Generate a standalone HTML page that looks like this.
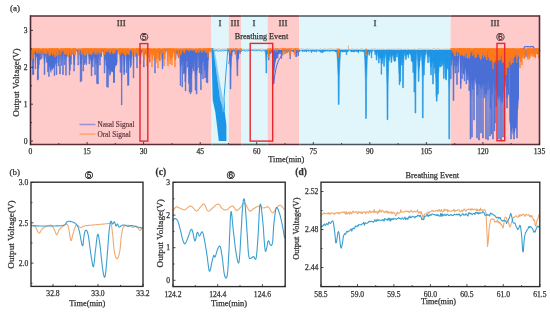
<!DOCTYPE html>
<html><head><meta charset="utf-8"><style>
html,body{margin:0;padding:0;background:#fff;}
svg{display:block;}
text{font-family:"Liberation Serif","Noto Serif CJK SC",serif;fill:#333;stroke:#333;stroke-width:0.25px;}
text.cj.cja{fill:#3a2226;stroke:#3a2226;stroke-width:0.2px;}
text.lg{fill:#5a3338;stroke:#5a3338;stroke-width:0.15px;}
text.cj{font-family:"WenQuanYi Zen Hei","Noto Sans CJK JP",sans-serif;fill:#222;stroke:#222;stroke-width:0.3px;}
</style></head><body>
<svg width="550" height="313" viewBox="0 0 550 313">
<rect x="30.5" y="16.0" width="181.0" height="128.5" fill="#fecaca"/>
<rect x="211.5" y="16.0" width="17.3" height="128.5" fill="#e0f6fb"/>
<rect x="228.8" y="16.0" width="12.4" height="128.5" fill="#fecaca"/>
<rect x="241.2" y="16.0" width="26.4" height="128.5" fill="#e0f6fb"/>
<rect x="267.6" y="16.0" width="31.7" height="128.5" fill="#fecaca"/>
<rect x="299.3" y="16.0" width="151.3" height="128.5" fill="#e0f6fb"/>
<rect x="450.6" y="16.0" width="88.9" height="128.5" fill="#fecaca"/>
<polyline points="30.5,50.8 31.3,50.8 32.1,50.4 32.9,50.9 33.7,50.5 34.5,51.1 35.3,51.0 36.1,50.8 36.9,50.9 37.7,50.6 38.5,50.8 39.3,50.2 40.1,51.1 40.9,50.9 41.7,50.2 42.5,50.3 43.3,50.7 44.1,50.9 44.9,50.2 45.7,51.1 46.5,50.4 47.3,51.1 48.1,50.9 48.9,50.6 49.7,50.5 50.5,50.2 51.3,50.2 52.1,50.7 52.9,50.9 53.7,51.0 54.5,50.5 55.3,51.0 56.1,50.4 56.9,51.0 57.7,51.0 58.5,50.3 59.3,51.0 60.1,50.8 60.9,50.8 61.7,50.9 62.5,50.6 63.3,50.6 64.1,50.5 64.9,51.0 65.7,51.0 66.5,50.3 67.3,50.9 68.1,50.4 68.9,50.3 69.7,50.3 70.5,50.7 71.3,50.4 72.1,50.3 72.9,50.2 73.7,50.4 74.5,50.9 75.3,50.1 76.1,50.6 76.9,50.7 77.7,50.1 78.5,50.4 79.3,51.0 80.1,51.1 80.9,51.0 81.7,50.3 82.5,50.9 83.3,50.6 84.1,50.3 84.9,50.6 85.7,51.0 86.5,51.0 87.3,50.5 88.1,50.2 88.9,51.0 89.7,51.1 90.5,50.6 91.3,50.3 92.1,50.6 92.9,50.8 93.7,50.6 94.5,50.5 95.3,50.3 96.1,50.4 96.9,50.1 97.7,50.4 98.5,51.1 99.3,50.1 100.1,50.8 100.9,50.9 101.7,50.5 102.5,50.7 103.3,50.3 104.1,50.8 104.9,50.8 105.7,50.8 106.5,50.6 107.3,51.1 108.1,51.0 108.9,50.7 109.7,50.8 110.5,50.4 111.3,51.0 112.1,50.7 112.9,51.0 113.7,50.4 114.5,51.1 115.3,50.2 116.1,50.6 116.9,50.2 117.7,50.3 118.5,50.9 119.3,50.2 120.1,50.5 120.9,50.3 121.7,51.0 122.5,50.2 123.3,50.4 124.1,51.0 124.9,50.8 125.7,50.8 126.5,51.1 127.3,50.1 128.1,50.8 128.9,50.8 129.7,50.8 130.5,50.8 131.3,50.2 132.1,50.2 132.9,50.9 133.7,50.7 134.5,50.4 135.3,50.1 136.1,50.6 136.9,50.2 137.7,50.8 138.5,50.4 139.3,50.9 140.1,50.2 140.9,50.6 141.7,50.2 142.5,50.9 143.3,50.7 144.1,50.3 144.9,51.1 145.7,50.8 146.5,50.4 147.3,51.0 148.1,50.5 148.9,51.0 149.7,50.4 150.5,51.1 151.3,50.2 152.1,50.8 152.9,50.4 153.7,50.5 154.5,50.7 155.3,50.1 156.1,50.3 156.9,50.2 157.7,50.8 158.5,50.3 159.3,50.6 160.1,50.4 160.9,50.3 161.7,51.0 162.5,50.6 163.3,50.8 164.1,50.8 164.9,50.9 165.7,50.4 166.5,50.2 167.3,50.6 168.1,50.3 168.9,50.1 169.7,51.0 170.5,50.7 171.3,50.5 172.1,50.2 172.9,50.9 173.7,50.6 174.5,50.3 175.3,51.1 176.1,51.1 176.9,51.0 177.7,50.9 178.5,50.6 179.3,50.4 180.1,50.8 180.9,50.3 181.7,50.7 182.5,50.2 183.3,50.1 184.1,50.8 184.9,50.4 185.7,50.8 186.5,50.9 187.3,50.9 188.1,50.7 188.9,50.9 189.7,50.8 190.5,51.0 191.3,51.0 192.1,50.1 192.9,50.4 193.7,50.5 194.5,50.4 195.3,50.3 196.1,51.0 196.9,50.1 197.7,50.3 198.5,50.9 199.3,50.3 200.1,50.4 200.9,51.1 201.7,50.9 202.5,50.5 203.3,50.2 204.1,50.4 204.9,51.1 205.7,50.9 206.5,50.2 207.3,50.8 208.1,50.5 208.9,50.8 209.7,50.4 210.5,50.2 211.3,50.1 212.1,50.4" fill="none" stroke="#4a6fd6" stroke-width="1.2"/>
<polyline points="211.3,50.1 212.1,50.4 212.9,51.0 213.7,51.0 214.5,50.8 215.3,50.8 216.1,50.3 216.9,50.5 217.7,51.0 218.5,51.1 219.3,50.5 220.1,50.9 220.9,51.0 221.7,51.1 222.5,50.4 223.3,50.8 224.1,50.5 224.9,50.6 225.7,50.6 226.5,50.4 227.3,50.1 228.1,50.9 228.9,50.8" fill="none" stroke="#1e96e6" stroke-width="1.0"/>
<polyline points="228.1,50.9 228.9,50.8 229.7,50.9 230.5,50.3 231.3,50.3 232.1,50.7 232.9,51.0 233.7,50.6 234.5,50.3 235.3,50.7 236.1,51.1 236.9,51.0 237.7,51.0 238.5,50.5 239.3,50.4 240.1,51.0 240.9,50.9 241.7,51.0" fill="none" stroke="#4a6fd6" stroke-width="1.2"/>
<polyline points="240.9,50.9 241.7,51.0 242.5,50.5 243.3,50.4 244.1,50.3 244.9,51.0 245.7,51.0 246.5,50.5 247.3,51.0 248.1,50.5 248.9,50.5 249.7,50.7 250.5,50.3 251.3,50.4 252.1,50.4 252.9,50.4 253.7,50.6 254.5,50.2 255.3,50.9 256.1,50.3 256.9,50.5 257.7,50.7 258.5,50.2 259.3,50.5 260.1,50.7 260.9,50.7 261.7,51.0 262.5,50.9 263.3,50.2 264.1,50.9 264.9,50.6 265.7,50.8 266.5,50.3 267.3,50.6 268.1,50.8" fill="none" stroke="#1e96e6" stroke-width="1.0"/>
<polyline points="267.3,50.6 268.1,50.8 268.9,50.9 269.7,50.9 270.5,50.3 271.3,50.9 272.1,50.7 272.9,50.8 273.7,51.0 274.5,50.5 275.3,51.0 276.1,51.0 276.9,50.9 277.7,50.5 278.5,50.6 279.3,50.3 280.1,50.9 280.9,51.0 281.7,50.3 282.5,50.8 283.3,50.8 284.1,50.1 284.9,51.0 285.7,50.6 286.5,50.4 287.3,50.1 288.1,50.9 288.9,50.4 289.7,50.6 290.5,50.3 291.3,50.7 292.1,50.5 292.9,50.9 293.7,50.8 294.5,50.8 295.3,50.4 296.1,50.2 296.9,51.0 297.7,51.0 298.5,50.7 299.3,51.0" fill="none" stroke="#4a6fd6" stroke-width="1.2"/>
<polyline points="298.5,50.7 299.3,51.0 300.1,50.8 300.9,50.7 301.7,50.5 302.5,50.5 303.3,50.6 304.1,50.3 304.9,50.5 305.7,50.6 306.5,50.1 307.3,50.5 308.1,50.4 308.9,50.7 309.7,50.9 310.5,50.7 311.3,50.8 312.1,50.7 312.9,50.4 313.7,50.5 314.5,50.9 315.3,51.0 316.1,50.3 316.9,50.1 317.7,51.1 318.5,51.0 319.3,50.7 320.1,50.9 320.9,50.7 321.7,51.0 322.5,50.3 323.3,50.5 324.1,50.8 324.9,50.3 325.7,50.8 326.5,50.4 327.3,50.8 328.1,50.9 328.9,50.5 329.7,51.1 330.5,50.7 331.3,50.9 332.1,50.1 332.9,50.2 333.7,50.8 334.5,51.0 335.3,50.7 336.1,51.0 336.9,50.2 337.7,51.0 338.5,51.0 339.3,50.7 340.1,50.5 340.9,50.8 341.7,50.3 342.5,50.8 343.3,50.8 344.1,50.6 344.9,50.4 345.7,50.1 346.5,50.3 347.3,50.9 348.1,50.3 348.9,50.2 349.7,50.3 350.5,50.6 351.3,50.7 352.1,51.0 352.9,51.0 353.7,51.1 354.5,51.0 355.3,50.6 356.1,50.2 356.9,51.1 357.7,50.3 358.5,50.7 359.3,50.4 360.1,50.9 360.9,50.3 361.7,50.5 362.5,50.3 363.3,51.0 364.1,50.7 364.9,50.7 365.7,50.4 366.5,50.3 367.3,51.0 368.1,50.9 368.9,50.8 369.7,51.1 370.5,50.7 371.3,50.3 372.1,50.7 372.9,50.4 373.7,50.6 374.5,50.6 375.3,50.7 376.1,51.0 376.9,50.9 377.7,50.5 378.5,50.9 379.3,51.0 380.1,50.9 380.9,50.7 381.7,51.0 382.5,50.6 383.3,50.2 384.1,50.4 384.9,50.8 385.7,50.5 386.5,50.5 387.3,50.5 388.1,50.3 388.9,50.2 389.7,50.1 390.5,50.8 391.3,50.4 392.1,50.6 392.9,51.0 393.7,50.7 394.5,50.9 395.3,50.9 396.1,51.1 396.9,50.2 397.7,50.5 398.5,51.0 399.3,50.6 400.1,51.0 400.9,50.3 401.7,50.2 402.5,51.0 403.3,50.5 404.1,50.6 404.9,51.0 405.7,50.3 406.5,51.1 407.3,50.5 408.1,50.3 408.9,50.3 409.7,50.6 410.5,50.6 411.3,51.0 412.1,50.2 412.9,50.1 413.7,50.3 414.5,50.7 415.3,50.9 416.1,50.6 416.9,50.7 417.7,50.7 418.5,50.1 419.3,50.3 420.1,51.1 420.9,50.4 421.7,51.0 422.5,50.6 423.3,50.3 424.1,50.1 424.9,50.3 425.7,50.4 426.5,50.5 427.3,50.5 428.1,50.6 428.9,50.6 429.7,50.1 430.5,50.4 431.3,51.1 432.1,50.1 432.9,50.8 433.7,50.6 434.5,50.8 435.3,50.4 436.1,50.5 436.9,50.6 437.7,51.0 438.5,50.4 439.3,50.2 440.1,50.1 440.9,51.0 441.7,50.4 442.5,50.2 443.3,50.7 444.1,50.9 444.9,50.7 445.7,50.3 446.5,50.5 447.3,50.4 448.1,50.1 448.9,51.1 449.7,50.6 450.5,50.2 451.3,51.0" fill="none" stroke="#1e96e6" stroke-width="1.0"/>
<polyline points="450.5,50.2 451.3,51.0 452.1,51.1 452.9,50.9 453.7,50.4 454.5,50.3 455.3,50.6 456.1,50.7 456.9,51.0 457.7,51.1 458.5,51.0 459.3,50.4 460.1,50.7 460.9,50.2 461.7,50.6 462.5,50.2 463.3,50.2 464.1,50.2 464.9,50.4 465.7,50.4 466.5,50.8 467.3,50.2 468.1,50.2 468.9,50.8 469.7,50.8 470.5,50.8 471.3,50.8 472.1,50.8 472.9,50.7 473.7,50.8 474.5,50.2 475.3,50.3 476.1,50.8 476.9,50.3 477.7,50.6 478.5,50.4 479.3,50.5 480.1,50.9 480.9,50.8 481.7,50.5 482.5,50.4 483.3,50.9 484.1,50.8 484.9,50.5 485.7,51.0 486.5,50.8 487.3,51.1 488.1,50.8 488.9,51.0 489.7,50.7 490.5,50.8 491.3,50.9 492.1,50.2 492.9,50.6 493.7,50.7 494.5,50.2 495.3,50.9 496.1,50.8 496.9,51.0 497.7,50.5 498.5,50.6 499.3,51.0 500.1,50.5 500.9,50.9 501.7,50.5 502.5,50.4 503.3,50.4 504.1,50.3 504.9,50.5 505.7,50.3 506.5,50.9 507.3,51.1 508.1,50.2 508.9,50.2 509.7,50.1 510.5,51.0 511.3,50.2 512.1,50.8 512.9,50.4 513.7,50.3 514.5,50.3 515.3,50.8 516.1,50.1 516.9,51.0 517.7,50.7 518.5,50.3 519.3,50.3 520.1,50.8 520.9,50.7 521.7,50.4 522.5,50.4 523.3,50.6 524.1,51.0 524.9,50.6 525.7,50.9 526.5,50.7 527.3,50.7 528.1,50.6 528.9,50.8 529.7,50.6 530.5,50.8 531.3,50.3 532.1,50.4 532.9,51.0 533.7,50.5 534.5,50.9 535.3,51.0 536.1,50.7 536.9,50.2 537.7,50.9 538.5,50.8 539.3,50.4" fill="none" stroke="#4a6fd6" stroke-width="1.2"/>
<polygon points="47.5,51.0 47.5,64.2 48.0,61.1 48.4,63.2 49.0,68.6 49.3,65.0 49.9,69.3 50.5,72.1 51.2,73.2 51.9,67.7 52.3,71.3 53.1,68.3 53.6,68.6 54.1,66.5 54.6,65.1 54.9,66.0 55.4,65.5 55.5,64.0 55.5,51.0" fill="#4a6fd6"/>
<polygon points="105.5,51.0 105.5,64.7 106.0,65.8 106.5,66.0 107.2,66.7 107.7,69.8 108.0,70.2 108.4,68.4 109.0,73.1 109.8,69.0 110.2,70.7 110.7,70.0 111.4,72.1 112.0,71.7 112.6,71.9 113.3,73.2 114.1,72.5 114.5,69.9 115.1,68.3 115.8,64.9 116.2,65.7 116.5,64.8 116.9,66.1 117.4,61.7 117.5,62.0 117.5,51.0" fill="#4a6fd6"/>
<polygon points="463.0,51.0 463.0,60.7 463.3,57.9 463.9,60.1 464.4,66.9 464.9,64.8 465.5,71.5 465.8,68.5 466.3,77.1 466.6,71.3 467.0,76.3 467.7,70.1 468.4,79.2 468.8,82.6 469.3,82.0 469.6,78.7 470.2,84.8 470.9,80.8 471.2,79.6 471.7,86.5 472.3,79.6 472.8,84.1 473.2,84.9 473.8,80.5 474.5,80.3 474.8,80.6 475.2,76.8 475.7,85.8 476.1,82.1 476.9,86.5 477.6,85.2 478.2,84.5 478.8,83.5 479.3,81.1 479.6,82.8 480.3,85.5 480.7,88.9 481.0,90.5 481.6,86.4 482.1,89.8 482.4,79.9 483.0,82.9 483.5,85.4 483.8,90.6 484.5,79.5 485.1,84.3 485.8,86.3 486.6,78.4 487.4,82.1 487.8,80.6 488.3,86.6 488.8,76.4 489.5,81.2 490.2,75.5 490.9,85.3 491.2,80.1 491.6,80.6 491.9,84.7 492.3,82.6 492.9,79.7 493.3,87.7 493.7,80.4 494.1,85.3 494.6,80.6 495.2,89.1 495.9,87.6 496.0,88.0 496.0,51.0" fill="#4a6fd6"/>
<polygon points="496.5,51.0 496.5,84.1 497.1,93.2 497.6,98.6 498.0,98.0 498.6,100.9 499.4,95.2 500.2,98.6 500.8,104.1 501.4,98.7 501.7,98.4 502.2,95.2 502.7,101.4 503.3,97.5 503.7,91.8 504.4,88.4 505.0,92.0 505.0,51.0" fill="#4a6fd6"/>
<polygon points="505.0,51.0 505.0,79.3 505.5,83.1 506.0,85.8 506.5,91.2 507.0,88.5 507.5,89.6 508.0,95.4 508.7,94.0 509.2,102.5 509.3,100.0 509.3,51.0" fill="#4a6fd6"/>
<polygon points="509.3,51.0 509.3,125.4 510.0,119.9 510.5,128.9 511.0,130.1 511.8,133.0 512.4,135.3 512.9,126.7 513.3,132.3 514.1,132.0 514.6,135.7 515.1,127.8 515.6,128.6 516.0,132.1 516.6,128.4 517.0,124.1 517.7,110.6 518.2,108.9 518.7,99.1 519.0,100.0 519.0,51.0" fill="#4a6fd6"/>
<polygon points="31.9,50.5 32.1,58.3 32.4,64.2 32.6,69.6 32.5,74.6 33.2,74.6 33.1,69.6 33.3,64.2 33.6,58.3 33.8,50.5" fill="#4a6fd6" stroke="#4a6fd6" stroke-width="0.6"/>
<polygon points="33.0,50.5 33.2,55.6 33.3,61.5 33.4,67.8 33.2,74.3 33.9,74.3 33.7,67.8 33.8,61.5 33.9,55.6 34.1,50.5" fill="#4a6fd6" stroke="#4a6fd6" stroke-width="0.6"/>
<polygon points="34.8,50.5 35.0,56.2 35.1,60.6 35.3,64.8 35.1,68.7 35.8,68.7 35.6,64.8 35.8,60.6 36.0,56.2 36.1,50.5" fill="#4a6fd6" stroke="#4a6fd6" stroke-width="0.6"/>
<polygon points="37.7,50.5 37.9,55.1 38.1,59.6 38.3,64.0 38.1,68.4 38.8,68.4 38.7,64.0 38.9,59.6 39.1,55.1 39.3,50.5" fill="#4a6fd6" stroke="#4a6fd6" stroke-width="0.6"/>
<polygon points="48.3,50.5 48.5,59.3 48.6,65.6 48.8,71.2 48.6,76.5 49.3,76.5 49.1,71.2 49.3,65.6 49.4,59.3 49.6,50.5" fill="#4a6fd6" stroke="#4a6fd6" stroke-width="0.6"/>
<polygon points="51.4,50.5 51.5,53.8 51.6,56.9 51.8,59.9 51.5,62.9 52.2,62.9 52.0,59.9 52.2,56.9 52.3,53.8 52.4,50.5" fill="#4a6fd6" stroke="#4a6fd6" stroke-width="0.6"/>
<polygon points="53.6,50.5 53.8,57.2 54.0,63.4 54.2,69.6 54.1,75.6 54.8,75.6 54.7,69.6 54.9,63.4 55.1,57.2 55.3,50.5" fill="#4a6fd6" stroke="#4a6fd6" stroke-width="0.6"/>
<polygon points="57.9,50.5 58.0,55.6 58.2,59.4 58.3,62.8 58.1,66.0 58.8,66.0 58.5,62.8 58.7,59.4 58.8,55.6 58.9,50.5" fill="#4a6fd6" stroke="#4a6fd6" stroke-width="0.6"/>
<polygon points="61.1,50.5 61.2,56.1 61.4,59.6 61.6,62.6 61.4,65.3 62.1,65.3 62.0,62.6 62.1,59.6 62.3,56.1 62.5,50.5" fill="#4a6fd6" stroke="#4a6fd6" stroke-width="0.6"/>
<polygon points="64.1,50.5 64.3,53.4 64.5,56.9 64.6,60.7 64.4,64.7 65.1,64.7 65.0,60.7 65.1,56.9 65.3,53.4 65.5,50.5" fill="#4a6fd6" stroke="#4a6fd6" stroke-width="0.6"/>
<polygon points="68.6,50.5 68.8,56.0 69.0,62.1 69.3,68.3 69.1,74.8 69.8,74.8 69.7,68.3 69.9,62.1 70.1,56.0 70.4,50.5" fill="#4a6fd6" stroke="#4a6fd6" stroke-width="0.6"/>
<polygon points="69.2,50.5 69.4,54.6 69.6,59.5 69.8,64.8 69.6,70.3 70.3,70.3 70.2,64.8 70.4,59.5 70.6,54.6 70.8,50.5" fill="#4a6fd6" stroke="#4a6fd6" stroke-width="0.6"/>
<polygon points="73.5,50.5 73.6,56.5 73.8,61.6 73.9,66.5 73.7,71.1 74.4,71.1 74.2,66.5 74.3,61.6 74.4,56.5 74.6,50.5" fill="#4a6fd6" stroke="#4a6fd6" stroke-width="0.6"/>
<polygon points="73.3,50.5 73.5,54.6 73.8,58.1 74.0,61.4 73.9,64.6 74.6,64.6 74.5,61.4 74.8,58.1 75.0,54.6 75.3,50.5" fill="#4a6fd6" stroke="#4a6fd6" stroke-width="0.6"/>
<polygon points="82.4,50.5 82.6,55.5 82.8,60.6 83.0,65.8 82.9,71.0 83.6,71.0 83.5,65.8 83.7,60.6 83.9,55.5 84.1,50.5" fill="#4a6fd6" stroke="#4a6fd6" stroke-width="0.6"/>
<polygon points="85.6,50.5 85.8,55.0 86.0,58.5 86.2,61.7 86.0,64.6 86.7,64.6 86.6,61.7 86.8,58.5 87.0,55.0 87.1,50.5" fill="#4a6fd6" stroke="#4a6fd6" stroke-width="0.6"/>
<polygon points="88.2,50.5 88.5,54.9 88.8,58.1 89.0,61.1 88.9,63.8 89.6,63.8 89.6,61.1 89.8,58.1 90.1,54.9 90.4,50.5" fill="#4a6fd6" stroke="#4a6fd6" stroke-width="0.6"/>
<polygon points="91.8,50.5 92.1,54.4 92.3,58.5 92.6,62.6 92.5,66.8 93.2,66.8 93.1,62.6 93.4,58.5 93.6,54.4 93.9,50.5" fill="#4a6fd6" stroke="#4a6fd6" stroke-width="0.6"/>
<polygon points="93.9,50.5 94.2,55.4 94.5,61.4 94.7,67.9 94.7,74.7 95.4,74.7 95.3,67.9 95.5,61.4 95.8,55.4 96.1,50.5" fill="#4a6fd6" stroke="#4a6fd6" stroke-width="0.6"/>
<polygon points="96.9,50.5 97.1,53.3 97.2,56.8 97.4,60.5 97.2,64.5 97.9,64.5 97.7,60.5 97.8,56.8 98.0,53.3 98.1,50.5" fill="#4a6fd6" stroke="#4a6fd6" stroke-width="0.6"/>
<polygon points="98.9,50.5 99.2,54.0 99.4,57.7 99.7,61.4 99.6,65.1 100.3,65.1 100.2,61.4 100.5,57.7 100.7,54.0 101.0,50.5" fill="#4a6fd6" stroke="#4a6fd6" stroke-width="0.6"/>
<polygon points="109.0,50.5 109.2,56.1 109.4,60.4 109.6,64.3 109.4,67.9 110.1,67.9 110.0,64.3 110.2,60.4 110.3,56.1 110.5,50.5" fill="#4a6fd6" stroke="#4a6fd6" stroke-width="0.6"/>
<polygon points="109.1,50.5 109.3,56.9 109.5,63.1 109.6,69.2 109.5,75.2 110.2,75.2 110.0,69.2 110.2,63.1 110.4,56.9 110.6,50.5" fill="#4a6fd6" stroke="#4a6fd6" stroke-width="0.6"/>
<polygon points="109.8,50.5 109.9,57.2 110.1,62.9 110.2,68.2 110.0,73.4 110.7,73.4 110.5,68.2 110.6,62.9 110.7,57.2 110.8,50.5" fill="#4a6fd6" stroke="#4a6fd6" stroke-width="0.6"/>
<polygon points="109.6,50.5 109.8,53.8 110.1,57.2 110.4,60.7 110.3,64.2 111.0,64.2 110.9,60.7 111.2,57.2 111.5,53.8 111.7,50.5" fill="#4a6fd6" stroke="#4a6fd6" stroke-width="0.6"/>
<polygon points="111.9,50.5 112.1,56.3 112.4,61.2 112.6,65.7 112.6,70.1 113.3,70.1 113.2,65.7 113.4,61.2 113.7,56.3 113.9,50.5" fill="#4a6fd6" stroke="#4a6fd6" stroke-width="0.6"/>
<polygon points="119.6,50.5 119.8,56.3 120.0,61.7 120.2,67.0 120.0,72.3 120.7,72.3 120.5,67.0 120.7,61.7 120.9,56.3 121.1,50.5" fill="#4a6fd6" stroke="#4a6fd6" stroke-width="0.6"/>
<polygon points="123.6,50.5 123.7,55.3 123.9,61.2 124.0,67.6 123.8,74.5 124.5,74.5 124.3,67.6 124.5,61.2 124.6,55.3 124.8,50.5" fill="#4a6fd6" stroke="#4a6fd6" stroke-width="0.6"/>
<polygon points="123.2,50.5 123.4,58.0 123.7,63.3 123.9,68.0 123.8,72.3 124.5,72.3 124.4,68.0 124.7,63.3 124.9,58.0 125.2,50.5" fill="#4a6fd6" stroke="#4a6fd6" stroke-width="0.6"/>
<polygon points="125.9,50.5 126.1,55.9 126.2,61.4 126.3,67.0 126.1,72.6 126.8,72.6 126.6,67.0 126.7,61.4 126.8,55.9 127.0,50.5" fill="#4a6fd6" stroke="#4a6fd6" stroke-width="0.6"/>
<polygon points="129.5,50.5 129.7,56.0 130.0,60.2 130.2,64.0 130.1,67.5 130.8,67.5 130.7,64.0 130.9,60.2 131.1,56.0 131.4,50.5" fill="#4a6fd6" stroke="#4a6fd6" stroke-width="0.6"/>
<polygon points="130.5,50.5 130.6,54.9 130.8,58.6 130.9,62.1 130.7,65.3 131.4,65.3 131.2,62.1 131.4,58.6 131.5,54.9 131.7,50.5" fill="#4a6fd6" stroke="#4a6fd6" stroke-width="0.6"/>
<polygon points="139.7,50.5 139.9,54.6 140.0,57.8 140.2,60.8 140.0,63.6 140.7,63.6 140.6,60.8 140.7,57.8 140.9,54.6 141.1,50.5" fill="#4a6fd6" stroke="#4a6fd6" stroke-width="0.6"/>
<polygon points="148.8,50.5 149.0,53.1 149.2,55.9 149.4,58.9 149.2,61.9 149.9,61.9 149.7,58.9 149.9,55.9 150.1,53.1 150.3,50.5" fill="#4a6fd6" stroke="#4a6fd6" stroke-width="0.6"/>
<polygon points="158.9,50.5 159.1,52.9 159.3,55.3 159.5,57.8 159.3,60.2 160.0,60.2 159.8,57.8 160.0,55.3 160.2,52.9 160.4,50.5" fill="#4a6fd6" stroke="#4a6fd6" stroke-width="0.6"/>
<polygon points="170.1,50.5 170.4,52.8 170.6,54.7 170.8,56.4 170.7,57.9 171.4,57.9 171.3,56.4 171.5,54.7 171.8,52.8 172.0,50.5" fill="#4a6fd6" stroke="#4a6fd6" stroke-width="0.6"/>
<polygon points="174.7,50.5 174.9,52.8 175.1,54.8 175.4,56.8 175.3,58.7 176.0,58.7 175.9,56.8 176.1,54.8 176.4,52.8 176.6,50.5" fill="#4a6fd6" stroke="#4a6fd6" stroke-width="0.6"/>
<polygon points="181.3,50.5 181.5,57.5 181.8,66.5 182.0,76.4 181.9,87.0 182.6,87.0 182.5,76.4 182.7,66.5 183.0,57.5 183.2,50.5" fill="#4a6fd6" stroke="#4a6fd6" stroke-width="0.6"/>
<polygon points="184.6,50.5 184.8,61.9 185.0,69.3 185.1,75.7 184.9,81.6 185.6,81.6 185.4,75.7 185.6,69.3 185.8,61.9 185.9,50.5" fill="#4a6fd6" stroke="#4a6fd6" stroke-width="0.6"/>
<polygon points="184.5,50.5 184.8,64.7 185.0,74.4 185.3,83.0 185.2,90.9 185.9,90.9 185.8,83.0 186.1,74.4 186.4,64.7 186.7,50.5" fill="#4a6fd6" stroke="#4a6fd6" stroke-width="0.6"/>
<polygon points="188.0,50.5 188.2,58.4 188.4,66.6 188.6,74.9 188.5,83.3 189.2,83.3 189.1,74.9 189.3,66.6 189.6,58.4 189.8,50.5" fill="#4a6fd6" stroke="#4a6fd6" stroke-width="0.6"/>
<polygon points="188.6,50.5 188.8,60.7 189.0,71.1 189.2,81.6 189.1,92.1 189.8,92.1 189.7,81.6 189.9,71.1 190.1,60.7 190.3,50.5" fill="#4a6fd6" stroke="#4a6fd6" stroke-width="0.6"/>
<polygon points="190.5,50.5 190.6,58.4 190.7,65.3 190.9,71.8 190.7,78.2 191.4,78.2 191.2,71.8 191.3,65.3 191.4,58.4 191.6,50.5" fill="#4a6fd6" stroke="#4a6fd6" stroke-width="0.6"/>
<polygon points="194.4,50.5 194.6,64.4 194.9,74.0 195.1,82.4 195.0,90.1 195.7,90.1 195.6,82.4 195.9,74.0 196.2,64.4 196.4,50.5" fill="#4a6fd6" stroke="#4a6fd6" stroke-width="0.6"/>
<polygon points="199.8,50.5 200.1,60.8 200.3,70.7 200.6,80.3 200.6,89.7 201.3,89.7 201.2,80.3 201.5,70.7 201.7,60.8 202.0,50.5" fill="#4a6fd6" stroke="#4a6fd6" stroke-width="0.6"/>
<polygon points="205.8,50.5 206.0,59.1 206.1,64.5 206.2,69.2 206.0,73.4 206.7,73.4 206.5,69.2 206.6,64.5 206.7,59.1 206.9,50.5" fill="#4a6fd6" stroke="#4a6fd6" stroke-width="0.6"/>
<polygon points="205.8,50.5 206.0,57.2 206.2,63.7 206.3,70.2 206.1,76.7 206.8,76.7 206.6,70.2 206.8,63.7 206.9,57.2 207.1,50.5" fill="#4a6fd6" stroke="#4a6fd6" stroke-width="0.6"/>
<polygon points="205.9,50.5 206.1,58.0 206.2,66.0 206.4,74.1 206.2,82.3 206.9,82.3 206.7,74.1 206.9,66.0 207.0,58.0 207.2,50.5" fill="#4a6fd6" stroke="#4a6fd6" stroke-width="0.6"/>
<polygon points="205.5,50.5 205.8,57.6 206.0,64.4 206.3,71.0 206.3,77.6 207.0,77.6 206.9,71.0 207.2,64.4 207.5,57.6 207.8,50.5" fill="#4a6fd6" stroke="#4a6fd6" stroke-width="0.6"/>
<polygon points="206.6,50.5 206.9,61.2 207.1,69.1 207.3,76.2 207.2,82.8 207.9,82.8 207.8,76.2 208.0,69.1 208.2,61.2 208.5,50.5" fill="#4a6fd6" stroke="#4a6fd6" stroke-width="0.6"/>
<polygon points="228.9,50.5 229.1,51.6 229.4,53.5 229.6,55.9 229.5,58.7 230.2,58.7 230.1,55.9 230.4,53.5 230.6,51.6 230.8,50.5" fill="#4a6fd6" stroke="#4a6fd6" stroke-width="0.6"/>
<polygon points="231.0,50.5 231.2,51.7 231.3,53.0 231.5,54.3 231.3,55.6 232.0,55.6 231.8,54.3 231.9,53.0 232.1,51.7 232.2,50.5" fill="#4a6fd6" stroke="#4a6fd6" stroke-width="0.6"/>
<polygon points="237.9,50.5 238.1,51.6 238.2,53.5 238.3,55.9 238.1,58.7 238.8,58.7 238.6,55.9 238.8,53.5 238.9,51.6 239.1,50.5" fill="#4a6fd6" stroke="#4a6fd6" stroke-width="0.6"/>
<polygon points="267.7,50.5 267.9,52.5 268.2,54.9 268.5,57.4 268.4,60.0 269.1,60.0 269.1,57.4 269.3,54.9 269.6,52.5 269.9,50.5" fill="#4a6fd6" stroke="#4a6fd6" stroke-width="0.6"/>
<polygon points="275.4,50.5 275.6,52.3 275.9,54.2 276.1,56.2 276.0,58.3 276.7,58.3 276.5,56.2 276.8,54.2 277.0,52.3 277.2,50.5" fill="#4a6fd6" stroke="#4a6fd6" stroke-width="0.6"/>
<polygon points="276.7,50.5 276.9,51.5 277.2,53.2 277.5,55.5 277.4,58.1 278.1,58.1 278.0,55.5 278.3,53.2 278.5,51.5 278.8,50.5" fill="#4a6fd6" stroke="#4a6fd6" stroke-width="0.6"/>
<polygon points="280.3,50.5 280.5,51.4 280.8,53.2 281.1,55.6 281.0,58.4 281.7,58.4 281.6,55.6 281.9,53.2 282.2,51.4 282.5,50.5" fill="#4a6fd6" stroke="#4a6fd6" stroke-width="0.6"/>
<polygon points="281.8,50.5 282.0,51.1 282.2,51.9 282.5,52.7 282.3,53.6 283.0,53.6 282.9,52.7 283.1,51.9 283.4,51.1 283.6,50.5" fill="#4a6fd6" stroke="#4a6fd6" stroke-width="0.6"/>
<polygon points="289.4,50.5 289.6,52.2 289.8,54.2 290.0,56.5 289.8,58.8 290.5,58.8 290.3,56.5 290.5,54.2 290.7,52.2 290.8,50.5" fill="#4a6fd6" stroke="#4a6fd6" stroke-width="0.6"/>
<polygon points="295.5,50.5 295.6,51.6 295.8,53.1 295.9,54.7 295.6,56.5 296.3,56.5 296.1,54.7 296.2,53.1 296.4,51.6 296.5,50.5" fill="#4a6fd6" stroke="#4a6fd6" stroke-width="0.6"/>
<polygon points="295.6,50.5 295.9,51.6 296.2,53.1 296.4,54.7 296.3,56.5 297.0,56.5 297.0,54.7 297.2,53.1 297.5,51.6 297.8,50.5" fill="#4a6fd6" stroke="#4a6fd6" stroke-width="0.6"/>
<polygon points="297.8,50.5 297.9,51.6 298.1,52.8 298.2,54.2 298.0,55.7 298.7,55.7 298.5,54.2 298.6,52.8 298.8,51.6 298.9,50.5" fill="#4a6fd6" stroke="#4a6fd6" stroke-width="0.6"/>
<polygon points="310.5,50.5 310.7,50.7 311.0,51.2 311.2,51.8 311.1,52.5 311.8,52.5 311.7,51.8 312.0,51.2 312.2,50.7 312.5,50.5" fill="#1e96e6" stroke="#1e96e6" stroke-width="0.6"/>
<polygon points="320.1,50.5 320.3,50.9 320.6,51.4 320.8,51.9 320.7,52.5 321.4,52.5 321.4,51.9 321.6,51.4 321.9,50.9 322.1,50.5" fill="#1e96e6" stroke="#1e96e6" stroke-width="0.6"/>
<polygon points="322.3,50.5 322.4,50.7 322.5,51.1 322.7,51.8 322.4,52.8 323.1,52.8 322.9,51.8 323.0,51.1 323.1,50.7 323.2,50.5" fill="#1e96e6" stroke="#1e96e6" stroke-width="0.6"/>
<polygon points="337.9,50.5 338.1,50.9 338.4,51.6 338.7,52.6 338.6,53.8 339.3,53.8 339.2,52.6 339.5,51.6 339.7,50.9 340.0,50.5" fill="#1e96e6" stroke="#1e96e6" stroke-width="0.6"/>
<polygon points="345.4,50.5 345.7,51.1 345.9,52.1 346.2,53.3 346.1,54.6 346.8,54.6 346.8,53.3 347.0,52.1 347.3,51.1 347.6,50.5" fill="#1e96e6" stroke="#1e96e6" stroke-width="0.6"/>
<polygon points="357.5,50.5 357.7,50.7 358.0,51.1 358.2,51.7 358.1,52.6 358.8,52.6 358.7,51.7 359.0,51.1 359.2,50.7 359.4,50.5" fill="#1e96e6" stroke="#1e96e6" stroke-width="0.6"/>
<polygon points="370.6,50.5 370.8,51.2 371.0,52.8 371.3,55.0 371.2,57.9 371.9,57.9 371.7,55.0 372.0,52.8 372.2,51.2 372.4,50.5" fill="#1e96e6" stroke="#1e96e6" stroke-width="0.6"/>
<polygon points="375.2,50.5 375.5,51.4 375.9,53.3 376.2,56.2 376.2,60.0 376.9,60.0 376.9,56.2 377.2,53.3 377.6,51.4 377.9,50.5" fill="#1e96e6" stroke="#1e96e6" stroke-width="0.6"/>
<polygon points="380.3,50.5 380.6,54.0 380.8,59.6 381.1,66.4 381.0,74.2 381.7,74.2 381.6,66.4 381.9,59.6 382.2,54.0 382.4,50.5" fill="#1e96e6" stroke="#1e96e6" stroke-width="0.6"/>
<polygon points="386.6,50.5 387.2,51.0 387.8,52.7 388.3,55.9 388.6,60.6 389.3,60.6 389.5,55.9 390.1,52.7 390.7,51.0 391.3,50.5" fill="#1e96e6" stroke="#1e96e6" stroke-width="0.6"/>
<polygon points="388.9,50.5 389.5,51.8 390.1,54.5 390.8,58.1 391.0,62.5 391.7,62.5 392.0,58.1 392.7,54.5 393.3,51.8 393.9,50.5" fill="#1e96e6" stroke="#1e96e6" stroke-width="0.6"/>
<polygon points="391.6,50.5 392.3,51.2 392.9,53.0 393.5,56.1 393.8,60.4 394.5,60.4 394.7,56.1 395.4,53.0 396.0,51.2 396.6,50.5" fill="#1e96e6" stroke="#1e96e6" stroke-width="0.6"/>
<polygon points="397.8,50.5 398.2,53.0 398.6,58.1 399.0,65.2 399.0,73.9 399.7,73.9 399.8,65.2 400.2,58.1 400.6,53.0 401.0,50.5" fill="#1e96e6" stroke="#1e96e6" stroke-width="0.6"/>
<polygon points="397.5,50.5 398.0,54.3 398.5,61.9 399.0,72.2 399.1,84.7 399.8,84.7 399.9,72.2 400.4,61.9 400.9,54.3 401.4,50.5" fill="#1e96e6" stroke="#1e96e6" stroke-width="0.6"/>
<polygon points="398.6,50.5 399.0,52.4 399.4,58.1 399.8,67.7 399.9,81.4 400.6,81.4 400.7,67.7 401.1,58.1 401.5,52.4 401.9,50.5" fill="#1e96e6" stroke="#1e96e6" stroke-width="0.6"/>
<polygon points="407.3,50.5 407.5,51.0 407.8,52.3 408.1,54.6 408.0,57.7 408.7,57.7 408.6,54.6 408.9,52.3 409.2,51.0 409.5,50.5" fill="#1e96e6" stroke="#1e96e6" stroke-width="0.6"/>
<polygon points="409.1,50.5 409.7,51.1 410.4,53.0 411.0,56.3 411.3,61.2 412.0,61.2 412.3,56.3 413.0,53.0 413.6,51.1 414.3,50.5" fill="#1e96e6" stroke="#1e96e6" stroke-width="0.6"/>
<polygon points="409.4,50.5 410.2,51.7 410.9,53.4 411.7,55.5 412.1,57.8 412.8,57.8 413.2,55.5 413.9,53.4 414.7,51.7 415.4,50.5" fill="#1e96e6" stroke="#1e96e6" stroke-width="0.6"/>
<polygon points="411.4,50.5 411.8,52.0 412.3,56.2 412.7,63.1 412.8,72.5 413.5,72.5 413.6,63.1 414.0,56.2 414.5,52.0 414.9,50.5" fill="#1e96e6" stroke="#1e96e6" stroke-width="0.6"/>
<polygon points="412.9,50.5 413.2,53.2 413.6,61.1 413.9,74.1 413.9,92.1 414.6,92.1 414.5,74.1 414.8,61.1 415.2,53.2 415.5,50.5" fill="#1e96e6" stroke="#1e96e6" stroke-width="0.6"/>
<polygon points="413.9,50.5 414.1,53.9 414.3,60.1 414.5,68.3 414.4,78.0 415.1,78.0 415.0,68.3 415.2,60.1 415.4,53.9 415.6,50.5" fill="#1e96e6" stroke="#1e96e6" stroke-width="0.6"/>
<polygon points="416.9,50.5 417.3,55.9 417.8,63.5 418.2,72.1 418.3,81.5 419.0,81.5 419.1,72.1 419.6,63.5 420.0,55.9 420.5,50.5" fill="#1e96e6" stroke="#1e96e6" stroke-width="0.6"/>
<polygon points="420.9,50.5 421.3,52.5 421.7,56.0 422.1,60.3 422.2,65.2 422.9,65.2 423.0,60.3 423.4,56.0 423.8,52.5 424.2,50.5" fill="#1e96e6" stroke="#1e96e6" stroke-width="0.6"/>
<polygon points="421.8,50.5 422.3,51.9 422.8,54.1 423.3,56.7 423.4,59.5 424.1,59.5 424.2,56.7 424.7,54.1 425.2,51.9 425.6,50.5" fill="#1e96e6" stroke="#1e96e6" stroke-width="0.6"/>
<polygon points="422.1,50.5 422.5,54.1 423.0,59.9 423.5,67.0 423.6,75.1 424.3,75.1 424.4,67.0 424.9,59.9 425.3,54.1 425.8,50.5" fill="#1e96e6" stroke="#1e96e6" stroke-width="0.6"/>
<polygon points="426.1,50.5 426.6,52.1 427.1,54.9 427.5,58.5 427.7,62.7 428.4,62.7 428.5,58.5 429.0,54.9 429.5,52.1 430.0,50.5" fill="#1e96e6" stroke="#1e96e6" stroke-width="0.6"/>
<polygon points="429.0,50.5 429.5,53.2 430.0,58.6 430.5,65.9 430.7,74.9 431.4,74.9 431.5,65.9 432.0,58.6 432.5,53.2 433.0,50.5" fill="#1e96e6" stroke="#1e96e6" stroke-width="0.6"/>
<polygon points="435.2,50.5 435.5,57.8 435.8,68.8 436.1,82.0 436.1,96.7 436.8,96.7 436.7,82.0 437.0,68.8 437.3,57.8 437.6,50.5" fill="#1e96e6" stroke="#1e96e6" stroke-width="0.6"/>
<polygon points="433.9,50.5 434.6,57.5 435.4,69.3 436.1,84.1 436.4,101.2 437.1,101.2 437.5,84.1 438.2,69.3 439.0,57.5 439.7,50.5" fill="#1e96e6" stroke="#1e96e6" stroke-width="0.6"/>
<polygon points="438.7,50.5 439.2,52.1 439.7,55.6 440.1,60.6 440.3,67.0 441.0,67.0 441.1,60.6 441.6,55.6 442.1,52.1 442.5,50.5" fill="#1e96e6" stroke="#1e96e6" stroke-width="0.6"/>
<polygon points="440.5,50.5 440.9,51.3 441.3,53.2 441.7,56.1 441.7,59.9 442.4,59.9 442.4,56.1 442.8,53.2 443.2,51.3 443.5,50.5" fill="#1e96e6" stroke="#1e96e6" stroke-width="0.6"/>
<polygon points="440.6,50.5 441.1,51.3 441.5,53.7 442.0,58.0 442.1,64.1 442.8,64.1 442.9,58.0 443.4,53.7 443.8,51.3 444.3,50.5" fill="#1e96e6" stroke="#1e96e6" stroke-width="0.6"/>
<polygon points="441.4,50.5 442.0,52.5 442.6,58.0 443.3,66.7 443.5,78.5 444.2,78.5 444.5,66.7 445.1,58.0 445.7,52.5 446.4,50.5" fill="#1e96e6" stroke="#1e96e6" stroke-width="0.6"/>
<polygon points="443.5,50.5 444.1,53.9 444.7,60.2 445.3,68.4 445.6,78.0 446.3,78.0 446.5,68.4 447.1,60.2 447.8,53.9 448.4,50.5" fill="#1e96e6" stroke="#1e96e6" stroke-width="0.6"/>
<polygon points="444.9,50.5 445.2,52.1 445.5,57.3 445.8,66.5 445.7,79.9 446.4,79.9 446.4,66.5 446.7,57.3 446.9,52.1 447.2,50.5" fill="#1e96e6" stroke="#1e96e6" stroke-width="0.6"/>
<polygon points="445.2,50.5 445.9,53.4 446.6,57.9 447.4,63.3 447.7,69.3 448.4,69.3 448.8,63.3 449.5,57.9 450.2,53.4 450.9,50.5" fill="#1e96e6" stroke="#1e96e6" stroke-width="0.6"/>
<polygon points="446.5,50.5 447.2,51.6 447.9,54.3 448.7,58.3 449.1,63.4 449.8,63.4 450.1,58.3 450.9,54.3 451.6,51.6 452.3,50.5" fill="#1e96e6" stroke="#1e96e6" stroke-width="0.6"/>
<polygon points="449.8,50.5 450.0,56.8 450.3,63.8 450.6,71.1 450.5,78.7 451.2,78.7 451.1,71.1 451.3,63.8 451.6,56.8 451.9,50.5" fill="#4a6fd6" stroke="#4a6fd6" stroke-width="0.6"/>
<polygon points="454.8,50.5 455.0,55.3 455.2,60.9 455.4,66.8 455.2,73.0 455.9,73.0 455.8,66.8 456.0,60.9 456.2,55.3 456.4,50.5" fill="#4a6fd6" stroke="#4a6fd6" stroke-width="0.6"/>
<polygon points="457.3,50.5 457.6,57.4 457.8,62.8 458.1,67.6 458.0,72.2 458.7,72.2 458.6,67.6 458.8,62.8 459.1,57.4 459.4,50.5" fill="#4a6fd6" stroke="#4a6fd6" stroke-width="0.6"/>
<polygon points="460.2,50.5 460.3,57.4 460.5,65.6 460.6,74.5 460.4,83.8 461.1,83.8 460.9,74.5 461.0,65.6 461.2,57.4 461.3,50.5" fill="#4a6fd6" stroke="#4a6fd6" stroke-width="0.6"/>
<polygon points="459.9,50.5 460.1,60.7 460.3,70.2 460.6,79.3 460.4,88.4 461.1,88.4 461.0,79.3 461.2,70.2 461.4,60.7 461.6,50.5" fill="#4a6fd6" stroke="#4a6fd6" stroke-width="0.6"/>
<polygon points="461.0,50.5 461.2,60.4 461.5,67.2 461.8,73.2 461.7,78.6 462.4,78.6 462.3,73.2 462.6,67.2 462.9,60.4 463.1,50.5" fill="#4a6fd6" stroke="#4a6fd6" stroke-width="0.6"/>
<polygon points="463.1,50.5 463.4,61.6 463.7,68.8 464.0,75.1 464.0,80.8 464.7,80.8 464.6,75.1 464.9,68.8 465.2,61.6 465.6,50.5" fill="#4a6fd6" stroke="#4a6fd6" stroke-width="0.6"/>
<polygon points="465.3,50.5 465.6,62.4 465.8,70.4 466.0,77.4 465.9,83.9 466.6,83.9 466.5,77.4 466.7,70.4 467.0,62.4 467.2,50.5" fill="#4a6fd6" stroke="#4a6fd6" stroke-width="0.6"/>
<polygon points="466.3,50.5 466.5,54.6 466.6,60.2 466.8,66.4 466.6,73.2 467.3,73.2 467.1,66.4 467.3,60.2 467.5,54.6 467.6,50.5" fill="#4a6fd6" stroke="#4a6fd6" stroke-width="0.6"/>
<polygon points="466.3,50.5 466.6,56.6 466.9,63.9 467.1,71.6 467.1,79.7 467.8,79.7 467.7,71.6 468.0,63.9 468.2,56.6 468.5,50.5" fill="#4a6fd6" stroke="#4a6fd6" stroke-width="0.6"/>
<polygon points="468.3,50.5 468.5,59.6 468.7,69.6 469.0,79.9 468.8,90.6 469.5,90.6 469.4,79.9 469.6,69.6 469.8,59.6 470.1,50.5" fill="#4a6fd6" stroke="#4a6fd6" stroke-width="0.6"/>
<polygon points="472.0,50.5 472.2,61.0 472.5,70.7 472.7,80.1 472.6,89.3 473.3,89.3 473.2,80.1 473.5,70.7 473.8,61.0 474.0,50.5" fill="#4a6fd6" stroke="#4a6fd6" stroke-width="0.6"/>
<polygon points="475.2,50.5 475.4,59.3 475.7,67.3 476.0,75.0 475.9,82.4 476.6,82.4 476.5,75.0 476.8,67.3 477.1,59.3 477.3,50.5" fill="#4a6fd6" stroke="#4a6fd6" stroke-width="0.6"/>
<polygon points="476.7,50.5 476.9,63.1 477.2,74.1 477.4,84.6 477.3,94.7 478.0,94.7 477.8,84.6 478.1,74.1 478.3,63.1 478.5,50.5" fill="#4a6fd6" stroke="#4a6fd6" stroke-width="0.6"/>
<polygon points="478.8,50.5 479.1,57.1 479.4,65.3 479.7,74.3 479.7,83.8 480.4,83.8 480.3,74.3 480.6,65.3 480.9,57.1 481.2,50.5" fill="#4a6fd6" stroke="#4a6fd6" stroke-width="0.6"/>
<polygon points="483.9,50.5 484.0,63.4 484.2,75.2 484.3,86.6 484.1,97.7 484.8,97.7 484.6,86.6 484.7,75.2 484.8,63.4 485.0,50.5" fill="#4a6fd6" stroke="#4a6fd6" stroke-width="0.6"/>
<polygon points="484.0,50.5 484.2,59.8 484.5,70.4 484.7,81.6 484.6,93.2 485.3,93.2 485.2,81.6 485.4,70.4 485.7,59.8 485.9,50.5" fill="#4a6fd6" stroke="#4a6fd6" stroke-width="0.6"/>
<polygon points="485.4,50.5 485.6,64.7 485.8,75.4 486.0,85.0 485.8,94.1 486.5,94.1 486.4,85.0 486.6,75.4 486.8,64.7 487.0,50.5" fill="#4a6fd6" stroke="#4a6fd6" stroke-width="0.6"/>
<polygon points="486.5,50.5 486.7,56.0 486.9,64.1 487.1,73.6 487.0,84.0 487.7,84.0 487.5,73.6 487.7,64.1 487.9,56.0 488.2,50.5" fill="#4a6fd6" stroke="#4a6fd6" stroke-width="0.6"/>
<polygon points="487.1,50.5 487.3,59.7 487.5,69.6 487.7,79.7 487.6,90.0 488.3,90.0 488.1,79.7 488.3,69.6 488.5,59.7 488.7,50.5" fill="#4a6fd6" stroke="#4a6fd6" stroke-width="0.6"/>
<polygon points="489.6,50.5 489.8,68.0 490.0,82.3 490.2,95.6 490.0,108.2 490.7,108.2 490.6,95.6 490.8,82.3 491.0,68.0 491.2,50.5" fill="#4a6fd6" stroke="#4a6fd6" stroke-width="0.6"/>
<polygon points="491.1,50.5 491.3,65.8 491.6,76.1 491.8,85.1 491.8,93.4 492.5,93.4 492.4,85.1 492.6,76.1 492.9,65.8 493.2,50.5" fill="#4a6fd6" stroke="#4a6fd6" stroke-width="0.6"/>
<polygon points="494.1,50.5 494.3,62.0 494.6,70.9 494.8,78.9 494.7,86.4 495.4,86.4 495.2,78.9 495.5,70.9 495.7,62.0 495.9,50.5" fill="#4a6fd6" stroke="#4a6fd6" stroke-width="0.6"/>
<polygon points="494.9,50.5 495.1,64.8 495.4,78.7 495.7,92.6 495.7,106.3 496.4,106.3 496.3,92.6 496.6,78.7 496.9,64.8 497.2,50.5" fill="#4a6fd6" stroke="#4a6fd6" stroke-width="0.6"/>
<polygon points="499.2,50.5 499.4,60.5 499.6,70.9 499.8,81.4 499.7,92.0 500.4,92.0 500.2,81.4 500.4,70.9 500.6,60.5 500.8,50.5" fill="#4a6fd6" stroke="#4a6fd6" stroke-width="0.6"/>
<polygon points="500.9,50.5 501.2,57.7 501.4,66.6 501.7,76.3 501.6,86.5 502.3,86.5 502.2,76.3 502.5,66.6 502.8,57.7 503.0,50.5" fill="#4a6fd6" stroke="#4a6fd6" stroke-width="0.6"/>
<polygon points="501.1,50.5 501.4,64.1 501.7,77.2 502.0,90.0 501.9,102.6 502.6,102.6 502.6,90.0 502.8,77.2 503.1,64.1 503.4,50.5" fill="#4a6fd6" stroke="#4a6fd6" stroke-width="0.6"/>
<polygon points="501.7,50.5 501.8,61.6 502.0,74.2 502.2,87.2 502.0,100.7 502.7,100.7 502.5,87.2 502.7,74.2 502.9,61.6 503.0,50.5" fill="#4a6fd6" stroke="#4a6fd6" stroke-width="0.6"/>
<polygon points="506.1,50.5 506.2,62.5 506.4,74.3 506.6,86.1 506.4,97.7 507.1,97.7 507.0,86.1 507.1,74.3 507.3,62.5 507.5,50.5" fill="#4a6fd6" stroke="#4a6fd6" stroke-width="0.6"/>
<polygon points="509.9,50.5 510.1,58.1 510.2,68.8 510.4,81.3 510.2,94.9 510.9,94.9 510.7,81.3 510.9,68.8 511.1,58.1 511.2,50.5" fill="#4a6fd6" stroke="#4a6fd6" stroke-width="0.6"/>
<polygon points="510.2,50.5 510.4,62.2 510.6,70.1 510.7,76.9 510.6,83.2 511.3,83.2 511.1,76.9 511.3,70.1 511.4,62.2 511.6,50.5" fill="#4a6fd6" stroke="#4a6fd6" stroke-width="0.6"/>
<polygon points="514.1,50.5 514.4,65.3 514.6,76.6 514.9,86.9 514.8,96.5 515.5,96.5 515.5,86.9 515.7,76.6 516.0,65.3 516.3,50.5" fill="#4a6fd6" stroke="#4a6fd6" stroke-width="0.6"/>
<polygon points="514.3,50.5 514.5,58.3 514.8,66.1 515.1,73.8 515.0,81.5 515.7,81.5 515.6,73.8 515.9,66.1 516.2,58.3 516.5,50.5" fill="#4a6fd6" stroke="#4a6fd6" stroke-width="0.6"/>
<polygon points="519.3,50.5 519.5,51.7 519.7,53.6 519.9,55.8 519.8,58.4 520.5,58.4 520.4,55.8 520.6,53.6 520.8,51.7 521.0,50.5" fill="#4a6fd6" stroke="#4a6fd6" stroke-width="0.6"/>
<polygon points="522.1,50.5 522.3,51.3 522.4,52.4 522.6,53.7 522.4,55.0 523.1,55.0 522.9,53.7 523.1,52.4 523.3,51.3 523.4,50.5" fill="#4a6fd6" stroke="#4a6fd6" stroke-width="0.6"/>
<polygon points="523.8,50.5 524.0,51.9 524.2,53.4 524.4,55.0 524.2,56.6 524.9,56.6 524.8,55.0 525.0,53.4 525.2,51.9 525.4,50.5" fill="#4a6fd6" stroke="#4a6fd6" stroke-width="0.6"/>
<polygon points="525.0,50.5 525.2,51.0 525.3,51.8 525.5,52.9 525.2,54.2 525.9,54.2 525.7,52.9 525.9,51.8 526.0,51.0 526.2,50.5" fill="#4a6fd6" stroke="#4a6fd6" stroke-width="0.6"/>
<polygon points="525.4,50.5 525.5,51.2 525.6,52.1 525.8,53.1 525.5,54.3 526.2,54.3 526.0,53.1 526.1,52.1 526.3,51.2 526.4,50.5" fill="#4a6fd6" stroke="#4a6fd6" stroke-width="0.6"/>
<polygon points="525.4,50.5 525.6,51.8 525.7,53.3 525.8,54.9 525.6,56.6 526.3,56.6 526.1,54.9 526.2,53.3 526.3,51.8 526.4,50.5" fill="#4a6fd6" stroke="#4a6fd6" stroke-width="0.6"/>
<polygon points="534.2,50.5 534.4,51.2 534.6,52.0 534.8,52.9 534.6,54.0 535.3,54.0 535.2,52.9 535.4,52.0 535.6,51.2 535.8,50.5" fill="#4a6fd6" stroke="#4a6fd6" stroke-width="0.6"/>
<polygon points="32.5,50.5 32.8,51.4 33.0,52.5 33.3,53.7 33.2,55.0 33.9,55.0 33.8,53.7 34.1,52.5 34.3,51.4 34.6,50.5" fill="#4a6fd6" stroke="#4a6fd6" stroke-width="0.6"/>
<polygon points="33.4,50.5 33.6,51.3 33.8,52.1 34.0,53.0 33.9,53.8 34.6,53.8 34.4,53.0 34.7,52.1 34.9,51.3 35.1,50.5" fill="#4a6fd6" stroke="#4a6fd6" stroke-width="0.6"/>
<polygon points="35.4,50.5 35.6,51.6 35.9,52.8 36.2,54.2 36.1,55.7 36.8,55.7 36.7,54.2 37.0,52.8 37.2,51.6 37.5,50.5" fill="#4a6fd6" stroke="#4a6fd6" stroke-width="0.6"/>
<polygon points="36.4,50.5 36.5,51.8 36.6,53.4 36.7,55.1 36.5,56.8 37.2,56.8 36.9,55.1 37.0,53.4 37.1,51.8 37.2,50.5" fill="#4a6fd6" stroke="#4a6fd6" stroke-width="0.6"/>
<polygon points="38.1,50.5 38.3,53.8 38.5,57.3 38.7,60.9 38.6,64.5 39.3,64.5 39.2,60.9 39.4,57.3 39.6,53.8 39.8,50.5" fill="#4a6fd6" stroke="#4a6fd6" stroke-width="0.6"/>
<polygon points="38.8,50.5 39.0,52.8 39.3,55.1 39.6,57.4 39.5,59.8 40.2,59.8 40.1,57.4 40.4,55.1 40.6,52.8 40.9,50.5" fill="#4a6fd6" stroke="#4a6fd6" stroke-width="0.6"/>
<polygon points="40.3,50.5 40.4,52.5 40.5,54.6 40.7,56.9 40.4,59.2 41.1,59.2 40.9,56.9 41.0,54.6 41.1,52.5 41.2,50.5" fill="#4a6fd6" stroke="#4a6fd6" stroke-width="0.6"/>
<polygon points="40.9,50.5 41.1,52.2 41.4,54.1 41.6,56.1 41.5,58.2 42.2,58.2 42.1,56.1 42.3,54.1 42.6,52.2 42.8,50.5" fill="#4a6fd6" stroke="#4a6fd6" stroke-width="0.6"/>
<polygon points="42.2,50.5 42.3,51.8 42.4,52.7 42.5,53.5 42.3,54.3 43.0,54.3 42.8,53.5 42.9,52.7 43.0,51.8 43.2,50.5" fill="#4a6fd6" stroke="#4a6fd6" stroke-width="0.6"/>
<polygon points="43.6,50.5 43.9,53.0 44.2,55.0 44.4,56.8 44.3,58.6 45.0,58.6 44.9,56.8 45.2,55.0 45.5,53.0 45.7,50.5" fill="#4a6fd6" stroke="#4a6fd6" stroke-width="0.6"/>
<polygon points="46.0,50.5 46.3,53.6 46.5,56.3 46.8,58.9 46.7,61.4 47.4,61.4 47.3,58.9 47.5,56.3 47.8,53.6 48.0,50.5" fill="#4a6fd6" stroke="#4a6fd6" stroke-width="0.6"/>
<polygon points="46.5,50.5 46.6,54.7 46.8,57.6 46.9,60.2 46.7,62.6 47.4,62.6 47.2,60.2 47.3,57.6 47.5,54.7 47.6,50.5" fill="#4a6fd6" stroke="#4a6fd6" stroke-width="0.6"/>
<polygon points="49.1,50.5 49.2,54.0 49.4,56.7 49.5,59.2 49.3,61.6 50.0,61.6 49.8,59.2 49.9,56.7 50.1,54.0 50.2,50.5" fill="#4a6fd6" stroke="#4a6fd6" stroke-width="0.6"/>
<polygon points="51.2,50.5 51.4,52.6 51.6,54.2 51.8,55.5 51.7,56.7 52.4,56.7 52.3,55.5 52.5,54.2 52.7,52.6 53.0,50.5" fill="#4a6fd6" stroke="#4a6fd6" stroke-width="0.6"/>
<polygon points="51.9,50.5 52.1,52.1 52.3,53.2 52.5,54.1 52.4,54.9 53.1,54.9 52.9,54.1 53.1,53.2 53.3,52.1 53.5,50.5" fill="#4a6fd6" stroke="#4a6fd6" stroke-width="0.6"/>
<polygon points="54.6,50.5 54.7,54.7 54.8,57.9 54.9,61.0 54.7,63.8 55.4,63.8 55.2,61.0 55.3,57.9 55.4,54.7 55.5,50.5" fill="#4a6fd6" stroke="#4a6fd6" stroke-width="0.6"/>
<polygon points="55.4,50.5 55.5,53.1 55.7,55.7 55.9,58.3 55.7,61.0 56.4,61.0 56.2,58.3 56.3,55.7 56.5,53.1 56.6,50.5" fill="#4a6fd6" stroke="#4a6fd6" stroke-width="0.6"/>
<polygon points="55.7,50.5 55.9,53.5 56.1,56.9 56.2,60.5 56.0,64.1 56.7,64.1 56.5,60.5 56.7,56.9 56.8,53.5 57.0,50.5" fill="#4a6fd6" stroke="#4a6fd6" stroke-width="0.6"/>
<polygon points="57.4,50.5 57.6,53.3 57.8,56.3 57.9,59.5 57.8,62.7 58.5,62.7 58.3,59.5 58.4,56.3 58.6,53.3 58.8,50.5" fill="#4a6fd6" stroke="#4a6fd6" stroke-width="0.6"/>
<polygon points="64.9,50.5 65.0,52.0 65.1,54.0 65.2,56.1 65.0,58.4 65.7,58.4 65.4,56.1 65.5,54.0 65.6,52.0 65.7,50.5" fill="#4a6fd6" stroke="#4a6fd6" stroke-width="0.6"/>
<polygon points="66.1,50.5 66.4,52.3 66.6,53.7 66.8,54.9 66.7,56.1 67.4,56.1 67.3,54.9 67.5,53.7 67.7,52.3 68.0,50.5" fill="#4a6fd6" stroke="#4a6fd6" stroke-width="0.6"/>
<polygon points="70.3,50.5 70.5,54.8 70.6,58.2 70.8,61.3 70.6,64.3 71.3,64.3 71.2,61.3 71.4,58.2 71.5,54.8 71.7,50.5" fill="#4a6fd6" stroke="#4a6fd6" stroke-width="0.6"/>
<polygon points="70.6,50.5 70.8,51.8 70.9,52.8 71.0,53.7 70.8,54.6 71.5,54.6 71.3,53.7 71.4,52.8 71.6,51.8 71.7,50.5" fill="#4a6fd6" stroke="#4a6fd6" stroke-width="0.6"/>
<polygon points="71.2,50.5 71.4,51.8 71.6,52.7 71.8,53.6 71.6,54.4 72.3,54.4 72.2,53.6 72.3,52.7 72.5,51.8 72.7,50.5" fill="#4a6fd6" stroke="#4a6fd6" stroke-width="0.6"/>
<polygon points="77.5,50.5 77.7,54.2 77.8,57.8 78.0,61.4 77.8,65.0 78.5,65.0 78.3,61.4 78.4,57.8 78.5,54.2 78.7,50.5" fill="#4a6fd6" stroke="#4a6fd6" stroke-width="0.6"/>
<polygon points="78.8,50.5 79.0,51.3 79.1,52.3 79.2,53.4 79.0,54.5 79.7,54.5 79.4,53.4 79.6,52.3 79.7,51.3 79.8,50.5" fill="#4a6fd6" stroke="#4a6fd6" stroke-width="0.6"/>
<polygon points="80.0,50.5 80.1,53.8 80.2,57.1 80.3,60.3 80.1,63.6 80.8,63.6 80.5,60.3 80.6,57.1 80.8,53.8 80.9,50.5" fill="#4a6fd6" stroke="#4a6fd6" stroke-width="0.6"/>
<polygon points="84.0,50.5 84.1,54.2 84.2,57.6 84.3,61.0 84.0,64.4 84.7,64.4 84.5,61.0 84.6,57.6 84.7,54.2 84.8,50.5" fill="#4a6fd6" stroke="#4a6fd6" stroke-width="0.6"/>
<polygon points="84.8,50.5 85.0,54.4 85.1,57.5 85.2,60.4 84.9,63.0 85.6,63.0 85.4,60.4 85.5,57.5 85.6,54.4 85.7,50.5" fill="#4a6fd6" stroke="#4a6fd6" stroke-width="0.6"/>
<polygon points="89.6,50.5 89.8,52.2 90.0,54.4 90.2,56.8 90.0,59.4 90.7,59.4 90.5,56.8 90.7,54.4 90.9,52.2 91.1,50.5" fill="#4a6fd6" stroke="#4a6fd6" stroke-width="0.6"/>
<polygon points="90.9,50.5 91.1,51.7 91.3,52.6 91.4,53.4 91.3,54.1 92.0,54.1 91.8,53.4 92.0,52.6 92.1,51.7 92.3,50.5" fill="#4a6fd6" stroke="#4a6fd6" stroke-width="0.6"/>
<polygon points="90.9,50.5 91.1,53.1 91.4,55.6 91.7,58.1 91.6,60.6 92.3,60.6 92.2,58.1 92.5,55.6 92.7,53.1 93.0,50.5" fill="#4a6fd6" stroke="#4a6fd6" stroke-width="0.6"/>
<polygon points="93.4,50.5 93.6,52.1 93.8,53.8 94.0,55.6 93.8,57.5 94.5,57.5 94.4,55.6 94.6,53.8 94.8,52.1 95.0,50.5" fill="#4a6fd6" stroke="#4a6fd6" stroke-width="0.6"/>
<polygon points="95.2,50.5 95.4,54.7 95.6,57.8 95.8,60.6 95.6,63.2 96.3,63.2 96.2,60.6 96.4,57.8 96.6,54.7 96.8,50.5" fill="#4a6fd6" stroke="#4a6fd6" stroke-width="0.6"/>
<polygon points="96.7,50.5 96.8,52.7 96.9,54.9 97.0,57.2 96.8,59.4 97.5,59.4 97.3,57.2 97.4,54.9 97.6,52.7 97.7,50.5" fill="#4a6fd6" stroke="#4a6fd6" stroke-width="0.6"/>
<polygon points="98.5,50.5 98.7,51.5 98.9,52.7 99.1,53.9 98.9,55.1 99.6,55.1 99.5,53.9 99.7,52.7 99.9,51.5 100.1,50.5" fill="#4a6fd6" stroke="#4a6fd6" stroke-width="0.6"/>
<polygon points="100.6,50.5 100.8,52.1 100.9,53.6 101.1,55.1 100.9,56.6 101.6,56.6 101.4,55.1 101.6,53.6 101.8,52.1 101.9,50.5" fill="#4a6fd6" stroke="#4a6fd6" stroke-width="0.6"/>
<polygon points="105.3,50.5 105.5,52.5 105.6,54.8 105.7,57.3 105.5,59.9 106.2,59.9 105.9,57.3 106.0,54.8 106.2,52.5 106.3,50.5" fill="#4a6fd6" stroke="#4a6fd6" stroke-width="0.6"/>
<polygon points="107.5,50.5 107.6,51.8 107.8,52.8 107.9,53.7 107.7,54.5 108.4,54.5 108.2,53.7 108.4,52.8 108.5,51.8 108.6,50.5" fill="#4a6fd6" stroke="#4a6fd6" stroke-width="0.6"/>
<polygon points="107.7,50.5 107.8,52.3 108.0,54.0 108.1,55.6 107.9,57.2 108.6,57.2 108.4,55.6 108.5,54.0 108.6,52.3 108.8,50.5" fill="#4a6fd6" stroke="#4a6fd6" stroke-width="0.6"/>
<polygon points="109.8,50.5 109.9,51.5 110.1,52.4 110.2,53.3 110.0,54.1 110.7,54.1 110.4,53.3 110.6,52.4 110.7,51.5 110.8,50.5" fill="#4a6fd6" stroke="#4a6fd6" stroke-width="0.6"/>
<polygon points="110.6,50.5 110.7,54.4 110.9,57.1 111.1,59.5 110.9,61.7 111.6,61.7 111.5,59.5 111.6,57.1 111.8,54.4 112.0,50.5" fill="#4a6fd6" stroke="#4a6fd6" stroke-width="0.6"/>
<polygon points="112.7,50.5 112.9,55.3 113.1,58.6 113.4,61.5 113.3,64.2 114.0,64.2 113.8,61.5 114.1,58.6 114.3,55.3 114.5,50.5" fill="#4a6fd6" stroke="#4a6fd6" stroke-width="0.6"/>
<polygon points="115.4,50.5 115.7,52.8 115.9,54.3 116.2,55.5 116.0,56.7 116.7,56.7 116.6,55.5 116.9,54.3 117.1,52.8 117.3,50.5" fill="#4a6fd6" stroke="#4a6fd6" stroke-width="0.6"/>
<polygon points="120.6,50.5 120.7,51.5 120.9,52.6 121.1,53.7 120.9,54.9 121.6,54.9 121.5,53.7 121.6,52.6 121.8,51.5 122.0,50.5" fill="#4a6fd6" stroke="#4a6fd6" stroke-width="0.6"/>
<polygon points="122.5,50.5 122.6,51.8 122.7,52.9 122.9,53.9 122.6,54.8 123.3,54.8 123.1,53.9 123.2,52.9 123.4,51.8 123.5,50.5" fill="#4a6fd6" stroke="#4a6fd6" stroke-width="0.6"/>
<polygon points="122.6,50.5 122.7,51.8 122.8,53.0 123.0,54.2 122.7,55.3 123.4,55.3 123.2,54.2 123.3,53.0 123.4,51.8 123.6,50.5" fill="#4a6fd6" stroke="#4a6fd6" stroke-width="0.6"/>
<polygon points="124.1,50.5 124.2,53.6 124.4,55.6 124.5,57.3 124.3,58.9 125.0,58.9 124.8,57.3 125.0,55.6 125.1,53.6 125.3,50.5" fill="#4a6fd6" stroke="#4a6fd6" stroke-width="0.6"/>
<polygon points="126.6,50.5 126.7,53.3 126.9,55.7 127.0,58.0 126.8,60.2 127.5,60.2 127.3,58.0 127.5,55.7 127.6,53.3 127.8,50.5" fill="#4a6fd6" stroke="#4a6fd6" stroke-width="0.6"/>
<polygon points="127.1,50.5 127.3,51.8 127.6,53.3 127.8,55.0 127.7,56.7 128.4,56.7 128.3,55.0 128.6,53.3 128.8,51.8 129.1,50.5" fill="#4a6fd6" stroke="#4a6fd6" stroke-width="0.6"/>
<polygon points="127.9,50.5 128.1,53.7 128.2,56.0 128.4,58.0 128.2,59.8 128.9,59.8 128.7,58.0 128.8,56.0 128.9,53.7 129.1,50.5" fill="#4a6fd6" stroke="#4a6fd6" stroke-width="0.6"/>
<polygon points="130.2,50.5 130.5,53.1 130.8,55.0 131.0,56.6 130.9,58.2 131.6,58.2 131.5,56.6 131.8,55.0 132.1,53.1 132.3,50.5" fill="#4a6fd6" stroke="#4a6fd6" stroke-width="0.6"/>
<polygon points="135.5,50.5 135.6,51.7 135.7,53.1 135.8,54.8 135.6,56.5 136.3,56.5 136.1,54.8 136.2,53.1 136.3,51.7 136.4,50.5" fill="#4a6fd6" stroke="#4a6fd6" stroke-width="0.6"/>
<polygon points="138.4,50.5 138.7,51.5 138.9,52.2 139.2,52.8 139.1,53.4 139.8,53.4 139.7,52.8 139.9,52.2 140.2,51.5 140.5,50.5" fill="#4a6fd6" stroke="#4a6fd6" stroke-width="0.6"/>
<polygon points="139.7,50.5 140.0,52.0 140.2,53.0 140.5,53.9 140.4,54.6 141.1,54.6 141.0,53.9 141.3,53.0 141.6,52.0 141.8,50.5" fill="#4a6fd6" stroke="#4a6fd6" stroke-width="0.6"/>
<polygon points="144.2,50.5 144.4,51.5 144.5,52.4 144.6,53.4 144.3,54.4 145.0,54.4 144.8,53.4 144.9,52.4 145.0,51.5 145.1,50.5" fill="#4a6fd6" stroke="#4a6fd6" stroke-width="0.6"/>
<polygon points="145.2,50.5 145.4,51.1 145.6,51.9 145.8,52.9 145.7,53.9 146.4,53.9 146.2,52.9 146.4,51.9 146.6,51.1 146.8,50.5" fill="#4a6fd6" stroke="#4a6fd6" stroke-width="0.6"/>
<polygon points="145.9,50.5 146.1,51.2 146.3,52.1 146.4,53.2 146.2,54.2 146.9,54.2 146.7,53.2 146.9,52.1 147.1,51.2 147.2,50.5" fill="#4a6fd6" stroke="#4a6fd6" stroke-width="0.6"/>
<polygon points="153.7,50.5 153.8,51.6 153.9,52.7 154.1,53.8 153.9,55.0 154.6,55.0 154.4,53.8 154.5,52.7 154.6,51.6 154.8,50.5" fill="#4a6fd6" stroke="#4a6fd6" stroke-width="0.6"/>
<polygon points="155.3,50.5 155.5,51.2 155.7,52.3 155.8,53.5 155.6,54.8 156.3,54.8 156.1,53.5 156.3,52.3 156.4,51.2 156.6,50.5" fill="#4a6fd6" stroke="#4a6fd6" stroke-width="0.6"/>
<polygon points="156.8,50.5 157.0,51.0 157.2,51.5 157.4,52.0 157.3,52.5 158.0,52.5 157.8,52.0 158.1,51.5 158.3,51.0 158.5,50.5" fill="#4a6fd6" stroke="#4a6fd6" stroke-width="0.6"/>
<polygon points="159.0,50.5 159.1,51.1 159.3,51.6 159.5,52.1 159.3,52.5 160.0,52.5 159.8,52.1 160.0,51.6 160.1,51.1 160.3,50.5" fill="#4a6fd6" stroke="#4a6fd6" stroke-width="0.6"/>
<polygon points="159.0,50.5 159.2,51.2 159.4,52.1 159.6,53.0 159.4,54.0 160.1,54.0 160.0,53.0 160.2,52.1 160.3,51.2 160.5,50.5" fill="#4a6fd6" stroke="#4a6fd6" stroke-width="0.6"/>
<polygon points="161.3,50.5 161.4,50.9 161.5,51.2 161.7,51.6 161.5,51.9 162.2,51.9 161.9,51.6 162.1,51.2 162.2,50.9 162.3,50.5" fill="#4a6fd6" stroke="#4a6fd6" stroke-width="0.6"/>
<polygon points="163.9,50.5 164.1,51.4 164.3,52.3 164.4,53.2 164.2,54.0 164.9,54.0 164.7,53.2 164.9,52.3 165.0,51.4 165.2,50.5" fill="#4a6fd6" stroke="#4a6fd6" stroke-width="0.6"/>
<polygon points="164.5,50.5 164.7,50.7 164.8,51.0 164.9,51.4 164.7,51.7 165.4,51.7 165.1,51.4 165.2,51.0 165.4,50.7 165.5,50.5" fill="#4a6fd6" stroke="#4a6fd6" stroke-width="0.6"/>
<polygon points="173.2,50.5 173.4,51.0 173.6,51.4 173.8,51.8 173.6,52.2 174.3,52.2 174.2,51.8 174.4,51.4 174.5,51.0 174.7,50.5" fill="#4a6fd6" stroke="#4a6fd6" stroke-width="0.6"/>
<polygon points="175.5,50.5 175.6,51.2 175.7,51.9 175.9,52.6 175.7,53.3 176.4,53.3 176.2,52.6 176.3,51.9 176.4,51.2 176.6,50.5" fill="#4a6fd6" stroke="#4a6fd6" stroke-width="0.6"/>
<polygon points="177.5,50.5 177.6,51.1 177.7,51.8 177.8,52.5 177.6,53.3 178.3,53.3 178.1,52.5 178.2,51.8 178.3,51.1 178.5,50.5" fill="#4a6fd6" stroke="#4a6fd6" stroke-width="0.6"/>
<polygon points="177.7,50.5 177.8,51.9 177.9,53.2 178.0,54.5 177.8,55.7 178.5,55.7 178.3,54.5 178.4,53.2 178.6,51.9 178.7,50.5" fill="#4a6fd6" stroke="#4a6fd6" stroke-width="0.6"/>
<polygon points="178.0,50.5 178.1,52.0 178.3,53.8 178.4,55.7 178.2,57.6 178.9,57.6 178.7,55.7 178.9,53.8 179.0,52.0 179.1,50.5" fill="#4a6fd6" stroke="#4a6fd6" stroke-width="0.6"/>
<polygon points="180.0,50.5 180.2,52.2 180.5,53.9 180.7,55.7 180.5,57.4 181.2,57.4 181.1,55.7 181.3,53.9 181.5,52.2 181.8,50.5" fill="#4a6fd6" stroke="#4a6fd6" stroke-width="0.6"/>
<polygon points="180.5,50.5 180.7,54.7 180.9,57.4 181.0,59.7 180.9,61.7 181.6,61.7 181.4,59.7 181.6,57.4 181.7,54.7 181.9,50.5" fill="#4a6fd6" stroke="#4a6fd6" stroke-width="0.6"/>
<polygon points="180.8,50.5 180.9,55.1 181.0,58.6 181.1,61.7 180.9,64.6 181.6,64.6 181.4,61.7 181.5,58.6 181.6,55.1 181.7,50.5" fill="#4a6fd6" stroke="#4a6fd6" stroke-width="0.6"/>
<polygon points="181.8,50.5 181.9,52.4 182.0,54.7 182.1,57.2 181.9,59.8 182.6,59.8 182.3,57.2 182.4,54.7 182.5,52.4 182.6,50.5" fill="#4a6fd6" stroke="#4a6fd6" stroke-width="0.6"/>
<polygon points="182.4,50.5 182.6,54.8 182.9,57.5 183.2,59.8 183.1,61.9 183.8,61.9 183.7,59.8 183.9,57.5 184.2,54.8 184.5,50.5" fill="#4a6fd6" stroke="#4a6fd6" stroke-width="0.6"/>
<polygon points="182.6,50.5 182.9,56.1 183.2,61.9 183.5,67.7 183.4,73.6 184.1,73.6 184.1,67.7 184.4,61.9 184.7,56.1 185.0,50.5" fill="#4a6fd6" stroke="#4a6fd6" stroke-width="0.6"/>
<polygon points="183.9,50.5 184.0,54.8 184.1,58.0 184.2,61.0 184.0,63.7 184.7,63.7 184.5,61.0 184.6,58.0 184.7,54.8 184.8,50.5" fill="#4a6fd6" stroke="#4a6fd6" stroke-width="0.6"/>
<polygon points="183.4,50.5 183.6,54.1 183.9,56.6 184.1,58.8 184.0,60.8 184.7,60.8 184.6,58.8 184.9,56.6 185.1,54.1 185.3,50.5" fill="#4a6fd6" stroke="#4a6fd6" stroke-width="0.6"/>
<polygon points="183.8,50.5 184.0,57.2 184.1,62.7 184.3,67.9 184.1,72.8 184.8,72.8 184.7,67.9 184.8,62.7 185.0,57.2 185.2,50.5" fill="#4a6fd6" stroke="#4a6fd6" stroke-width="0.6"/>
<polygon points="183.6,50.5 183.9,55.9 184.1,61.0 184.4,66.1 184.3,71.1 185.0,71.1 184.9,66.1 185.1,61.0 185.4,55.9 185.6,50.5" fill="#4a6fd6" stroke="#4a6fd6" stroke-width="0.6"/>
<polygon points="185.4,50.5 185.6,53.0 185.7,55.5 185.9,58.0 185.7,60.4 186.4,60.4 186.2,58.0 186.4,55.5 186.5,53.0 186.7,50.5" fill="#4a6fd6" stroke="#4a6fd6" stroke-width="0.6"/>
<polygon points="187.2,50.5 187.3,53.9 187.4,58.0 187.5,62.4 187.3,67.1 188.0,67.1 187.7,62.4 187.8,58.0 187.9,53.9 188.1,50.5" fill="#4a6fd6" stroke="#4a6fd6" stroke-width="0.6"/>
<polygon points="186.7,50.5 186.9,52.8 187.2,55.4 187.5,58.1 187.4,61.0 188.1,61.0 188.0,58.1 188.2,55.4 188.5,52.8 188.7,50.5" fill="#4a6fd6" stroke="#4a6fd6" stroke-width="0.6"/>
<polygon points="188.4,50.5 188.5,56.3 188.7,60.0 188.8,63.2 188.6,66.1 189.3,66.1 189.1,63.2 189.2,60.0 189.4,56.3 189.5,50.5" fill="#4a6fd6" stroke="#4a6fd6" stroke-width="0.6"/>
<polygon points="188.8,50.5 188.9,55.5 189.1,61.4 189.2,67.8 189.0,74.5 189.7,74.5 189.5,67.8 189.7,61.4 189.8,55.5 190.0,50.5" fill="#4a6fd6" stroke="#4a6fd6" stroke-width="0.6"/>
<polygon points="188.7,50.5 188.9,55.6 189.1,58.8 189.4,61.5 189.2,63.9 189.9,63.9 189.8,61.5 190.0,58.8 190.2,55.6 190.4,50.5" fill="#4a6fd6" stroke="#4a6fd6" stroke-width="0.6"/>
<polygon points="188.7,50.5 189.0,53.6 189.2,56.5 189.5,59.4 189.4,62.2 190.1,62.2 190.0,59.4 190.3,56.5 190.5,53.6 190.8,50.5" fill="#4a6fd6" stroke="#4a6fd6" stroke-width="0.6"/>
<polygon points="191.0,50.5 191.1,57.7 191.3,63.3 191.5,68.5 191.3,73.4 192.0,73.4 191.8,68.5 192.0,63.3 192.2,57.7 192.3,50.5" fill="#4a6fd6" stroke="#4a6fd6" stroke-width="0.6"/>
<polygon points="191.4,50.5 191.5,56.6 191.6,60.6 191.8,64.0 191.5,67.2 192.2,67.2 192.0,64.0 192.1,60.6 192.2,56.6 192.4,50.5" fill="#4a6fd6" stroke="#4a6fd6" stroke-width="0.6"/>
<polygon points="192.6,50.5 192.7,55.3 192.8,59.8 192.9,64.1 192.7,68.5 193.4,68.5 193.1,64.1 193.2,59.8 193.4,55.3 193.5,50.5" fill="#4a6fd6" stroke="#4a6fd6" stroke-width="0.6"/>
<polygon points="191.9,50.5 192.3,53.6 192.6,57.4 192.9,61.7 192.8,66.2 193.5,66.2 193.5,61.7 193.8,57.4 194.1,53.6 194.4,50.5" fill="#4a6fd6" stroke="#4a6fd6" stroke-width="0.6"/>
<polygon points="192.7,50.5 192.9,52.9 193.1,55.6 193.3,58.6 193.1,61.6 193.8,61.6 193.6,58.6 193.8,55.6 194.0,52.9 194.2,50.5" fill="#4a6fd6" stroke="#4a6fd6" stroke-width="0.6"/>
<polygon points="192.9,50.5 193.1,57.2 193.3,62.2 193.5,66.7 193.4,71.0 194.1,71.0 194.0,66.7 194.2,62.2 194.5,57.2 194.7,50.5" fill="#4a6fd6" stroke="#4a6fd6" stroke-width="0.6"/>
<polygon points="194.7,50.5 195.0,53.5 195.3,55.7 195.5,57.6 195.4,59.5 196.1,59.5 196.0,57.6 196.3,55.7 196.5,53.5 196.8,50.5" fill="#4a6fd6" stroke="#4a6fd6" stroke-width="0.6"/>
<polygon points="195.0,50.5 195.2,59.5 195.4,65.4 195.6,70.5 195.5,75.1 196.2,75.1 196.1,70.5 196.3,65.4 196.5,59.5 196.8,50.5" fill="#4a6fd6" stroke="#4a6fd6" stroke-width="0.6"/>
<polygon points="196.0,50.5 196.1,56.7 196.2,61.5 196.3,65.9 196.1,70.1 196.8,70.1 196.6,65.9 196.7,61.5 196.8,56.7 196.9,50.5" fill="#4a6fd6" stroke="#4a6fd6" stroke-width="0.6"/>
<polygon points="195.8,50.5 196.0,55.2 196.2,59.6 196.4,63.9 196.2,68.1 196.9,68.1 196.7,63.9 196.9,59.6 197.1,55.2 197.3,50.5" fill="#4a6fd6" stroke="#4a6fd6" stroke-width="0.6"/>
<polygon points="196.3,50.5 196.4,54.4 196.6,59.3 196.7,64.5 196.5,70.0 197.2,70.0 197.0,64.5 197.1,59.3 197.3,54.4 197.4,50.5" fill="#4a6fd6" stroke="#4a6fd6" stroke-width="0.6"/>
<polygon points="198.1,50.5 198.3,54.1 198.5,58.3 198.7,62.8 198.5,67.5 199.2,67.5 199.1,62.8 199.3,58.3 199.5,54.1 199.7,50.5" fill="#4a6fd6" stroke="#4a6fd6" stroke-width="0.6"/>
<polygon points="198.8,50.5 198.9,55.6 199.1,61.1 199.3,66.9 199.1,72.7 199.8,72.7 199.6,66.9 199.8,61.1 199.9,55.6 200.1,50.5" fill="#4a6fd6" stroke="#4a6fd6" stroke-width="0.6"/>
<polygon points="199.0,50.5 199.3,57.3 199.6,61.8 200.0,65.7 199.9,69.2 200.6,69.2 200.6,65.7 200.9,61.8 201.2,57.3 201.5,50.5" fill="#4a6fd6" stroke="#4a6fd6" stroke-width="0.6"/>
<polygon points="200.6,50.5 200.8,55.6 201.0,59.8 201.2,63.7 201.0,67.5 201.7,67.5 201.6,63.7 201.7,59.8 201.9,55.6 202.1,50.5" fill="#4a6fd6" stroke="#4a6fd6" stroke-width="0.6"/>
<polygon points="200.4,50.5 200.7,54.9 200.9,58.0 201.1,60.6 201.0,63.1 201.7,63.1 201.6,60.6 201.9,58.0 202.1,54.9 202.3,50.5" fill="#4a6fd6" stroke="#4a6fd6" stroke-width="0.6"/>
<polygon points="200.3,50.5 200.6,55.3 201.0,61.1 201.3,67.4 201.2,74.0 201.9,74.0 201.9,67.4 202.2,61.1 202.6,55.3 202.9,50.5" fill="#4a6fd6" stroke="#4a6fd6" stroke-width="0.6"/>
<polygon points="201.8,50.5 202.1,54.0 202.4,56.6 202.7,58.9 202.7,61.1 203.4,61.1 203.4,58.9 203.7,56.6 204.0,54.0 204.3,50.5" fill="#4a6fd6" stroke="#4a6fd6" stroke-width="0.6"/>
<polygon points="203.6,50.5 203.8,55.7 204.1,60.6 204.3,65.4 204.2,70.2 204.9,70.2 204.8,65.4 205.0,60.6 205.3,55.7 205.5,50.5" fill="#4a6fd6" stroke="#4a6fd6" stroke-width="0.6"/>
<polygon points="203.9,50.5 204.1,55.6 204.3,59.1 204.4,62.3 204.2,65.2 204.9,65.2 204.8,62.3 204.9,59.1 205.1,55.6 205.3,50.5" fill="#4a6fd6" stroke="#4a6fd6" stroke-width="0.6"/>
<polygon points="204.1,50.5 204.4,56.7 204.7,61.1 205.0,64.9 205.0,68.5 205.7,68.5 205.6,64.9 205.9,61.1 206.2,56.7 206.5,50.5" fill="#4a6fd6" stroke="#4a6fd6" stroke-width="0.6"/>
<polygon points="204.8,50.5 205.0,54.1 205.1,56.7 205.2,59.1 205.0,61.3 205.7,61.3 205.5,59.1 205.6,56.7 205.7,54.1 205.9,50.5" fill="#4a6fd6" stroke="#4a6fd6" stroke-width="0.6"/>
<polygon points="205.9,50.5 206.1,54.5 206.2,57.5 206.4,60.1 206.3,62.7 207.0,62.7 206.8,60.1 207.0,57.5 207.2,54.5 207.4,50.5" fill="#4a6fd6" stroke="#4a6fd6" stroke-width="0.6"/>
<polygon points="206.0,50.5 206.2,53.4 206.4,56.0 206.6,58.5 206.4,60.9 207.1,60.9 207.0,58.5 207.1,56.0 207.3,53.4 207.5,50.5" fill="#4a6fd6" stroke="#4a6fd6" stroke-width="0.6"/>
<polygon points="206.9,50.5 207.2,53.3 207.5,55.6 207.7,57.8 207.6,59.8 208.3,59.8 208.2,57.8 208.5,55.6 208.8,53.3 209.0,50.5" fill="#4a6fd6" stroke="#4a6fd6" stroke-width="0.6"/>
<polygon points="229.1,50.5 229.4,50.9 229.6,51.4 229.8,51.9 229.7,52.4 230.4,52.4 230.3,51.9 230.5,51.4 230.8,50.9 231.0,50.5" fill="#4a6fd6" stroke="#4a6fd6" stroke-width="0.6"/>
<polygon points="230.5,50.5 230.8,50.8 231.0,50.9 231.3,51.1 231.2,51.3 231.9,51.3 231.8,51.1 232.0,50.9 232.3,50.8 232.5,50.5" fill="#4a6fd6" stroke="#4a6fd6" stroke-width="0.6"/>
<polygon points="234.7,50.5 234.8,51.5 234.9,52.3 235.0,53.1 234.8,53.9 235.5,53.9 235.2,53.1 235.4,52.3 235.5,51.5 235.6,50.5" fill="#4a6fd6" stroke="#4a6fd6" stroke-width="0.6"/>
<polygon points="234.9,50.5 235.1,50.6 235.3,50.8 235.4,51.0 235.3,51.1 236.0,51.1 235.8,51.0 235.9,50.8 236.1,50.6 236.3,50.5" fill="#4a6fd6" stroke="#4a6fd6" stroke-width="0.6"/>
<polygon points="235.9,50.5 236.2,50.6 236.4,50.8 236.6,51.0 236.5,51.2 237.2,51.2 237.0,51.0 237.3,50.8 237.5,50.6 237.7,50.5" fill="#4a6fd6" stroke="#4a6fd6" stroke-width="0.6"/>
<polygon points="237.4,50.5 237.6,50.7 237.8,50.9 237.9,51.1 237.8,51.3 238.5,51.3 238.3,51.1 238.5,50.9 238.7,50.7 238.9,50.5" fill="#4a6fd6" stroke="#4a6fd6" stroke-width="0.6"/>
<polygon points="239.4,50.5 239.6,51.2 239.8,52.0 239.9,52.8 239.7,53.6 240.4,53.6 240.2,52.8 240.4,52.0 240.6,51.2 240.7,50.5" fill="#4a6fd6" stroke="#4a6fd6" stroke-width="0.6"/>
<polygon points="267.0,50.5 267.2,51.5 267.4,52.4 267.6,53.2 267.5,54.0 268.2,54.0 268.0,53.2 268.3,52.4 268.5,51.5 268.7,50.5" fill="#4a6fd6" stroke="#4a6fd6" stroke-width="0.6"/>
<polygon points="267.9,50.5 268.1,51.1 268.3,51.6 268.6,52.1 268.4,52.6 269.1,52.6 269.0,52.1 269.2,51.6 269.4,51.1 269.6,50.5" fill="#4a6fd6" stroke="#4a6fd6" stroke-width="0.6"/>
<polygon points="269.8,50.5 269.9,51.1 270.1,51.8 270.3,52.7 270.1,53.7 270.8,53.7 270.7,52.7 270.8,51.8 271.0,51.1 271.2,50.5" fill="#4a6fd6" stroke="#4a6fd6" stroke-width="0.6"/>
<polygon points="271.4,50.5 271.5,50.9 271.7,51.4 271.8,52.0 271.6,52.6 272.3,52.6 272.1,52.0 272.2,51.4 272.4,50.9 272.5,50.5" fill="#4a6fd6" stroke="#4a6fd6" stroke-width="0.6"/>
<polygon points="272.3,50.5 272.5,51.0 272.6,51.7 272.8,52.5 272.6,53.4 273.3,53.4 273.1,52.5 273.3,51.7 273.5,51.0 273.6,50.5" fill="#4a6fd6" stroke="#4a6fd6" stroke-width="0.6"/>
<polygon points="272.6,50.5 272.8,50.6 273.1,50.7 273.3,50.9 273.2,51.0 273.9,51.0 273.8,50.9 274.1,50.7 274.3,50.6 274.6,50.5" fill="#4a6fd6" stroke="#4a6fd6" stroke-width="0.6"/>
<polygon points="273.3,50.5 273.4,51.0 273.5,51.5 273.6,52.1 273.4,52.6 274.1,52.6 273.8,52.1 273.9,51.5 274.1,51.0 274.2,50.5" fill="#4a6fd6" stroke="#4a6fd6" stroke-width="0.6"/>
<polygon points="273.2,50.5 273.4,50.9 273.5,51.3 273.7,51.7 273.4,52.2 274.1,52.2 273.9,51.7 274.1,51.3 274.2,50.9 274.4,50.5" fill="#4a6fd6" stroke="#4a6fd6" stroke-width="0.6"/>
<polygon points="277.4,50.5 277.5,51.2 277.7,52.1 277.8,52.9 277.6,53.8 278.3,53.8 278.1,52.9 278.3,52.1 278.4,51.2 278.6,50.5" fill="#4a6fd6" stroke="#4a6fd6" stroke-width="0.6"/>
<polygon points="277.0,50.5 277.3,51.0 277.5,51.3 277.7,51.7 277.6,52.0 278.3,52.0 278.2,51.7 278.5,51.3 278.7,51.0 279.0,50.5" fill="#4a6fd6" stroke="#4a6fd6" stroke-width="0.6"/>
<polygon points="278.4,50.5 278.6,51.0 278.7,51.5 278.9,52.2 278.7,52.9 279.4,52.9 279.2,52.2 279.3,51.5 279.4,51.0 279.6,50.5" fill="#4a6fd6" stroke="#4a6fd6" stroke-width="0.6"/>
<polygon points="279.4,50.5 279.5,51.4 279.6,52.2 279.7,52.9 279.5,53.5 280.2,53.5 279.9,52.9 280.1,52.2 280.2,51.4 280.3,50.5" fill="#4a6fd6" stroke="#4a6fd6" stroke-width="0.6"/>
<polygon points="285.2,50.5 285.3,50.8 285.4,51.2 285.5,51.5 285.3,51.9 286.0,51.9 285.8,51.5 285.9,51.2 286.0,50.8 286.1,50.5" fill="#4a6fd6" stroke="#4a6fd6" stroke-width="0.6"/>
<polygon points="286.1,50.5 286.3,50.8 286.5,51.2 286.7,51.6 286.6,52.1 287.3,52.1 287.1,51.6 287.4,51.2 287.6,50.8 287.8,50.5" fill="#4a6fd6" stroke="#4a6fd6" stroke-width="0.6"/>
<polygon points="286.2,50.5 286.4,50.9 286.7,51.3 286.9,51.7 286.8,52.2 287.5,52.2 287.4,51.7 287.7,51.3 287.9,50.9 288.2,50.5" fill="#4a6fd6" stroke="#4a6fd6" stroke-width="0.6"/>
<polygon points="287.8,50.5 288.0,50.6 288.2,50.7 288.5,50.8 288.3,51.0 289.0,51.0 288.9,50.8 289.1,50.7 289.4,50.6 289.6,50.5" fill="#4a6fd6" stroke="#4a6fd6" stroke-width="0.6"/>
<polygon points="292.7,50.5 292.9,51.0 293.1,51.4 293.4,51.8 293.2,52.1 293.9,52.1 293.8,51.8 294.1,51.4 294.3,51.0 294.5,50.5" fill="#4a6fd6" stroke="#4a6fd6" stroke-width="0.6"/>
<polygon points="297.5,50.5 297.6,50.6 297.8,50.7 297.9,50.8 297.7,50.9 298.4,50.9 298.2,50.8 298.3,50.7 298.5,50.6 298.6,50.5" fill="#4a6fd6" stroke="#4a6fd6" stroke-width="0.6"/>
<polygon points="297.9,50.5 298.1,50.8 298.4,51.1 298.6,51.3 298.5,51.5 299.2,51.5 299.1,51.3 299.3,51.1 299.6,50.8 299.8,50.5" fill="#4a6fd6" stroke="#4a6fd6" stroke-width="0.6"/>
<polygon points="301.8,50.5 302.0,50.7 302.3,51.0 302.5,51.4 302.4,51.8 303.1,51.8 303.0,51.4 303.3,51.0 303.6,50.7 303.8,50.5" fill="#1e96e6" stroke="#1e96e6" stroke-width="0.6"/>
<polygon points="304.1,50.5 304.3,50.7 304.4,51.0 304.6,51.3 304.5,51.5 305.2,51.5 305.0,51.3 305.2,51.0 305.3,50.7 305.5,50.5" fill="#1e96e6" stroke="#1e96e6" stroke-width="0.6"/>
<polygon points="305.4,50.5 305.7,50.8 305.9,51.2 306.2,51.5 306.1,51.8 306.8,51.8 306.7,51.5 307.0,51.2 307.3,50.8 307.5,50.5" fill="#1e96e6" stroke="#1e96e6" stroke-width="0.6"/>
<polygon points="307.5,50.5 307.7,50.6 308.0,50.8 308.2,51.0 308.2,51.2 308.9,51.2 308.8,51.0 309.0,50.8 309.3,50.6 309.5,50.5" fill="#1e96e6" stroke="#1e96e6" stroke-width="0.6"/>
<polygon points="312.0,50.5 312.2,50.6 312.5,50.7 312.7,50.9 312.5,51.1 313.2,51.1 313.1,50.9 313.3,50.7 313.5,50.6 313.7,50.5" fill="#1e96e6" stroke="#1e96e6" stroke-width="0.6"/>
<polygon points="313.2,50.5 313.5,50.7 313.7,50.9 313.9,51.2 313.8,51.6 314.5,51.6 314.4,51.2 314.6,50.9 314.8,50.7 315.1,50.5" fill="#1e96e6" stroke="#1e96e6" stroke-width="0.6"/>
<polygon points="315.5,50.5 315.7,50.8 315.8,51.2 316.0,51.6 315.8,52.0 316.5,52.0 316.4,51.6 316.6,51.2 316.7,50.8 316.9,50.5" fill="#1e96e6" stroke="#1e96e6" stroke-width="0.6"/>
<polygon points="318.3,50.5 318.6,50.6 319.0,50.7 319.3,50.9 319.3,51.1 320.0,51.1 320.0,50.9 320.3,50.7 320.6,50.6 321.0,50.5" fill="#1e96e6" stroke="#1e96e6" stroke-width="0.6"/>
<polygon points="320.2,50.5 320.5,50.6 320.8,50.6 321.2,50.7 321.1,50.8 321.8,50.8 321.8,50.7 322.1,50.6 322.4,50.6 322.7,50.5" fill="#1e96e6" stroke="#1e96e6" stroke-width="0.6"/>
<polygon points="322.3,50.5 322.5,50.8 322.7,51.1 322.9,51.5 322.7,51.8 323.4,51.8 323.2,51.5 323.4,51.1 323.6,50.8 323.8,50.5" fill="#1e96e6" stroke="#1e96e6" stroke-width="0.6"/>
<polygon points="323.5,50.5 323.7,50.6 323.8,50.8 323.9,51.1 323.7,51.3 324.4,51.3 324.2,51.1 324.3,50.8 324.5,50.6 324.6,50.5" fill="#1e96e6" stroke="#1e96e6" stroke-width="0.6"/>
<polygon points="324.0,50.5 324.3,50.6 324.5,50.8 324.8,51.0 324.7,51.2 325.4,51.2 325.4,51.0 325.6,50.8 325.9,50.6 326.2,50.5" fill="#1e96e6" stroke="#1e96e6" stroke-width="0.6"/>
<polygon points="326.0,50.5 326.2,50.6 326.5,50.7 326.7,50.8 326.6,50.9 327.3,50.9 327.2,50.8 327.4,50.7 327.6,50.6 327.9,50.5" fill="#1e96e6" stroke="#1e96e6" stroke-width="0.6"/>
<polygon points="328.4,50.5 328.6,50.5 328.9,50.6 329.1,50.7 329.0,50.8 329.7,50.8 329.6,50.7 329.8,50.6 330.1,50.5 330.3,50.5" fill="#1e96e6" stroke="#1e96e6" stroke-width="0.6"/>
<polygon points="329.5,50.5 329.7,50.6 330.0,50.7 330.2,50.9 330.1,51.0 330.8,51.0 330.7,50.9 331.0,50.7 331.2,50.6 331.5,50.5" fill="#1e96e6" stroke="#1e96e6" stroke-width="0.6"/>
<polygon points="330.5,50.5 330.6,50.6 330.8,50.6 330.9,50.7 330.7,50.8 331.4,50.8 331.3,50.7 331.4,50.6 331.6,50.6 331.7,50.5" fill="#1e96e6" stroke="#1e96e6" stroke-width="0.6"/>
<polygon points="331.8,50.5 332.2,50.6 332.5,50.7 332.9,50.9 332.9,51.0 333.6,51.0 333.6,50.9 333.9,50.7 334.2,50.6 334.6,50.5" fill="#1e96e6" stroke="#1e96e6" stroke-width="0.6"/>
<polygon points="335.3,50.5 335.4,50.6 335.5,50.7 335.6,50.9 335.4,51.0 336.1,51.0 335.8,50.9 335.9,50.7 336.0,50.6 336.1,50.5" fill="#1e96e6" stroke="#1e96e6" stroke-width="0.6"/>
<polygon points="334.4,50.5 334.7,50.6 335.1,50.9 335.4,51.2 335.4,51.6 336.1,51.6 336.1,51.2 336.5,50.9 336.8,50.6 337.2,50.5" fill="#1e96e6" stroke="#1e96e6" stroke-width="0.6"/>
<polygon points="334.7,50.5 335.0,50.8 335.3,51.1 335.7,51.4 335.7,51.8 336.4,51.8 336.3,51.4 336.7,51.1 337.0,50.8 337.3,50.5" fill="#1e96e6" stroke="#1e96e6" stroke-width="0.6"/>
<polygon points="335.8,50.5 335.9,50.7 336.1,51.0 336.2,51.3 336.0,51.6 336.7,51.6 336.5,51.3 336.6,51.0 336.7,50.7 336.9,50.5" fill="#1e96e6" stroke="#1e96e6" stroke-width="0.6"/>
<polygon points="335.8,50.5 336.0,50.7 336.1,51.0 336.3,51.4 336.1,51.9 336.8,51.9 336.7,51.4 336.8,51.0 337.0,50.7 337.2,50.5" fill="#1e96e6" stroke="#1e96e6" stroke-width="0.6"/>
<polygon points="336.6,50.5 336.8,50.6 337.0,50.8 337.2,51.0 337.0,51.1 337.7,51.1 337.5,51.0 337.7,50.8 337.9,50.6 338.1,50.5" fill="#1e96e6" stroke="#1e96e6" stroke-width="0.6"/>
<polygon points="338.2,50.5 338.3,50.6 338.4,50.6 338.6,50.8 338.3,50.9 339.0,50.9 338.8,50.8 338.9,50.6 339.0,50.6 339.1,50.5" fill="#1e96e6" stroke="#1e96e6" stroke-width="0.6"/>
<polygon points="338.9,50.5 339.2,50.8 339.5,51.0 339.8,51.3 339.8,51.6 340.5,51.6 340.4,51.3 340.7,51.0 341.0,50.8 341.3,50.5" fill="#1e96e6" stroke="#1e96e6" stroke-width="0.6"/>
<polygon points="339.8,50.5 339.9,50.6 340.0,50.8 340.1,51.1 339.9,51.3 340.6,51.3 340.3,51.1 340.5,50.8 340.6,50.6 340.7,50.5" fill="#1e96e6" stroke="#1e96e6" stroke-width="0.6"/>
<polygon points="341.1,50.5 341.4,50.8 341.7,51.0 341.9,51.3 341.9,51.5 342.6,51.5 342.5,51.3 342.7,51.0 343.0,50.8 343.3,50.5" fill="#1e96e6" stroke="#1e96e6" stroke-width="0.6"/>
<polygon points="341.8,50.5 341.9,50.7 342.0,51.1 342.2,51.4 341.9,51.9 342.6,51.9 342.4,51.4 342.6,51.1 342.7,50.7 342.8,50.5" fill="#1e96e6" stroke="#1e96e6" stroke-width="0.6"/>
<polygon points="341.9,50.5 342.1,50.8 342.2,51.1 342.4,51.5 342.1,51.9 342.8,51.9 342.6,51.5 342.8,51.1 342.9,50.8 343.1,50.5" fill="#1e96e6" stroke="#1e96e6" stroke-width="0.6"/>
<polygon points="341.7,50.5 342.0,50.7 342.4,50.9 342.7,51.3 342.7,51.6 343.4,51.6 343.5,51.3 343.8,50.9 344.2,50.7 344.5,50.5" fill="#1e96e6" stroke="#1e96e6" stroke-width="0.6"/>
<polygon points="342.6,50.5 342.9,50.5 343.2,50.6 343.5,50.7 343.5,50.8 344.2,50.8 344.1,50.7 344.4,50.6 344.7,50.5 345.0,50.5" fill="#1e96e6" stroke="#1e96e6" stroke-width="0.6"/>
<polygon points="343.2,50.5 343.4,50.7 343.5,51.0 343.7,51.3 343.5,51.7 344.2,51.7 344.0,51.3 344.1,51.0 344.3,50.7 344.4,50.5" fill="#1e96e6" stroke="#1e96e6" stroke-width="0.6"/>
<polygon points="342.8,50.5 343.2,50.7 343.6,50.9 344.0,51.2 344.0,51.5 344.7,51.5 344.7,51.2 345.1,50.9 345.5,50.7 345.8,50.5" fill="#1e96e6" stroke="#1e96e6" stroke-width="0.6"/>
<polygon points="344.2,50.5 344.5,50.7 344.7,51.0 344.9,51.3 344.8,51.6 345.5,51.6 345.4,51.3 345.6,51.0 345.8,50.7 346.1,50.5" fill="#1e96e6" stroke="#1e96e6" stroke-width="0.6"/>
<polygon points="347.1,50.5 347.3,50.7 347.4,50.9 347.6,51.1 347.4,51.3 348.1,51.3 348.0,51.1 348.1,50.9 348.3,50.7 348.5,50.5" fill="#1e96e6" stroke="#1e96e6" stroke-width="0.6"/>
<polygon points="347.2,50.5 347.4,50.6 347.6,50.8 347.8,51.0 347.6,51.2 348.3,51.2 348.1,51.0 348.3,50.8 348.5,50.6 348.7,50.5" fill="#1e96e6" stroke="#1e96e6" stroke-width="0.6"/>
<polygon points="350.2,50.5 350.4,50.6 350.7,50.7 351.0,50.9 350.9,51.1 351.6,51.1 351.5,50.9 351.8,50.7 352.1,50.6 352.3,50.5" fill="#1e96e6" stroke="#1e96e6" stroke-width="0.6"/>
<polygon points="350.2,50.5 350.4,50.6 350.7,50.8 351.0,51.0 350.9,51.2 351.6,51.2 351.6,51.0 351.8,50.8 352.1,50.6 352.4,50.5" fill="#1e96e6" stroke="#1e96e6" stroke-width="0.6"/>
<polygon points="350.6,50.5 350.9,50.7 351.2,51.1 351.5,51.5 351.4,52.0 352.1,52.0 352.0,51.5 352.3,51.1 352.6,50.7 352.9,50.5" fill="#1e96e6" stroke="#1e96e6" stroke-width="0.6"/>
<polygon points="352.6,50.5 352.8,50.7 353.0,51.0 353.2,51.4 353.0,51.8 353.7,51.8 353.5,51.4 353.7,51.0 353.9,50.7 354.1,50.5" fill="#1e96e6" stroke="#1e96e6" stroke-width="0.6"/>
<polygon points="353.3,50.5 353.5,50.7 353.8,50.9 354.1,51.1 354.1,51.3 354.8,51.3 354.7,51.1 355.0,50.9 355.3,50.7 355.6,50.5" fill="#1e96e6" stroke="#1e96e6" stroke-width="0.6"/>
<polygon points="353.2,50.5 353.5,50.7 353.8,51.0 354.2,51.3 354.1,51.7 354.8,51.7 354.8,51.3 355.1,51.0 355.5,50.7 355.8,50.5" fill="#1e96e6" stroke="#1e96e6" stroke-width="0.6"/>
<polygon points="354.4,50.5 354.5,50.7 354.6,50.9 354.7,51.2 354.5,51.5 355.2,51.5 355.0,51.2 355.1,50.9 355.2,50.7 355.3,50.5" fill="#1e96e6" stroke="#1e96e6" stroke-width="0.6"/>
<polygon points="356.0,50.5 356.2,50.7 356.4,51.0 356.6,51.2 356.5,51.5 357.2,51.5 357.1,51.2 357.3,51.0 357.5,50.7 357.8,50.5" fill="#1e96e6" stroke="#1e96e6" stroke-width="0.6"/>
<polygon points="356.3,50.5 356.6,50.7 356.9,50.8 357.2,51.1 357.1,51.3 357.8,51.3 357.8,51.1 358.1,50.8 358.4,50.7 358.7,50.5" fill="#1e96e6" stroke="#1e96e6" stroke-width="0.6"/>
<polygon points="356.7,50.5 357.0,50.6 357.2,50.8 357.5,51.1 357.4,51.4 358.1,51.4 358.1,51.1 358.3,50.8 358.6,50.6 358.9,50.5" fill="#1e96e6" stroke="#1e96e6" stroke-width="0.6"/>
<polygon points="358.7,50.5 359.0,50.5 359.3,50.6 359.6,50.7 359.6,50.7 360.3,50.7 360.3,50.7 360.6,50.6 360.9,50.5 361.2,50.5" fill="#1e96e6" stroke="#1e96e6" stroke-width="0.6"/>
<polygon points="359.7,50.5 359.9,50.6 360.1,50.8 360.3,51.0 360.1,51.2 360.8,51.2 360.7,51.0 360.8,50.8 361.0,50.6 361.2,50.5" fill="#1e96e6" stroke="#1e96e6" stroke-width="0.6"/>
<polygon points="361.0,50.5 361.3,50.7 361.6,50.9 361.9,51.2 361.8,51.6 362.5,51.6 362.4,51.2 362.7,50.9 363.0,50.7 363.2,50.5" fill="#1e96e6" stroke="#1e96e6" stroke-width="0.6"/>
<polygon points="363.0,50.5 363.2,50.7 363.4,50.9 363.5,51.2 363.4,51.6 364.1,51.6 363.9,51.2 364.1,50.9 364.3,50.7 364.5,50.5" fill="#1e96e6" stroke="#1e96e6" stroke-width="0.6"/>
<polygon points="364.4,50.5 364.5,50.7 364.6,50.9 364.7,51.1 364.5,51.4 365.2,51.4 365.0,51.1 365.1,50.9 365.2,50.7 365.3,50.5" fill="#1e96e6" stroke="#1e96e6" stroke-width="0.6"/>
<polygon points="365.3,50.5 365.4,50.7 365.6,50.9 365.7,51.2 365.4,51.5 366.1,51.5 365.9,51.2 366.0,50.9 366.2,50.7 366.3,50.5" fill="#1e96e6" stroke="#1e96e6" stroke-width="0.6"/>
<polygon points="367.2,50.5 367.3,50.7 367.4,51.1 367.6,51.6 367.4,52.0 368.1,52.0 367.8,51.6 368.0,51.1 368.1,50.7 368.2,50.5" fill="#1e96e6" stroke="#1e96e6" stroke-width="0.6"/>
<polygon points="367.2,50.5 367.4,51.2 367.5,52.0 367.6,52.9 367.4,53.9 368.1,53.9 367.9,52.9 368.0,52.0 368.2,51.2 368.3,50.5" fill="#1e96e6" stroke="#1e96e6" stroke-width="0.6"/>
<polygon points="367.3,50.5 367.5,50.7 367.7,50.9 367.9,51.1 367.7,51.3 368.4,51.3 368.3,51.1 368.5,50.9 368.6,50.7 368.8,50.5" fill="#1e96e6" stroke="#1e96e6" stroke-width="0.6"/>
<polygon points="368.4,50.5 368.6,51.2 368.8,52.3 369.0,53.7 368.9,55.3 369.6,55.3 369.4,53.7 369.6,52.3 369.8,51.2 370.0,50.5" fill="#1e96e6" stroke="#1e96e6" stroke-width="0.6"/>
<polygon points="368.7,50.5 368.9,51.2 369.1,51.9 369.3,52.8 369.2,53.7 369.9,53.7 369.8,52.8 370.0,51.9 370.2,51.2 370.4,50.5" fill="#1e96e6" stroke="#1e96e6" stroke-width="0.6"/>
<polygon points="374.0,50.5 374.3,50.9 374.6,51.8 374.9,53.1 374.9,54.7 375.6,54.7 375.5,53.1 375.9,51.8 376.2,50.9 376.5,50.5" fill="#1e96e6" stroke="#1e96e6" stroke-width="0.6"/>
<polygon points="376.9,50.5 377.4,52.0 377.8,54.8 378.3,58.5 378.5,63.0 379.2,63.0 379.3,58.5 379.8,54.8 380.3,52.0 380.8,50.5" fill="#1e96e6" stroke="#1e96e6" stroke-width="0.6"/>
<polygon points="377.7,50.5 378.1,51.1 378.6,52.6 379.0,54.9 379.1,57.7 379.8,57.7 379.9,54.9 380.4,52.6 380.8,51.1 381.3,50.5" fill="#1e96e6" stroke="#1e96e6" stroke-width="0.6"/>
<polygon points="379.6,50.5 379.9,51.3 380.1,53.1 380.3,55.4 380.1,58.2 380.8,58.2 380.7,55.4 380.9,53.1 381.1,51.3 381.3,50.5" fill="#1e96e6" stroke="#1e96e6" stroke-width="0.6"/>
<polygon points="380.9,50.5 381.2,52.0 381.5,54.9 381.8,58.8 381.7,63.4 382.4,63.4 382.3,58.8 382.6,54.9 382.9,52.0 383.2,50.5" fill="#1e96e6" stroke="#1e96e6" stroke-width="0.6"/>
<polygon points="381.1,50.5 381.4,51.9 381.7,54.2 381.9,56.9 381.9,60.1 382.6,60.1 382.5,56.9 382.8,54.2 383.0,51.9 383.3,50.5" fill="#1e96e6" stroke="#1e96e6" stroke-width="0.6"/>
<polygon points="380.7,50.5 381.1,51.5 381.5,52.8 381.9,54.4 381.9,56.1 382.6,56.1 382.7,54.4 383.1,52.8 383.4,51.5 383.8,50.5" fill="#1e96e6" stroke="#1e96e6" stroke-width="0.6"/>
<polygon points="381.7,50.5 382.3,52.0 382.9,55.4 383.5,60.2 383.7,66.3 384.4,66.3 384.6,60.2 385.2,55.4 385.8,52.0 386.4,50.5" fill="#1e96e6" stroke="#1e96e6" stroke-width="0.6"/>
<polygon points="384.5,50.5 385.0,51.1 385.6,52.3 386.1,54.0 386.3,56.1 387.0,56.1 387.2,54.0 387.7,52.3 388.2,51.1 388.7,50.5" fill="#1e96e6" stroke="#1e96e6" stroke-width="0.6"/>
<polygon points="387.1,50.5 387.6,51.5 388.1,52.9 388.7,54.6 388.8,56.4 389.5,56.4 389.7,54.6 390.3,52.9 390.8,51.5 391.3,50.5" fill="#1e96e6" stroke="#1e96e6" stroke-width="0.6"/>
<polygon points="390.2,50.5 390.5,51.3 390.8,52.5 391.2,53.9 391.2,55.5 391.9,55.5 391.8,53.9 392.2,52.5 392.5,51.3 392.9,50.5" fill="#1e96e6" stroke="#1e96e6" stroke-width="0.6"/>
<polygon points="390.4,50.5 390.7,51.2 391.1,52.3 391.4,53.7 391.4,55.3 392.1,55.3 392.1,53.7 392.4,52.3 392.8,51.2 393.1,50.5" fill="#1e96e6" stroke="#1e96e6" stroke-width="0.6"/>
<polygon points="392.7,50.5 393.2,51.4 393.7,53.7 394.1,57.0 394.3,61.4 395.0,61.4 395.1,57.0 395.6,53.7 396.0,51.4 396.5,50.5" fill="#1e96e6" stroke="#1e96e6" stroke-width="0.6"/>
<polygon points="394.4,50.5 394.6,52.0 394.9,54.5 395.1,57.5 395.0,60.9 395.7,60.9 395.6,57.5 395.8,54.5 396.1,52.0 396.3,50.5" fill="#1e96e6" stroke="#1e96e6" stroke-width="0.6"/>
<polygon points="394.8,50.5 395.3,51.1 395.8,52.5 396.3,54.5 396.5,57.1 397.2,57.1 397.3,54.5 397.8,52.5 398.3,51.1 398.8,50.5" fill="#1e96e6" stroke="#1e96e6" stroke-width="0.6"/>
<polygon points="400.3,50.5 400.7,52.7 401.1,56.2 401.4,60.4 401.5,65.0 402.2,65.0 402.2,60.4 402.6,56.2 403.0,52.7 403.3,50.5" fill="#1e96e6" stroke="#1e96e6" stroke-width="0.6"/>
<polygon points="401.1,50.5 401.4,51.6 401.7,53.2 402.1,55.1 402.0,57.3 402.7,57.3 402.7,55.1 403.0,53.2 403.4,51.6 403.7,50.5" fill="#1e96e6" stroke="#1e96e6" stroke-width="0.6"/>
<polygon points="404.1,50.5 404.4,51.0 404.7,52.1 405.0,53.7 404.9,55.8 405.6,55.8 405.6,53.7 405.8,52.1 406.1,51.0 406.4,50.5" fill="#1e96e6" stroke="#1e96e6" stroke-width="0.6"/>
<polygon points="403.8,50.5 404.3,51.5 404.8,53.5 405.4,56.2 405.6,59.4 406.3,59.4 406.5,56.2 407.0,53.5 407.5,51.5 408.1,50.5" fill="#1e96e6" stroke="#1e96e6" stroke-width="0.6"/>
<polygon points="406.1,50.5 406.3,51.2 406.6,52.0 406.8,52.9 406.7,53.9 407.4,53.9 407.3,52.9 407.5,52.0 407.8,51.2 408.0,50.5" fill="#1e96e6" stroke="#1e96e6" stroke-width="0.6"/>
<polygon points="405.5,50.5 406.1,51.0 406.7,51.9 407.2,53.1 407.4,54.5 408.1,54.5 408.4,53.1 408.9,51.9 409.5,51.0 410.1,50.5" fill="#1e96e6" stroke="#1e96e6" stroke-width="0.6"/>
<polygon points="407.1,50.5 407.4,51.4 407.6,52.6 407.9,53.8 407.8,55.0 408.5,55.0 408.4,53.8 408.7,52.6 409.0,51.4 409.2,50.5" fill="#1e96e6" stroke="#1e96e6" stroke-width="0.6"/>
<polygon points="408.7,50.5 409.0,51.2 409.3,52.2 409.5,53.2 409.5,54.2 410.2,54.2 410.1,53.2 410.4,52.2 410.6,51.2 410.9,50.5" fill="#1e96e6" stroke="#1e96e6" stroke-width="0.6"/>
<polygon points="410.7,50.5 410.9,51.0 411.1,52.0 411.3,53.4 411.2,55.1 411.9,55.1 411.7,53.4 411.9,52.0 412.1,51.0 412.3,50.5" fill="#1e96e6" stroke="#1e96e6" stroke-width="0.6"/>
<polygon points="410.1,50.5 410.5,51.3 410.9,52.8 411.3,54.6 411.4,56.8 412.1,56.8 412.1,54.6 412.5,52.8 412.9,51.3 413.3,50.5" fill="#1e96e6" stroke="#1e96e6" stroke-width="0.6"/>
<polygon points="410.4,50.5 411.0,51.6 411.6,54.0 412.2,57.4 412.5,61.7 413.2,61.7 413.4,57.4 414.0,54.0 414.6,51.6 415.2,50.5" fill="#1e96e6" stroke="#1e96e6" stroke-width="0.6"/>
<polygon points="411.8,50.5 412.1,52.5 412.4,55.0 412.7,57.8 412.6,60.7 413.3,60.7 413.3,57.8 413.6,55.0 413.9,52.5 414.1,50.5" fill="#1e96e6" stroke="#1e96e6" stroke-width="0.6"/>
<polygon points="410.9,50.5 411.4,51.4 412.0,53.2 412.6,55.8 412.9,58.9 413.6,58.9 413.8,55.8 414.4,53.2 415.0,51.4 415.5,50.5" fill="#1e96e6" stroke="#1e96e6" stroke-width="0.6"/>
<polygon points="417.7,50.5 418.0,52.9 418.4,56.8 418.7,61.6 418.7,66.9 419.4,66.9 419.3,61.6 419.7,56.8 420.0,52.9 420.3,50.5" fill="#1e96e6" stroke="#1e96e6" stroke-width="0.6"/>
<polygon points="418.2,50.5 418.6,51.6 419.0,53.8 419.3,56.9 419.3,60.8 420.0,60.8 420.1,56.9 420.4,53.8 420.8,51.6 421.2,50.5" fill="#1e96e6" stroke="#1e96e6" stroke-width="0.6"/>
<polygon points="418.2,50.5 418.6,51.6 419.0,53.9 419.4,56.9 419.4,60.5 420.1,60.5 420.1,56.9 420.5,53.9 420.9,51.6 421.3,50.5" fill="#1e96e6" stroke="#1e96e6" stroke-width="0.6"/>
<polygon points="422.1,50.5 422.3,52.9 422.6,56.1 422.8,59.7 422.7,63.6 423.4,63.6 423.3,59.7 423.5,56.1 423.8,52.9 424.0,50.5" fill="#1e96e6" stroke="#1e96e6" stroke-width="0.6"/>
<polygon points="421.9,50.5 422.4,51.1 422.9,52.6 423.4,54.9 423.5,57.9 424.2,57.9 424.4,54.9 424.9,52.6 425.4,51.1 425.9,50.5" fill="#1e96e6" stroke="#1e96e6" stroke-width="0.6"/>
<polygon points="424.1,50.5 424.4,50.9 424.7,51.8 425.1,53.0 425.0,54.5 425.7,54.5 425.7,53.0 426.0,51.8 426.3,50.9 426.7,50.5" fill="#1e96e6" stroke="#1e96e6" stroke-width="0.6"/>
<polygon points="428.9,50.5 429.2,52.3 429.5,55.0 429.9,58.3 429.9,62.0 430.6,62.0 430.5,58.3 430.9,55.0 431.2,52.3 431.6,50.5" fill="#1e96e6" stroke="#1e96e6" stroke-width="0.6"/>
<polygon points="429.7,50.5 430.0,53.5 430.3,57.4 430.7,62.0 430.7,66.8 431.4,66.8 431.4,62.0 431.7,57.4 432.0,53.5 432.4,50.5" fill="#1e96e6" stroke="#1e96e6" stroke-width="0.6"/>
<polygon points="428.9,50.5 429.4,51.4 430.0,53.0 430.5,55.1 430.7,57.7 431.4,57.7 431.6,55.1 432.1,53.0 432.7,51.4 433.2,50.5" fill="#1e96e6" stroke="#1e96e6" stroke-width="0.6"/>
<polygon points="429.6,50.5 430.1,51.8 430.7,54.2 431.2,57.5 431.4,61.5 432.1,61.5 432.2,57.5 432.7,54.2 433.3,51.8 433.8,50.5" fill="#1e96e6" stroke="#1e96e6" stroke-width="0.6"/>
<polygon points="430.2,50.5 430.7,51.8 431.1,54.5 431.6,58.1 431.7,62.5 432.4,62.5 432.5,58.1 432.9,54.5 433.4,51.8 433.9,50.5" fill="#1e96e6" stroke="#1e96e6" stroke-width="0.6"/>
<polygon points="431.2,50.5 431.8,52.0 432.4,54.4 433.0,57.5 433.2,61.1 433.9,61.1 434.2,57.5 434.8,54.4 435.3,52.0 435.9,50.5" fill="#1e96e6" stroke="#1e96e6" stroke-width="0.6"/>
<polygon points="433.2,50.5 433.5,53.5 433.7,57.7 433.9,62.5 433.8,67.8 434.5,67.8 434.4,62.5 434.6,57.7 434.9,53.5 435.1,50.5" fill="#1e96e6" stroke="#1e96e6" stroke-width="0.6"/>
<polygon points="433.1,50.5 433.4,52.1 433.7,54.8 434.0,58.0 433.9,61.7 434.6,61.7 434.5,58.0 434.8,54.8 435.1,52.1 435.4,50.5" fill="#1e96e6" stroke="#1e96e6" stroke-width="0.6"/>
<polygon points="432.3,50.5 432.9,53.6 433.4,57.1 433.9,60.9 434.1,64.9 434.8,64.9 435.0,60.9 435.5,57.1 436.0,53.6 436.5,50.5" fill="#1e96e6" stroke="#1e96e6" stroke-width="0.6"/>
<polygon points="433.5,50.5 433.9,53.8 434.3,59.2 434.7,65.9 434.8,73.5 435.5,73.5 435.5,65.9 435.9,59.2 436.4,53.8 436.8,50.5" fill="#1e96e6" stroke="#1e96e6" stroke-width="0.6"/>
<polygon points="435.2,50.5 435.5,52.3 435.8,56.3 436.1,62.1 436.0,69.4 436.7,69.4 436.7,62.1 437.0,56.3 437.2,52.3 437.5,50.5" fill="#1e96e6" stroke="#1e96e6" stroke-width="0.6"/>
<polygon points="437.2,50.5 437.4,51.9 437.6,55.2 437.8,59.9 437.7,65.9 438.4,65.9 438.2,59.9 438.4,55.2 438.7,51.9 438.9,50.5" fill="#1e96e6" stroke="#1e96e6" stroke-width="0.6"/>
<polygon points="436.0,50.5 436.6,52.7 437.1,57.4 437.7,64.1 437.9,72.4 438.6,72.4 438.7,64.1 439.3,57.4 439.8,52.7 440.4,50.5" fill="#1e96e6" stroke="#1e96e6" stroke-width="0.6"/>
<polygon points="436.9,50.5 437.4,52.8 438.0,56.7 438.5,61.5 438.7,67.1 439.4,67.1 439.6,61.5 440.1,56.7 440.7,52.8 441.2,50.5" fill="#1e96e6" stroke="#1e96e6" stroke-width="0.6"/>
<polygon points="438.3,50.5 438.6,52.1 439.0,55.4 439.3,59.9 439.3,65.6 440.0,65.6 440.0,59.9 440.3,55.4 440.6,52.1 441.0,50.5" fill="#1e96e6" stroke="#1e96e6" stroke-width="0.6"/>
<polygon points="440.3,50.5 440.6,51.6 440.8,53.2 441.1,55.3 441.0,57.6 441.7,57.6 441.6,55.3 441.9,53.2 442.2,51.6 442.4,50.5" fill="#1e96e6" stroke="#1e96e6" stroke-width="0.6"/>
<polygon points="439.5,50.5 440.1,51.8 440.7,55.0 441.3,59.8 441.5,66.1 442.2,66.1 442.4,59.8 443.0,55.0 443.6,51.8 444.1,50.5" fill="#1e96e6" stroke="#1e96e6" stroke-width="0.6"/>
<polygon points="446.1,50.5 446.4,52.8 446.7,56.4 447.0,60.7 446.9,65.6 447.6,65.6 447.6,60.7 447.9,56.4 448.2,52.8 448.5,50.5" fill="#1e96e6" stroke="#1e96e6" stroke-width="0.6"/>
<polygon points="446.1,50.5 446.4,54.0 446.7,58.2 447.0,62.8 446.9,67.7 447.6,67.7 447.6,62.8 447.9,58.2 448.2,54.0 448.5,50.5" fill="#1e96e6" stroke="#1e96e6" stroke-width="0.6"/>
<polygon points="445.8,50.5 446.3,52.7 446.8,55.3 447.3,58.0 447.4,60.8 448.1,60.8 448.2,58.0 448.7,55.3 449.2,52.7 449.7,50.5" fill="#1e96e6" stroke="#1e96e6" stroke-width="0.6"/>
<polygon points="446.8,50.5 447.4,52.6 447.9,56.7 448.5,62.1 448.7,68.6 449.4,68.6 449.6,62.1 450.1,56.7 450.6,52.6 451.2,50.5" fill="#1e96e6" stroke="#1e96e6" stroke-width="0.6"/>
<polygon points="450.0,50.5 450.3,54.3 450.6,57.9 450.9,61.3 450.8,64.8 451.5,64.8 451.4,61.3 451.7,57.9 452.0,54.3 452.3,50.5" fill="#4a6fd6" stroke="#4a6fd6" stroke-width="0.6"/>
<polygon points="450.7,50.5 450.9,52.7 451.1,54.5 451.3,56.1 451.1,57.7 451.8,57.7 451.7,56.1 451.9,54.5 452.1,52.7 452.3,50.5" fill="#4a6fd6" stroke="#4a6fd6" stroke-width="0.6"/>
<polygon points="450.7,50.5 450.9,53.4 451.1,55.7 451.3,57.9 451.2,59.9 451.9,59.9 451.8,57.9 452.0,55.7 452.2,53.4 452.4,50.5" fill="#4a6fd6" stroke="#4a6fd6" stroke-width="0.6"/>
<polygon points="452.4,50.5 452.6,52.8 452.8,55.2 453.0,57.6 452.8,60.0 453.5,60.0 453.4,57.6 453.6,55.2 453.8,52.8 454.0,50.5" fill="#4a6fd6" stroke="#4a6fd6" stroke-width="0.6"/>
<polygon points="452.3,50.5 452.6,52.6 452.9,54.6 453.2,56.6 453.1,58.5 453.8,58.5 453.8,56.6 454.1,54.6 454.3,52.6 454.6,50.5" fill="#4a6fd6" stroke="#4a6fd6" stroke-width="0.6"/>
<polygon points="453.1,50.5 453.4,53.7 453.7,57.5 454.0,61.5 453.9,65.7 454.6,65.7 454.5,61.5 454.8,57.5 455.1,53.7 455.3,50.5" fill="#4a6fd6" stroke="#4a6fd6" stroke-width="0.6"/>
<polygon points="455.2,50.5 455.4,56.0 455.7,60.0 456.0,63.5 455.9,66.8 456.6,66.8 456.5,63.5 456.8,60.0 457.1,56.0 457.3,50.5" fill="#4a6fd6" stroke="#4a6fd6" stroke-width="0.6"/>
<polygon points="456.9,50.5 457.1,54.3 457.3,56.9 457.5,59.2 457.3,61.3 458.0,61.3 457.8,59.2 458.0,56.9 458.2,54.3 458.3,50.5" fill="#4a6fd6" stroke="#4a6fd6" stroke-width="0.6"/>
<polygon points="456.8,50.5 457.1,52.1 457.3,53.9 457.6,55.8 457.5,57.7 458.2,57.7 458.1,55.8 458.4,53.9 458.6,52.1 458.9,50.5" fill="#4a6fd6" stroke="#4a6fd6" stroke-width="0.6"/>
<polygon points="460.0,50.5 460.2,52.7 460.5,55.2 460.7,57.9 460.6,60.7 461.3,60.7 461.2,57.9 461.5,55.2 461.7,52.7 462.0,50.5" fill="#4a6fd6" stroke="#4a6fd6" stroke-width="0.6"/>
<polygon points="460.4,50.5 460.5,53.7 460.7,56.5 460.9,59.3 460.7,62.0 461.4,62.0 461.3,59.3 461.4,56.5 461.6,53.7 461.8,50.5" fill="#4a6fd6" stroke="#4a6fd6" stroke-width="0.6"/>
<polygon points="460.7,50.5 460.9,54.9 461.0,59.4 461.2,64.0 461.1,68.6 461.8,68.6 461.6,64.0 461.8,59.4 462.0,54.9 462.2,50.5" fill="#4a6fd6" stroke="#4a6fd6" stroke-width="0.6"/>
<polygon points="462.5,50.5 462.7,55.7 462.9,61.3 463.1,67.0 462.9,72.9 463.6,72.9 463.4,67.0 463.6,61.3 463.8,55.7 463.9,50.5" fill="#4a6fd6" stroke="#4a6fd6" stroke-width="0.6"/>
<polygon points="463.1,50.5 463.2,55.1 463.4,60.9 463.5,67.2 463.3,74.0 464.0,74.0 463.8,67.2 463.9,60.9 464.1,55.1 464.2,50.5" fill="#4a6fd6" stroke="#4a6fd6" stroke-width="0.6"/>
<polygon points="463.5,50.5 463.7,54.3 463.9,58.0 464.1,61.5 464.0,65.0 464.7,65.0 464.6,61.5 464.8,58.0 465.0,54.3 465.2,50.5" fill="#4a6fd6" stroke="#4a6fd6" stroke-width="0.6"/>
<polygon points="464.5,50.5 464.7,54.7 464.9,58.2 465.1,61.5 464.9,64.7 465.6,64.7 465.4,61.5 465.6,58.2 465.8,54.7 466.0,50.5" fill="#4a6fd6" stroke="#4a6fd6" stroke-width="0.6"/>
<polygon points="465.4,50.5 465.5,55.6 465.7,60.1 465.8,64.5 465.6,68.8 466.3,68.8 466.1,64.5 466.2,60.1 466.3,55.6 466.5,50.5" fill="#4a6fd6" stroke="#4a6fd6" stroke-width="0.6"/>
<polygon points="465.4,50.5 465.7,53.4 466.1,55.7 466.4,57.9 466.3,59.9 467.0,59.9 467.0,57.9 467.3,55.7 467.7,53.4 468.0,50.5" fill="#4a6fd6" stroke="#4a6fd6" stroke-width="0.6"/>
<polygon points="466.7,50.5 466.9,53.9 467.0,58.1 467.1,62.6 466.9,67.4 467.6,67.4 467.4,62.6 467.6,58.1 467.7,53.9 467.8,50.5" fill="#4a6fd6" stroke="#4a6fd6" stroke-width="0.6"/>
<polygon points="467.7,50.5 467.9,54.4 468.1,57.8 468.3,60.9 468.2,63.9 468.9,63.9 468.7,60.9 468.9,57.8 469.1,54.4 469.4,50.5" fill="#4a6fd6" stroke="#4a6fd6" stroke-width="0.6"/>
<polygon points="467.7,50.5 468.0,55.8 468.3,61.8 468.6,68.0 468.5,74.4 469.2,74.4 469.1,68.0 469.4,61.8 469.7,55.8 470.0,50.5" fill="#4a6fd6" stroke="#4a6fd6" stroke-width="0.6"/>
<polygon points="469.9,50.5 470.1,53.1 470.2,55.6 470.4,58.1 470.2,60.5 470.9,60.5 470.8,58.1 470.9,55.6 471.1,53.1 471.3,50.5" fill="#4a6fd6" stroke="#4a6fd6" stroke-width="0.6"/>
<polygon points="470.0,50.5 470.3,54.4 470.5,58.9 470.7,63.7 470.5,68.8 471.2,68.8 471.1,63.7 471.3,58.9 471.5,54.4 471.8,50.5" fill="#4a6fd6" stroke="#4a6fd6" stroke-width="0.6"/>
<polygon points="470.2,50.5 470.4,53.5 470.6,57.3 470.8,61.6 470.6,66.2 471.3,66.2 471.2,61.6 471.3,57.3 471.5,53.5 471.7,50.5" fill="#4a6fd6" stroke="#4a6fd6" stroke-width="0.6"/>
<polygon points="470.5,50.5 470.7,53.1 470.9,55.8 471.1,58.5 471.0,61.2 471.7,61.2 471.5,58.5 471.7,55.8 471.9,53.1 472.1,50.5" fill="#4a6fd6" stroke="#4a6fd6" stroke-width="0.6"/>
<polygon points="470.9,50.5 471.1,57.2 471.3,64.3 471.4,71.7 471.2,79.2 471.9,79.2 471.7,71.7 471.9,64.3 472.1,57.2 472.2,50.5" fill="#4a6fd6" stroke="#4a6fd6" stroke-width="0.6"/>
<polygon points="471.0,50.5 471.1,57.3 471.3,64.7 471.4,72.3 471.3,80.1 472.0,80.1 471.8,72.3 471.9,64.7 472.1,57.3 472.3,50.5" fill="#4a6fd6" stroke="#4a6fd6" stroke-width="0.6"/>
<polygon points="472.0,50.5 472.2,54.4 472.3,58.4 472.4,62.3 472.2,66.1 472.9,66.1 472.7,62.3 472.9,58.4 473.0,54.4 473.2,50.5" fill="#4a6fd6" stroke="#4a6fd6" stroke-width="0.6"/>
<polygon points="471.9,50.5 472.2,56.2 472.5,61.4 472.8,66.5 472.7,71.4 473.4,71.4 473.3,66.5 473.6,61.4 473.9,56.2 474.2,50.5" fill="#4a6fd6" stroke="#4a6fd6" stroke-width="0.6"/>
<polygon points="472.5,50.5 472.7,56.5 472.9,61.8 473.2,66.8 473.0,71.6 473.7,71.6 473.6,66.8 473.8,61.8 474.0,56.5 474.2,50.5" fill="#4a6fd6" stroke="#4a6fd6" stroke-width="0.6"/>
<polygon points="472.8,50.5 473.0,55.8 473.2,60.0 473.4,63.7 473.2,67.2 473.9,67.2 473.7,63.7 473.9,60.0 474.1,55.8 474.3,50.5" fill="#4a6fd6" stroke="#4a6fd6" stroke-width="0.6"/>
<polygon points="474.2,50.5 474.3,53.8 474.5,57.0 474.7,60.1 474.5,63.2 475.2,63.2 475.0,60.1 475.2,57.0 475.3,53.8 475.5,50.5" fill="#4a6fd6" stroke="#4a6fd6" stroke-width="0.6"/>
<polygon points="475.6,50.5 475.8,54.8 476.0,58.8 476.2,62.6 476.0,66.5 476.7,66.5 476.6,62.6 476.8,58.8 477.0,54.8 477.2,50.5" fill="#4a6fd6" stroke="#4a6fd6" stroke-width="0.6"/>
<polygon points="476.9,50.5 477.2,60.1 477.5,68.6 477.8,76.7 477.7,84.5 478.4,84.5 478.4,76.7 478.7,68.6 479.0,60.1 479.3,50.5" fill="#4a6fd6" stroke="#4a6fd6" stroke-width="0.6"/>
<polygon points="477.9,50.5 478.1,54.5 478.3,59.6 478.5,65.2 478.3,71.1 479.0,71.1 478.8,65.2 479.0,59.6 479.2,54.5 479.3,50.5" fill="#4a6fd6" stroke="#4a6fd6" stroke-width="0.6"/>
<polygon points="477.6,50.5 477.9,54.4 478.2,58.3 478.4,62.1 478.3,66.0 479.0,66.0 478.9,62.1 479.2,58.3 479.4,54.4 479.7,50.5" fill="#4a6fd6" stroke="#4a6fd6" stroke-width="0.6"/>
<polygon points="478.3,50.5 478.5,58.9 478.7,67.3 478.9,75.7 478.8,84.0 479.5,84.0 479.3,75.7 479.5,67.3 479.7,58.9 479.9,50.5" fill="#4a6fd6" stroke="#4a6fd6" stroke-width="0.6"/>
<polygon points="478.7,50.5 478.8,59.9 479.0,67.9 479.1,75.6 478.9,83.0 479.6,83.0 479.4,75.6 479.5,67.9 479.7,59.9 479.8,50.5" fill="#4a6fd6" stroke="#4a6fd6" stroke-width="0.6"/>
<polygon points="478.8,50.5 479.1,57.8 479.4,66.2 479.7,75.2 479.7,84.6 480.4,84.6 480.3,75.2 480.6,66.2 480.9,57.8 481.2,50.5" fill="#4a6fd6" stroke="#4a6fd6" stroke-width="0.6"/>
<polygon points="479.4,50.5 479.6,54.7 479.9,57.4 480.1,59.8 479.9,62.0 480.6,62.0 480.5,59.8 480.7,57.4 480.9,54.7 481.1,50.5" fill="#4a6fd6" stroke="#4a6fd6" stroke-width="0.6"/>
<polygon points="480.9,50.5 481.0,54.1 481.2,56.8 481.4,59.2 481.3,61.5 482.0,61.5 481.8,59.2 482.0,56.8 482.2,54.1 482.4,50.5" fill="#4a6fd6" stroke="#4a6fd6" stroke-width="0.6"/>
<polygon points="481.1,50.5 481.2,55.3 481.3,61.0 481.5,67.3 481.3,73.9 482.0,73.9 481.8,67.3 481.9,61.0 482.0,55.3 482.2,50.5" fill="#4a6fd6" stroke="#4a6fd6" stroke-width="0.6"/>
<polygon points="480.7,50.5 481.0,54.9 481.3,59.9 481.6,65.2 481.5,70.7 482.2,70.7 482.2,65.2 482.5,59.9 482.8,54.9 483.0,50.5" fill="#4a6fd6" stroke="#4a6fd6" stroke-width="0.6"/>
<polygon points="481.1,50.5 481.4,58.5 481.7,66.6 482.1,74.7 482.0,82.9 482.7,82.9 482.7,74.7 483.0,66.6 483.3,58.5 483.6,50.5" fill="#4a6fd6" stroke="#4a6fd6" stroke-width="0.6"/>
<polygon points="481.5,50.5 481.8,60.6 482.1,69.0 482.5,76.9 482.4,84.4 483.1,84.4 483.1,76.9 483.4,69.0 483.7,60.6 484.0,50.5" fill="#4a6fd6" stroke="#4a6fd6" stroke-width="0.6"/>
<polygon points="481.8,50.5 482.1,61.2 482.3,69.3 482.6,76.7 482.5,83.6 483.2,83.6 483.1,76.7 483.4,69.3 483.6,61.2 483.9,50.5" fill="#4a6fd6" stroke="#4a6fd6" stroke-width="0.6"/>
<polygon points="482.2,50.5 482.5,56.2 482.8,60.8 483.1,65.2 483.1,69.4 483.8,69.4 483.7,65.2 484.0,60.8 484.4,56.2 484.7,50.5" fill="#4a6fd6" stroke="#4a6fd6" stroke-width="0.6"/>
<polygon points="483.0,50.5 483.2,52.8 483.4,55.8 483.6,59.1 483.5,62.7 484.2,62.7 484.0,59.1 484.2,55.8 484.4,52.8 484.6,50.5" fill="#4a6fd6" stroke="#4a6fd6" stroke-width="0.6"/>
<polygon points="482.6,50.5 482.9,59.1 483.2,64.5 483.6,69.2 483.5,73.4 484.2,73.4 484.2,69.2 484.5,64.5 484.8,59.1 485.1,50.5" fill="#4a6fd6" stroke="#4a6fd6" stroke-width="0.6"/>
<polygon points="483.5,50.5 483.6,56.9 483.8,64.9 483.9,73.6 483.7,82.8 484.4,82.8 484.2,73.6 484.4,64.9 484.5,56.9 484.7,50.5" fill="#4a6fd6" stroke="#4a6fd6" stroke-width="0.6"/>
<polygon points="486.5,50.5 486.7,54.4 486.9,58.3 487.2,62.0 487.1,65.8 487.8,65.8 487.7,62.0 487.9,58.3 488.2,54.4 488.4,50.5" fill="#4a6fd6" stroke="#4a6fd6" stroke-width="0.6"/>
<polygon points="488.0,50.5 488.2,56.9 488.4,61.8 488.6,66.2 488.4,70.4 489.1,70.4 489.0,66.2 489.2,61.8 489.4,56.9 489.6,50.5" fill="#4a6fd6" stroke="#4a6fd6" stroke-width="0.6"/>
<polygon points="488.1,50.5 488.4,53.9 488.7,57.9 489.0,62.3 489.0,66.9 489.7,66.9 489.6,62.3 489.9,57.9 490.2,53.9 490.5,50.5" fill="#4a6fd6" stroke="#4a6fd6" stroke-width="0.6"/>
<polygon points="488.8,50.5 489.0,60.1 489.2,67.6 489.4,74.5 489.3,81.1 490.0,81.1 489.9,74.5 490.1,67.6 490.3,60.1 490.5,50.5" fill="#4a6fd6" stroke="#4a6fd6" stroke-width="0.6"/>
<polygon points="488.9,50.5 489.1,60.2 489.3,69.7 489.5,79.1 489.4,88.6 490.1,88.6 489.9,79.1 490.1,69.7 490.3,60.2 490.5,50.5" fill="#4a6fd6" stroke="#4a6fd6" stroke-width="0.6"/>
<polygon points="489.2,50.5 489.5,57.5 489.8,62.3 490.1,66.6 490.0,70.5 490.7,70.5 490.6,66.6 490.9,62.3 491.2,57.5 491.5,50.5" fill="#4a6fd6" stroke="#4a6fd6" stroke-width="0.6"/>
<polygon points="490.9,50.5 491.2,57.1 491.5,65.5 491.8,74.8 491.8,84.7 492.5,84.7 492.4,74.8 492.7,65.5 493.0,57.1 493.3,50.5" fill="#4a6fd6" stroke="#4a6fd6" stroke-width="0.6"/>
<polygon points="494.4,50.5 494.6,60.8 494.7,70.5 494.9,80.0 494.8,89.4 495.5,89.4 495.3,80.0 495.5,70.5 495.7,60.8 495.8,50.5" fill="#4a6fd6" stroke="#4a6fd6" stroke-width="0.6"/>
<polygon points="494.6,50.5 494.8,53.8 495.0,57.3 495.2,60.9 495.1,64.7 495.8,64.7 495.6,60.9 495.8,57.3 496.0,53.8 496.3,50.5" fill="#4a6fd6" stroke="#4a6fd6" stroke-width="0.6"/>
<polygon points="494.5,50.5 494.8,54.4 495.2,57.5 495.5,60.2 495.4,62.8 496.1,62.8 496.1,60.2 496.4,57.5 496.7,54.4 497.0,50.5" fill="#4a6fd6" stroke="#4a6fd6" stroke-width="0.6"/>
<polygon points="495.2,50.5 495.5,58.4 495.8,67.1 496.1,76.1 496.1,85.4 496.8,85.4 496.7,76.1 497.0,67.1 497.3,58.4 497.6,50.5" fill="#4a6fd6" stroke="#4a6fd6" stroke-width="0.6"/>
<polygon points="495.4,50.5 495.7,57.8 496.0,63.9 496.3,69.6 496.2,75.1 496.9,75.1 496.9,69.6 497.2,63.9 497.5,57.8 497.8,50.5" fill="#4a6fd6" stroke="#4a6fd6" stroke-width="0.6"/>
<polygon points="496.3,50.5 496.5,57.3 496.7,65.6 496.9,74.6 496.8,84.0 497.5,84.0 497.4,74.6 497.6,65.6 497.8,57.3 498.0,50.5" fill="#4a6fd6" stroke="#4a6fd6" stroke-width="0.6"/>
<polygon points="497.1,50.5 497.3,60.3 497.6,68.4 497.9,75.9 497.8,83.1 498.5,83.1 498.4,75.9 498.6,68.4 498.9,60.3 499.1,50.5" fill="#4a6fd6" stroke="#4a6fd6" stroke-width="0.6"/>
<polygon points="497.7,50.5 497.9,60.5 498.1,67.4 498.4,73.5 498.2,79.1 498.9,79.1 498.8,73.5 499.1,67.4 499.3,60.5 499.5,50.5" fill="#4a6fd6" stroke="#4a6fd6" stroke-width="0.6"/>
<polygon points="497.7,50.5 497.9,63.7 498.2,72.9 498.4,81.0 498.3,88.5 499.0,88.5 498.8,81.0 499.1,72.9 499.3,63.7 499.5,50.5" fill="#4a6fd6" stroke="#4a6fd6" stroke-width="0.6"/>
<polygon points="498.6,50.5 498.8,55.6 499.1,61.5 499.4,67.8 499.3,74.3 500.0,74.3 499.9,67.8 500.2,61.5 500.5,55.6 500.7,50.5" fill="#4a6fd6" stroke="#4a6fd6" stroke-width="0.6"/>
<polygon points="499.1,50.5 499.4,53.6 499.7,56.9 500.0,60.3 499.9,63.7 500.6,63.7 500.6,60.3 500.9,56.9 501.2,53.6 501.5,50.5" fill="#4a6fd6" stroke="#4a6fd6" stroke-width="0.6"/>
<polygon points="501.7,50.5 502.0,54.5 502.2,59.3 502.5,64.4 502.5,69.8 503.2,69.8 503.1,64.4 503.4,59.3 503.7,54.5 503.9,50.5" fill="#4a6fd6" stroke="#4a6fd6" stroke-width="0.6"/>
<polygon points="502.3,50.5 502.5,59.3 502.6,64.7 502.8,69.4 502.7,73.7 503.4,73.7 503.2,69.4 503.4,64.7 503.6,59.3 503.8,50.5" fill="#4a6fd6" stroke="#4a6fd6" stroke-width="0.6"/>
<polygon points="502.5,50.5 502.6,55.2 502.8,60.4 502.9,65.9 502.7,71.5 503.4,71.5 503.2,65.9 503.4,60.4 503.5,55.2 503.7,50.5" fill="#4a6fd6" stroke="#4a6fd6" stroke-width="0.6"/>
<polygon points="503.3,50.5 503.5,58.6 503.7,65.5 503.8,71.9 503.7,78.1 504.4,78.1 504.2,71.9 504.4,65.5 504.6,58.6 504.7,50.5" fill="#4a6fd6" stroke="#4a6fd6" stroke-width="0.6"/>
<polygon points="504.7,50.5 505.0,57.5 505.2,63.6 505.5,69.5 505.4,75.2 506.1,75.2 506.0,69.5 506.2,63.6 506.4,57.5 506.7,50.5" fill="#4a6fd6" stroke="#4a6fd6" stroke-width="0.6"/>
<polygon points="505.5,50.5 505.7,60.1 505.8,69.1 506.0,78.0 505.8,86.7 506.5,86.7 506.4,78.0 506.5,69.1 506.7,60.1 506.9,50.5" fill="#4a6fd6" stroke="#4a6fd6" stroke-width="0.6"/>
<polygon points="505.2,50.5 505.5,54.3 505.8,57.8 506.1,61.2 506.1,64.5 506.8,64.5 506.8,61.2 507.1,57.8 507.4,54.3 507.7,50.5" fill="#4a6fd6" stroke="#4a6fd6" stroke-width="0.6"/>
<polygon points="506.2,50.5 506.5,58.3 506.8,66.4 507.1,74.4 507.0,82.5 507.7,82.5 507.7,74.4 508.0,66.4 508.3,58.3 508.6,50.5" fill="#4a6fd6" stroke="#4a6fd6" stroke-width="0.6"/>
<polygon points="509.3,50.5 509.6,53.6 509.8,56.9 510.0,60.4 509.9,64.0 510.6,64.0 510.5,60.4 510.7,56.9 510.9,53.6 511.2,50.5" fill="#4a6fd6" stroke="#4a6fd6" stroke-width="0.6"/>
<polygon points="510.5,50.5 510.7,58.5 511.0,65.3 511.2,71.8 511.1,78.1 511.8,78.1 511.7,71.8 512.0,65.3 512.2,58.5 512.4,50.5" fill="#4a6fd6" stroke="#4a6fd6" stroke-width="0.6"/>
<polygon points="510.8,50.5 511.1,55.9 511.4,62.1 511.7,68.8 511.6,75.7 512.3,75.7 512.3,68.8 512.6,62.1 512.9,55.9 513.2,50.5" fill="#4a6fd6" stroke="#4a6fd6" stroke-width="0.6"/>
<polygon points="511.7,50.5 511.9,58.2 512.0,66.8 512.2,75.8 511.9,85.0 512.6,85.0 512.4,75.8 512.6,66.8 512.7,58.2 512.8,50.5" fill="#4a6fd6" stroke="#4a6fd6" stroke-width="0.6"/>
<polygon points="512.1,50.5 512.3,58.7 512.5,66.2 512.7,73.4 512.5,80.4 513.2,80.4 513.0,73.4 513.2,66.2 513.4,58.7 513.6,50.5" fill="#4a6fd6" stroke="#4a6fd6" stroke-width="0.6"/>
<polygon points="512.3,50.5 512.5,53.7 512.6,56.6 512.8,59.4 512.7,62.2 513.4,62.2 513.2,59.4 513.4,56.6 513.6,53.7 513.7,50.5" fill="#4a6fd6" stroke="#4a6fd6" stroke-width="0.6"/>
<polygon points="512.2,50.5 512.5,56.1 512.7,60.5 513.0,64.4 513.0,68.1 513.7,68.1 513.6,64.4 513.9,60.5 514.2,56.1 514.5,50.5" fill="#4a6fd6" stroke="#4a6fd6" stroke-width="0.6"/>
<polygon points="512.7,50.5 512.9,55.6 513.2,61.7 513.4,68.3 513.3,75.2 514.0,75.2 513.9,68.3 514.2,61.7 514.5,55.6 514.7,50.5" fill="#4a6fd6" stroke="#4a6fd6" stroke-width="0.6"/>
<polygon points="513.8,50.5 514.0,54.6 514.3,58.8 514.6,63.0 514.5,67.3 515.2,67.3 515.1,63.0 515.4,58.8 515.7,54.6 516.0,50.5" fill="#4a6fd6" stroke="#4a6fd6" stroke-width="0.6"/>
<polygon points="515.2,50.5 515.5,58.5 515.8,65.8 516.1,72.9 516.0,79.8 516.7,79.8 516.7,72.9 517.0,65.8 517.3,58.5 517.6,50.5" fill="#4a6fd6" stroke="#4a6fd6" stroke-width="0.6"/>
<polygon points="516.9,50.5 517.0,52.8 517.2,55.4 517.4,58.1 517.2,60.9 517.9,60.9 517.7,58.1 517.8,55.4 518.0,52.8 518.1,50.5" fill="#4a6fd6" stroke="#4a6fd6" stroke-width="0.6"/>
<polygon points="517.0,50.5 517.2,55.7 517.4,59.3 517.7,62.6 517.5,65.6 518.2,65.6 518.1,62.6 518.3,59.3 518.6,55.7 518.8,50.5" fill="#4a6fd6" stroke="#4a6fd6" stroke-width="0.6"/>
<polygon points="520.6,50.5 520.8,50.7 520.9,50.9 521.0,51.2 520.8,51.5 521.5,51.5 521.3,51.2 521.4,50.9 521.6,50.7 521.7,50.5" fill="#4a6fd6" stroke="#4a6fd6" stroke-width="0.6"/>
<polygon points="521.6,50.5 521.8,51.5 522.0,52.4 522.2,53.4 522.0,54.3 522.7,54.3 522.5,53.4 522.7,52.4 522.9,51.5 523.0,50.5" fill="#4a6fd6" stroke="#4a6fd6" stroke-width="0.6"/>
<polygon points="523.0,50.5 523.1,50.8 523.3,51.1 523.5,51.3 523.3,51.6 524.0,51.6 523.8,51.3 524.0,51.1 524.2,50.8 524.3,50.5" fill="#4a6fd6" stroke="#4a6fd6" stroke-width="0.6"/>
<polygon points="523.4,50.5 523.5,50.9 523.6,51.4 523.7,51.9 523.4,52.4 524.1,52.4 523.9,51.9 524.0,51.4 524.1,50.9 524.2,50.5" fill="#4a6fd6" stroke="#4a6fd6" stroke-width="0.6"/>
<polygon points="523.5,50.5 523.8,51.0 524.0,51.7 524.3,52.5 524.2,53.4 524.9,53.4 524.8,52.5 525.0,51.7 525.3,51.0 525.5,50.5" fill="#4a6fd6" stroke="#4a6fd6" stroke-width="0.6"/>
<polygon points="527.3,50.5 527.5,51.2 527.6,52.1 527.8,53.1 527.6,54.2 528.3,54.2 528.1,53.1 528.3,52.1 528.5,51.2 528.6,50.5" fill="#4a6fd6" stroke="#4a6fd6" stroke-width="0.6"/>
<polygon points="529.4,50.5 529.7,51.0 529.9,51.6 530.2,52.1 530.1,52.8 530.8,52.8 530.7,52.1 530.9,51.6 531.2,51.0 531.4,50.5" fill="#4a6fd6" stroke="#4a6fd6" stroke-width="0.6"/>
<polygon points="531.5,50.5 531.6,51.1 531.8,51.8 531.9,52.7 531.7,53.6 532.4,53.6 532.2,52.7 532.3,51.8 532.5,51.1 532.6,50.5" fill="#4a6fd6" stroke="#4a6fd6" stroke-width="0.6"/>
<polygon points="531.6,50.5 531.8,50.8 531.9,51.1 532.0,51.4 531.8,51.7 532.5,51.7 532.3,51.4 532.4,51.1 532.5,50.8 532.6,50.5" fill="#4a6fd6" stroke="#4a6fd6" stroke-width="0.6"/>
<polygon points="533.1,50.5 533.2,50.6 533.4,50.7 533.5,50.8 533.3,51.0 534.0,51.0 533.8,50.8 534.0,50.7 534.1,50.6 534.2,50.5" fill="#4a6fd6" stroke="#4a6fd6" stroke-width="0.6"/>
<polygon points="534.6,50.5 534.7,51.3 534.9,52.1 535.0,52.8 534.8,53.5 535.5,53.5 535.3,52.8 535.5,52.1 535.7,51.3 535.8,50.5" fill="#4a6fd6" stroke="#4a6fd6" stroke-width="0.6"/>
<polygon points="536.7,50.5 536.8,50.7 537.0,50.9 537.1,51.1 536.8,51.3 537.5,51.3 537.3,51.1 537.4,50.9 537.5,50.7 537.6,50.5" fill="#4a6fd6" stroke="#4a6fd6" stroke-width="0.6"/>
<polygon points="536.6,50.5 536.8,51.3 537.0,52.1 537.2,53.0 537.1,53.9 537.8,53.9 537.6,53.0 537.8,52.1 538.0,51.3 538.2,50.5" fill="#4a6fd6" stroke="#4a6fd6" stroke-width="0.6"/>
<polygon points="538.4,50.5 538.5,51.2 538.7,51.8 538.9,52.4 538.8,53.0 539.5,53.0 539.3,52.4 539.5,51.8 539.7,51.2 539.9,50.5" fill="#4a6fd6" stroke="#4a6fd6" stroke-width="0.6"/>
<polygon points="538.4,50.5 538.7,50.7 538.9,51.0 539.1,51.2 539.0,51.5 539.7,51.5 539.5,51.2 539.7,51.0 540.0,50.7 540.2,50.5" fill="#4a6fd6" stroke="#4a6fd6" stroke-width="0.6"/>
<polygon points="36.9,50.5 37.1,51.7 37.3,56.4 37.6,65.6 37.4,80.0 38.1,80.0 38.0,65.6 38.3,56.4 38.5,51.7 38.7,50.5" fill="#4a6fd6" stroke="#4a6fd6" stroke-width="0.6"/>
<polygon points="80.3,50.5 80.6,51.7 80.9,56.5 81.2,66.1 81.2,81.0 81.8,81.0 81.8,66.1 82.1,56.5 82.4,51.7 82.7,50.5" fill="#4a6fd6" stroke="#4a6fd6" stroke-width="0.6"/>
<polygon points="95.6,50.5 95.9,52.5 96.3,58.5 96.6,68.9 96.7,83.5 97.3,83.5 97.4,68.9 97.7,58.5 98.1,52.5 98.4,50.5" fill="#4a6fd6" stroke="#4a6fd6" stroke-width="0.6"/>
<polygon points="105.4,50.5 105.8,52.5 106.2,59.0 106.6,70.4 106.7,87.0 107.3,87.0 107.4,70.4 107.8,59.0 108.2,52.5 108.6,50.5" fill="#4a6fd6" stroke="#4a6fd6" stroke-width="0.6"/>
<polygon points="112.5,50.5 112.9,53.4 113.2,60.2 113.6,70.0 113.7,82.5 114.3,82.5 114.4,70.0 114.8,60.2 115.1,53.4 115.5,50.5" fill="#4a6fd6" stroke="#4a6fd6" stroke-width="0.6"/>
<polygon points="127.1,50.5 127.4,53.0 127.8,59.8 128.1,70.6 128.2,85.0 128.8,85.0 128.9,70.6 129.2,59.8 129.6,53.0 129.9,50.5" fill="#4a6fd6" stroke="#4a6fd6" stroke-width="0.6"/>
<polygon points="37.0,50.5 37.3,53.2 37.5,59.2 37.8,67.9 37.6,79.0 38.4,79.0 38.2,67.9 38.5,59.2 38.7,53.2 39.0,50.5" fill="#4a6fd6" stroke="#4a6fd6" stroke-width="0.6"/>
<polygon points="43.2,50.5 43.5,52.5 43.8,57.3 44.2,64.8 44.1,74.5 44.9,74.5 44.8,64.8 45.2,57.3 45.5,52.5 45.8,50.5" fill="#4a6fd6" stroke="#4a6fd6" stroke-width="0.6"/>
<polygon points="46.4,50.5 46.8,52.5 47.2,57.1 47.6,63.7 47.6,72.0 48.4,72.0 48.4,63.7 48.8,57.1 49.2,52.5 49.6,50.5" fill="#4a6fd6" stroke="#4a6fd6" stroke-width="0.6"/>
<polygon points="55.6,50.5 55.8,51.4 56.0,55.1 56.3,62.5 56.1,74.5 56.9,74.5 56.7,62.5 57.0,55.1 57.2,51.4 57.4,50.5" fill="#4a6fd6" stroke="#4a6fd6" stroke-width="0.6"/>
<polygon points="58.8,50.5 59.1,52.0 59.4,56.3 59.7,63.7 59.6,74.0 60.4,74.0 60.3,63.7 60.6,56.3 60.9,52.0 61.2,50.5" fill="#4a6fd6" stroke="#4a6fd6" stroke-width="0.6"/>
<polygon points="61.9,50.5 62.2,52.6 62.5,57.6 62.7,64.9 62.6,74.5 63.4,74.5 63.3,64.9 63.5,57.6 63.8,52.6 64.1,50.5" fill="#4a6fd6" stroke="#4a6fd6" stroke-width="0.6"/>
<polygon points="64.7,50.5 65.1,51.6 65.4,55.8 65.7,63.5 65.7,75.3 66.3,75.3 66.3,63.5 66.6,55.8 66.9,51.6 67.3,50.5" fill="#4a6fd6" stroke="#4a6fd6" stroke-width="0.6"/>
<polygon points="79.6,50.5 79.8,51.8 80.0,57.0 80.3,66.7 80.2,81.7 80.8,81.7 80.7,66.7 81.0,57.0 81.2,51.8 81.4,50.5" fill="#4a6fd6" stroke="#4a6fd6" stroke-width="0.6"/>
<polygon points="89.7,50.5 90.2,52.0 90.6,56.7 91.1,64.6 91.2,76.0 91.8,76.0 91.9,64.6 92.4,56.7 92.8,52.0 93.3,50.5" fill="#4a6fd6" stroke="#4a6fd6" stroke-width="0.6"/>
<polygon points="96.8,50.5 97.1,53.3 97.4,60.2 97.7,70.5 97.7,84.0 98.3,84.0 98.3,70.5 98.6,60.2 98.9,53.3 99.2,50.5" fill="#4a6fd6" stroke="#4a6fd6" stroke-width="0.6"/>
<polygon points="103.4,50.5 103.7,52.2 104.0,56.7 104.2,63.7 104.2,73.0 104.8,73.0 104.8,63.7 105.0,56.7 105.3,52.2 105.6,50.5" fill="#4a6fd6" stroke="#4a6fd6" stroke-width="0.6"/>
<polygon points="106.3,50.5 106.8,54.5 107.2,62.6 107.6,73.7 107.7,87.3 108.3,87.3 108.4,73.7 108.8,62.6 109.2,54.5 109.7,50.5" fill="#4a6fd6" stroke="#4a6fd6" stroke-width="0.6"/>
<polygon points="112.4,50.5 112.8,52.2 113.2,57.8 113.6,67.8 113.7,82.5 114.3,82.5 114.4,67.8 114.8,57.8 115.2,52.2 115.6,50.5" fill="#4a6fd6" stroke="#4a6fd6" stroke-width="0.6"/>
<polygon points="120.8,50.5 121.0,56.0 121.2,67.8 121.5,84.3 121.4,105.0 122.0,105.0 121.9,84.3 122.2,67.8 122.4,56.0 122.6,50.5" fill="#4a6fd6" stroke="#4a6fd6" stroke-width="0.6"/>
<polygon points="126.4,50.5 126.8,52.3 127.2,58.4 127.6,69.4 127.7,85.5 128.3,85.5 128.4,69.4 128.8,58.4 129.2,52.3 129.6,50.5" fill="#4a6fd6" stroke="#4a6fd6" stroke-width="0.6"/>
<polygon points="132.3,50.5 132.6,51.7 132.9,56.1 133.2,64.7 133.2,78.0 133.8,78.0 133.8,64.7 134.1,56.1 134.4,51.7 134.7,50.5" fill="#4a6fd6" stroke="#4a6fd6" stroke-width="0.6"/>
<polygon points="135.9,50.5 136.2,51.7 136.5,55.1 136.7,60.5 136.7,68.0 137.3,68.0 137.3,60.5 137.5,55.1 137.8,51.7 138.1,50.5" fill="#4a6fd6" stroke="#4a6fd6" stroke-width="0.6"/>
<polygon points="142.8,50.5 143.0,51.4 143.3,54.3 143.5,59.5 143.5,67.0 144.2,67.0 144.1,59.5 144.3,54.3 144.6,51.4 144.8,50.5" fill="#4a6fd6" stroke="#4a6fd6" stroke-width="0.6"/>
<polygon points="154.0,50.5 154.3,52.5 154.5,57.2 154.8,64.1 154.7,73.0 155.3,73.0 155.2,64.1 155.5,57.2 155.7,52.5 156.0,50.5" fill="#4a6fd6" stroke="#4a6fd6" stroke-width="0.6"/>
<polygon points="160.9,50.5 161.3,51.7 161.7,55.1 162.1,60.9 162.2,69.0 162.8,69.0 162.9,60.9 163.3,55.1 163.7,51.7 164.1,50.5" fill="#4a6fd6" stroke="#4a6fd6" stroke-width="0.6"/>
<polygon points="179.0,50.5 179.4,52.2 179.8,58.2 180.1,69.2 180.2,85.5 180.8,85.5 180.9,69.2 181.2,58.2 181.6,52.2 182.0,50.5" fill="#4a6fd6" stroke="#4a6fd6" stroke-width="0.6"/>
<polygon points="189.1,50.5 189.4,54.3 189.8,63.3 190.1,76.7 190.2,93.9 190.8,93.9 190.9,76.7 191.2,63.3 191.6,54.3 191.9,50.5" fill="#4a6fd6" stroke="#4a6fd6" stroke-width="0.6"/>
<polygon points="190.0,50.5 190.4,54.5 190.7,63.3 191.1,76.0 191.2,92.0 191.8,92.0 191.9,76.0 192.3,63.3 192.6,54.5 193.0,50.5" fill="#4a6fd6" stroke="#4a6fd6" stroke-width="0.6"/>
<polygon points="195.6,50.5 195.8,53.4 196.1,61.7 196.4,75.2 196.3,93.9 197.0,93.9 197.0,75.2 197.3,61.7 197.6,53.4 197.8,50.5" fill="#4a6fd6" stroke="#4a6fd6" stroke-width="0.6"/>
<polygon points="202.0,50.5 202.2,53.3 202.5,59.4 202.7,68.1 202.7,79.0 203.3,79.0 203.3,68.1 203.5,59.4 203.8,53.3 204.0,50.5" fill="#4a6fd6" stroke="#4a6fd6" stroke-width="0.6"/>
<polygon points="203.5,50.5 203.9,51.8 204.3,56.5 204.6,65.1 204.7,78.0 205.3,78.0 205.4,65.1 205.7,56.5 206.1,51.8 206.5,50.5" fill="#4a6fd6" stroke="#4a6fd6" stroke-width="0.6"/>
<polygon points="228.5,50.5 229.0,51.7 229.6,57.3 230.1,69.2 230.2,89.0 230.9,89.0 231.1,69.2 231.6,57.3 232.2,51.7 232.7,50.5" fill="#4a6fd6" stroke="#4a6fd6" stroke-width="0.6"/>
<polygon points="235.3,50.5 235.8,51.2 236.3,54.7 236.8,62.5 237.0,76.0 237.7,76.0 237.8,62.5 238.3,54.7 238.8,51.2 239.3,50.5" fill="#4a6fd6" stroke="#4a6fd6" stroke-width="0.6"/>
<polygon points="264.9,50.5 265.2,51.4 265.6,54.9 265.9,62.0 265.9,73.0 266.7,73.0 266.7,62.0 267.0,54.9 267.4,51.4 267.7,50.5" fill="#1e96e6" stroke="#1e96e6" stroke-width="0.6"/>
<polygon points="272.4,50.5 272.6,51.8 272.8,57.2 273.1,67.7 272.9,84.0 273.7,84.0 273.5,67.7 273.8,57.2 274.0,51.8 274.2,50.5" fill="#4a6fd6" stroke="#4a6fd6" stroke-width="0.6"/>
<polygon points="336.1,50.5 336.8,52.2 337.4,60.2 338.1,76.9 338.3,104.4 339.1,104.4 339.3,76.9 340.0,60.2 340.6,52.2 341.3,50.5" fill="#1e96e6" stroke="#1e96e6" stroke-width="0.6"/>
<polygon points="363.6,50.5 364.2,51.8 364.8,59.9 365.4,80.3 365.6,118.4 366.4,118.4 366.6,80.3 367.2,59.9 367.8,51.8 368.4,50.5" fill="#1e96e6" stroke="#1e96e6" stroke-width="0.6"/>
<polygon points="385.2,50.5 385.8,52.9 386.3,63.3 386.9,84.9 387.1,119.7 387.9,119.7 388.1,84.9 388.7,63.3 389.2,52.9 389.8,50.5" fill="#1e96e6" stroke="#1e96e6" stroke-width="0.6"/>
<polygon points="400.7,50.5 401.3,51.2 401.9,55.5 402.4,66.7 402.6,87.8 403.4,87.8 403.6,66.7 404.1,55.5 404.7,51.2 405.3,50.5" fill="#1e96e6" stroke="#1e96e6" stroke-width="0.6"/>
<polygon points="413.5,50.5 414.0,52.2 414.5,60.9 414.9,80.2 415.0,113.0 415.8,113.0 415.9,80.2 416.3,60.9 416.8,52.2 417.3,50.5" fill="#1e96e6" stroke="#1e96e6" stroke-width="0.6"/>
<polygon points="421.0,50.5 421.4,51.8 421.9,59.7 422.3,80.0 422.4,118.0 423.2,118.0 423.3,80.0 423.7,59.7 424.2,51.8 424.6,50.5" fill="#1e96e6" stroke="#1e96e6" stroke-width="0.6"/>
<polygon points="435.6,50.5 436.2,52.5 436.8,59.7 437.4,73.4 437.6,94.0 438.4,94.0 438.6,73.4 439.2,59.7 439.8,52.5 440.4,50.5" fill="#1e96e6" stroke="#1e96e6" stroke-width="0.6"/>
<polygon points="430.6,50.5 431.2,51.2 431.8,55.5 432.4,65.7 432.6,84.0 433.4,84.0 433.6,65.7 434.2,55.5 434.8,51.2 435.4,50.5" fill="#1e96e6" stroke="#1e96e6" stroke-width="0.6"/>
<polygon points="447.3,50.5 447.8,52.8 448.2,64.9 448.7,92.1 448.8,139.0 449.6,139.0 449.7,92.1 450.2,64.9 450.6,52.8 451.1,50.5" fill="#1e96e6" stroke="#1e96e6" stroke-width="0.6"/>
<polygon points="452.0,50.5 452.4,54.3 452.7,64.2 453.1,79.7 453.1,100.5 453.9,100.5 453.9,79.7 454.3,64.2 454.6,54.3 455.0,50.5" fill="#4a6fd6" stroke="#4a6fd6" stroke-width="0.6"/>
<polygon points="455.6,50.5 456.0,51.8 456.3,57.0 456.7,67.6 456.6,84.5 457.4,84.5 457.3,67.6 457.7,57.0 458.0,51.8 458.4,50.5" fill="#4a6fd6" stroke="#4a6fd6" stroke-width="0.6"/>
<polygon points="469.0,50.5 469.4,56.0 469.8,72.6 470.1,100.3 470.1,139.0 470.9,139.0 470.9,100.3 471.2,72.6 471.6,56.0 472.0,50.5" fill="#4a6fd6" stroke="#4a6fd6" stroke-width="0.6"/>
<polygon points="471.0,50.5 471.3,58.7 471.5,77.2 471.8,103.6 471.6,137.0 472.4,137.0 472.2,103.6 472.5,77.2 472.7,58.7 473.0,50.5" fill="#4a6fd6" stroke="#4a6fd6" stroke-width="0.6"/>
<polygon points="472.3,50.5 472.8,53.8 473.2,65.7 473.6,87.5 473.6,120.0 474.4,120.0 474.4,87.5 474.8,65.7 475.2,53.8 475.7,50.5" fill="#4a6fd6" stroke="#4a6fd6" stroke-width="0.6"/>
<polygon points="475.3,50.5 475.8,55.5 476.2,71.4 476.6,98.8 476.6,138.0 477.4,138.0 477.4,98.8 477.8,71.4 478.2,55.5 478.7,50.5" fill="#4a6fd6" stroke="#4a6fd6" stroke-width="0.6"/>
<polygon points="477.6,50.5 477.9,55.9 478.3,72.5 478.6,100.5 478.6,140.0 479.4,140.0 479.4,100.5 479.7,72.5 480.1,55.9 480.4,50.5" fill="#4a6fd6" stroke="#4a6fd6" stroke-width="0.6"/>
<polygon points="479.4,50.5 479.8,56.7 480.2,73.2 480.6,98.8 480.6,133.0 481.4,133.0 481.4,98.8 481.8,73.2 482.2,56.7 482.6,50.5" fill="#4a6fd6" stroke="#4a6fd6" stroke-width="0.6"/>
<polygon points="481.7,50.5 482.0,56.2 482.3,72.7 482.7,100.1 482.6,138.0 483.4,138.0 483.3,100.1 483.7,72.7 484.0,56.2 484.3,50.5" fill="#4a6fd6" stroke="#4a6fd6" stroke-width="0.6"/>
<polygon points="484.5,50.5 484.9,58.1 485.3,76.4 485.6,103.6 485.6,139.0 486.4,139.0 486.4,103.6 486.7,76.4 487.1,58.1 487.5,50.5" fill="#4a6fd6" stroke="#4a6fd6" stroke-width="0.6"/>
<polygon points="487.1,50.5 487.3,59.3 487.5,78.6 487.8,105.8 487.6,140.0 488.4,140.0 488.2,105.8 488.5,78.6 488.7,59.3 488.9,50.5" fill="#4a6fd6" stroke="#4a6fd6" stroke-width="0.6"/>
<polygon points="488.9,50.5 489.2,54.1 489.5,68.0 489.7,94.8 489.6,136.0 490.4,136.0 490.3,94.8 490.5,68.0 490.8,54.1 491.1,50.5" fill="#4a6fd6" stroke="#4a6fd6" stroke-width="0.6"/>
<polygon points="490.0,50.5 490.3,54.5 490.7,68.7 491.1,94.8 491.1,134.0 491.9,134.0 491.9,94.8 492.3,68.7 492.7,54.5 493.0,50.5" fill="#4a6fd6" stroke="#4a6fd6" stroke-width="0.6"/>
<polygon points="491.7,50.5 492.0,59.1 492.4,78.1 492.7,105.0 492.6,139.0 493.4,139.0 493.3,105.0 493.6,78.1 494.0,59.1 494.3,50.5" fill="#4a6fd6" stroke="#4a6fd6" stroke-width="0.6"/>
<polygon points="493.2,50.5 493.5,53.9 493.8,67.0 494.2,92.2 494.1,131.0 494.9,131.0 494.8,92.2 495.2,67.0 495.5,53.9 495.8,50.5" fill="#4a6fd6" stroke="#4a6fd6" stroke-width="0.6"/>
<polygon points="493.6,50.5 494.0,54.4 494.3,67.3 494.7,90.1 494.6,123.0 495.4,123.0 495.3,90.1 495.7,67.3 496.0,54.4 496.4,50.5" fill="#4a6fd6" stroke="#4a6fd6" stroke-width="0.6"/>
<polygon points="497.8,50.5 498.1,58.7 498.4,77.4 498.7,104.5 498.6,139.0 499.4,139.0 499.3,104.5 499.6,77.4 499.9,58.7 500.2,50.5" fill="#4a6fd6" stroke="#4a6fd6" stroke-width="0.6"/>
<polygon points="499.5,50.5 499.9,56.2 500.3,73.1 500.6,101.0 500.6,140.0 501.4,140.0 501.4,101.0 501.7,73.1 502.1,56.2 502.5,50.5" fill="#4a6fd6" stroke="#4a6fd6" stroke-width="0.6"/>
<polygon points="501.8,50.5 502.1,57.6 502.4,75.2 502.7,101.9 502.6,137.0 503.4,137.0 503.3,101.9 503.6,75.2 503.9,57.6 504.2,50.5" fill="#4a6fd6" stroke="#4a6fd6" stroke-width="0.6"/>
<polygon points="505.5,50.5 505.9,54.9 506.2,66.4 506.6,84.2 506.6,108.0 507.4,108.0 507.4,84.2 507.8,66.4 508.1,54.9 508.5,50.5" fill="#4a6fd6" stroke="#4a6fd6" stroke-width="0.6"/>
<polygon points="509.6,50.5 509.9,57.7 510.3,75.8 510.6,103.1 510.6,139.0 511.4,139.0 511.4,103.1 511.7,75.8 512.1,57.7 512.4,50.5" fill="#4a6fd6" stroke="#4a6fd6" stroke-width="0.6"/>
<polygon points="512.4,50.5 512.8,56.9 513.2,74.2 513.6,101.7 513.6,139.0 514.4,139.0 514.4,101.7 514.8,74.2 515.2,56.9 515.6,50.5" fill="#4a6fd6" stroke="#4a6fd6" stroke-width="0.6"/>
<polygon points="515.7,50.5 516.0,53.9 516.3,67.8 516.7,95.1 516.6,138.0 517.4,138.0 517.3,95.1 517.7,67.8 518.0,53.9 518.3,50.5" fill="#4a6fd6" stroke="#4a6fd6" stroke-width="0.6"/>
<polygon points="211.5,48.0 212.7,100.0 215.3,112.0 217.5,130.0 218.8,141.0 226.4,141.0 226.4,125.0 224.5,110.0 220.2,100.0 216.8,75.0 213.8,52.0 213.4,48.0" fill="#1e96e6"/>
<polygon points="213.8,52.0 216.8,75.0 220.2,100.0 224.5,110.0 223.2,100.0 219.5,80.0 216.0,58.0 214.5,50.0" fill="#1e96e6" fill-opacity="0.45"/>
<polyline points="227.9,48 227,60 225.4,80 224,98 224.6,110" fill="none" stroke="#1e96e6" stroke-width="0.9"/>
<polyline points="228.8,64 229.8,57 231,53 232.5,51.5" fill="none" stroke="#4a6fd6" stroke-width="0.9"/>
<polygon points="272.3,51 273.1,84.5 273.7,84.5 274.3,72 275.2,64 276.5,58 278.5,54 281,52 283,51" fill="#4a6fd6"/>
<polyline points="273.7,84 274.8,75 276.3,67 278.3,61 281,56.5 284,53.5 287,51.5" fill="none" stroke="#4a6fd6" stroke-width="1"/>
<line x1="221.5" y1="100" x2="223.2" y2="112" stroke="#8fd0f2" stroke-width="0.6"/>
<line x1="222.6" y1="102" x2="224.2" y2="110" stroke="#8fd0f2" stroke-width="0.6"/>
<polyline points="30.5,48.6 31.3,49.0 32.1,49.0 32.9,49.4 33.7,48.9 34.5,49.0 35.3,48.7 36.1,48.8 36.9,48.8 37.7,49.4 38.5,48.7 39.3,49.1 40.1,49.3 40.9,49.4 41.7,49.2 42.5,48.7 43.3,49.3 44.1,49.0 44.9,49.0 45.7,49.3 46.5,48.6 47.3,49.2 48.1,49.2 48.9,49.1 49.7,48.8 50.5,49.3 51.3,48.8 52.1,48.9 52.9,49.3 53.7,49.3 54.5,48.8 55.3,49.0 56.1,49.3 56.9,49.0 57.7,48.8 58.5,48.9 59.3,49.1 60.1,49.2 60.9,48.8 61.7,48.8 62.5,49.2 63.3,48.8 64.1,48.8 64.9,48.8 65.7,48.8 66.5,48.7 67.3,48.9 68.1,48.8 68.9,49.1 69.7,48.7 70.5,48.9 71.3,49.4 72.1,49.0 72.9,49.3 73.7,48.8 74.5,49.2 75.3,48.7 76.1,49.4 76.9,49.4 77.7,49.2 78.5,48.8 79.3,49.2 80.1,49.2 80.9,49.1 81.7,49.2 82.5,48.8 83.3,49.2 84.1,48.8 84.9,49.0 85.7,48.9 86.5,48.8 87.3,48.8 88.1,49.3 88.9,48.6 89.7,49.0 90.5,49.0 91.3,48.7 92.1,48.7 92.9,48.9 93.7,48.9 94.5,48.8 95.3,48.8 96.1,48.8 96.9,49.1 97.7,49.4 98.5,48.8 99.3,48.9 100.1,49.2 100.9,48.8 101.7,48.7 102.5,49.1 103.3,48.9 104.1,48.6 104.9,48.9 105.7,49.3 106.5,48.6 107.3,49.3 108.1,49.1 108.9,49.3 109.7,49.0 110.5,49.2 111.3,49.3 112.1,48.7 112.9,48.7 113.7,49.1 114.5,49.0 115.3,49.0 116.1,48.9 116.9,49.4 117.7,49.1 118.5,49.1 119.3,48.6 120.1,48.8 120.9,48.8 121.7,49.4 122.5,48.7 123.3,49.0 124.1,49.2 124.9,49.1 125.7,49.2 126.5,48.9 127.3,48.7 128.1,48.8 128.9,49.0 129.7,49.0 130.5,48.9 131.3,49.3 132.1,48.9 132.9,48.8 133.7,49.1 134.5,49.1 135.3,49.2 136.1,49.0 136.9,48.6 137.7,49.0 138.5,48.7 139.3,48.8 140.1,49.2 140.9,49.4 141.7,49.3 142.5,48.8 143.3,48.9 144.1,49.3 144.9,49.3 145.7,48.6 146.5,48.8 147.3,49.1 148.1,48.8 148.9,48.6 149.7,48.8 150.5,49.0 151.3,49.2 152.1,49.2 152.9,49.1 153.7,49.1 154.5,49.0 155.3,49.2 156.1,49.1 156.9,49.1 157.7,49.3 158.5,48.7 159.3,48.6 160.1,49.0 160.9,49.0 161.7,49.3 162.5,48.8 163.3,49.1 164.1,49.2 164.9,48.8 165.7,48.6 166.5,48.9 167.3,48.8 168.1,48.8 168.9,49.0 169.7,48.7 170.5,49.0 171.3,49.1 172.1,49.0 172.9,49.1 173.7,48.8 174.5,49.1 175.3,49.3 176.1,49.3 176.9,48.7 177.7,48.9 178.5,49.2 179.3,49.1 180.1,48.9 180.9,49.3 181.7,49.3 182.5,49.1 183.3,48.8 184.1,49.4 184.9,49.0 185.7,48.9 186.5,48.7 187.3,49.4 188.1,49.2 188.9,48.7 189.7,48.7 190.5,49.3 191.3,48.7 192.1,49.1 192.9,49.1 193.7,49.0 194.5,49.2 195.3,48.9 196.1,49.1 196.9,49.3 197.7,49.1 198.5,49.0 199.3,49.1 200.1,48.7 200.9,48.9 201.7,49.2 202.5,49.1 203.3,48.7 204.1,49.3 204.9,48.9 205.7,48.8 206.5,48.7 207.3,49.3 208.1,49.2 208.9,48.8 209.7,48.8 210.5,49.3 211.3,48.7 212.1,49.0" fill="none" stroke="#ff7a1a" stroke-width="1.1"/>
<polyline points="211.3,49.0 212.1,49.3 212.9,49.4 213.7,49.7 214.5,49.4 215.3,49.0 216.1,49.3 216.9,49.6 217.7,49.1 218.5,49.0 219.3,48.9 220.1,49.6 220.9,49.6 221.7,49.3 222.5,49.1 223.3,49.2 224.1,49.0 224.9,49.2 225.7,49.3 226.5,49.3 227.3,49.0 228.1,49.7 228.9,49.4" fill="none" stroke="#e0a070" stroke-width="0.9"/>
<polyline points="228.1,49.4 228.9,49.1 229.7,49.1 230.5,49.3 231.3,48.6 232.1,49.1 232.9,48.9 233.7,49.1 234.5,49.4 235.3,48.7 236.1,48.7 236.9,48.9 237.7,49.0 238.5,49.3 239.3,49.2 240.1,49.0 240.9,48.8 241.7,49.0" fill="none" stroke="#ff7a1a" stroke-width="1.1"/>
<polyline points="240.9,49.1 241.7,49.3 242.5,49.3 243.3,49.0 244.1,49.6 244.9,49.6 245.7,49.4 246.5,49.1 247.3,49.4 248.1,49.2 248.9,49.4 249.7,48.9 250.5,49.4 251.3,49.3 252.1,49.6 252.9,49.4 253.7,49.5 254.5,49.1 255.3,49.3 256.1,49.2 256.9,49.7 257.7,49.7 258.5,49.1 259.3,49.4 260.1,49.0 260.9,49.3 261.7,49.7 262.5,49.0 263.3,49.5 264.1,49.3 264.9,49.7 265.7,49.2 266.5,49.6 267.3,49.4 268.1,49.5" fill="none" stroke="#e0a070" stroke-width="0.9"/>
<polyline points="267.3,49.1 268.1,49.2 268.9,49.3 269.7,49.1 270.5,48.9 271.3,49.1 272.1,49.2 272.9,49.3 273.7,49.1 274.5,49.0 275.3,48.7 276.1,48.7 276.9,49.1 277.7,48.9 278.5,49.1 279.3,49.0 280.1,48.9 280.9,48.8 281.7,49.3 282.5,48.8 283.3,49.1 284.1,48.7 284.9,49.4 285.7,48.7 286.5,49.0 287.3,49.2 288.1,48.8 288.9,49.1 289.7,48.9 290.5,49.4 291.3,48.7 292.1,48.8 292.9,49.0 293.7,49.1 294.5,49.1 295.3,48.7 296.1,49.0 296.9,48.7 297.7,49.1 298.5,48.9 299.3,49.4" fill="none" stroke="#ff7a1a" stroke-width="1.1"/>
<polyline points="298.5,49.2 299.3,49.7 300.1,49.2 300.9,48.9 301.7,48.9 302.5,49.2 303.3,49.1 304.1,49.7 304.9,49.5 305.7,49.2 306.5,49.1 307.3,49.0 308.1,49.0 308.9,49.5 309.7,48.9 310.5,49.5 311.3,49.2 312.1,49.4 312.9,49.4 313.7,49.0 314.5,49.5 315.3,49.6 316.1,49.0 316.9,49.7 317.7,49.5 318.5,49.4 319.3,49.5 320.1,48.9 320.9,49.1 321.7,49.6 322.5,49.6 323.3,49.1 324.1,49.3 324.9,49.2 325.7,49.0 326.5,49.5 327.3,49.4 328.1,49.0 328.9,49.4 329.7,48.9 330.5,49.0 331.3,49.2 332.1,48.9 332.9,49.3 333.7,49.4 334.5,49.1 335.3,49.5 336.1,49.0 336.9,49.0 337.7,49.3 338.5,48.9 339.3,49.5 340.1,49.6 340.9,48.9 341.7,49.5 342.5,49.4 343.3,49.7 344.1,49.5 344.9,49.6 345.7,49.6 346.5,49.6 347.3,49.5 348.1,49.6 348.9,49.0 349.7,49.5 350.5,49.4 351.3,49.2 352.1,49.2 352.9,49.0 353.7,49.1 354.5,49.5 355.3,49.3 356.1,49.6 356.9,49.1 357.7,49.1 358.5,49.5 359.3,49.7 360.1,49.2 360.9,49.2 361.7,48.9 362.5,49.1 363.3,49.6 364.1,49.7 364.9,49.3 365.7,49.6 366.5,49.1 367.3,49.4 368.1,49.6 368.9,49.2 369.7,49.4 370.5,49.5 371.3,49.0 372.1,49.1 372.9,49.4 373.7,49.1 374.5,49.0 375.3,49.0 376.1,49.5 376.9,49.3 377.7,49.3 378.5,49.4 379.3,49.2 380.1,49.4 380.9,49.3 381.7,49.0 382.5,49.3 383.3,49.3 384.1,49.5 384.9,49.7 385.7,48.9 386.5,49.4 387.3,49.5 388.1,49.3 388.9,49.2 389.7,49.5 390.5,49.3 391.3,49.2 392.1,49.4 392.9,49.4 393.7,49.0 394.5,49.2 395.3,49.6 396.1,49.0 396.9,49.3 397.7,49.4 398.5,49.0 399.3,49.1 400.1,49.2 400.9,49.4 401.7,49.0 402.5,49.5 403.3,49.4 404.1,49.5 404.9,49.1 405.7,49.3 406.5,49.6 407.3,49.2 408.1,49.4 408.9,49.2 409.7,49.5 410.5,49.4 411.3,49.5 412.1,49.7 412.9,49.5 413.7,49.4 414.5,49.1 415.3,49.3 416.1,49.7 416.9,49.7 417.7,49.0 418.5,49.4 419.3,48.9 420.1,49.0 420.9,49.2 421.7,49.0 422.5,49.4 423.3,49.3 424.1,49.2 424.9,49.6 425.7,49.2 426.5,49.1 427.3,49.1 428.1,48.9 428.9,49.5 429.7,49.4 430.5,49.2 431.3,49.6 432.1,49.2 432.9,49.1 433.7,48.9 434.5,49.0 435.3,49.3 436.1,49.2 436.9,49.3 437.7,48.9 438.5,48.9 439.3,49.4 440.1,49.2 440.9,49.5 441.7,49.6 442.5,49.2 443.3,49.3 444.1,49.5 444.9,49.0 445.7,49.5 446.5,49.2 447.3,49.1 448.1,49.3 448.9,49.4 449.7,49.6 450.5,49.6 451.3,48.9" fill="none" stroke="#e0a070" stroke-width="0.9"/>
<polyline points="450.5,49.3 451.3,48.6 452.1,48.7 452.9,48.9 453.7,48.6 454.5,49.0 455.3,49.0 456.1,49.0 456.9,48.9 457.7,48.8 458.5,49.1 459.3,48.6 460.1,48.6 460.9,49.2 461.7,48.8 462.5,48.7 463.3,48.8 464.1,49.1 464.9,48.8 465.7,49.1 466.5,49.1 467.3,48.9 468.1,49.3 468.9,49.2 469.7,48.7 470.5,48.8 471.3,48.7 472.1,49.2 472.9,48.8 473.7,49.0 474.5,48.7 475.3,49.3 476.1,49.2 476.9,49.1 477.7,49.2 478.5,48.9 479.3,48.8 480.1,48.6 480.9,48.9 481.7,49.3 482.5,48.6 483.3,48.8 484.1,49.0 484.9,48.7 485.7,48.8 486.5,49.2 487.3,48.8 488.1,48.8 488.9,48.8 489.7,48.8 490.5,49.2 491.3,49.4 492.1,49.1 492.9,48.8 493.7,48.8 494.5,49.2 495.3,49.2 496.1,49.3 496.9,48.7 497.7,48.8 498.5,48.9 499.3,48.9 500.1,49.3 500.9,48.7 501.7,48.8 502.5,48.7 503.3,49.2 504.1,49.2 504.9,49.2 505.7,48.9 506.5,49.0 507.3,49.3 508.1,48.6 508.9,49.2 509.7,49.2 510.5,48.9 511.3,49.2 512.1,49.2 512.9,48.7 513.7,49.4 514.5,49.4 515.3,48.8 516.1,49.4 516.9,49.0 517.7,49.0 518.5,49.2 519.3,49.3 520.1,48.8 520.9,48.7 521.7,49.3 522.5,49.0 523.3,49.0 524.1,49.0 524.9,49.3 525.7,49.1 526.5,49.2 527.3,49.2 528.1,48.6 528.9,49.0 529.7,49.1 530.5,48.7 531.3,48.7 532.1,48.7 532.9,48.9 533.7,49.2 534.5,48.8 535.3,49.3 536.1,48.7 536.9,48.9 537.7,48.8 538.5,49.4 539.3,48.7" fill="none" stroke="#ff7a1a" stroke-width="1.1"/>
<polygon points="30.4,49.0 30.7,50.2 30.9,51.3 31.1,52.4 30.9,53.4 31.6,53.4 31.5,52.4 31.7,51.3 31.9,50.2 32.1,49.0" fill="#ff7a1a" stroke="#ff7a1a" stroke-width="0.5"/>
<polygon points="31.6,49.0 31.7,50.0 31.8,50.9 31.9,51.8 31.6,52.6 32.3,52.6 32.1,51.8 32.2,50.9 32.3,50.0 32.4,49.0" fill="#ff7a1a" stroke="#ff7a1a" stroke-width="0.5"/>
<polygon points="32.2,49.0 32.3,49.6 32.4,50.3 32.6,51.0 32.3,51.6 33.0,51.6 32.8,51.0 32.9,50.3 33.1,49.6 33.2,49.0" fill="#ff7a1a" stroke="#ff7a1a" stroke-width="0.5"/>
<polygon points="33.3,49.0 33.4,49.2 33.5,49.5 33.6,49.8 33.3,50.2 34.0,50.2 33.8,49.8 33.9,49.5 34.0,49.2 34.1,49.0" fill="#ff7a1a" stroke="#ff7a1a" stroke-width="0.5"/>
<polygon points="33.1,49.0 33.4,50.0 33.6,51.1 33.9,52.1 33.8,53.2 34.5,53.2 34.3,52.1 34.6,51.1 34.8,50.0 35.1,49.0" fill="#ff7a1a" stroke="#ff7a1a" stroke-width="0.5"/>
<polygon points="34.2,49.0 34.3,49.6 34.5,50.3 34.6,50.9 34.4,51.5 35.1,51.5 34.9,50.9 35.0,50.3 35.1,49.6 35.3,49.0" fill="#ff7a1a" stroke="#ff7a1a" stroke-width="0.5"/>
<polygon points="35.2,49.0 35.4,49.4 35.5,49.9 35.7,50.4 35.5,51.0 36.2,51.0 36.0,50.4 36.1,49.9 36.3,49.4 36.4,49.0" fill="#ff7a1a" stroke="#ff7a1a" stroke-width="0.5"/>
<polygon points="36.3,49.0 36.4,49.6 36.5,50.7 36.7,51.9 36.5,53.3 37.2,53.3 36.9,51.9 37.1,50.7 37.2,49.6 37.3,49.0" fill="#ff7a1a" stroke="#ff7a1a" stroke-width="0.5"/>
<polygon points="36.2,49.0 36.4,49.1 36.6,49.3 36.7,49.4 36.5,49.5 37.2,49.5 37.1,49.4 37.2,49.3 37.4,49.1 37.6,49.0" fill="#ff7a1a" stroke="#ff7a1a" stroke-width="0.5"/>
<polygon points="36.7,49.0 36.8,49.3 36.9,49.8 37.0,50.4 36.7,51.1 37.4,51.1 37.1,50.4 37.2,49.8 37.3,49.3 37.3,49.0" fill="#ff7a1a" stroke="#ff7a1a" stroke-width="0.5"/>
<polygon points="36.6,49.0 36.8,49.9 37.0,50.9 37.2,51.9 37.0,53.0 37.7,53.0 37.5,51.9 37.7,50.9 37.9,49.9 38.0,49.0" fill="#ff7a1a" stroke="#ff7a1a" stroke-width="0.5"/>
<polygon points="37.0,49.0 37.2,49.7 37.4,50.5 37.7,51.3 37.6,52.1 38.3,52.1 38.1,51.3 38.4,50.5 38.6,49.7 38.9,49.0" fill="#ff7a1a" stroke="#ff7a1a" stroke-width="0.5"/>
<polygon points="37.5,49.0 37.6,49.2 37.8,49.4 37.9,49.6 37.7,49.9 38.4,49.9 38.2,49.6 38.3,49.4 38.4,49.2 38.6,49.0" fill="#ff7a1a" stroke="#ff7a1a" stroke-width="0.5"/>
<polygon points="38.3,49.0 38.5,50.4 38.7,51.5 38.8,52.5 38.7,53.5 39.4,53.5 39.2,52.5 39.4,51.5 39.6,50.4 39.8,49.0" fill="#ff7a1a" stroke="#ff7a1a" stroke-width="0.5"/>
<polygon points="38.8,49.0 38.9,49.5 39.0,50.1 39.1,50.8 38.8,51.5 39.5,51.5 39.3,50.8 39.4,50.1 39.4,49.5 39.5,49.0" fill="#ff7a1a" stroke="#ff7a1a" stroke-width="0.5"/>
<polygon points="38.9,49.0 39.0,49.2 39.2,49.4 39.4,49.5 39.2,49.7 39.9,49.7 39.7,49.5 39.9,49.4 40.0,49.2 40.2,49.0" fill="#ff7a1a" stroke="#ff7a1a" stroke-width="0.5"/>
<polygon points="39.4,49.0 39.5,49.7 39.6,50.6 39.7,51.5 39.4,52.5 40.1,52.5 39.8,51.5 39.9,50.6 40.0,49.7 40.1,49.0" fill="#ff7a1a" stroke="#ff7a1a" stroke-width="0.5"/>
<polygon points="39.4,49.0 39.6,49.4 39.8,49.7 40.0,50.2 39.8,50.6 40.5,50.6 40.4,50.2 40.6,49.7 40.8,49.4 41.0,49.0" fill="#ff7a1a" stroke="#ff7a1a" stroke-width="0.5"/>
<polygon points="40.2,49.0 40.5,50.2 40.7,51.7 40.9,53.1 40.8,54.6 41.5,54.6 41.4,53.1 41.6,51.7 41.8,50.2 42.0,49.0" fill="#ff7a1a" stroke="#ff7a1a" stroke-width="0.5"/>
<polygon points="41.2,49.0 41.5,49.2 41.7,49.4 41.9,49.6 41.7,49.9 42.4,49.9 42.3,49.6 42.5,49.4 42.7,49.2 42.9,49.0" fill="#ff7a1a" stroke="#ff7a1a" stroke-width="0.5"/>
<polygon points="42.1,49.0 42.2,49.2 42.4,49.3 42.6,49.5 42.4,49.6 43.1,49.6 42.9,49.5 43.1,49.3 43.3,49.2 43.5,49.0" fill="#ff7a1a" stroke="#ff7a1a" stroke-width="0.5"/>
<polygon points="42.5,49.0 42.6,49.6 42.7,50.5 42.8,51.6 42.5,52.7 43.2,52.7 43.0,51.6 43.1,50.5 43.2,49.6 43.3,49.0" fill="#ff7a1a" stroke="#ff7a1a" stroke-width="0.5"/>
<polygon points="42.4,49.0 42.5,49.4 42.7,49.8 42.9,50.3 42.7,50.8 43.4,50.8 43.2,50.3 43.4,49.8 43.6,49.4 43.7,49.0" fill="#ff7a1a" stroke="#ff7a1a" stroke-width="0.5"/>
<polygon points="42.3,49.0 42.5,49.6 42.7,50.7 42.9,52.0 42.8,53.6 43.5,53.6 43.3,52.0 43.5,50.7 43.7,49.6 43.9,49.0" fill="#ff7a1a" stroke="#ff7a1a" stroke-width="0.5"/>
<polygon points="44.1,49.0 44.3,49.5 44.4,50.2 44.6,50.9 44.5,51.7 45.2,51.7 45.0,50.9 45.2,50.2 45.4,49.5 45.6,49.0" fill="#ff7a1a" stroke="#ff7a1a" stroke-width="0.5"/>
<polygon points="44.3,49.0 44.5,50.1 44.6,51.3 44.7,52.5 44.5,53.8 45.2,53.8 45.0,52.5 45.1,51.3 45.2,50.1 45.3,49.0" fill="#ff7a1a" stroke="#ff7a1a" stroke-width="0.5"/>
<polygon points="44.8,49.0 44.9,49.5 45.0,50.3 45.2,51.4 44.9,52.5 45.6,52.5 45.4,51.4 45.5,50.3 45.7,49.5 45.8,49.0" fill="#ff7a1a" stroke="#ff7a1a" stroke-width="0.5"/>
<polygon points="45.0,49.0 45.1,49.6 45.2,50.5 45.3,51.7 45.1,53.1 45.8,53.1 45.6,51.7 45.7,50.5 45.8,49.6 45.9,49.0" fill="#ff7a1a" stroke="#ff7a1a" stroke-width="0.5"/>
<polygon points="45.2,49.0 45.5,49.8 45.7,50.9 45.9,52.3 45.8,53.9 46.5,53.9 46.4,52.3 46.6,50.9 46.8,49.8 47.1,49.0" fill="#ff7a1a" stroke="#ff7a1a" stroke-width="0.5"/>
<polygon points="46.0,49.0 46.2,50.4 46.4,51.6 46.7,52.9 46.6,54.1 47.3,54.1 47.1,52.9 47.4,51.6 47.6,50.4 47.8,49.0" fill="#ff7a1a" stroke="#ff7a1a" stroke-width="0.5"/>
<polygon points="48.1,49.0 48.2,49.4 48.4,49.8 48.5,50.2 48.4,50.6 49.1,50.6 48.9,50.2 49.0,49.8 49.2,49.4 49.3,49.0" fill="#ff7a1a" stroke="#ff7a1a" stroke-width="0.5"/>
<polygon points="48.0,49.0 48.2,49.7 48.5,50.8 48.7,52.1 48.6,53.6 49.3,53.6 49.2,52.1 49.4,50.8 49.6,49.7 49.9,49.0" fill="#ff7a1a" stroke="#ff7a1a" stroke-width="0.5"/>
<polygon points="48.6,49.0 48.7,49.3 48.8,49.7 48.9,50.1 48.6,50.6 49.3,50.6 49.0,50.1 49.1,49.7 49.2,49.3 49.3,49.0" fill="#ff7a1a" stroke="#ff7a1a" stroke-width="0.5"/>
<polygon points="48.7,49.0 48.8,49.9 49.0,51.4 49.1,53.4 48.8,55.8 49.5,55.8 49.3,53.4 49.4,51.4 49.5,49.9 49.6,49.0" fill="#ff7a1a" stroke="#ff7a1a" stroke-width="0.5"/>
<polygon points="49.1,49.0 49.2,49.8 49.4,51.0 49.6,52.6 49.4,54.4 50.1,54.4 50.0,52.6 50.1,51.0 50.3,49.8 50.5,49.0" fill="#ff7a1a" stroke="#ff7a1a" stroke-width="0.5"/>
<polygon points="49.4,49.0 49.6,50.1 49.8,51.6 50.1,53.3 50.0,55.1 50.7,55.1 50.5,53.3 50.8,51.6 51.0,50.1 51.2,49.0" fill="#ff7a1a" stroke="#ff7a1a" stroke-width="0.5"/>
<polygon points="49.7,49.0 49.9,49.4 50.0,49.9 50.2,50.4 50.0,51.0 50.7,51.0 50.5,50.4 50.7,49.9 50.8,49.4 51.0,49.0" fill="#ff7a1a" stroke="#ff7a1a" stroke-width="0.5"/>
<polygon points="50.5,49.0 50.7,49.1 51.0,49.3 51.2,49.5 51.1,49.8 51.8,49.8 51.7,49.5 51.9,49.3 52.2,49.1 52.4,49.0" fill="#ff7a1a" stroke="#ff7a1a" stroke-width="0.5"/>
<polygon points="51.1,49.0 51.3,49.5 51.4,50.4 51.6,51.5 51.4,52.9 52.1,52.9 52.0,51.5 52.1,50.4 52.3,49.5 52.5,49.0" fill="#ff7a1a" stroke="#ff7a1a" stroke-width="0.5"/>
<polygon points="51.4,49.0 51.6,50.5 51.8,51.8 52.1,52.9 51.9,54.0 52.6,54.0 52.5,52.9 52.7,51.8 52.9,50.5 53.1,49.0" fill="#ff7a1a" stroke="#ff7a1a" stroke-width="0.5"/>
<polygon points="51.9,49.0 52.2,49.8 52.4,51.3 52.6,53.1 52.5,55.3 53.2,55.3 53.0,53.1 53.2,51.3 53.5,49.8 53.7,49.0" fill="#ff7a1a" stroke="#ff7a1a" stroke-width="0.5"/>
<polygon points="52.4,49.0 52.6,49.8 52.7,51.0 52.8,52.5 52.6,54.3 53.3,54.3 53.1,52.5 53.2,51.0 53.3,49.8 53.4,49.0" fill="#ff7a1a" stroke="#ff7a1a" stroke-width="0.5"/>
<polygon points="52.6,49.0 52.8,49.6 53.0,50.3 53.2,51.0 53.0,51.8 53.7,51.8 53.5,51.0 53.7,50.3 53.9,49.6 54.0,49.0" fill="#ff7a1a" stroke="#ff7a1a" stroke-width="0.5"/>
<polygon points="53.9,49.0 53.9,49.8 54.0,50.7 54.1,51.8 53.9,52.9 54.6,52.9 54.3,51.8 54.4,50.7 54.5,49.8 54.6,49.0" fill="#ff7a1a" stroke="#ff7a1a" stroke-width="0.5"/>
<polygon points="53.6,49.0 53.7,49.3 53.9,49.6 54.1,49.9 53.9,50.3 54.6,50.3 54.4,49.9 54.5,49.6 54.7,49.3 54.9,49.0" fill="#ff7a1a" stroke="#ff7a1a" stroke-width="0.5"/>
<polygon points="53.8,49.0 53.9,49.6 54.0,50.3 54.1,50.9 53.9,51.6 54.6,51.6 54.4,50.9 54.5,50.3 54.6,49.6 54.8,49.0" fill="#ff7a1a" stroke="#ff7a1a" stroke-width="0.5"/>
<polygon points="54.3,49.0 54.4,49.2 54.5,49.4 54.5,49.5 54.3,49.7 55.0,49.7 54.7,49.5 54.8,49.4 54.9,49.2 54.9,49.0" fill="#ff7a1a" stroke="#ff7a1a" stroke-width="0.5"/>
<polygon points="54.3,49.0 54.5,50.9 54.7,52.4 54.9,53.8 54.7,55.1 55.4,55.1 55.3,53.8 55.5,52.4 55.7,50.9 55.9,49.0" fill="#ff7a1a" stroke="#ff7a1a" stroke-width="0.5"/>
<polygon points="54.5,49.0 54.7,49.9 54.9,51.2 55.1,52.7 55.0,54.4 55.7,54.4 55.6,52.7 55.8,51.2 56.0,49.9 56.3,49.0" fill="#ff7a1a" stroke="#ff7a1a" stroke-width="0.5"/>
<polygon points="54.9,49.0 55.0,50.1 55.2,50.9 55.3,51.7 55.1,52.4 55.8,52.4 55.6,51.7 55.8,50.9 55.9,50.1 56.1,49.0" fill="#ff7a1a" stroke="#ff7a1a" stroke-width="0.5"/>
<polygon points="55.5,49.0 55.7,49.3 56.0,49.8 56.2,50.4 56.1,51.0 56.8,51.0 56.7,50.4 56.9,49.8 57.2,49.3 57.4,49.0" fill="#ff7a1a" stroke="#ff7a1a" stroke-width="0.5"/>
<polygon points="56.0,49.0 56.2,49.1 56.4,49.2 56.6,49.4 56.5,49.6 57.2,49.6 57.0,49.4 57.2,49.2 57.4,49.1 57.6,49.0" fill="#ff7a1a" stroke="#ff7a1a" stroke-width="0.5"/>
<polygon points="56.4,49.0 56.5,49.4 56.7,49.8 56.9,50.4 56.7,50.9 57.4,50.9 57.2,50.4 57.3,49.8 57.5,49.4 57.7,49.0" fill="#ff7a1a" stroke="#ff7a1a" stroke-width="0.5"/>
<polygon points="56.5,49.0 56.7,49.3 56.9,49.9 57.1,50.5 56.9,51.3 57.6,51.3 57.5,50.5 57.7,49.9 57.9,49.3 58.1,49.0" fill="#ff7a1a" stroke="#ff7a1a" stroke-width="0.5"/>
<polygon points="57.2,49.0 57.3,49.9 57.3,51.3 57.4,52.9 57.2,54.6 57.9,54.6 57.6,52.9 57.7,51.3 57.8,49.9 57.8,49.0" fill="#ff7a1a" stroke="#ff7a1a" stroke-width="0.5"/>
<polygon points="57.1,49.0 57.3,50.1 57.4,50.9 57.6,51.7 57.3,52.5 58.0,52.5 57.8,51.7 58.0,50.9 58.1,50.1 58.2,49.0" fill="#ff7a1a" stroke="#ff7a1a" stroke-width="0.5"/>
<polygon points="57.2,49.0 57.4,49.8 57.5,51.2 57.6,53.0 57.4,55.1 58.1,55.1 57.9,53.0 58.1,51.2 58.2,49.8 58.4,49.0" fill="#ff7a1a" stroke="#ff7a1a" stroke-width="0.5"/>
<polygon points="57.4,49.0 57.6,49.7 57.7,51.0 57.9,52.7 57.7,54.6 58.4,54.6 58.2,52.7 58.3,51.0 58.5,49.7 58.6,49.0" fill="#ff7a1a" stroke="#ff7a1a" stroke-width="0.5"/>
<polygon points="59.7,49.0 59.8,49.6 59.9,50.0 60.0,50.5 59.7,50.9 60.4,50.9 60.2,50.5 60.3,50.0 60.4,49.6 60.5,49.0" fill="#ff7a1a" stroke="#ff7a1a" stroke-width="0.5"/>
<polygon points="59.6,49.0 59.8,49.6 59.9,50.6 60.0,51.8 59.8,53.2 60.5,53.2 60.3,51.8 60.5,50.6 60.6,49.6 60.7,49.0" fill="#ff7a1a" stroke="#ff7a1a" stroke-width="0.5"/>
<polygon points="60.0,49.0 60.2,50.4 60.3,51.8 60.4,53.2 60.1,54.6 60.8,54.6 60.6,53.2 60.7,51.8 60.8,50.4 60.9,49.0" fill="#ff7a1a" stroke="#ff7a1a" stroke-width="0.5"/>
<polygon points="61.0,49.0 61.1,49.3 61.3,49.7 61.4,50.3 61.2,50.9 61.9,50.9 61.7,50.3 61.9,49.7 62.0,49.3 62.2,49.0" fill="#ff7a1a" stroke="#ff7a1a" stroke-width="0.5"/>
<polygon points="61.3,49.0 61.4,49.3 61.5,49.7 61.6,50.2 61.3,50.8 62.0,50.8 61.8,50.2 61.9,49.7 61.9,49.3 62.0,49.0" fill="#ff7a1a" stroke="#ff7a1a" stroke-width="0.5"/>
<polygon points="60.9,49.0 61.1,49.8 61.3,50.6 61.6,51.4 61.4,52.3 62.1,52.3 62.0,51.4 62.2,50.6 62.5,49.8 62.7,49.0" fill="#ff7a1a" stroke="#ff7a1a" stroke-width="0.5"/>
<polygon points="60.8,49.0 61.1,49.6 61.3,50.0 61.6,50.5 61.5,50.9 62.2,50.9 62.0,50.5 62.3,50.0 62.5,49.6 62.8,49.0" fill="#ff7a1a" stroke="#ff7a1a" stroke-width="0.5"/>
<polygon points="62.3,49.0 62.4,49.2 62.5,49.4 62.6,49.7 62.4,50.1 63.1,50.1 62.8,49.7 62.9,49.4 63.0,49.2 63.1,49.0" fill="#ff7a1a" stroke="#ff7a1a" stroke-width="0.5"/>
<polygon points="62.6,49.0 62.8,49.6 62.9,50.2 63.1,50.7 63.0,51.2 63.7,51.2 63.5,50.7 63.7,50.2 63.9,49.6 64.1,49.0" fill="#ff7a1a" stroke="#ff7a1a" stroke-width="0.5"/>
<polygon points="63.7,49.0 63.9,49.7 64.2,50.6 64.4,51.6 64.3,52.6 65.0,52.6 64.9,51.6 65.1,50.6 65.4,49.7 65.6,49.0" fill="#ff7a1a" stroke="#ff7a1a" stroke-width="0.5"/>
<polygon points="64.1,49.0 64.2,50.6 64.4,51.9 64.6,53.1 64.4,54.2 65.1,54.2 65.0,53.1 65.1,51.9 65.3,50.6 65.5,49.0" fill="#ff7a1a" stroke="#ff7a1a" stroke-width="0.5"/>
<polygon points="64.4,49.0 64.6,49.3 64.8,49.7 65.0,50.3 64.8,51.1 65.5,51.1 65.4,50.3 65.5,49.7 65.7,49.3 65.9,49.0" fill="#ff7a1a" stroke="#ff7a1a" stroke-width="0.5"/>
<polygon points="65.2,49.0 65.4,50.7 65.5,51.9 65.7,53.0 65.4,54.1 66.1,54.1 65.9,53.0 66.1,51.9 66.2,50.7 66.3,49.0" fill="#ff7a1a" stroke="#ff7a1a" stroke-width="0.5"/>
<polygon points="65.4,49.0 65.6,49.1 65.7,49.3 65.8,49.4 65.5,49.5 66.2,49.5 66.0,49.4 66.1,49.3 66.2,49.1 66.3,49.0" fill="#ff7a1a" stroke="#ff7a1a" stroke-width="0.5"/>
<polygon points="65.2,49.0 65.4,49.6 65.6,50.6 65.8,51.8 65.7,53.1 66.4,53.1 66.2,51.8 66.4,50.6 66.6,49.6 66.9,49.0" fill="#ff7a1a" stroke="#ff7a1a" stroke-width="0.5"/>
<polygon points="65.9,49.0 66.1,50.1 66.3,51.4 66.5,52.8 66.3,54.2 67.0,54.2 66.9,52.8 67.1,51.4 67.3,50.1 67.5,49.0" fill="#ff7a1a" stroke="#ff7a1a" stroke-width="0.5"/>
<polygon points="67.0,49.0 67.1,49.1 67.2,49.3 67.3,49.6 67.0,49.9 67.7,49.9 67.4,49.6 67.5,49.3 67.6,49.1 67.6,49.0" fill="#ff7a1a" stroke="#ff7a1a" stroke-width="0.5"/>
<polygon points="66.9,49.0 67.0,50.6 67.2,51.9 67.3,53.1 67.1,54.2 67.8,54.2 67.6,53.1 67.7,51.9 67.9,50.6 68.0,49.0" fill="#ff7a1a" stroke="#ff7a1a" stroke-width="0.5"/>
<polygon points="67.4,49.0 67.6,49.9 67.9,50.9 68.1,52.1 68.0,53.4 68.7,53.4 68.6,52.1 68.9,50.9 69.1,49.9 69.3,49.0" fill="#ff7a1a" stroke="#ff7a1a" stroke-width="0.5"/>
<polygon points="68.2,49.0 68.3,49.7 68.4,50.5 68.5,51.4 68.3,52.2 69.0,52.2 68.8,51.4 68.9,50.5 69.0,49.7 69.1,49.0" fill="#ff7a1a" stroke="#ff7a1a" stroke-width="0.5"/>
<polygon points="68.0,49.0 68.2,49.7 68.5,51.0 68.7,52.5 68.5,54.4 69.2,54.4 69.1,52.5 69.3,51.0 69.5,49.7 69.8,49.0" fill="#ff7a1a" stroke="#ff7a1a" stroke-width="0.5"/>
<polygon points="68.3,49.0 68.4,49.4 68.6,50.1 68.8,51.0 68.6,52.0 69.3,52.0 69.1,51.0 69.3,50.1 69.4,49.4 69.6,49.0" fill="#ff7a1a" stroke="#ff7a1a" stroke-width="0.5"/>
<polygon points="69.3,49.0 69.4,49.1 69.6,49.3 69.7,49.5 69.5,49.8 70.2,49.8 70.0,49.5 70.2,49.3 70.3,49.1 70.4,49.0" fill="#ff7a1a" stroke="#ff7a1a" stroke-width="0.5"/>
<polygon points="69.6,49.0 69.8,49.9 69.9,51.2 70.1,52.8 70.0,54.7 70.7,54.7 70.5,52.8 70.7,51.2 70.9,49.9 71.1,49.0" fill="#ff7a1a" stroke="#ff7a1a" stroke-width="0.5"/>
<polygon points="70.1,49.0 70.3,49.7 70.5,50.8 70.7,52.2 70.5,53.9 71.2,53.9 71.0,52.2 71.2,50.8 71.4,49.7 71.6,49.0" fill="#ff7a1a" stroke="#ff7a1a" stroke-width="0.5"/>
<polygon points="72.0,49.0 72.0,49.1 72.1,49.2 72.2,49.3 72.0,49.5 72.7,49.5 72.4,49.3 72.5,49.2 72.6,49.1 72.7,49.0" fill="#ff7a1a" stroke="#ff7a1a" stroke-width="0.5"/>
<polygon points="71.5,49.0 71.8,49.4 72.0,49.7 72.3,49.9 72.1,50.2 72.8,50.2 72.7,49.9 73.0,49.7 73.2,49.4 73.4,49.0" fill="#ff7a1a" stroke="#ff7a1a" stroke-width="0.5"/>
<polygon points="72.3,49.0 72.5,49.7 72.6,50.3 72.7,51.0 72.5,51.6 73.2,51.6 73.0,51.0 73.1,50.3 73.2,49.7 73.3,49.0" fill="#ff7a1a" stroke="#ff7a1a" stroke-width="0.5"/>
<polygon points="72.5,49.0 72.6,49.5 72.7,50.1 72.8,50.8 72.5,51.5 73.2,51.5 72.9,50.8 73.0,50.1 73.1,49.5 73.2,49.0" fill="#ff7a1a" stroke="#ff7a1a" stroke-width="0.5"/>
<polygon points="72.1,49.0 72.3,49.7 72.6,50.8 72.8,52.1 72.7,53.7 73.4,53.7 73.3,52.1 73.5,50.8 73.8,49.7 74.0,49.0" fill="#ff7a1a" stroke="#ff7a1a" stroke-width="0.5"/>
<polygon points="73.6,49.0 73.7,49.6 73.8,50.7 73.9,52.1 73.6,53.8 74.3,53.8 74.0,52.1 74.1,50.7 74.2,49.6 74.3,49.0" fill="#ff7a1a" stroke="#ff7a1a" stroke-width="0.5"/>
<polygon points="73.4,49.0 73.6,49.9 73.8,50.8 74.0,51.6 73.9,52.5 74.6,52.5 74.4,51.6 74.6,50.8 74.8,49.9 75.0,49.0" fill="#ff7a1a" stroke="#ff7a1a" stroke-width="0.5"/>
<polygon points="73.6,49.0 73.9,49.2 74.1,49.5 74.3,49.8 74.2,50.1 74.9,50.1 74.8,49.8 75.0,49.5 75.3,49.2 75.5,49.0" fill="#ff7a1a" stroke="#ff7a1a" stroke-width="0.5"/>
<polygon points="73.9,49.0 74.1,49.9 74.3,51.3 74.5,53.0 74.3,54.8 75.0,54.8 74.8,53.0 75.0,51.3 75.2,49.9 75.3,49.0" fill="#ff7a1a" stroke="#ff7a1a" stroke-width="0.5"/>
<polygon points="74.4,49.0 74.6,50.1 74.7,51.2 74.9,52.2 74.7,53.3 75.4,53.3 75.2,52.2 75.3,51.2 75.5,50.1 75.6,49.0" fill="#ff7a1a" stroke="#ff7a1a" stroke-width="0.5"/>
<polygon points="74.7,49.0 74.8,49.9 74.9,50.9 75.0,51.9 74.7,52.9 75.4,52.9 75.2,51.9 75.3,50.9 75.4,49.9 75.5,49.0" fill="#ff7a1a" stroke="#ff7a1a" stroke-width="0.5"/>
<polygon points="74.6,49.0 74.8,50.5 75.0,51.9 75.2,53.2 75.1,54.5 75.8,54.5 75.7,53.2 75.9,51.9 76.1,50.5 76.3,49.0" fill="#ff7a1a" stroke="#ff7a1a" stroke-width="0.5"/>
<polygon points="76.2,49.0 76.5,49.2 76.7,49.5 76.9,49.8 76.8,50.2 77.5,50.2 77.4,49.8 77.6,49.5 77.9,49.2 78.1,49.0" fill="#ff7a1a" stroke="#ff7a1a" stroke-width="0.5"/>
<polygon points="78.4,49.0 78.6,50.4 78.8,51.9 78.9,53.4 78.8,54.9 79.5,54.9 79.3,53.4 79.4,51.9 79.6,50.4 79.8,49.0" fill="#ff7a1a" stroke="#ff7a1a" stroke-width="0.5"/>
<polygon points="78.8,49.0 78.9,49.4 79.1,49.9 79.2,50.5 79.0,51.2 79.7,51.2 79.5,50.5 79.6,49.9 79.7,49.4 79.9,49.0" fill="#ff7a1a" stroke="#ff7a1a" stroke-width="0.5"/>
<polygon points="79.0,49.0 79.1,49.6 79.2,50.4 79.3,51.1 79.0,52.0 79.7,52.0 79.5,51.1 79.6,50.4 79.7,49.6 79.8,49.0" fill="#ff7a1a" stroke="#ff7a1a" stroke-width="0.5"/>
<polygon points="80.4,49.0 80.7,49.9 80.9,51.2 81.2,52.8 81.1,54.6 81.8,54.6 81.7,52.8 81.9,51.2 82.1,49.9 82.4,49.0" fill="#ff7a1a" stroke="#ff7a1a" stroke-width="0.5"/>
<polygon points="80.9,49.0 81.1,49.8 81.3,50.5 81.6,51.2 81.5,51.8 82.2,51.8 82.0,51.2 82.3,50.5 82.5,49.8 82.7,49.0" fill="#ff7a1a" stroke="#ff7a1a" stroke-width="0.5"/>
<polygon points="81.4,49.0 81.5,49.3 81.6,49.6 81.8,49.8 81.6,50.1 82.3,50.1 82.1,49.8 82.2,49.6 82.4,49.3 82.5,49.0" fill="#ff7a1a" stroke="#ff7a1a" stroke-width="0.5"/>
<polygon points="81.3,49.0 81.5,49.3 81.7,49.6 81.9,50.0 81.8,50.4 82.5,50.4 82.3,50.0 82.5,49.6 82.7,49.3 82.9,49.0" fill="#ff7a1a" stroke="#ff7a1a" stroke-width="0.5"/>
<polygon points="81.6,49.0 81.8,49.9 82.0,51.0 82.2,52.1 82.1,53.3 82.8,53.3 82.6,52.1 82.8,51.0 83.1,49.9 83.3,49.0" fill="#ff7a1a" stroke="#ff7a1a" stroke-width="0.5"/>
<polygon points="82.3,49.0 82.4,49.6 82.6,50.0 82.8,50.4 82.6,50.8 83.3,50.8 83.1,50.4 83.3,50.0 83.4,49.6 83.6,49.0" fill="#ff7a1a" stroke="#ff7a1a" stroke-width="0.5"/>
<polygon points="83.1,49.0 83.2,50.8 83.2,52.2 83.3,53.4 83.1,54.6 83.8,54.6 83.5,53.4 83.6,52.2 83.7,50.8 83.8,49.0" fill="#ff7a1a" stroke="#ff7a1a" stroke-width="0.5"/>
<polygon points="83.2,49.0 83.4,49.8 83.6,50.6 83.7,51.5 83.5,52.4 84.2,52.4 84.0,51.5 84.2,50.6 84.4,49.8 84.5,49.0" fill="#ff7a1a" stroke="#ff7a1a" stroke-width="0.5"/>
<polygon points="83.5,49.0 83.6,49.8 83.8,50.5 83.9,51.1 83.7,51.7 84.4,51.7 84.2,51.1 84.4,50.5 84.5,49.8 84.7,49.0" fill="#ff7a1a" stroke="#ff7a1a" stroke-width="0.5"/>
<polygon points="83.8,49.0 84.0,49.2 84.3,49.4 84.5,49.6 84.4,49.9 85.1,49.9 84.9,49.6 85.2,49.4 85.4,49.2 85.6,49.0" fill="#ff7a1a" stroke="#ff7a1a" stroke-width="0.5"/>
<polygon points="84.0,49.0 84.2,50.2 84.4,51.2 84.7,52.2 84.6,53.1 85.3,53.1 85.1,52.2 85.4,51.2 85.6,50.2 85.8,49.0" fill="#ff7a1a" stroke="#ff7a1a" stroke-width="0.5"/>
<polygon points="84.3,49.0 84.5,50.3 84.7,51.8 85.0,53.3 84.8,54.9 85.5,54.9 85.4,53.3 85.6,51.8 85.9,50.3 86.1,49.0" fill="#ff7a1a" stroke="#ff7a1a" stroke-width="0.5"/>
<polygon points="85.1,49.0 85.2,50.5 85.3,51.7 85.4,52.9 85.1,54.0 85.8,54.0 85.5,52.9 85.6,51.7 85.7,50.5 85.8,49.0" fill="#ff7a1a" stroke="#ff7a1a" stroke-width="0.5"/>
<polygon points="85.9,49.0 86.0,49.6 86.2,50.4 86.4,51.4 86.2,52.6 86.9,52.6 86.7,51.4 86.9,50.4 87.1,49.6 87.3,49.0" fill="#ff7a1a" stroke="#ff7a1a" stroke-width="0.5"/>
<polygon points="86.2,49.0 86.3,49.4 86.5,50.0 86.6,50.8 86.4,51.7 87.1,51.7 86.9,50.8 87.0,50.0 87.1,49.4 87.3,49.0" fill="#ff7a1a" stroke="#ff7a1a" stroke-width="0.5"/>
<polygon points="86.0,49.0 86.2,49.8 86.4,51.0 86.6,52.6 86.4,54.3 87.1,54.3 87.0,52.6 87.2,51.0 87.4,49.8 87.6,49.0" fill="#ff7a1a" stroke="#ff7a1a" stroke-width="0.5"/>
<polygon points="86.8,49.0 87.0,49.2 87.2,49.5 87.4,49.7 87.2,50.0 87.9,50.0 87.8,49.7 88.0,49.5 88.2,49.2 88.4,49.0" fill="#ff7a1a" stroke="#ff7a1a" stroke-width="0.5"/>
<polygon points="87.1,49.0 87.2,49.3 87.3,49.5 87.5,49.8 87.2,50.0 87.9,50.0 87.7,49.8 87.8,49.5 87.9,49.3 88.1,49.0" fill="#ff7a1a" stroke="#ff7a1a" stroke-width="0.5"/>
<polygon points="86.7,49.0 86.9,49.6 87.1,50.8 87.4,52.3 87.3,54.1 88.0,54.1 87.9,52.3 88.1,50.8 88.3,49.6 88.6,49.0" fill="#ff7a1a" stroke="#ff7a1a" stroke-width="0.5"/>
<polygon points="87.4,49.0 87.5,50.1 87.6,50.9 87.7,51.8 87.4,52.6 88.1,52.6 87.9,51.8 87.9,50.9 88.0,50.1 88.1,49.0" fill="#ff7a1a" stroke="#ff7a1a" stroke-width="0.5"/>
<polygon points="88.0,49.0 88.2,49.6 88.4,50.4 88.5,51.5 88.4,52.6 89.1,52.6 88.9,51.5 89.1,50.4 89.2,49.6 89.4,49.0" fill="#ff7a1a" stroke="#ff7a1a" stroke-width="0.5"/>
<polygon points="88.9,49.0 89.0,49.9 89.0,50.9 89.1,52.1 88.8,53.4 89.5,53.4 89.3,52.1 89.3,50.9 89.4,49.9 89.5,49.0" fill="#ff7a1a" stroke="#ff7a1a" stroke-width="0.5"/>
<polygon points="89.1,49.0 89.3,50.0 89.6,51.2 89.8,52.6 89.7,54.0 90.4,54.0 90.3,52.6 90.5,51.2 90.8,50.0 91.0,49.0" fill="#ff7a1a" stroke="#ff7a1a" stroke-width="0.5"/>
<polygon points="89.8,49.0 90.0,49.1 90.2,49.2 90.3,49.4 90.2,49.6 90.9,49.6 90.7,49.4 90.8,49.2 91.0,49.1 91.2,49.0" fill="#ff7a1a" stroke="#ff7a1a" stroke-width="0.5"/>
<polygon points="90.6,49.0 90.6,50.5 90.7,51.9 90.8,53.1 90.6,54.4 91.3,54.4 91.0,53.1 91.1,51.9 91.2,50.5 91.2,49.0" fill="#ff7a1a" stroke="#ff7a1a" stroke-width="0.5"/>
<polygon points="90.7,49.0 90.8,49.7 90.9,50.9 91.0,52.2 90.7,53.8 91.4,53.8 91.2,52.2 91.3,50.9 91.4,49.7 91.5,49.0" fill="#ff7a1a" stroke="#ff7a1a" stroke-width="0.5"/>
<polygon points="90.7,49.0 90.9,50.2 91.0,51.5 91.1,52.9 90.9,54.3 91.6,54.3 91.4,52.9 91.5,51.5 91.7,50.2 91.8,49.0" fill="#ff7a1a" stroke="#ff7a1a" stroke-width="0.5"/>
<polygon points="90.4,49.0 90.7,49.7 90.9,50.5 91.1,51.4 90.9,52.3 91.6,52.3 91.5,51.4 91.7,50.5 91.9,49.7 92.1,49.0" fill="#ff7a1a" stroke="#ff7a1a" stroke-width="0.5"/>
<polygon points="90.7,49.0 90.9,50.3 91.1,51.7 91.3,53.1 91.2,54.5 91.9,54.5 91.8,53.1 92.0,51.7 92.2,50.3 92.4,49.0" fill="#ff7a1a" stroke="#ff7a1a" stroke-width="0.5"/>
<polygon points="91.8,49.0 91.9,50.2 92.0,51.3 92.2,52.4 91.9,53.5 92.6,53.5 92.4,52.4 92.5,51.3 92.7,50.2 92.8,49.0" fill="#ff7a1a" stroke="#ff7a1a" stroke-width="0.5"/>
<polygon points="92.8,49.0 93.0,49.9 93.1,50.8 93.3,51.5 93.1,52.2 93.8,52.2 93.7,51.5 93.9,50.8 94.0,49.9 94.2,49.0" fill="#ff7a1a" stroke="#ff7a1a" stroke-width="0.5"/>
<polygon points="94.4,49.0 94.6,50.3 94.7,51.6 94.9,52.9 94.7,54.2 95.4,54.2 95.2,52.9 95.3,51.6 95.5,50.3 95.6,49.0" fill="#ff7a1a" stroke="#ff7a1a" stroke-width="0.5"/>
<polygon points="94.6,49.0 94.8,49.9 94.9,50.7 95.1,51.6 94.9,52.4 95.6,52.4 95.4,51.6 95.5,50.7 95.7,49.9 95.8,49.0" fill="#ff7a1a" stroke="#ff7a1a" stroke-width="0.5"/>
<polygon points="94.9,49.0 95.1,50.0 95.2,51.1 95.4,52.1 95.2,53.1 95.9,53.1 95.6,52.1 95.8,51.1 95.9,50.0 96.1,49.0" fill="#ff7a1a" stroke="#ff7a1a" stroke-width="0.5"/>
<polygon points="95.3,49.0 95.5,50.2 95.6,51.2 95.7,52.1 95.5,53.1 96.2,53.1 96.0,52.1 96.1,51.2 96.2,50.2 96.4,49.0" fill="#ff7a1a" stroke="#ff7a1a" stroke-width="0.5"/>
<polygon points="96.1,49.0 96.4,50.5 96.6,51.9 96.8,53.3 96.7,54.7 97.4,54.7 97.2,53.3 97.5,51.9 97.7,50.5 97.9,49.0" fill="#ff7a1a" stroke="#ff7a1a" stroke-width="0.5"/>
<polygon points="96.3,49.0 96.6,49.1 96.8,49.2 97.1,49.3 96.9,49.4 97.6,49.4 97.5,49.3 97.8,49.2 98.0,49.1 98.2,49.0" fill="#ff7a1a" stroke="#ff7a1a" stroke-width="0.5"/>
<polygon points="96.9,49.0 97.0,49.6 97.1,50.2 97.3,50.8 97.0,51.3 97.7,51.3 97.5,50.8 97.6,50.2 97.8,49.6 97.9,49.0" fill="#ff7a1a" stroke="#ff7a1a" stroke-width="0.5"/>
<polygon points="97.7,49.0 97.8,49.7 97.9,50.3 97.9,50.9 97.7,51.5 98.4,51.5 98.1,50.9 98.2,50.3 98.2,49.7 98.3,49.0" fill="#ff7a1a" stroke="#ff7a1a" stroke-width="0.5"/>
<polygon points="98.7,49.0 98.8,49.8 98.8,50.9 98.9,52.1 98.6,53.3 99.3,53.3 99.1,52.1 99.1,50.9 99.2,49.8 99.3,49.0" fill="#ff7a1a" stroke="#ff7a1a" stroke-width="0.5"/>
<polygon points="98.8,49.0 99.0,49.6 99.2,50.6 99.4,51.7 99.2,53.0 99.9,53.0 99.8,51.7 100.0,50.6 100.2,49.6 100.3,49.0" fill="#ff7a1a" stroke="#ff7a1a" stroke-width="0.5"/>
<polygon points="99.2,49.0 99.4,50.6 99.5,51.9 99.7,53.1 99.5,54.2 100.2,54.2 100.0,53.1 100.1,51.9 100.3,50.6 100.4,49.0" fill="#ff7a1a" stroke="#ff7a1a" stroke-width="0.5"/>
<polygon points="100.0,49.0 100.2,49.5 100.4,50.1 100.6,50.7 100.4,51.3 101.1,51.3 100.9,50.7 101.1,50.1 101.3,49.5 101.5,49.0" fill="#ff7a1a" stroke="#ff7a1a" stroke-width="0.5"/>
<polygon points="100.1,49.0 100.3,49.9 100.5,50.8 100.7,51.6 100.5,52.5 101.2,52.5 101.1,51.6 101.3,50.8 101.5,49.9 101.7,49.0" fill="#ff7a1a" stroke="#ff7a1a" stroke-width="0.5"/>
<polygon points="100.7,49.0 101.0,49.5 101.2,49.9 101.4,50.3 101.2,50.7 101.9,50.7 101.8,50.3 102.0,49.9 102.2,49.5 102.4,49.0" fill="#ff7a1a" stroke="#ff7a1a" stroke-width="0.5"/>
<polygon points="100.9,49.0 101.1,49.2 101.3,49.3 101.5,49.5 101.3,49.6 102.0,49.6 101.8,49.5 102.0,49.3 102.2,49.2 102.4,49.0" fill="#ff7a1a" stroke="#ff7a1a" stroke-width="0.5"/>
<polygon points="102.1,49.0 102.3,49.3 102.4,49.8 102.6,50.4 102.4,51.2 103.1,51.2 102.9,50.4 103.0,49.8 103.2,49.3 103.3,49.0" fill="#ff7a1a" stroke="#ff7a1a" stroke-width="0.5"/>
<polygon points="102.4,49.0 102.6,49.1 102.9,49.3 103.1,49.5 103.0,49.7 103.7,49.7 103.6,49.5 103.8,49.3 104.1,49.1 104.3,49.0" fill="#ff7a1a" stroke="#ff7a1a" stroke-width="0.5"/>
<polygon points="104.0,49.0 104.1,50.3 104.3,51.7 104.4,53.1 104.1,54.6 104.8,54.6 104.6,53.1 104.7,51.7 104.8,50.3 104.9,49.0" fill="#ff7a1a" stroke="#ff7a1a" stroke-width="0.5"/>
<polygon points="103.7,49.0 103.9,49.5 104.2,50.3 104.4,51.2 104.3,52.3 105.0,52.3 104.9,51.2 105.1,50.3 105.3,49.5 105.5,49.0" fill="#ff7a1a" stroke="#ff7a1a" stroke-width="0.5"/>
<polygon points="104.2,49.0 104.3,50.5 104.4,51.9 104.5,53.2 104.3,54.5 105.0,54.5 104.8,53.2 104.9,51.9 105.0,50.5 105.1,49.0" fill="#ff7a1a" stroke="#ff7a1a" stroke-width="0.5"/>
<polygon points="104.6,49.0 104.7,49.3 104.8,49.7 104.9,50.1 104.6,50.6 105.3,50.6 105.1,50.1 105.2,49.7 105.3,49.3 105.4,49.0" fill="#ff7a1a" stroke="#ff7a1a" stroke-width="0.5"/>
<polygon points="105.4,49.0 105.6,49.3 105.7,49.8 105.8,50.3 105.6,50.9 106.3,50.9 106.1,50.3 106.3,49.8 106.4,49.3 106.5,49.0" fill="#ff7a1a" stroke="#ff7a1a" stroke-width="0.5"/>
<polygon points="105.3,49.0 105.5,49.9 105.8,50.7 106.0,51.5 105.9,52.2 106.6,52.2 106.5,51.5 106.7,50.7 106.9,49.9 107.2,49.0" fill="#ff7a1a" stroke="#ff7a1a" stroke-width="0.5"/>
<polygon points="105.6,49.0 105.8,49.4 106.0,49.8 106.2,50.2 106.1,50.6 106.8,50.6 106.6,50.2 106.9,49.8 107.1,49.4 107.3,49.0" fill="#ff7a1a" stroke="#ff7a1a" stroke-width="0.5"/>
<polygon points="106.5,49.0 106.7,49.6 107.0,50.3 107.2,51.0 107.1,51.7 107.8,51.7 107.7,51.0 107.9,50.3 108.2,49.6 108.4,49.0" fill="#ff7a1a" stroke="#ff7a1a" stroke-width="0.5"/>
<polygon points="107.9,49.0 108.0,49.2 108.1,49.5 108.2,49.7 108.0,50.0 108.7,50.0 108.5,49.7 108.6,49.5 108.7,49.2 108.9,49.0" fill="#ff7a1a" stroke="#ff7a1a" stroke-width="0.5"/>
<polygon points="108.4,49.0 108.6,49.5 108.9,50.4 109.1,51.5 108.9,52.7 109.6,52.7 109.5,51.5 109.7,50.4 109.9,49.5 110.2,49.0" fill="#ff7a1a" stroke="#ff7a1a" stroke-width="0.5"/>
<polygon points="108.5,49.0 108.7,49.3 108.9,49.9 109.1,50.5 109.0,51.2 109.7,51.2 109.6,50.5 109.8,49.9 110.0,49.3 110.2,49.0" fill="#ff7a1a" stroke="#ff7a1a" stroke-width="0.5"/>
<polygon points="109.1,49.0 109.2,49.9 109.4,50.5 109.5,51.1 109.4,51.7 110.1,51.7 109.9,51.1 110.0,50.5 110.2,49.9 110.4,49.0" fill="#ff7a1a" stroke="#ff7a1a" stroke-width="0.5"/>
<polygon points="109.7,49.0 109.8,49.6 109.9,50.2 110.0,50.8 109.7,51.4 110.4,51.4 110.2,50.8 110.3,50.2 110.4,49.6 110.5,49.0" fill="#ff7a1a" stroke="#ff7a1a" stroke-width="0.5"/>
<polygon points="109.6,49.0 109.8,49.9 110.0,51.1 110.2,52.3 110.0,53.7 110.7,53.7 110.6,52.3 110.8,51.1 111.0,49.9 111.2,49.0" fill="#ff7a1a" stroke="#ff7a1a" stroke-width="0.5"/>
<polygon points="110.5,49.0 110.7,49.4 110.9,49.8 111.1,50.2 110.9,50.7 111.6,50.7 111.4,50.2 111.6,49.8 111.8,49.4 112.0,49.0" fill="#ff7a1a" stroke="#ff7a1a" stroke-width="0.5"/>
<polygon points="111.4,49.0 111.5,49.4 111.6,49.9 111.7,50.6 111.5,51.3 112.2,51.3 112.0,50.6 112.1,49.9 112.2,49.4 112.3,49.0" fill="#ff7a1a" stroke="#ff7a1a" stroke-width="0.5"/>
<polygon points="111.9,49.0 112.1,50.2 112.4,51.3 112.6,52.4 112.4,53.4 113.1,53.4 113.0,52.4 113.2,51.3 113.4,50.2 113.6,49.0" fill="#ff7a1a" stroke="#ff7a1a" stroke-width="0.5"/>
<polygon points="112.3,49.0 112.5,49.8 112.8,50.6 113.0,51.5 112.9,52.4 113.6,52.4 113.5,51.5 113.7,50.6 113.9,49.8 114.2,49.0" fill="#ff7a1a" stroke="#ff7a1a" stroke-width="0.5"/>
<polygon points="112.8,49.0 112.9,49.3 113.1,49.8 113.3,50.4 113.1,51.1 113.8,51.1 113.6,50.4 113.8,49.8 113.9,49.3 114.1,49.0" fill="#ff7a1a" stroke="#ff7a1a" stroke-width="0.5"/>
<polygon points="113.1,49.0 113.3,50.0 113.4,51.1 113.6,52.3 113.4,53.4 114.1,53.4 113.9,52.3 114.1,51.1 114.2,50.0 114.4,49.0" fill="#ff7a1a" stroke="#ff7a1a" stroke-width="0.5"/>
<polygon points="113.7,49.0 113.8,49.5 113.8,50.2 113.9,51.0 113.7,51.9 114.4,51.9 114.1,51.0 114.2,50.2 114.3,49.5 114.4,49.0" fill="#ff7a1a" stroke="#ff7a1a" stroke-width="0.5"/>
<polygon points="113.6,49.0 113.8,49.4 114.0,50.0 114.2,50.7 114.0,51.6 114.7,51.6 114.5,50.7 114.7,50.0 114.9,49.4 115.1,49.0" fill="#ff7a1a" stroke="#ff7a1a" stroke-width="0.5"/>
<polygon points="113.9,49.0 114.0,49.7 114.1,50.7 114.2,51.8 114.0,53.1 114.7,53.1 114.4,51.8 114.5,50.7 114.6,49.7 114.7,49.0" fill="#ff7a1a" stroke="#ff7a1a" stroke-width="0.5"/>
<polygon points="114.4,49.0 114.5,49.6 114.7,50.5 114.8,51.4 114.6,52.3 115.3,52.3 115.1,51.4 115.3,50.5 115.4,49.6 115.6,49.0" fill="#ff7a1a" stroke="#ff7a1a" stroke-width="0.5"/>
<polygon points="114.8,49.0 114.9,49.7 115.1,50.3 115.2,50.8 115.0,51.4 115.7,51.4 115.5,50.8 115.7,50.3 115.9,49.7 116.0,49.0" fill="#ff7a1a" stroke="#ff7a1a" stroke-width="0.5"/>
<polygon points="115.0,49.0 115.2,49.2 115.5,49.3 115.7,49.5 115.6,49.7 116.3,49.7 116.2,49.5 116.4,49.3 116.6,49.2 116.9,49.0" fill="#ff7a1a" stroke="#ff7a1a" stroke-width="0.5"/>
<polygon points="116.6,49.0 116.8,49.2 117.0,49.5 117.2,49.8 117.0,50.2 117.7,50.2 117.6,49.8 117.8,49.5 118.0,49.2 118.1,49.0" fill="#ff7a1a" stroke="#ff7a1a" stroke-width="0.5"/>
<polygon points="118.0,49.0 118.1,49.8 118.1,50.9 118.2,52.3 118.0,53.9 118.7,53.9 118.4,52.3 118.5,50.9 118.6,49.8 118.7,49.0" fill="#ff7a1a" stroke="#ff7a1a" stroke-width="0.5"/>
<polygon points="117.5,49.0 117.7,49.4 117.9,49.9 118.1,50.5 118.0,51.1 118.7,51.1 118.6,50.5 118.8,49.9 119.0,49.4 119.3,49.0" fill="#ff7a1a" stroke="#ff7a1a" stroke-width="0.5"/>
<polygon points="119.3,49.0 119.4,50.3 119.6,51.6 119.7,52.9 119.5,54.2 120.2,54.2 120.0,52.9 120.2,51.6 120.3,50.3 120.5,49.0" fill="#ff7a1a" stroke="#ff7a1a" stroke-width="0.5"/>
<polygon points="119.2,49.0 119.4,49.1 119.6,49.3 119.8,49.4 119.7,49.7 120.4,49.7 120.2,49.4 120.4,49.3 120.6,49.1 120.8,49.0" fill="#ff7a1a" stroke="#ff7a1a" stroke-width="0.5"/>
<polygon points="119.1,49.0 119.4,49.6 119.6,50.3 119.8,51.2 119.7,52.2 120.4,52.2 120.2,51.2 120.5,50.3 120.7,49.6 120.9,49.0" fill="#ff7a1a" stroke="#ff7a1a" stroke-width="0.5"/>
<polygon points="119.8,49.0 120.0,50.4 120.1,51.8 120.3,53.3 120.1,54.7 120.8,54.7 120.6,53.3 120.7,51.8 120.9,50.4 121.0,49.0" fill="#ff7a1a" stroke="#ff7a1a" stroke-width="0.5"/>
<polygon points="120.6,49.0 120.7,49.5 120.9,50.1 121.0,50.7 120.8,51.4 121.5,51.4 121.3,50.7 121.4,50.1 121.6,49.5 121.7,49.0" fill="#ff7a1a" stroke="#ff7a1a" stroke-width="0.5"/>
<polygon points="120.5,49.0 120.7,49.6 120.8,50.6 121.0,51.6 120.8,52.8 121.5,52.8 121.4,51.6 121.5,50.6 121.7,49.6 121.9,49.0" fill="#ff7a1a" stroke="#ff7a1a" stroke-width="0.5"/>
<polygon points="120.6,49.0 120.8,49.2 121.0,49.3 121.2,49.5 121.0,49.7 121.7,49.7 121.6,49.5 121.8,49.3 122.0,49.2 122.2,49.0" fill="#ff7a1a" stroke="#ff7a1a" stroke-width="0.5"/>
<polygon points="122.0,49.0 122.1,49.5 122.3,50.0 122.4,50.5 122.2,51.0 122.9,51.0 122.7,50.5 122.8,50.0 122.9,49.5 123.1,49.0" fill="#ff7a1a" stroke="#ff7a1a" stroke-width="0.5"/>
<polygon points="122.1,49.0 122.2,50.0 122.4,51.0 122.5,52.1 122.2,53.1 122.9,53.1 122.7,52.1 122.8,51.0 122.9,50.0 123.0,49.0" fill="#ff7a1a" stroke="#ff7a1a" stroke-width="0.5"/>
<polygon points="122.8,49.0 122.9,50.4 123.0,51.5 123.2,52.5 123.0,53.4 123.7,53.4 123.4,52.5 123.6,51.5 123.7,50.4 123.9,49.0" fill="#ff7a1a" stroke="#ff7a1a" stroke-width="0.5"/>
<polygon points="123.0,49.0 123.3,49.6 123.5,50.3 123.8,51.2 123.7,52.1 124.4,52.1 124.3,51.2 124.5,50.3 124.8,49.6 125.0,49.0" fill="#ff7a1a" stroke="#ff7a1a" stroke-width="0.5"/>
<polygon points="123.8,49.0 123.8,50.0 123.9,51.0 124.0,52.1 123.8,53.2 124.5,53.2 124.2,52.1 124.3,51.0 124.4,50.0 124.5,49.0" fill="#ff7a1a" stroke="#ff7a1a" stroke-width="0.5"/>
<polygon points="123.8,49.0 123.9,49.5 124.0,50.4 124.1,51.6 123.8,52.9 124.5,52.9 124.3,51.6 124.4,50.4 124.5,49.5 124.6,49.0" fill="#ff7a1a" stroke="#ff7a1a" stroke-width="0.5"/>
<polygon points="123.6,49.0 123.8,50.2 124.0,51.7 124.3,53.3 124.2,55.1 124.9,55.1 124.8,53.3 125.0,51.7 125.2,50.2 125.5,49.0" fill="#ff7a1a" stroke="#ff7a1a" stroke-width="0.5"/>
<polygon points="124.3,49.0 124.5,49.7 124.7,50.4 124.9,51.1 124.8,51.7 125.5,51.7 125.3,51.1 125.5,50.4 125.7,49.7 125.9,49.0" fill="#ff7a1a" stroke="#ff7a1a" stroke-width="0.5"/>
<polygon points="124.7,49.0 124.9,49.2 125.0,49.4 125.2,49.6 125.0,49.8 125.7,49.8 125.5,49.6 125.6,49.4 125.8,49.2 125.9,49.0" fill="#ff7a1a" stroke="#ff7a1a" stroke-width="0.5"/>
<polygon points="125.7,49.0 125.8,49.8 125.9,50.6 126.0,51.3 125.8,52.1 126.5,52.1 126.3,51.3 126.4,50.6 126.5,49.8 126.6,49.0" fill="#ff7a1a" stroke="#ff7a1a" stroke-width="0.5"/>
<polygon points="125.9,49.0 126.0,49.2 126.1,49.4 126.2,49.7 125.9,50.0 126.6,50.0 126.3,49.7 126.4,49.4 126.5,49.2 126.6,49.0" fill="#ff7a1a" stroke="#ff7a1a" stroke-width="0.5"/>
<polygon points="125.4,49.0 125.6,49.7 125.9,51.0 126.1,52.6 126.0,54.4 126.7,54.4 126.6,52.6 126.8,51.0 127.1,49.7 127.3,49.0" fill="#ff7a1a" stroke="#ff7a1a" stroke-width="0.5"/>
<polygon points="125.7,49.0 125.9,49.7 126.1,50.9 126.3,52.4 126.1,54.1 126.8,54.1 126.6,52.4 126.8,50.9 127.0,49.7 127.2,49.0" fill="#ff7a1a" stroke="#ff7a1a" stroke-width="0.5"/>
<polygon points="127.0,49.0 127.2,50.1 127.3,51.1 127.5,52.1 127.4,53.1 128.1,53.1 127.9,52.1 128.1,51.1 128.3,50.1 128.4,49.0" fill="#ff7a1a" stroke="#ff7a1a" stroke-width="0.5"/>
<polygon points="127.7,49.0 127.9,49.7 128.2,50.8 128.4,52.2 128.2,53.8 128.9,53.8 128.8,52.2 129.0,50.8 129.2,49.7 129.5,49.0" fill="#ff7a1a" stroke="#ff7a1a" stroke-width="0.5"/>
<polygon points="128.1,49.0 128.2,49.8 128.3,51.0 128.5,52.4 128.2,54.0 128.9,54.0 128.7,52.4 128.9,51.0 129.0,49.8 129.1,49.0" fill="#ff7a1a" stroke="#ff7a1a" stroke-width="0.5"/>
<polygon points="128.2,49.0 128.3,49.5 128.4,50.1 128.6,50.9 128.4,51.7 129.1,51.7 128.9,50.9 129.0,50.1 129.2,49.5 129.3,49.0" fill="#ff7a1a" stroke="#ff7a1a" stroke-width="0.5"/>
<polygon points="128.9,49.0 129.0,50.3 129.0,51.7 129.1,53.0 128.8,54.4 129.5,54.4 129.3,53.0 129.3,51.7 129.4,50.3 129.5,49.0" fill="#ff7a1a" stroke="#ff7a1a" stroke-width="0.5"/>
<polygon points="130.7,49.0 130.9,49.5 131.1,50.0 131.4,50.5 131.2,51.0 131.9,51.0 131.8,50.5 132.0,50.0 132.2,49.5 132.5,49.0" fill="#ff7a1a" stroke="#ff7a1a" stroke-width="0.5"/>
<polygon points="130.8,49.0 131.0,49.2 131.3,49.4 131.5,49.6 131.4,49.8 132.1,49.8 132.0,49.6 132.2,49.4 132.4,49.2 132.7,49.0" fill="#ff7a1a" stroke="#ff7a1a" stroke-width="0.5"/>
<polygon points="132.1,49.0 132.2,49.6 132.3,50.3 132.5,51.1 132.3,51.9 133.0,51.9 132.7,51.1 132.9,50.3 133.0,49.6 133.1,49.0" fill="#ff7a1a" stroke="#ff7a1a" stroke-width="0.5"/>
<polygon points="131.7,49.0 131.9,49.8 132.2,51.1 132.4,52.7 132.3,54.4 133.0,54.4 132.9,52.7 133.2,51.1 133.4,49.8 133.7,49.0" fill="#ff7a1a" stroke="#ff7a1a" stroke-width="0.5"/>
<polygon points="133.5,49.0 133.6,49.6 133.7,50.0 133.8,50.4 133.6,50.7 134.3,50.7 134.0,50.4 134.2,50.0 134.3,49.6 134.4,49.0" fill="#ff7a1a" stroke="#ff7a1a" stroke-width="0.5"/>
<polygon points="133.7,49.0 133.8,50.4 133.9,51.7 134.0,53.1 133.7,54.4 134.4,54.4 134.2,53.1 134.3,51.7 134.3,50.4 134.4,49.0" fill="#ff7a1a" stroke="#ff7a1a" stroke-width="0.5"/>
<polygon points="133.9,49.0 134.0,49.4 134.1,49.8 134.3,50.1 134.0,50.5 134.7,50.5 134.5,50.1 134.7,49.8 134.8,49.4 134.9,49.0" fill="#ff7a1a" stroke="#ff7a1a" stroke-width="0.5"/>
<polygon points="134.4,49.0 134.5,49.2 134.5,49.6 134.6,50.1 134.3,50.6 135.0,50.6 134.8,50.1 134.8,49.6 134.9,49.2 135.0,49.0" fill="#ff7a1a" stroke="#ff7a1a" stroke-width="0.5"/>
<polygon points="134.5,49.0 134.6,49.7 134.7,51.0 134.8,52.5 134.6,54.4 135.3,54.4 135.1,52.5 135.2,51.0 135.3,49.7 135.4,49.0" fill="#ff7a1a" stroke="#ff7a1a" stroke-width="0.5"/>
<polygon points="135.0,49.0 135.1,49.5 135.2,50.2 135.3,51.1 135.1,52.1 135.8,52.1 135.6,51.1 135.7,50.2 135.8,49.5 136.0,49.0" fill="#ff7a1a" stroke="#ff7a1a" stroke-width="0.5"/>
<polygon points="134.6,49.0 134.8,49.6 135.0,50.5 135.3,51.7 135.1,53.1 135.8,53.1 135.7,51.7 135.9,50.5 136.2,49.6 136.4,49.0" fill="#ff7a1a" stroke="#ff7a1a" stroke-width="0.5"/>
<polygon points="136.4,49.0 136.5,49.8 136.6,50.6 136.6,51.4 136.4,52.3 137.1,52.3 136.8,51.4 136.9,50.6 137.0,49.8 137.0,49.0" fill="#ff7a1a" stroke="#ff7a1a" stroke-width="0.5"/>
<polygon points="136.3,49.0 136.5,49.5 136.7,50.5 136.9,51.8 136.8,53.2 137.5,53.2 137.3,51.8 137.5,50.5 137.7,49.5 137.9,49.0" fill="#ff7a1a" stroke="#ff7a1a" stroke-width="0.5"/>
<polygon points="136.9,49.0 137.0,49.4 137.1,50.1 137.2,50.9 136.9,51.9 137.6,51.9 137.3,50.9 137.4,50.1 137.5,49.4 137.6,49.0" fill="#ff7a1a" stroke="#ff7a1a" stroke-width="0.5"/>
<polygon points="136.8,49.0 137.0,49.4 137.2,49.9 137.3,50.5 137.1,51.0 137.8,51.0 137.6,50.5 137.8,49.9 138.0,49.4 138.1,49.0" fill="#ff7a1a" stroke="#ff7a1a" stroke-width="0.5"/>
<polygon points="136.9,49.0 137.1,50.1 137.2,51.1 137.4,52.0 137.2,52.8 137.9,52.8 137.7,52.0 137.8,51.1 138.0,50.1 138.1,49.0" fill="#ff7a1a" stroke="#ff7a1a" stroke-width="0.5"/>
<polygon points="137.1,49.0 137.2,49.4 137.4,49.9 137.5,50.5 137.3,51.1 138.0,51.1 137.8,50.5 138.0,49.9 138.1,49.4 138.3,49.0" fill="#ff7a1a" stroke="#ff7a1a" stroke-width="0.5"/>
<polygon points="137.9,49.0 138.0,49.8 138.1,51.3 138.2,53.2 137.9,55.5 138.6,55.5 138.3,53.2 138.4,51.3 138.5,49.8 138.6,49.0" fill="#ff7a1a" stroke="#ff7a1a" stroke-width="0.5"/>
<polygon points="138.0,49.0 138.2,49.9 138.3,51.3 138.4,52.9 138.2,54.7 138.9,54.7 138.7,52.9 138.8,51.3 139.0,49.9 139.1,49.0" fill="#ff7a1a" stroke="#ff7a1a" stroke-width="0.5"/>
<polygon points="138.0,49.0 138.2,49.2 138.4,49.4 138.7,49.5 138.5,49.7 139.2,49.7 139.1,49.5 139.3,49.4 139.6,49.2 139.8,49.0" fill="#ff7a1a" stroke="#ff7a1a" stroke-width="0.5"/>
<polygon points="138.7,49.0 138.9,49.6 139.1,50.1 139.2,50.6 139.1,51.0 139.8,51.0 139.6,50.6 139.8,50.1 140.0,49.6 140.1,49.0" fill="#ff7a1a" stroke="#ff7a1a" stroke-width="0.5"/>
<polygon points="139.0,49.0 139.1,49.9 139.3,51.3 139.5,53.0 139.3,54.9 140.0,54.9 139.9,53.0 140.0,51.3 140.2,49.9 140.4,49.0" fill="#ff7a1a" stroke="#ff7a1a" stroke-width="0.5"/>
<polygon points="139.3,49.0 139.5,49.7 139.6,50.9 139.8,52.5 139.6,54.2 140.3,54.2 140.1,52.5 140.2,50.9 140.4,49.7 140.5,49.0" fill="#ff7a1a" stroke="#ff7a1a" stroke-width="0.5"/>
<polygon points="140.0,49.0 140.2,49.3 140.5,49.6 140.7,49.9 140.6,50.1 141.3,50.1 141.1,49.9 141.4,49.6 141.6,49.3 141.8,49.0" fill="#ff7a1a" stroke="#ff7a1a" stroke-width="0.5"/>
<polygon points="142.3,49.0 142.5,49.5 142.7,50.0 142.9,50.4 142.8,50.8 143.5,50.8 143.4,50.4 143.6,50.0 143.8,49.5 144.0,49.0" fill="#ff7a1a" stroke="#ff7a1a" stroke-width="0.5"/>
<polygon points="142.5,49.0 142.7,50.4 142.9,52.2 143.0,54.3 142.9,56.5 143.6,56.5 143.4,54.3 143.6,52.2 143.8,50.4 143.9,49.0" fill="#ff7a1a" stroke="#ff7a1a" stroke-width="0.5"/>
<polygon points="143.5,49.0 143.6,49.4 143.7,49.8 143.8,50.3 143.5,50.8 144.2,50.8 143.9,50.3 144.0,49.8 144.1,49.4 144.2,49.0" fill="#ff7a1a" stroke="#ff7a1a" stroke-width="0.5"/>
<polygon points="144.1,49.0 144.4,49.8 144.6,50.5 144.8,51.1 144.7,51.6 145.4,51.6 145.3,51.1 145.5,50.5 145.8,49.8 146.0,49.0" fill="#ff7a1a" stroke="#ff7a1a" stroke-width="0.5"/>
<polygon points="146.1,49.0 146.2,50.7 146.4,52.3 146.5,53.9 146.3,55.5 147.0,55.5 146.8,53.9 146.9,52.3 147.1,50.7 147.2,49.0" fill="#ff7a1a" stroke="#ff7a1a" stroke-width="0.5"/>
<polygon points="146.5,49.0 146.7,50.6 146.8,51.9 147.0,53.2 146.8,54.4 147.5,54.4 147.3,53.2 147.5,51.9 147.6,50.6 147.8,49.0" fill="#ff7a1a" stroke="#ff7a1a" stroke-width="0.5"/>
<polygon points="146.7,49.0 146.8,50.8 147.0,52.2 147.1,53.6 146.8,54.8 147.5,54.8 147.3,53.6 147.4,52.2 147.5,50.8 147.6,49.0" fill="#ff7a1a" stroke="#ff7a1a" stroke-width="0.5"/>
<polygon points="147.0,49.0 147.2,49.7 147.4,50.4 147.6,51.0 147.5,51.6 148.2,51.6 148.1,51.0 148.3,50.4 148.6,49.7 148.8,49.0" fill="#ff7a1a" stroke="#ff7a1a" stroke-width="0.5"/>
<polygon points="147.7,49.0 147.9,49.3 148.1,49.6 148.3,50.0 148.1,50.5 148.8,50.5 148.7,50.0 148.9,49.6 149.1,49.3 149.3,49.0" fill="#ff7a1a" stroke="#ff7a1a" stroke-width="0.5"/>
<polygon points="148.3,49.0 148.4,51.0 148.6,53.1 148.7,55.2 148.5,57.4 149.2,57.4 149.0,55.2 149.2,53.1 149.3,51.0 149.4,49.0" fill="#ff7a1a" stroke="#ff7a1a" stroke-width="0.5"/>
<polygon points="150.1,49.0 150.2,49.7 150.4,50.7 150.6,51.7 150.4,52.8 151.1,52.8 150.9,51.7 151.0,50.7 151.2,49.7 151.4,49.0" fill="#ff7a1a" stroke="#ff7a1a" stroke-width="0.5"/>
<polygon points="150.6,49.0 150.7,50.2 150.8,51.7 150.9,53.3 150.6,55.0 151.3,55.0 151.0,53.3 151.1,51.7 151.2,50.2 151.3,49.0" fill="#ff7a1a" stroke="#ff7a1a" stroke-width="0.5"/>
<polygon points="151.2,49.0 151.3,49.8 151.5,50.8 151.6,51.9 151.3,53.0 152.0,53.0 151.8,51.9 151.9,50.8 152.0,49.8 152.1,49.0" fill="#ff7a1a" stroke="#ff7a1a" stroke-width="0.5"/>
<polygon points="151.7,49.0 151.9,50.9 152.1,53.7 152.3,56.8 152.2,60.2 152.9,60.2 152.8,56.8 153.0,53.7 153.2,50.9 153.4,49.0" fill="#ff7a1a" stroke="#ff7a1a" stroke-width="0.5"/>
<polygon points="153.4,49.0 153.6,50.0 153.7,50.9 153.8,51.9 153.6,52.8 154.3,52.8 154.1,51.9 154.2,50.9 154.4,50.0 154.5,49.0" fill="#ff7a1a" stroke="#ff7a1a" stroke-width="0.5"/>
<polygon points="153.2,49.0 153.4,50.4 153.6,51.9 153.9,53.5 153.7,55.1 154.4,55.1 154.3,53.5 154.5,51.9 154.7,50.4 154.9,49.0" fill="#ff7a1a" stroke="#ff7a1a" stroke-width="0.5"/>
<polygon points="153.6,49.0 153.8,51.1 154.0,53.3 154.3,55.5 154.2,57.8 154.9,57.8 154.8,55.5 155.0,53.3 155.3,51.1 155.5,49.0" fill="#ff7a1a" stroke="#ff7a1a" stroke-width="0.5"/>
<polygon points="154.1,49.0 154.2,50.7 154.4,52.8 154.6,55.2 154.4,57.8 155.1,57.8 154.9,55.2 155.1,52.8 155.2,50.7 155.4,49.0" fill="#ff7a1a" stroke="#ff7a1a" stroke-width="0.5"/>
<polygon points="155.7,49.0 155.8,51.2 155.9,53.7 156.0,56.5 155.7,59.3 156.4,59.3 156.1,56.5 156.2,53.7 156.3,51.2 156.3,49.0" fill="#ff7a1a" stroke="#ff7a1a" stroke-width="0.5"/>
<polygon points="156.2,49.0 156.4,51.1 156.5,53.4 156.6,55.9 156.3,58.4 157.0,58.4 156.8,55.9 156.9,53.4 157.0,51.1 157.1,49.0" fill="#ff7a1a" stroke="#ff7a1a" stroke-width="0.5"/>
<polygon points="158.2,49.0 158.3,51.8 158.4,54.1 158.5,56.3 158.2,58.3 158.9,58.3 158.7,56.3 158.7,54.1 158.8,51.8 158.9,49.0" fill="#ff7a1a" stroke="#ff7a1a" stroke-width="0.5"/>
<polygon points="160.9,49.0 161.0,51.5 161.1,53.9 161.2,56.2 161.0,58.5 161.7,58.5 161.5,56.2 161.6,53.9 161.7,51.5 161.8,49.0" fill="#ff7a1a" stroke="#ff7a1a" stroke-width="0.5"/>
<polygon points="161.9,49.0 162.0,49.7 162.1,50.7 162.2,51.9 161.9,53.2 162.6,53.2 162.4,51.9 162.5,50.7 162.6,49.7 162.7,49.0" fill="#ff7a1a" stroke="#ff7a1a" stroke-width="0.5"/>
<polygon points="163.0,49.0 163.2,51.0 163.4,53.4 163.6,56.1 163.4,59.0 164.1,59.0 164.0,56.1 164.2,53.4 164.4,51.0 164.6,49.0" fill="#ff7a1a" stroke="#ff7a1a" stroke-width="0.5"/>
<polygon points="163.5,49.0 163.7,49.7 163.9,50.7 164.1,51.9 163.9,53.2 164.6,53.2 164.4,51.9 164.6,50.7 164.8,49.7 165.0,49.0" fill="#ff7a1a" stroke="#ff7a1a" stroke-width="0.5"/>
<polygon points="164.0,49.0 164.2,50.2 164.3,51.3 164.5,52.3 164.3,53.2 165.0,53.2 164.8,52.3 165.0,51.3 165.2,50.2 165.3,49.0" fill="#ff7a1a" stroke="#ff7a1a" stroke-width="0.5"/>
<polygon points="164.4,49.0 164.5,51.4 164.6,53.9 164.7,56.5 164.5,59.0 165.2,59.0 165.0,56.5 165.1,53.9 165.2,51.4 165.3,49.0" fill="#ff7a1a" stroke="#ff7a1a" stroke-width="0.5"/>
<polygon points="165.3,49.0 165.4,49.6 165.5,50.5 165.6,51.5 165.3,52.6 166.0,52.6 165.8,51.5 165.9,50.5 166.0,49.6 166.1,49.0" fill="#ff7a1a" stroke="#ff7a1a" stroke-width="0.5"/>
<polygon points="167.1,49.0 167.3,51.7 167.5,54.6 167.7,57.6 167.5,60.7 168.2,60.7 168.0,57.6 168.2,54.6 168.4,51.7 168.5,49.0" fill="#ff7a1a" stroke="#ff7a1a" stroke-width="0.5"/>
<polygon points="167.6,49.0 167.7,50.0 167.7,51.1 167.8,52.3 167.6,53.5 168.3,53.5 168.0,52.3 168.1,51.1 168.2,50.0 168.3,49.0" fill="#ff7a1a" stroke="#ff7a1a" stroke-width="0.5"/>
<polygon points="168.0,49.0 168.1,49.8 168.2,50.7 168.2,51.7 168.0,52.7 168.7,52.7 168.4,51.7 168.5,50.7 168.6,49.8 168.7,49.0" fill="#ff7a1a" stroke="#ff7a1a" stroke-width="0.5"/>
<polygon points="168.1,49.0 168.3,49.4 168.4,49.8 168.5,50.4 168.3,50.9 169.0,50.9 168.7,50.4 168.8,49.8 168.9,49.4 169.1,49.0" fill="#ff7a1a" stroke="#ff7a1a" stroke-width="0.5"/>
<polygon points="169.5,49.0 169.6,50.8 169.7,52.7 169.8,54.6 169.6,56.6 170.3,56.6 170.0,54.6 170.1,52.7 170.3,50.8 170.4,49.0" fill="#ff7a1a" stroke="#ff7a1a" stroke-width="0.5"/>
<polygon points="169.3,49.0 169.4,50.7 169.6,52.0 169.8,53.3 169.6,54.4 170.3,54.4 170.1,53.3 170.2,52.0 170.4,50.7 170.6,49.0" fill="#ff7a1a" stroke="#ff7a1a" stroke-width="0.5"/>
<polygon points="170.0,49.0 170.1,51.0 170.2,52.7 170.3,54.2 170.0,55.7 170.7,55.7 170.4,54.2 170.5,52.7 170.6,51.0 170.7,49.0" fill="#ff7a1a" stroke="#ff7a1a" stroke-width="0.5"/>
<polygon points="170.6,49.0 170.6,51.6 170.7,54.6 170.8,57.7 170.5,60.8 171.2,60.8 171.0,57.7 171.1,54.6 171.1,51.6 171.2,49.0" fill="#ff7a1a" stroke="#ff7a1a" stroke-width="0.5"/>
<polygon points="170.9,49.0 171.1,50.3 171.4,51.8 171.6,53.5 171.5,55.1 172.2,55.1 172.1,53.5 172.3,51.8 172.6,50.3 172.8,49.0" fill="#ff7a1a" stroke="#ff7a1a" stroke-width="0.5"/>
<polygon points="171.2,49.0 171.5,50.2 171.7,51.9 172.0,53.8 171.9,55.8 172.6,55.8 172.5,53.8 172.7,51.9 173.0,50.2 173.2,49.0" fill="#ff7a1a" stroke="#ff7a1a" stroke-width="0.5"/>
<polygon points="172.0,49.0 172.2,51.3 172.3,53.1 172.5,54.9 172.3,56.6 173.0,56.6 172.8,54.9 173.0,53.1 173.1,51.3 173.3,49.0" fill="#ff7a1a" stroke="#ff7a1a" stroke-width="0.5"/>
<polygon points="173.4,49.0 173.5,50.3 173.7,51.3 173.8,52.2 173.5,53.1 174.2,53.1 174.0,52.2 174.1,51.3 174.2,50.3 174.3,49.0" fill="#ff7a1a" stroke="#ff7a1a" stroke-width="0.5"/>
<polygon points="174.4,49.0 174.6,51.5 174.8,54.3 174.9,57.2 174.8,60.1 175.5,60.1 175.3,57.2 175.5,54.3 175.7,51.5 175.9,49.0" fill="#ff7a1a" stroke="#ff7a1a" stroke-width="0.5"/>
<polygon points="174.8,49.0 175.0,50.2 175.3,51.5 175.5,52.9 175.4,54.4 176.1,54.4 175.9,52.9 176.2,51.5 176.4,50.2 176.6,49.0" fill="#ff7a1a" stroke="#ff7a1a" stroke-width="0.5"/>
<polygon points="177.7,49.0 177.9,50.6 178.0,52.5 178.2,54.5 178.1,56.7 178.8,56.7 178.6,54.5 178.8,52.5 179.0,50.6 179.2,49.0" fill="#ff7a1a" stroke="#ff7a1a" stroke-width="0.5"/>
<polygon points="179.9,49.0 180.1,50.6 180.3,52.2 180.5,53.7 180.4,55.2 181.1,55.2 180.9,53.7 181.1,52.2 181.3,50.6 181.5,49.0" fill="#ff7a1a" stroke="#ff7a1a" stroke-width="0.5"/>
<polygon points="180.1,49.0 180.3,49.5 180.5,50.0 180.7,50.6 180.6,51.1 181.3,51.1 181.2,50.6 181.4,50.0 181.6,49.5 181.9,49.0" fill="#ff7a1a" stroke="#ff7a1a" stroke-width="0.5"/>
<polygon points="180.0,49.0 180.3,49.8 180.5,50.9 180.7,52.2 180.6,53.6 181.3,53.6 181.2,52.2 181.4,50.9 181.6,49.8 181.9,49.0" fill="#ff7a1a" stroke="#ff7a1a" stroke-width="0.5"/>
<polygon points="182.3,49.0 182.4,49.2 182.6,49.5 182.8,49.9 182.6,50.3 183.3,50.3 183.1,49.9 183.3,49.5 183.4,49.2 183.6,49.0" fill="#ff7a1a" stroke="#ff7a1a" stroke-width="0.5"/>
<polygon points="182.9,49.0 182.9,49.3 183.0,49.8 183.1,50.4 182.8,51.1 183.5,51.1 183.3,50.4 183.4,49.8 183.4,49.3 183.5,49.0" fill="#ff7a1a" stroke="#ff7a1a" stroke-width="0.5"/>
<polygon points="183.6,49.0 183.8,50.0 183.9,51.1 184.0,52.0 183.8,53.0 184.5,53.0 184.3,52.0 184.5,51.1 184.6,50.0 184.7,49.0" fill="#ff7a1a" stroke="#ff7a1a" stroke-width="0.5"/>
<polygon points="183.6,49.0 183.8,50.0 184.0,50.7 184.2,51.4 184.0,52.0 184.7,52.0 184.6,51.4 184.8,50.7 184.9,50.0 185.1,49.0" fill="#ff7a1a" stroke="#ff7a1a" stroke-width="0.5"/>
<polygon points="183.6,49.0 183.9,49.8 184.1,50.6 184.3,51.5 184.2,52.4 184.9,52.4 184.8,51.5 185.0,50.6 185.3,49.8 185.5,49.0" fill="#ff7a1a" stroke="#ff7a1a" stroke-width="0.5"/>
<polygon points="185.2,49.0 185.4,49.2 185.6,49.4 185.8,49.7 185.6,49.9 186.3,49.9 186.1,49.7 186.3,49.4 186.5,49.2 186.7,49.0" fill="#ff7a1a" stroke="#ff7a1a" stroke-width="0.5"/>
<polygon points="186.0,49.0 186.2,49.2 186.3,49.4 186.5,49.7 186.2,49.9 186.9,49.9 186.7,49.7 186.9,49.4 187.0,49.2 187.2,49.0" fill="#ff7a1a" stroke="#ff7a1a" stroke-width="0.5"/>
<polygon points="186.6,49.0 186.7,49.3 186.9,49.5 187.1,49.7 186.9,50.0 187.6,50.0 187.5,49.7 187.6,49.5 187.8,49.3 188.0,49.0" fill="#ff7a1a" stroke="#ff7a1a" stroke-width="0.5"/>
<polygon points="188.4,49.0 188.4,49.3 188.5,49.6 188.6,49.8 188.4,50.1 189.1,50.1 188.8,49.8 188.9,49.6 189.0,49.3 189.1,49.0" fill="#ff7a1a" stroke="#ff7a1a" stroke-width="0.5"/>
<polygon points="188.2,49.0 188.4,49.5 188.6,50.0 188.8,50.4 188.6,50.8 189.3,50.8 189.1,50.4 189.3,50.0 189.5,49.5 189.7,49.0" fill="#ff7a1a" stroke="#ff7a1a" stroke-width="0.5"/>
<polygon points="188.3,49.0 188.6,49.3 188.8,49.8 189.0,50.5 188.9,51.2 189.6,51.2 189.5,50.5 189.8,49.8 190.0,49.3 190.3,49.0" fill="#ff7a1a" stroke="#ff7a1a" stroke-width="0.5"/>
<polygon points="191.0,49.0 191.1,49.2 191.2,49.5 191.3,49.9 191.1,50.3 191.8,50.3 191.5,49.9 191.6,49.5 191.7,49.2 191.8,49.0" fill="#ff7a1a" stroke="#ff7a1a" stroke-width="0.5"/>
<polygon points="192.1,49.0 192.3,49.4 192.5,49.9 192.7,50.4 192.6,50.9 193.3,50.9 193.1,50.4 193.3,49.9 193.5,49.4 193.7,49.0" fill="#ff7a1a" stroke="#ff7a1a" stroke-width="0.5"/>
<polygon points="192.7,49.0 192.8,49.2 192.9,49.4 193.1,49.8 192.9,50.2 193.6,50.2 193.3,49.8 193.5,49.4 193.6,49.2 193.7,49.0" fill="#ff7a1a" stroke="#ff7a1a" stroke-width="0.5"/>
<polygon points="195.1,49.0 195.1,49.5 195.2,50.3 195.3,51.3 195.0,52.5 195.7,52.5 195.5,51.3 195.6,50.3 195.7,49.5 195.7,49.0" fill="#ff7a1a" stroke="#ff7a1a" stroke-width="0.5"/>
<polygon points="194.8,49.0 194.9,49.8 195.1,50.5 195.3,51.2 195.1,51.8 195.8,51.8 195.7,51.2 195.8,50.5 196.0,49.8 196.2,49.0" fill="#ff7a1a" stroke="#ff7a1a" stroke-width="0.5"/>
<polygon points="195.6,49.0 195.8,49.4 196.0,49.8 196.1,50.3 195.9,50.8 196.6,50.8 196.5,50.3 196.6,49.8 196.8,49.4 197.0,49.0" fill="#ff7a1a" stroke="#ff7a1a" stroke-width="0.5"/>
<polygon points="195.8,49.0 195.9,49.6 196.1,50.5 196.2,51.5 196.0,52.6 196.7,52.6 196.5,51.5 196.6,50.5 196.8,49.6 196.9,49.0" fill="#ff7a1a" stroke="#ff7a1a" stroke-width="0.5"/>
<polygon points="197.5,49.0 197.6,49.5 197.7,50.3 197.8,51.3 197.6,52.5 198.3,52.5 198.0,51.3 198.1,50.3 198.2,49.5 198.3,49.0" fill="#ff7a1a" stroke="#ff7a1a" stroke-width="0.5"/>
<polygon points="198.2,49.0 198.4,49.7 198.5,50.3 198.6,50.8 198.4,51.4 199.1,51.4 198.8,50.8 199.0,50.3 199.1,49.7 199.2,49.0" fill="#ff7a1a" stroke="#ff7a1a" stroke-width="0.5"/>
<polygon points="198.4,49.0 198.6,49.4 198.7,50.2 198.9,51.1 198.7,52.2 199.4,52.2 199.2,51.1 199.3,50.2 199.5,49.4 199.6,49.0" fill="#ff7a1a" stroke="#ff7a1a" stroke-width="0.5"/>
<polygon points="198.2,49.0 198.5,49.1 198.7,49.1 198.9,49.2 198.8,49.2 199.5,49.2 199.4,49.2 199.7,49.1 199.9,49.1 200.1,49.0" fill="#ff7a1a" stroke="#ff7a1a" stroke-width="0.5"/>
<polygon points="198.3,49.0 198.5,49.6 198.8,50.1 199.0,50.6 198.9,51.1 199.6,51.1 199.5,50.6 199.7,50.1 200.0,49.6 200.2,49.0" fill="#ff7a1a" stroke="#ff7a1a" stroke-width="0.5"/>
<polygon points="199.3,49.0 199.4,49.1 199.5,49.2 199.6,49.2 199.3,49.3 200.0,49.3 199.8,49.2 199.9,49.2 200.0,49.1 200.0,49.0" fill="#ff7a1a" stroke="#ff7a1a" stroke-width="0.5"/>
<polygon points="200.7,49.0 200.8,49.4 200.8,49.9 200.9,50.4 200.7,50.9 201.4,50.9 201.1,50.4 201.2,49.9 201.3,49.4 201.3,49.0" fill="#ff7a1a" stroke="#ff7a1a" stroke-width="0.5"/>
<polygon points="201.2,49.0 201.3,49.6 201.5,50.4 201.6,51.3 201.4,52.4 202.1,52.4 201.9,51.3 202.0,50.4 202.1,49.6 202.2,49.0" fill="#ff7a1a" stroke="#ff7a1a" stroke-width="0.5"/>
<polygon points="201.7,49.0 201.8,49.4 202.0,50.0 202.2,50.9 202.0,51.8 202.7,51.8 202.6,50.9 202.7,50.0 202.9,49.4 203.1,49.0" fill="#ff7a1a" stroke="#ff7a1a" stroke-width="0.5"/>
<polygon points="203.0,49.0 203.2,49.2 203.3,49.5 203.5,49.9 203.3,50.4 204.0,50.4 203.8,49.9 203.9,49.5 204.1,49.2 204.2,49.0" fill="#ff7a1a" stroke="#ff7a1a" stroke-width="0.5"/>
<polygon points="204.6,49.0 204.8,49.5 204.9,50.3 205.1,51.3 204.9,52.5 205.6,52.5 205.4,51.3 205.6,50.3 205.7,49.5 205.9,49.0" fill="#ff7a1a" stroke="#ff7a1a" stroke-width="0.5"/>
<polygon points="204.8,49.0 204.9,49.8 205.1,50.5 205.2,51.3 205.0,52.0 205.7,52.0 205.5,51.3 205.7,50.5 205.8,49.8 206.0,49.0" fill="#ff7a1a" stroke="#ff7a1a" stroke-width="0.5"/>
<polygon points="205.2,49.0 205.3,49.1 205.4,49.2 205.5,49.3 205.3,49.4 206.0,49.4 205.7,49.3 205.9,49.2 206.0,49.1 206.1,49.0" fill="#ff7a1a" stroke="#ff7a1a" stroke-width="0.5"/>
<polygon points="205.4,49.0 205.5,49.4 205.6,49.7 205.7,50.1 205.4,50.4 206.1,50.4 205.9,50.1 206.0,49.7 206.1,49.4 206.2,49.0" fill="#ff7a1a" stroke="#ff7a1a" stroke-width="0.5"/>
<polygon points="205.9,49.0 205.9,49.5 206.0,50.0 206.1,50.4 205.8,50.8 206.5,50.8 206.3,50.4 206.3,50.0 206.4,49.5 206.5,49.0" fill="#ff7a1a" stroke="#ff7a1a" stroke-width="0.5"/>
<polygon points="205.7,49.0 206.0,49.4 206.2,50.2 206.4,51.2 206.3,52.4 207.0,52.4 206.9,51.2 207.1,50.2 207.3,49.4 207.6,49.0" fill="#ff7a1a" stroke="#ff7a1a" stroke-width="0.5"/>
<polygon points="205.8,49.0 206.1,49.1 206.3,49.3 206.5,49.4 206.4,49.6 207.1,49.6 207.0,49.4 207.2,49.3 207.4,49.1 207.6,49.0" fill="#ff7a1a" stroke="#ff7a1a" stroke-width="0.5"/>
<polygon points="206.3,49.0 206.5,49.3 206.7,49.7 207.0,50.2 206.9,50.8 207.6,50.8 207.5,50.2 207.7,49.7 207.9,49.3 208.2,49.0" fill="#ff7a1a" stroke="#ff7a1a" stroke-width="0.5"/>
<polygon points="207.4,49.0 207.5,49.4 207.6,49.9 207.7,50.4 207.5,51.0 208.2,51.0 207.9,50.4 208.1,49.9 208.2,49.4 208.3,49.0" fill="#ff7a1a" stroke="#ff7a1a" stroke-width="0.5"/>
<polygon points="207.6,49.0 207.7,49.2 207.8,49.3 207.9,49.5 207.6,49.6 208.3,49.6 208.1,49.5 208.2,49.3 208.3,49.2 208.4,49.0" fill="#ff7a1a" stroke="#ff7a1a" stroke-width="0.5"/>
<polygon points="207.7,49.0 207.9,49.2 208.1,49.5 208.3,49.8 208.2,50.2 208.9,50.2 208.7,49.8 208.9,49.5 209.1,49.2 209.3,49.0" fill="#ff7a1a" stroke="#ff7a1a" stroke-width="0.5"/>
<polygon points="207.7,49.0 207.9,49.4 208.1,50.2 208.4,51.2 208.2,52.4 208.9,52.4 208.8,51.2 209.0,50.2 209.2,49.4 209.4,49.0" fill="#ff7a1a" stroke="#ff7a1a" stroke-width="0.5"/>
<polygon points="207.9,49.0 208.1,49.5 208.2,50.2 208.4,51.0 208.2,51.9 208.9,51.9 208.8,51.0 208.9,50.2 209.1,49.5 209.3,49.0" fill="#ff7a1a" stroke="#ff7a1a" stroke-width="0.5"/>
<polygon points="207.9,49.0 208.1,49.1 208.3,49.2 208.5,49.3 208.4,49.5 209.1,49.5 209.0,49.3 209.2,49.2 209.4,49.1 209.7,49.0" fill="#ff7a1a" stroke="#ff7a1a" stroke-width="0.5"/>
<polygon points="208.6,49.0 208.8,49.5 208.9,49.9 209.1,50.3 208.9,50.7 209.6,50.7 209.4,50.3 209.6,49.9 209.8,49.5 209.9,49.0" fill="#ff7a1a" stroke="#ff7a1a" stroke-width="0.5"/>
<polygon points="209.4,49.0 209.5,49.4 209.7,49.9 209.9,50.6 209.7,51.3 210.4,51.3 210.2,50.6 210.4,49.9 210.6,49.4 210.8,49.0" fill="#ff7a1a" stroke="#ff7a1a" stroke-width="0.5"/>
<polygon points="210.0,49.0 210.1,49.1 210.2,49.2 210.3,49.3 210.1,49.4 210.8,49.4 210.5,49.3 210.6,49.2 210.7,49.1 210.8,49.0" fill="#ff7a1a" stroke="#ff7a1a" stroke-width="0.5"/>
<polygon points="210.4,49.0 210.6,49.1 210.7,49.3 210.8,49.5 210.6,49.7 211.3,49.7 211.1,49.5 211.3,49.3 211.4,49.1 211.6,49.0" fill="#ff7a1a" stroke="#ff7a1a" stroke-width="0.5"/>
<polygon points="210.2,49.0 210.5,49.8 210.7,50.7 210.9,51.7 210.8,52.7 211.5,52.7 211.4,51.7 211.6,50.7 211.9,49.8 212.1,49.0" fill="#ff7a1a" stroke="#ff7a1a" stroke-width="0.5"/>
<polygon points="230.5,49.0 230.6,49.2 230.7,49.4 230.8,49.6 230.5,49.9 231.2,49.9 230.9,49.6 231.0,49.4 231.1,49.2 231.2,49.0" fill="#ff7a1a" stroke="#ff7a1a" stroke-width="0.5"/>
<polygon points="233.1,49.0 233.2,49.2 233.4,49.5 233.5,49.9 233.3,50.4 234.0,50.4 233.8,49.9 233.9,49.5 234.1,49.2 234.2,49.0" fill="#ff7a1a" stroke="#ff7a1a" stroke-width="0.5"/>
<polygon points="235.0,49.0 235.1,49.2 235.2,49.4 235.3,49.6 235.1,49.8 235.8,49.8 235.6,49.6 235.7,49.4 235.8,49.2 235.9,49.0" fill="#ff7a1a" stroke="#ff7a1a" stroke-width="0.5"/>
<polygon points="235.6,49.0 235.8,49.2 236.1,49.3 236.3,49.5 236.2,49.6 236.9,49.6 236.7,49.5 237.0,49.3 237.2,49.2 237.4,49.0" fill="#ff7a1a" stroke="#ff7a1a" stroke-width="0.5"/>
<polygon points="236.6,49.0 236.8,49.2 236.9,49.6 237.0,50.0 236.8,50.6 237.5,50.6 237.3,50.0 237.5,49.6 237.6,49.2 237.8,49.0" fill="#ff7a1a" stroke="#ff7a1a" stroke-width="0.5"/>
<polygon points="239.2,49.0 239.3,49.6 239.4,50.1 239.5,50.5 239.2,50.9 239.9,50.9 239.7,50.5 239.8,50.1 239.8,49.6 239.9,49.0" fill="#ff7a1a" stroke="#ff7a1a" stroke-width="0.5"/>
<polygon points="239.0,49.0 239.1,49.3 239.3,49.7 239.4,50.2 239.2,50.8 239.9,50.8 239.7,50.2 239.9,49.7 240.1,49.3 240.2,49.0" fill="#ff7a1a" stroke="#ff7a1a" stroke-width="0.5"/>
<polygon points="240.0,49.0 240.2,49.4 240.4,49.9 240.6,50.4 240.5,50.9 241.2,50.9 241.1,50.4 241.3,49.9 241.5,49.4 241.7,49.0" fill="#ff7a1a" stroke="#ff7a1a" stroke-width="0.5"/>
<polygon points="267.8,49.0 267.9,49.1 268.0,49.3 268.2,49.6 268.0,49.8 268.7,49.8 268.5,49.6 268.6,49.3 268.7,49.1 268.9,49.0" fill="#ff7a1a" stroke="#ff7a1a" stroke-width="0.5"/>
<polygon points="269.8,49.0 269.9,49.6 270.0,50.1 270.1,50.6 269.9,51.1 270.6,51.1 270.3,50.6 270.5,50.1 270.6,49.6 270.7,49.0" fill="#ff7a1a" stroke="#ff7a1a" stroke-width="0.5"/>
<polygon points="269.5,49.0 269.7,49.3 269.9,49.7 270.1,50.3 270.0,50.9 270.7,50.9 270.6,50.3 270.8,49.7 271.0,49.3 271.2,49.0" fill="#ff7a1a" stroke="#ff7a1a" stroke-width="0.5"/>
<polygon points="269.9,49.0 270.1,49.1 270.2,49.1 270.4,49.2 270.1,49.3 270.8,49.3 270.6,49.2 270.8,49.1 270.9,49.1 271.1,49.0" fill="#ff7a1a" stroke="#ff7a1a" stroke-width="0.5"/>
<polygon points="270.0,49.0 270.1,49.3 270.3,49.8 270.4,50.3 270.3,50.8 271.0,50.8 270.8,50.3 270.9,49.8 271.1,49.3 271.3,49.0" fill="#ff7a1a" stroke="#ff7a1a" stroke-width="0.5"/>
<polygon points="272.2,49.0 272.4,49.3 272.6,49.8 272.9,50.3 272.7,50.9 273.4,50.9 273.3,50.3 273.5,49.8 273.8,49.3 274.0,49.0" fill="#ff7a1a" stroke="#ff7a1a" stroke-width="0.5"/>
<polygon points="275.0,49.0 275.2,49.6 275.3,50.2 275.5,50.8 275.3,51.5 276.0,51.5 275.8,50.8 275.9,50.2 276.1,49.6 276.3,49.0" fill="#ff7a1a" stroke="#ff7a1a" stroke-width="0.5"/>
<polygon points="276.7,49.0 276.9,49.4 277.0,50.0 277.1,50.7 276.9,51.5 277.6,51.5 277.4,50.7 277.6,50.0 277.7,49.4 277.8,49.0" fill="#ff7a1a" stroke="#ff7a1a" stroke-width="0.5"/>
<polygon points="276.9,49.0 277.1,49.1 277.3,49.3 277.5,49.5 277.4,49.6 278.1,49.6 277.9,49.5 278.1,49.3 278.3,49.1 278.6,49.0" fill="#ff7a1a" stroke="#ff7a1a" stroke-width="0.5"/>
<polygon points="282.4,49.0 282.5,49.9 282.6,50.8 282.7,51.7 282.5,52.6 283.2,52.6 282.9,51.7 283.0,50.8 283.1,49.9 283.2,49.0" fill="#ff7a1a" stroke="#ff7a1a" stroke-width="0.5"/>
<polygon points="282.0,49.0 282.3,49.2 282.5,49.4 282.7,49.7 282.6,50.0 283.3,50.0 283.1,49.7 283.4,49.4 283.6,49.2 283.8,49.0" fill="#ff7a1a" stroke="#ff7a1a" stroke-width="0.5"/>
<polygon points="282.5,49.0 282.7,49.3 282.9,49.7 283.1,50.1 282.9,50.6 283.6,50.6 283.5,50.1 283.7,49.7 283.9,49.3 284.0,49.0" fill="#ff7a1a" stroke="#ff7a1a" stroke-width="0.5"/>
<polygon points="284.6,49.0 284.7,50.2 284.8,51.4 285.0,52.5 284.8,53.6 285.5,53.6 285.3,52.5 285.4,51.4 285.5,50.2 285.7,49.0" fill="#ff7a1a" stroke="#ff7a1a" stroke-width="0.5"/>
<polygon points="284.9,49.0 285.1,49.1 285.2,49.4 285.4,49.7 285.2,50.0 285.9,50.0 285.7,49.7 285.9,49.4 286.1,49.1 286.3,49.0" fill="#ff7a1a" stroke="#ff7a1a" stroke-width="0.5"/>
<polygon points="286.6,49.0 286.7,49.5 286.8,50.4 286.8,51.6 286.6,53.0 287.3,53.0 287.0,51.6 287.1,50.4 287.1,49.5 287.2,49.0" fill="#ff7a1a" stroke="#ff7a1a" stroke-width="0.5"/>
<polygon points="287.1,49.0 287.2,49.6 287.3,50.1 287.4,50.5 287.1,51.0 287.8,51.0 287.6,50.5 287.6,50.1 287.7,49.6 287.8,49.0" fill="#ff7a1a" stroke="#ff7a1a" stroke-width="0.5"/>
<polygon points="287.0,49.0 287.1,49.9 287.3,50.7 287.4,51.6 287.2,52.4 287.9,52.4 287.7,51.6 287.8,50.7 288.0,49.9 288.1,49.0" fill="#ff7a1a" stroke="#ff7a1a" stroke-width="0.5"/>
<polygon points="288.4,49.0 288.5,49.2 288.7,49.5 288.8,49.8 288.6,50.2 289.3,50.2 289.1,49.8 289.3,49.5 289.4,49.2 289.6,49.0" fill="#ff7a1a" stroke="#ff7a1a" stroke-width="0.5"/>
<polygon points="289.1,49.0 289.2,50.9 289.4,52.5 289.6,54.1 289.4,55.6 290.1,55.6 289.9,54.1 290.1,52.5 290.2,50.9 290.4,49.0" fill="#ff7a1a" stroke="#ff7a1a" stroke-width="0.5"/>
<polygon points="289.2,49.0 289.4,50.3 289.6,52.1 289.8,54.0 289.7,56.2 290.4,56.2 290.2,54.0 290.5,52.1 290.7,50.3 290.9,49.0" fill="#ff7a1a" stroke="#ff7a1a" stroke-width="0.5"/>
<polygon points="293.5,49.0 293.7,49.8 293.9,51.1 294.2,52.7 294.0,54.7 294.7,54.7 294.6,52.7 294.8,51.1 295.1,49.8 295.3,49.0" fill="#ff7a1a" stroke="#ff7a1a" stroke-width="0.5"/>
<polygon points="294.0,49.0 294.2,49.4 294.5,49.9 294.7,50.4 294.6,50.8 295.3,50.8 295.2,50.4 295.5,49.9 295.7,49.4 296.0,49.0" fill="#ff7a1a" stroke="#ff7a1a" stroke-width="0.5"/>
<polygon points="294.4,49.0 294.6,50.2 294.8,51.2 295.0,52.0 294.9,52.8 295.6,52.8 295.5,52.0 295.7,51.2 295.9,50.2 296.1,49.0" fill="#ff7a1a" stroke="#ff7a1a" stroke-width="0.5"/>
<polygon points="297.6,49.0 297.7,49.4 297.8,49.9 297.9,50.3 297.6,50.8 298.3,50.8 298.0,50.3 298.1,49.9 298.2,49.4 298.3,49.0" fill="#ff7a1a" stroke="#ff7a1a" stroke-width="0.5"/>
<polygon points="449.8,49.0 450.0,49.1 450.2,49.1 450.4,49.2 450.3,49.3 451.0,49.3 450.9,49.2 451.1,49.1 451.3,49.1 451.5,49.0" fill="#ff7a1a" stroke="#ff7a1a" stroke-width="0.5"/>
<polygon points="452.3,49.0 452.4,49.8 452.5,50.6 452.6,51.4 452.4,52.2 453.1,52.2 452.8,51.4 452.9,50.6 453.0,49.8 453.1,49.0" fill="#ff7a1a" stroke="#ff7a1a" stroke-width="0.5"/>
<polygon points="452.7,49.0 452.9,49.7 453.1,50.6 453.2,51.7 453.0,52.8 453.7,52.8 453.6,51.7 453.7,50.6 453.9,49.7 454.0,49.0" fill="#ff7a1a" stroke="#ff7a1a" stroke-width="0.5"/>
<polygon points="453.3,49.0 453.4,49.3 453.6,49.7 453.8,50.3 453.6,50.9 454.3,50.9 454.1,50.3 454.2,49.7 454.4,49.3 454.6,49.0" fill="#ff7a1a" stroke="#ff7a1a" stroke-width="0.5"/>
<polygon points="452.9,49.0 453.2,49.9 453.4,50.6 453.7,51.3 453.6,52.0 454.3,52.0 454.2,51.3 454.4,50.6 454.6,49.9 454.9,49.0" fill="#ff7a1a" stroke="#ff7a1a" stroke-width="0.5"/>
<polygon points="454.0,49.0 454.1,50.0 454.2,51.6 454.3,53.6 454.0,55.8 454.7,55.8 454.5,53.6 454.6,51.6 454.7,50.0 454.7,49.0" fill="#ff7a1a" stroke="#ff7a1a" stroke-width="0.5"/>
<polygon points="453.4,49.0 453.7,49.2 453.9,49.5 454.2,49.7 454.1,50.0 454.8,50.0 454.7,49.7 455.0,49.5 455.2,49.2 455.5,49.0" fill="#ff7a1a" stroke="#ff7a1a" stroke-width="0.5"/>
<polygon points="453.7,49.0 453.9,49.8 454.1,51.0 454.3,52.6 454.1,54.4 454.8,54.4 454.6,52.6 454.8,51.0 455.0,49.8 455.2,49.0" fill="#ff7a1a" stroke="#ff7a1a" stroke-width="0.5"/>
<polygon points="454.6,49.0 454.8,50.2 455.0,51.9 455.2,53.8 455.1,56.0 455.8,56.0 455.6,53.8 455.8,51.9 456.0,50.2 456.2,49.0" fill="#ff7a1a" stroke="#ff7a1a" stroke-width="0.5"/>
<polygon points="455.5,49.0 455.7,49.7 455.9,50.5 456.2,51.2 456.1,51.9 456.8,51.9 456.7,51.2 456.9,50.5 457.2,49.7 457.4,49.0" fill="#ff7a1a" stroke="#ff7a1a" stroke-width="0.5"/>
<polygon points="456.2,49.0 456.3,49.3 456.4,49.7 456.5,50.1 456.3,50.5 457.0,50.5 456.7,50.1 456.8,49.7 457.0,49.3 457.1,49.0" fill="#ff7a1a" stroke="#ff7a1a" stroke-width="0.5"/>
<polygon points="457.1,49.0 457.2,50.4 457.3,52.0 457.5,53.8 457.2,55.6 457.9,55.6 457.7,53.8 457.8,52.0 457.9,50.4 458.0,49.0" fill="#ff7a1a" stroke="#ff7a1a" stroke-width="0.5"/>
<polygon points="457.3,49.0 457.4,49.5 457.6,50.1 457.7,50.7 457.5,51.5 458.2,51.5 458.1,50.7 458.2,50.1 458.4,49.5 458.5,49.0" fill="#ff7a1a" stroke="#ff7a1a" stroke-width="0.5"/>
<polygon points="457.7,49.0 457.8,49.3 458.0,49.7 458.1,50.2 457.9,50.7 458.6,50.7 458.4,50.2 458.5,49.7 458.7,49.3 458.8,49.0" fill="#ff7a1a" stroke="#ff7a1a" stroke-width="0.5"/>
<polygon points="457.5,49.0 457.7,50.2 458.0,51.2 458.2,52.0 458.1,52.8 458.8,52.8 458.7,52.0 459.0,51.2 459.3,50.2 459.5,49.0" fill="#ff7a1a" stroke="#ff7a1a" stroke-width="0.5"/>
<polygon points="458.1,49.0 458.3,49.5 458.6,50.2 458.9,51.1 458.8,52.0 459.5,52.0 459.4,51.1 459.7,50.2 459.9,49.5 460.2,49.0" fill="#ff7a1a" stroke="#ff7a1a" stroke-width="0.5"/>
<polygon points="459.4,49.0 459.6,50.8 459.9,52.1 460.1,53.4 460.0,54.6 460.7,54.6 460.5,53.4 460.7,52.1 461.0,50.8 461.2,49.0" fill="#ff7a1a" stroke="#ff7a1a" stroke-width="0.5"/>
<polygon points="459.9,49.0 460.0,50.1 460.1,51.4 460.3,53.0 460.1,54.6 460.8,54.6 460.5,53.0 460.7,51.4 460.8,50.1 460.9,49.0" fill="#ff7a1a" stroke="#ff7a1a" stroke-width="0.5"/>
<polygon points="459.7,49.0 460.0,50.5 460.2,52.0 460.5,53.5 460.4,55.0 461.1,55.0 461.0,53.5 461.3,52.0 461.6,50.5 461.8,49.0" fill="#ff7a1a" stroke="#ff7a1a" stroke-width="0.5"/>
<polygon points="460.0,49.0 460.2,49.2 460.5,49.6 460.7,50.0 460.6,50.4 461.3,50.4 461.2,50.0 461.5,49.6 461.7,49.2 462.0,49.0" fill="#ff7a1a" stroke="#ff7a1a" stroke-width="0.5"/>
<polygon points="460.3,49.0 460.5,50.6 460.7,52.1 460.9,53.6 460.7,55.2 461.4,55.2 461.3,53.6 461.5,52.1 461.7,50.6 461.9,49.0" fill="#ff7a1a" stroke="#ff7a1a" stroke-width="0.5"/>
<polygon points="460.9,49.0 461.1,49.6 461.3,50.1 461.5,50.6 461.4,51.0 462.1,51.0 461.9,50.6 462.1,50.1 462.3,49.6 462.5,49.0" fill="#ff7a1a" stroke="#ff7a1a" stroke-width="0.5"/>
<polygon points="461.3,49.0 461.6,50.4 461.8,51.6 462.0,52.7 461.9,53.8 462.6,53.8 462.4,52.7 462.6,51.6 462.9,50.4 463.1,49.0" fill="#ff7a1a" stroke="#ff7a1a" stroke-width="0.5"/>
<polygon points="461.8,49.0 462.0,50.1 462.2,51.6 462.3,53.2 462.2,55.1 462.9,55.1 462.7,53.2 462.9,51.6 463.0,50.1 463.2,49.0" fill="#ff7a1a" stroke="#ff7a1a" stroke-width="0.5"/>
<polygon points="462.2,49.0 462.3,49.7 462.4,50.6 462.5,51.6 462.3,52.8 463.0,52.8 462.7,51.6 462.8,50.6 462.9,49.7 463.0,49.0" fill="#ff7a1a" stroke="#ff7a1a" stroke-width="0.5"/>
<polygon points="462.4,49.0 462.6,51.2 462.8,52.8 463.1,54.4 463.0,55.8 463.7,55.8 463.6,54.4 463.8,52.8 464.1,51.2 464.3,49.0" fill="#ff7a1a" stroke="#ff7a1a" stroke-width="0.5"/>
<polygon points="462.5,49.0 462.8,51.2 463.1,53.0 463.4,54.7 463.3,56.3 464.0,56.3 463.9,54.7 464.2,53.0 464.5,51.2 464.8,49.0" fill="#ff7a1a" stroke="#ff7a1a" stroke-width="0.5"/>
<polygon points="462.8,49.0 463.0,50.4 463.3,51.5 463.5,52.5 463.4,53.5 464.1,53.5 464.0,52.5 464.2,51.5 464.5,50.4 464.7,49.0" fill="#ff7a1a" stroke="#ff7a1a" stroke-width="0.5"/>
<polygon points="463.1,49.0 463.2,50.9 463.4,52.6 463.6,54.2 463.4,55.8 464.1,55.8 463.9,54.2 464.1,52.6 464.3,50.9 464.4,49.0" fill="#ff7a1a" stroke="#ff7a1a" stroke-width="0.5"/>
<polygon points="463.3,49.0 463.5,50.8 463.7,52.4 464.0,54.0 463.8,55.6 464.5,55.6 464.4,54.0 464.6,52.4 464.8,50.8 465.0,49.0" fill="#ff7a1a" stroke="#ff7a1a" stroke-width="0.5"/>
<polygon points="463.8,49.0 463.9,49.4 464.0,49.8 464.1,50.2 463.9,50.6 464.6,50.6 464.3,50.2 464.4,49.8 464.5,49.4 464.7,49.0" fill="#ff7a1a" stroke="#ff7a1a" stroke-width="0.5"/>
<polygon points="463.7,49.0 463.9,49.5 464.2,49.9 464.5,50.3 464.4,50.6 465.1,50.6 465.0,50.3 465.3,49.9 465.5,49.5 465.8,49.0" fill="#ff7a1a" stroke="#ff7a1a" stroke-width="0.5"/>
<polygon points="464.1,49.0 464.2,49.5 464.4,50.2 464.6,50.9 464.4,51.7 465.1,51.7 464.9,50.9 465.1,50.2 465.3,49.5 465.5,49.0" fill="#ff7a1a" stroke="#ff7a1a" stroke-width="0.5"/>
<polygon points="464.5,49.0 464.6,49.5 464.6,50.1 464.7,50.7 464.4,51.3 465.1,51.3 464.9,50.7 465.0,50.1 465.0,49.5 465.1,49.0" fill="#ff7a1a" stroke="#ff7a1a" stroke-width="0.5"/>
<polygon points="465.1,49.0 465.2,50.6 465.3,52.6 465.4,54.9 465.2,57.3 465.9,57.3 465.7,54.9 465.8,52.6 465.9,50.6 466.1,49.0" fill="#ff7a1a" stroke="#ff7a1a" stroke-width="0.5"/>
<polygon points="464.8,49.0 465.1,49.8 465.3,50.8 465.6,51.9 465.4,53.0 466.1,53.0 466.0,51.9 466.3,50.8 466.5,49.8 466.8,49.0" fill="#ff7a1a" stroke="#ff7a1a" stroke-width="0.5"/>
<polygon points="465.0,49.0 465.3,49.6 465.5,50.4 465.8,51.3 465.8,52.3 466.5,52.3 466.4,51.3 466.7,50.4 467.0,49.6 467.3,49.0" fill="#ff7a1a" stroke="#ff7a1a" stroke-width="0.5"/>
<polygon points="466.3,49.0 466.5,51.1 466.8,52.9 467.1,54.6 467.0,56.2 467.7,56.2 467.7,54.6 467.9,52.9 468.2,51.1 468.5,49.0" fill="#ff7a1a" stroke="#ff7a1a" stroke-width="0.5"/>
<polygon points="466.5,49.0 466.7,50.4 467.0,52.6 467.2,55.1 467.1,58.0 467.8,58.0 467.6,55.1 467.9,52.6 468.1,50.4 468.3,49.0" fill="#ff7a1a" stroke="#ff7a1a" stroke-width="0.5"/>
<polygon points="467.0,49.0 467.2,50.5 467.3,52.7 467.5,55.3 467.3,58.1 468.0,58.1 467.8,55.3 468.0,52.7 468.2,50.5 468.4,49.0" fill="#ff7a1a" stroke="#ff7a1a" stroke-width="0.5"/>
<polygon points="467.3,49.0 467.5,50.2 467.7,51.5 467.8,52.9 467.7,54.3 468.4,54.3 468.2,52.9 468.3,51.5 468.5,50.2 468.7,49.0" fill="#ff7a1a" stroke="#ff7a1a" stroke-width="0.5"/>
<polygon points="466.9,49.0 467.2,49.3 467.5,49.8 467.8,50.2 467.7,50.7 468.4,50.7 468.4,50.2 468.6,49.8 468.9,49.3 469.2,49.0" fill="#ff7a1a" stroke="#ff7a1a" stroke-width="0.5"/>
<polygon points="467.7,49.0 467.8,50.0 467.9,51.4 468.1,53.1 467.8,54.9 468.5,54.9 468.3,53.1 468.5,51.4 468.6,50.0 468.7,49.0" fill="#ff7a1a" stroke="#ff7a1a" stroke-width="0.5"/>
<polygon points="467.5,49.0 467.7,49.2 467.9,49.5 468.2,49.9 468.0,50.3 468.7,50.3 468.6,49.9 468.8,49.5 469.1,49.2 469.3,49.0" fill="#ff7a1a" stroke="#ff7a1a" stroke-width="0.5"/>
<polygon points="468.1,49.0 468.2,51.3 468.3,53.6 468.4,55.8 468.1,58.0 468.8,58.0 468.5,55.8 468.6,53.6 468.7,51.3 468.8,49.0" fill="#ff7a1a" stroke="#ff7a1a" stroke-width="0.5"/>
<polygon points="468.3,49.0 468.4,50.2 468.6,51.5 468.7,52.7 468.4,53.9 469.1,53.9 468.9,52.7 469.0,51.5 469.1,50.2 469.2,49.0" fill="#ff7a1a" stroke="#ff7a1a" stroke-width="0.5"/>
<polygon points="468.0,49.0 468.2,50.2 468.5,51.9 468.7,53.8 468.6,55.9 469.3,55.9 469.2,53.8 469.5,51.9 469.7,50.2 470.0,49.0" fill="#ff7a1a" stroke="#ff7a1a" stroke-width="0.5"/>
<polygon points="468.1,49.0 468.4,50.9 468.6,52.8 468.9,54.5 468.9,56.3 469.6,56.3 469.5,54.5 469.8,52.8 470.0,50.9 470.3,49.0" fill="#ff7a1a" stroke="#ff7a1a" stroke-width="0.5"/>
<polygon points="468.2,49.0 468.5,50.8 468.8,53.0 469.0,55.5 469.0,58.2 469.7,58.2 469.6,55.5 469.9,53.0 470.1,50.8 470.4,49.0" fill="#ff7a1a" stroke="#ff7a1a" stroke-width="0.5"/>
<polygon points="469.3,49.0 469.4,50.3 469.6,51.9 469.7,53.7 469.5,55.5 470.2,55.5 470.0,53.7 470.1,51.9 470.3,50.3 470.4,49.0" fill="#ff7a1a" stroke="#ff7a1a" stroke-width="0.5"/>
<polygon points="469.4,49.0 469.6,49.3 469.7,49.8 469.9,50.4 469.7,51.0 470.4,51.0 470.2,50.4 470.3,49.8 470.5,49.3 470.6,49.0" fill="#ff7a1a" stroke="#ff7a1a" stroke-width="0.5"/>
<polygon points="469.6,49.0 469.7,49.3 469.8,49.6 469.9,50.1 469.7,50.6 470.4,50.6 470.2,50.1 470.3,49.6 470.5,49.3 470.6,49.0" fill="#ff7a1a" stroke="#ff7a1a" stroke-width="0.5"/>
<polygon points="470.4,49.0 470.7,49.8 471.0,50.7 471.3,51.6 471.2,52.5 471.9,52.5 471.9,51.6 472.2,50.7 472.5,49.8 472.8,49.0" fill="#ff7a1a" stroke="#ff7a1a" stroke-width="0.5"/>
<polygon points="472.0,49.0 472.2,50.1 472.4,51.8 472.5,53.7 472.4,55.9 473.1,55.9 472.9,53.7 473.1,51.8 473.2,50.1 473.4,49.0" fill="#ff7a1a" stroke="#ff7a1a" stroke-width="0.5"/>
<polygon points="473.2,49.0 473.4,49.8 473.5,51.1 473.6,52.6 473.4,54.3 474.1,54.3 473.9,52.6 474.1,51.1 474.2,49.8 474.4,49.0" fill="#ff7a1a" stroke="#ff7a1a" stroke-width="0.5"/>
<polygon points="473.8,49.0 473.9,50.0 474.1,51.1 474.2,52.3 473.9,53.4 474.6,53.4 474.4,52.3 474.5,51.1 474.6,50.0 474.7,49.0" fill="#ff7a1a" stroke="#ff7a1a" stroke-width="0.5"/>
<polygon points="474.0,49.0 474.3,50.8 474.5,52.9 474.7,55.1 474.6,57.4 475.3,57.4 475.2,55.1 475.4,52.9 475.7,50.8 475.9,49.0" fill="#ff7a1a" stroke="#ff7a1a" stroke-width="0.5"/>
<polygon points="474.4,49.0 474.7,51.0 475.0,52.6 475.3,54.0 475.2,55.4 475.9,55.4 475.8,54.0 476.1,52.6 476.3,51.0 476.6,49.0" fill="#ff7a1a" stroke="#ff7a1a" stroke-width="0.5"/>
<polygon points="474.6,49.0 474.8,51.3 475.1,53.5 475.3,55.7 475.2,57.8 475.9,57.8 475.8,55.7 476.0,53.5 476.3,51.3 476.5,49.0" fill="#ff7a1a" stroke="#ff7a1a" stroke-width="0.5"/>
<polygon points="475.0,49.0 475.2,49.3 475.3,49.8 475.5,50.3 475.2,50.9 475.9,50.9 475.7,50.3 475.9,49.8 476.0,49.3 476.2,49.0" fill="#ff7a1a" stroke="#ff7a1a" stroke-width="0.5"/>
<polygon points="474.8,49.0 475.1,50.0 475.4,50.8 475.6,51.7 475.5,52.5 476.2,52.5 476.1,51.7 476.4,50.8 476.7,50.0 476.9,49.0" fill="#ff7a1a" stroke="#ff7a1a" stroke-width="0.5"/>
<polygon points="475.0,49.0 475.3,50.2 475.6,52.1 475.8,54.3 475.8,56.9 476.5,56.9 476.4,54.3 476.7,52.1 476.9,50.2 477.2,49.0" fill="#ff7a1a" stroke="#ff7a1a" stroke-width="0.5"/>
<polygon points="475.3,49.0 475.5,50.0 475.7,51.1 475.9,52.1 475.8,53.2 476.5,53.2 476.3,52.1 476.5,51.1 476.8,50.0 477.0,49.0" fill="#ff7a1a" stroke="#ff7a1a" stroke-width="0.5"/>
<polygon points="475.5,49.0 475.7,49.9 476.0,50.8 476.2,51.5 476.0,52.3 476.7,52.3 476.6,51.5 476.8,50.8 477.0,49.9 477.2,49.0" fill="#ff7a1a" stroke="#ff7a1a" stroke-width="0.5"/>
<polygon points="475.6,49.0 475.8,50.7 476.0,52.8 476.2,55.0 476.1,57.3 476.8,57.3 476.7,55.0 476.9,52.8 477.1,50.7 477.3,49.0" fill="#ff7a1a" stroke="#ff7a1a" stroke-width="0.5"/>
<polygon points="475.5,49.0 475.8,50.8 476.1,52.6 476.4,54.4 476.3,56.3 477.0,56.3 477.0,54.4 477.2,52.6 477.5,50.8 477.8,49.0" fill="#ff7a1a" stroke="#ff7a1a" stroke-width="0.5"/>
<polygon points="475.7,49.0 475.9,49.9 476.2,50.8 476.4,51.7 476.3,52.6 477.0,52.6 476.9,51.7 477.2,50.8 477.4,49.9 477.7,49.0" fill="#ff7a1a" stroke="#ff7a1a" stroke-width="0.5"/>
<polygon points="476.4,49.0 476.6,49.8 476.8,50.5 477.0,51.3 476.9,52.1 477.6,52.1 477.5,51.3 477.7,50.5 477.9,49.8 478.1,49.0" fill="#ff7a1a" stroke="#ff7a1a" stroke-width="0.5"/>
<polygon points="476.8,49.0 477.0,49.8 477.3,51.0 477.5,52.3 477.3,53.7 478.0,53.7 477.9,52.3 478.1,51.0 478.3,49.8 478.5,49.0" fill="#ff7a1a" stroke="#ff7a1a" stroke-width="0.5"/>
<polygon points="478.4,49.0 478.4,49.9 478.5,51.1 478.6,52.6 478.3,54.2 479.0,54.2 478.8,52.6 478.9,51.1 478.9,49.9 479.0,49.0" fill="#ff7a1a" stroke="#ff7a1a" stroke-width="0.5"/>
<polygon points="477.7,49.0 478.0,49.7 478.3,50.8 478.5,52.2 478.4,53.8 479.1,53.8 479.0,52.2 479.3,50.8 479.5,49.7 479.8,49.0" fill="#ff7a1a" stroke="#ff7a1a" stroke-width="0.5"/>
<polygon points="478.3,49.0 478.6,49.7 478.9,50.3 479.2,50.9 479.1,51.4 479.8,51.4 479.8,50.9 480.1,50.3 480.4,49.7 480.7,49.0" fill="#ff7a1a" stroke="#ff7a1a" stroke-width="0.5"/>
<polygon points="478.4,49.0 478.7,50.6 479.0,52.5 479.3,54.7 479.2,57.0 479.9,57.0 479.8,54.7 480.1,52.5 480.4,50.6 480.7,49.0" fill="#ff7a1a" stroke="#ff7a1a" stroke-width="0.5"/>
<polygon points="479.7,49.0 479.8,50.4 479.9,52.2 480.0,54.2 479.8,56.3 480.5,56.3 480.2,54.2 480.3,52.2 480.4,50.4 480.5,49.0" fill="#ff7a1a" stroke="#ff7a1a" stroke-width="0.5"/>
<polygon points="479.4,49.0 479.6,50.3 479.8,51.8 480.1,53.3 480.0,54.9 480.7,54.9 480.5,53.3 480.8,51.8 481.0,50.3 481.3,49.0" fill="#ff7a1a" stroke="#ff7a1a" stroke-width="0.5"/>
<polygon points="480.0,49.0 480.1,51.6 480.2,53.9 480.3,56.1 480.1,58.3 480.8,58.3 480.6,56.1 480.7,53.9 480.8,51.6 480.9,49.0" fill="#ff7a1a" stroke="#ff7a1a" stroke-width="0.5"/>
<polygon points="479.9,49.0 480.1,50.3 480.2,51.4 480.4,52.5 480.2,53.5 480.9,53.5 480.7,52.5 480.9,51.4 481.0,50.3 481.2,49.0" fill="#ff7a1a" stroke="#ff7a1a" stroke-width="0.5"/>
<polygon points="480.3,49.0 480.4,50.2 480.5,51.6 480.6,53.0 480.3,54.5 481.0,54.5 480.7,53.0 480.8,51.6 480.9,50.2 480.9,49.0" fill="#ff7a1a" stroke="#ff7a1a" stroke-width="0.5"/>
<polygon points="480.3,49.0 480.4,49.4 480.5,50.0 480.6,50.8 480.4,51.6 481.1,51.6 480.8,50.8 480.9,50.0 481.0,49.4 481.1,49.0" fill="#ff7a1a" stroke="#ff7a1a" stroke-width="0.5"/>
<polygon points="479.8,49.0 480.0,51.3 480.3,53.9 480.5,56.6 480.4,59.5 481.1,59.5 481.0,56.6 481.3,53.9 481.6,51.3 481.8,49.0" fill="#ff7a1a" stroke="#ff7a1a" stroke-width="0.5"/>
<polygon points="480.0,49.0 480.2,50.0 480.4,51.6 480.6,53.5 480.5,55.8 481.2,55.8 481.1,53.5 481.3,51.6 481.5,50.0 481.7,49.0" fill="#ff7a1a" stroke="#ff7a1a" stroke-width="0.5"/>
<polygon points="480.1,49.0 480.4,50.5 480.7,52.8 481.0,55.6 480.9,58.7 481.6,58.7 481.6,55.6 481.9,52.8 482.2,50.5 482.5,49.0" fill="#ff7a1a" stroke="#ff7a1a" stroke-width="0.5"/>
<polygon points="480.7,49.0 481.0,50.7 481.3,52.4 481.6,54.3 481.5,56.1 482.2,56.1 482.2,54.3 482.5,52.4 482.8,50.7 483.1,49.0" fill="#ff7a1a" stroke="#ff7a1a" stroke-width="0.5"/>
<polygon points="482.2,49.0 482.3,49.5 482.5,50.0 482.6,50.5 482.4,51.1 483.1,51.1 482.8,50.5 483.0,50.0 483.1,49.5 483.2,49.0" fill="#ff7a1a" stroke="#ff7a1a" stroke-width="0.5"/>
<polygon points="482.0,49.0 482.3,49.6 482.6,50.4 482.8,51.2 482.7,52.1 483.4,52.1 483.3,51.2 483.6,50.4 483.9,49.6 484.1,49.0" fill="#ff7a1a" stroke="#ff7a1a" stroke-width="0.5"/>
<polygon points="482.5,49.0 482.7,49.3 482.8,49.7 483.0,50.2 482.8,50.7 483.5,50.7 483.3,50.2 483.5,49.7 483.6,49.3 483.8,49.0" fill="#ff7a1a" stroke="#ff7a1a" stroke-width="0.5"/>
<polygon points="483.0,49.0 483.1,50.3 483.3,52.4 483.4,54.8 483.2,57.6 483.9,57.6 483.6,54.8 483.8,52.4 483.9,50.3 484.0,49.0" fill="#ff7a1a" stroke="#ff7a1a" stroke-width="0.5"/>
<polygon points="482.8,49.0 483.0,50.3 483.3,51.6 483.5,52.9 483.4,54.2 484.1,54.2 483.9,52.9 484.2,51.6 484.4,50.3 484.6,49.0" fill="#ff7a1a" stroke="#ff7a1a" stroke-width="0.5"/>
<polygon points="482.8,49.0 483.1,50.2 483.4,51.6 483.7,53.0 483.6,54.5 484.3,54.5 484.2,53.0 484.5,51.6 484.8,50.2 485.1,49.0" fill="#ff7a1a" stroke="#ff7a1a" stroke-width="0.5"/>
<polygon points="483.2,49.0 483.4,50.0 483.7,51.2 483.9,52.5 483.7,53.8 484.4,53.8 484.3,52.5 484.5,51.2 484.7,50.0 484.9,49.0" fill="#ff7a1a" stroke="#ff7a1a" stroke-width="0.5"/>
<polygon points="483.5,49.0 483.7,50.1 484.0,51.6 484.2,53.4 484.1,55.3 484.8,55.3 484.7,53.4 485.0,51.6 485.2,50.1 485.5,49.0" fill="#ff7a1a" stroke="#ff7a1a" stroke-width="0.5"/>
<polygon points="484.0,49.0 484.2,50.6 484.3,52.0 484.5,53.2 484.3,54.4 485.0,54.4 484.9,53.2 485.0,52.0 485.2,50.6 485.4,49.0" fill="#ff7a1a" stroke="#ff7a1a" stroke-width="0.5"/>
<polygon points="484.4,49.0 484.5,49.8 484.6,50.4 484.7,51.0 484.5,51.5 485.2,51.5 484.9,51.0 485.0,50.4 485.1,49.8 485.3,49.0" fill="#ff7a1a" stroke="#ff7a1a" stroke-width="0.5"/>
<polygon points="484.2,49.0 484.5,49.7 484.8,50.4 485.1,51.1 485.1,51.8 485.8,51.8 485.7,51.1 486.0,50.4 486.3,49.7 486.6,49.0" fill="#ff7a1a" stroke="#ff7a1a" stroke-width="0.5"/>
<polygon points="484.5,49.0 484.7,50.2 484.9,52.0 485.2,54.3 485.1,56.8 485.8,56.8 485.7,54.3 485.9,52.0 486.1,50.2 486.4,49.0" fill="#ff7a1a" stroke="#ff7a1a" stroke-width="0.5"/>
<polygon points="484.6,49.0 484.8,49.9 485.1,51.0 485.3,52.2 485.2,53.5 485.9,53.5 485.8,52.2 486.0,51.0 486.3,49.9 486.5,49.0" fill="#ff7a1a" stroke="#ff7a1a" stroke-width="0.5"/>
<polygon points="485.2,49.0 485.5,52.5 485.8,55.0 486.1,57.4 486.1,59.5 486.8,59.5 486.7,57.4 487.0,55.0 487.3,52.5 487.6,49.0" fill="#ff7a1a" stroke="#ff7a1a" stroke-width="0.5"/>
<polygon points="486.6,49.0 486.7,51.7 486.8,54.3 486.9,57.0 486.6,59.7 487.3,59.7 487.0,57.0 487.1,54.3 487.2,51.7 487.3,49.0" fill="#ff7a1a" stroke="#ff7a1a" stroke-width="0.5"/>
<polygon points="487.4,49.0 487.7,49.3 487.9,49.9 488.1,50.5 487.9,51.2 488.6,51.2 488.5,50.5 488.7,49.9 488.9,49.3 489.1,49.0" fill="#ff7a1a" stroke="#ff7a1a" stroke-width="0.5"/>
<polygon points="488.5,49.0 488.6,49.4 488.7,49.7 488.8,50.1 488.5,50.5 489.2,50.5 489.0,50.1 489.1,49.7 489.2,49.4 489.3,49.0" fill="#ff7a1a" stroke="#ff7a1a" stroke-width="0.5"/>
<polygon points="488.3,49.0 488.5,51.0 488.6,53.0 488.7,55.0 488.5,57.1 489.2,57.1 489.0,55.0 489.1,53.0 489.3,51.0 489.4,49.0" fill="#ff7a1a" stroke="#ff7a1a" stroke-width="0.5"/>
<polygon points="488.0,49.0 488.2,51.5 488.5,53.7 488.7,55.8 488.6,57.8 489.3,57.8 489.3,55.8 489.5,53.7 489.8,51.5 490.0,49.0" fill="#ff7a1a" stroke="#ff7a1a" stroke-width="0.5"/>
<polygon points="488.4,49.0 488.6,50.3 488.8,52.2 489.0,54.4 488.8,56.8 489.5,56.8 489.4,54.4 489.6,52.2 489.8,50.3 489.9,49.0" fill="#ff7a1a" stroke="#ff7a1a" stroke-width="0.5"/>
<polygon points="489.1,49.0 489.2,51.0 489.3,53.6 489.4,56.5 489.2,59.6 489.9,59.6 489.7,56.5 489.8,53.6 489.9,51.0 490.1,49.0" fill="#ff7a1a" stroke="#ff7a1a" stroke-width="0.5"/>
<polygon points="489.5,49.0 489.6,50.8 489.8,53.6 489.9,56.8 489.7,60.5 490.4,60.5 490.3,56.8 490.4,53.6 490.6,50.8 490.7,49.0" fill="#ff7a1a" stroke="#ff7a1a" stroke-width="0.5"/>
<polygon points="489.6,49.0 489.7,50.3 489.9,52.2 490.0,54.5 489.8,57.0 490.5,57.0 490.3,54.5 490.4,52.2 490.5,50.3 490.7,49.0" fill="#ff7a1a" stroke="#ff7a1a" stroke-width="0.5"/>
<polygon points="489.4,49.0 489.6,51.4 489.8,54.2 490.0,57.3 489.8,60.6 490.5,60.6 490.4,57.3 490.6,54.2 490.8,51.4 491.0,49.0" fill="#ff7a1a" stroke="#ff7a1a" stroke-width="0.5"/>
<polygon points="489.9,49.0 490.0,50.4 490.1,52.4 490.2,54.8 490.0,57.5 490.7,57.5 490.5,54.8 490.6,52.4 490.7,50.4 490.8,49.0" fill="#ff7a1a" stroke="#ff7a1a" stroke-width="0.5"/>
<polygon points="489.5,49.0 489.7,49.6 490.0,50.4 490.2,51.3 490.1,52.3 490.8,52.3 490.7,51.3 491.0,50.4 491.3,49.6 491.5,49.0" fill="#ff7a1a" stroke="#ff7a1a" stroke-width="0.5"/>
<polygon points="489.7,49.0 490.0,50.8 490.2,53.0 490.4,55.2 490.3,57.5 491.0,57.5 490.9,55.2 491.1,53.0 491.4,50.8 491.6,49.0" fill="#ff7a1a" stroke="#ff7a1a" stroke-width="0.5"/>
<polygon points="490.1,49.0 490.4,50.7 490.7,53.1 491.0,56.0 490.9,59.2 491.6,59.2 491.5,56.0 491.8,53.1 492.1,50.7 492.3,49.0" fill="#ff7a1a" stroke="#ff7a1a" stroke-width="0.5"/>
<polygon points="490.1,49.0 490.4,51.4 490.7,54.2 491.0,57.0 490.9,60.0 491.6,60.0 491.6,57.0 491.9,54.2 492.2,51.4 492.5,49.0" fill="#ff7a1a" stroke="#ff7a1a" stroke-width="0.5"/>
<polygon points="491.5,49.0 491.6,49.9 491.7,51.0 491.7,52.1 491.5,53.2 492.2,53.2 491.9,52.1 492.0,51.0 492.1,49.9 492.2,49.0" fill="#ff7a1a" stroke="#ff7a1a" stroke-width="0.5"/>
<polygon points="491.2,49.0 491.4,49.5 491.5,50.2 491.7,51.1 491.5,52.1 492.2,52.1 492.1,51.1 492.2,50.2 492.4,49.5 492.6,49.0" fill="#ff7a1a" stroke="#ff7a1a" stroke-width="0.5"/>
<polygon points="492.0,49.0 492.1,52.0 492.3,55.3 492.5,58.8 492.4,62.3 493.1,62.3 492.9,58.8 493.1,55.3 493.3,52.0 493.5,49.0" fill="#ff7a1a" stroke="#ff7a1a" stroke-width="0.5"/>
<polygon points="491.6,49.0 491.9,49.5 492.2,50.2 492.5,50.9 492.4,51.7 493.1,51.7 493.0,50.9 493.3,50.2 493.5,49.5 493.8,49.0" fill="#ff7a1a" stroke="#ff7a1a" stroke-width="0.5"/>
<polygon points="492.9,49.0 493.1,52.4 493.3,55.6 493.6,58.7 493.4,61.9 494.1,61.9 494.0,58.7 494.2,55.6 494.4,52.4 494.7,49.0" fill="#ff7a1a" stroke="#ff7a1a" stroke-width="0.5"/>
<polygon points="493.9,49.0 494.0,50.8 494.1,53.5 494.2,56.7 494.0,60.1 494.7,60.1 494.4,56.7 494.5,53.5 494.6,50.8 494.7,49.0" fill="#ff7a1a" stroke="#ff7a1a" stroke-width="0.5"/>
<polygon points="493.5,49.0 493.8,51.0 494.0,54.0 494.3,57.7 494.2,61.8 494.9,61.8 494.8,57.7 495.1,54.0 495.3,51.0 495.6,49.0" fill="#ff7a1a" stroke="#ff7a1a" stroke-width="0.5"/>
<polygon points="494.1,49.0 494.2,50.8 494.3,53.6 494.5,56.8 494.3,60.4 495.0,60.4 494.8,56.8 494.9,53.6 495.1,50.8 495.2,49.0" fill="#ff7a1a" stroke="#ff7a1a" stroke-width="0.5"/>
<polygon points="493.5,49.0 493.8,51.8 494.1,55.1 494.4,58.6 494.3,62.2 495.0,62.2 495.0,58.6 495.3,55.1 495.6,51.8 495.9,49.0" fill="#ff7a1a" stroke="#ff7a1a" stroke-width="0.5"/>
<polygon points="494.1,49.0 494.4,52.1 494.7,54.6 495.0,56.9 494.9,59.1 495.6,59.1 495.5,56.9 495.8,54.6 496.1,52.1 496.4,49.0" fill="#ff7a1a" stroke="#ff7a1a" stroke-width="0.5"/>
<polygon points="495.4,49.0 495.6,50.1 495.8,51.7 495.9,53.7 495.8,55.8 496.5,55.8 496.3,53.7 496.4,51.7 496.6,50.1 496.8,49.0" fill="#ff7a1a" stroke="#ff7a1a" stroke-width="0.5"/>
<polygon points="495.3,49.0 495.5,49.7 495.7,50.7 495.9,51.8 495.8,53.0 496.5,53.0 496.4,51.8 496.6,50.7 496.8,49.7 497.1,49.0" fill="#ff7a1a" stroke="#ff7a1a" stroke-width="0.5"/>
<polygon points="495.6,49.0 495.8,52.7 495.9,55.5 496.1,58.1 495.9,60.5 496.6,60.5 496.4,58.1 496.6,55.5 496.7,52.7 496.9,49.0" fill="#ff7a1a" stroke="#ff7a1a" stroke-width="0.5"/>
<polygon points="496.0,49.0 496.2,50.0 496.3,51.0 496.5,52.1 496.4,53.2 497.1,53.2 496.9,52.1 497.1,51.0 497.2,50.0 497.4,49.0" fill="#ff7a1a" stroke="#ff7a1a" stroke-width="0.5"/>
<polygon points="496.2,49.0 496.4,53.0 496.6,56.6 496.7,60.0 496.5,63.3 497.2,63.3 497.0,60.0 497.2,56.6 497.4,53.0 497.5,49.0" fill="#ff7a1a" stroke="#ff7a1a" stroke-width="0.5"/>
<polygon points="495.9,49.0 496.2,51.4 496.5,54.1 496.8,56.8 496.7,59.6 497.4,59.6 497.4,56.8 497.7,54.1 498.0,51.4 498.2,49.0" fill="#ff7a1a" stroke="#ff7a1a" stroke-width="0.5"/>
<polygon points="496.2,49.0 496.5,50.7 496.8,52.3 497.0,53.9 497.0,55.4 497.7,55.4 497.6,53.9 497.9,52.3 498.2,50.7 498.5,49.0" fill="#ff7a1a" stroke="#ff7a1a" stroke-width="0.5"/>
<polygon points="496.9,49.0 497.2,50.3 497.4,51.9 497.7,53.6 497.6,55.5 498.3,55.5 498.2,53.6 498.4,51.9 498.7,50.3 498.9,49.0" fill="#ff7a1a" stroke="#ff7a1a" stroke-width="0.5"/>
<polygon points="497.0,49.0 497.3,50.0 497.6,51.2 497.9,52.4 497.8,53.7 498.5,53.7 498.5,52.4 498.8,51.2 499.1,50.0 499.4,49.0" fill="#ff7a1a" stroke="#ff7a1a" stroke-width="0.5"/>
<polygon points="497.8,49.0 497.9,51.1 498.0,53.8 498.1,56.8 497.9,60.0 498.6,60.0 498.3,56.8 498.4,53.8 498.5,51.1 498.6,49.0" fill="#ff7a1a" stroke="#ff7a1a" stroke-width="0.5"/>
<polygon points="498.1,49.0 498.2,50.4 498.3,51.5 498.4,52.6 498.1,53.7 498.8,53.7 498.6,52.6 498.7,51.5 498.8,50.4 498.9,49.0" fill="#ff7a1a" stroke="#ff7a1a" stroke-width="0.5"/>
<polygon points="497.8,49.0 498.0,51.9 498.3,54.9 498.6,57.8 498.5,60.7 499.2,60.7 499.2,57.8 499.4,54.9 499.7,51.9 500.0,49.0" fill="#ff7a1a" stroke="#ff7a1a" stroke-width="0.5"/>
<polygon points="497.9,49.0 498.2,50.8 498.4,53.3 498.7,56.1 498.6,59.2 499.3,59.2 499.2,56.1 499.5,53.3 499.7,50.8 500.0,49.0" fill="#ff7a1a" stroke="#ff7a1a" stroke-width="0.5"/>
<polygon points="499.0,49.0 499.2,49.9 499.5,51.2 499.7,52.7 499.6,54.4 500.3,54.4 500.2,52.7 500.4,51.2 500.6,49.9 500.9,49.0" fill="#ff7a1a" stroke="#ff7a1a" stroke-width="0.5"/>
<polygon points="499.2,49.0 499.4,50.6 499.7,53.2 499.9,56.3 499.8,60.0 500.5,60.0 500.4,56.3 500.7,53.2 500.9,50.6 501.2,49.0" fill="#ff7a1a" stroke="#ff7a1a" stroke-width="0.5"/>
<polygon points="500.1,49.0 500.2,51.0 500.2,52.7 500.3,54.3 500.1,55.9 500.8,55.9 500.5,54.3 500.6,52.7 500.7,51.0 500.7,49.0" fill="#ff7a1a" stroke="#ff7a1a" stroke-width="0.5"/>
<polygon points="499.4,49.0 499.7,50.4 499.9,51.7 500.2,53.0 500.1,54.4 500.8,54.4 500.8,53.0 501.1,51.7 501.3,50.4 501.6,49.0" fill="#ff7a1a" stroke="#ff7a1a" stroke-width="0.5"/>
<polygon points="500.6,49.0 500.9,50.5 501.1,52.0 501.4,53.7 501.3,55.3 502.0,55.3 501.9,53.7 502.1,52.0 502.4,50.5 502.6,49.0" fill="#ff7a1a" stroke="#ff7a1a" stroke-width="0.5"/>
<polygon points="501.1,49.0 501.2,50.3 501.4,51.4 501.5,52.4 501.3,53.4 502.0,53.4 501.8,52.4 501.9,51.4 502.0,50.3 502.2,49.0" fill="#ff7a1a" stroke="#ff7a1a" stroke-width="0.5"/>
<polygon points="501.4,49.0 501.7,53.3 501.9,56.5 502.2,59.4 502.1,62.1 502.8,62.1 502.7,59.4 502.9,56.5 503.2,53.3 503.5,49.0" fill="#ff7a1a" stroke="#ff7a1a" stroke-width="0.5"/>
<polygon points="501.5,49.0 501.8,51.2 502.1,54.1 502.3,57.2 502.2,60.5 502.9,60.5 502.9,57.2 503.1,54.1 503.4,51.2 503.6,49.0" fill="#ff7a1a" stroke="#ff7a1a" stroke-width="0.5"/>
<polygon points="502.1,49.0 502.3,50.5 502.4,51.9 502.6,53.2 502.4,54.4 503.1,54.4 502.9,53.2 503.1,51.9 503.3,50.5 503.4,49.0" fill="#ff7a1a" stroke="#ff7a1a" stroke-width="0.5"/>
<polygon points="502.2,49.0 502.3,51.7 502.5,55.0 502.6,58.6 502.5,62.4 503.2,62.4 503.0,58.6 503.1,55.0 503.3,51.7 503.5,49.0" fill="#ff7a1a" stroke="#ff7a1a" stroke-width="0.5"/>
<polygon points="501.9,49.0 502.2,52.9 502.4,55.9 502.6,58.6 502.5,61.2 503.2,61.2 503.1,58.6 503.4,55.9 503.6,52.9 503.9,49.0" fill="#ff7a1a" stroke="#ff7a1a" stroke-width="0.5"/>
<polygon points="502.8,49.0 502.8,52.5 502.9,55.1 503.0,57.5 502.8,59.8 503.5,59.8 503.2,57.5 503.3,55.1 503.4,52.5 503.5,49.0" fill="#ff7a1a" stroke="#ff7a1a" stroke-width="0.5"/>
<polygon points="502.2,49.0 502.4,49.6 502.7,50.5 502.9,51.4 502.8,52.5 503.5,52.5 503.4,51.4 503.7,50.5 503.9,49.6 504.2,49.0" fill="#ff7a1a" stroke="#ff7a1a" stroke-width="0.5"/>
<polygon points="503.0,49.0 503.3,50.1 503.5,51.4 503.8,52.9 503.7,54.4 504.4,54.4 504.3,52.9 504.5,51.4 504.8,50.1 505.0,49.0" fill="#ff7a1a" stroke="#ff7a1a" stroke-width="0.5"/>
<polygon points="503.1,49.0 503.3,49.8 503.6,50.8 503.8,51.9 503.7,53.0 504.4,53.0 504.3,51.9 504.5,50.8 504.7,49.8 505.0,49.0" fill="#ff7a1a" stroke="#ff7a1a" stroke-width="0.5"/>
<polygon points="503.7,49.0 503.9,50.7 504.0,52.8 504.1,55.0 503.9,57.4 504.6,57.4 504.4,55.0 504.5,52.8 504.7,50.7 504.8,49.0" fill="#ff7a1a" stroke="#ff7a1a" stroke-width="0.5"/>
<polygon points="503.4,49.0 503.7,52.2 504.0,55.8 504.2,59.6 504.1,63.5 504.8,63.5 504.7,59.6 505.0,55.8 505.3,52.2 505.5,49.0" fill="#ff7a1a" stroke="#ff7a1a" stroke-width="0.5"/>
<polygon points="504.1,49.0 504.3,51.1 504.5,53.9 504.7,56.9 504.5,60.2 505.2,60.2 505.1,56.9 505.3,53.9 505.5,51.1 505.7,49.0" fill="#ff7a1a" stroke="#ff7a1a" stroke-width="0.5"/>
<polygon points="504.2,49.0 504.4,53.3 504.7,57.3 504.9,61.2 504.8,65.0 505.5,65.0 505.4,61.2 505.7,57.3 505.9,53.3 506.2,49.0" fill="#ff7a1a" stroke="#ff7a1a" stroke-width="0.5"/>
<polygon points="504.2,49.0 504.5,52.1 504.7,55.8 505.0,59.8 504.9,64.1 505.6,64.1 505.4,59.8 505.7,55.8 505.9,52.1 506.2,49.0" fill="#ff7a1a" stroke="#ff7a1a" stroke-width="0.5"/>
<polygon points="505.7,49.0 505.8,54.0 505.9,58.2 506.0,62.3 505.7,66.2 506.4,66.2 506.1,62.3 506.2,58.2 506.3,54.0 506.4,49.0" fill="#ff7a1a" stroke="#ff7a1a" stroke-width="0.5"/>
<polygon points="505.7,49.0 505.9,52.8 506.1,57.5 506.4,62.6 506.2,68.1 506.9,68.1 506.8,62.6 507.0,57.5 507.3,52.8 507.5,49.0" fill="#ff7a1a" stroke="#ff7a1a" stroke-width="0.5"/>
<polygon points="506.7,49.0 506.8,50.6 506.8,51.9 506.9,53.2 506.6,54.4 507.3,54.4 507.1,53.2 507.2,51.9 507.2,50.6 507.3,49.0" fill="#ff7a1a" stroke="#ff7a1a" stroke-width="0.5"/>
<polygon points="506.4,49.0 506.6,50.7 506.8,53.4 506.9,56.8 506.7,60.6 507.4,60.6 507.2,56.8 507.4,53.4 507.6,50.7 507.7,49.0" fill="#ff7a1a" stroke="#ff7a1a" stroke-width="0.5"/>
<polygon points="507.1,49.0 507.2,52.3 507.4,55.6 507.5,58.8 507.2,62.0 507.9,62.0 507.7,58.8 507.8,55.6 507.9,52.3 508.0,49.0" fill="#ff7a1a" stroke="#ff7a1a" stroke-width="0.5"/>
<polygon points="507.0,49.0 507.1,51.3 507.3,54.9 507.4,59.2 507.3,64.0 508.0,64.0 507.8,59.2 507.9,54.9 508.1,51.3 508.3,49.0" fill="#ff7a1a" stroke="#ff7a1a" stroke-width="0.5"/>
<polygon points="507.1,49.0 507.2,52.6 507.4,57.2 507.5,62.3 507.4,67.7 508.1,67.7 507.9,62.3 508.0,57.2 508.2,52.6 508.4,49.0" fill="#ff7a1a" stroke="#ff7a1a" stroke-width="0.5"/>
<polygon points="507.7,49.0 507.8,54.2 507.9,58.7 508.0,63.0 507.8,67.1 508.5,67.1 508.3,63.0 508.4,58.7 508.5,54.2 508.7,49.0" fill="#ff7a1a" stroke="#ff7a1a" stroke-width="0.5"/>
<polygon points="507.3,49.0 507.5,51.2 507.8,53.7 508.0,56.3 507.9,59.0 508.6,59.0 508.5,56.3 508.7,53.7 509.0,51.2 509.2,49.0" fill="#ff7a1a" stroke="#ff7a1a" stroke-width="0.5"/>
<polygon points="508.4,49.0 508.6,51.7 508.8,54.8 509.0,58.1 508.9,61.5 509.6,61.5 509.4,58.1 509.6,54.8 509.8,51.7 510.0,49.0" fill="#ff7a1a" stroke="#ff7a1a" stroke-width="0.5"/>
<polygon points="508.8,49.0 508.9,52.9 509.0,56.0 509.1,58.8 508.9,61.5 509.6,61.5 509.4,58.8 509.5,56.0 509.6,52.9 509.7,49.0" fill="#ff7a1a" stroke="#ff7a1a" stroke-width="0.5"/>
<polygon points="508.5,49.0 508.8,50.4 509.0,51.7 509.2,53.0 509.0,54.3 509.7,54.3 509.6,53.0 509.8,51.7 510.0,50.4 510.3,49.0" fill="#ff7a1a" stroke="#ff7a1a" stroke-width="0.5"/>
<polygon points="508.4,49.0 508.7,51.5 509.0,53.8 509.3,56.0 509.2,58.2 509.9,58.2 509.8,56.0 510.1,53.8 510.4,51.5 510.7,49.0" fill="#ff7a1a" stroke="#ff7a1a" stroke-width="0.5"/>
<polygon points="509.4,49.0 509.6,50.6 509.7,52.2 509.9,53.7 509.7,55.3 510.4,55.3 510.2,53.7 510.3,52.2 510.5,50.6 510.6,49.0" fill="#ff7a1a" stroke="#ff7a1a" stroke-width="0.5"/>
<polygon points="510.2,49.0 510.4,51.5 510.6,55.3 510.7,59.7 510.5,64.7 511.2,64.7 511.1,59.7 511.2,55.3 511.4,51.5 511.6,49.0" fill="#ff7a1a" stroke="#ff7a1a" stroke-width="0.5"/>
<polygon points="510.0,49.0 510.2,51.6 510.5,53.8 510.8,55.8 510.7,57.7 511.4,57.7 511.3,55.8 511.5,53.8 511.8,51.6 512.1,49.0" fill="#ff7a1a" stroke="#ff7a1a" stroke-width="0.5"/>
<polygon points="510.2,49.0 510.5,53.0 510.8,56.6 511.1,60.0 511.0,63.3 511.7,63.3 511.6,60.0 511.9,56.6 512.2,53.0 512.5,49.0" fill="#ff7a1a" stroke="#ff7a1a" stroke-width="0.5"/>
<polygon points="511.3,49.0 511.4,50.6 511.6,53.1 511.8,56.1 511.6,59.5 512.3,59.5 512.2,56.1 512.3,53.1 512.5,50.6 512.7,49.0" fill="#ff7a1a" stroke="#ff7a1a" stroke-width="0.5"/>
<polygon points="511.3,49.0 511.5,51.7 511.8,55.0 512.0,58.6 511.8,62.4 512.5,62.4 512.4,58.6 512.6,55.0 512.8,51.7 513.1,49.0" fill="#ff7a1a" stroke="#ff7a1a" stroke-width="0.5"/>
<polygon points="511.9,49.0 512.0,50.4 512.2,51.6 512.4,52.8 512.2,54.0 512.9,54.0 512.7,52.8 512.9,51.6 513.1,50.4 513.3,49.0" fill="#ff7a1a" stroke="#ff7a1a" stroke-width="0.5"/>
<polygon points="512.4,49.0 512.5,49.9 512.6,51.3 512.7,53.0 512.4,54.8 513.1,54.8 512.9,53.0 513.0,51.3 513.1,49.9 513.2,49.0" fill="#ff7a1a" stroke="#ff7a1a" stroke-width="0.5"/>
<polygon points="512.5,49.0 512.6,51.6 512.8,54.9 513.0,58.6 512.8,62.5 513.5,62.5 513.3,58.6 513.5,54.9 513.7,51.6 513.9,49.0" fill="#ff7a1a" stroke="#ff7a1a" stroke-width="0.5"/>
<polygon points="512.1,49.0 512.4,50.4 512.7,52.3 512.9,54.6 512.9,57.2 513.6,57.2 513.5,54.6 513.8,52.3 514.1,50.4 514.4,49.0" fill="#ff7a1a" stroke="#ff7a1a" stroke-width="0.5"/>
<polygon points="513.2,49.0 513.3,51.4 513.4,53.5 513.5,55.5 513.3,57.4 514.0,57.4 513.8,55.5 513.9,53.5 514.0,51.4 514.1,49.0" fill="#ff7a1a" stroke="#ff7a1a" stroke-width="0.5"/>
<polygon points="512.7,49.0 513.0,50.8 513.3,52.9 513.6,55.2 513.6,57.5 514.3,57.5 514.2,55.2 514.5,52.9 514.8,50.8 515.1,49.0" fill="#ff7a1a" stroke="#ff7a1a" stroke-width="0.5"/>
<polygon points="513.4,49.0 513.6,49.9 513.7,50.7 513.9,51.5 513.7,52.3 514.4,52.3 514.2,51.5 514.4,50.7 514.5,49.9 514.7,49.0" fill="#ff7a1a" stroke="#ff7a1a" stroke-width="0.5"/>
<polygon points="513.6,49.0 513.9,50.8 514.2,52.8 514.5,54.7 514.4,56.7 515.1,56.7 515.0,54.7 515.3,52.8 515.6,50.8 515.9,49.0" fill="#ff7a1a" stroke="#ff7a1a" stroke-width="0.5"/>
<polygon points="514.7,49.0 514.9,49.4 515.0,50.1 515.2,50.7 515.0,51.5 515.7,51.5 515.5,50.7 515.6,50.1 515.8,49.4 515.9,49.0" fill="#ff7a1a" stroke="#ff7a1a" stroke-width="0.5"/>
<polygon points="514.9,49.0 515.1,49.6 515.2,50.4 515.4,51.2 515.2,52.0 515.9,52.0 515.7,51.2 515.8,50.4 516.0,49.6 516.1,49.0" fill="#ff7a1a" stroke="#ff7a1a" stroke-width="0.5"/>
<polygon points="515.4,49.0 515.5,49.9 515.6,51.1 515.6,52.5 515.4,54.1 516.1,54.1 515.8,52.5 515.9,51.1 516.0,49.9 516.1,49.0" fill="#ff7a1a" stroke="#ff7a1a" stroke-width="0.5"/>
<polygon points="515.3,49.0 515.5,50.6 515.6,52.3 515.8,53.9 515.6,55.5 516.3,55.5 516.1,53.9 516.3,52.3 516.5,50.6 516.6,49.0" fill="#ff7a1a" stroke="#ff7a1a" stroke-width="0.5"/>
<polygon points="516.4,49.0 516.5,51.1 516.7,54.4 516.8,58.2 516.6,62.6 517.3,62.6 517.1,58.2 517.3,54.4 517.4,51.1 517.5,49.0" fill="#ff7a1a" stroke="#ff7a1a" stroke-width="0.5"/>
<polygon points="516.8,49.0 517.0,51.7 517.1,53.8 517.2,55.8 517.0,57.7 517.7,57.7 517.5,55.8 517.6,53.8 517.7,51.7 517.9,49.0" fill="#ff7a1a" stroke="#ff7a1a" stroke-width="0.5"/>
<polygon points="517.0,49.0 517.2,50.2 517.4,51.6 517.6,53.0 517.4,54.5 518.1,54.5 517.9,53.0 518.1,51.6 518.2,50.2 518.4,49.0" fill="#ff7a1a" stroke="#ff7a1a" stroke-width="0.5"/>
<polygon points="517.5,49.0 517.8,50.8 518.0,52.6 518.3,54.2 518.2,55.9 518.9,55.9 518.8,54.2 519.0,52.6 519.3,50.8 519.5,49.0" fill="#ff7a1a" stroke="#ff7a1a" stroke-width="0.5"/>
<polygon points="517.8,49.0 518.1,49.7 518.4,50.5 518.7,51.3 518.6,52.0 519.3,52.0 519.2,51.3 519.5,50.5 519.8,49.7 520.1,49.0" fill="#ff7a1a" stroke="#ff7a1a" stroke-width="0.5"/>
<polygon points="518.6,49.0 518.8,51.5 519.0,53.8 519.2,56.1 519.0,58.3 519.7,58.3 519.6,56.1 519.7,53.8 519.9,51.5 520.1,49.0" fill="#ff7a1a" stroke="#ff7a1a" stroke-width="0.5"/>
<polygon points="519.3,49.0 519.4,51.4 519.5,53.4 519.6,55.3 519.4,57.0 520.1,57.0 519.9,55.3 520.0,53.4 520.1,51.4 520.2,49.0" fill="#ff7a1a" stroke="#ff7a1a" stroke-width="0.5"/>
<polygon points="519.8,49.0 520.0,51.4 520.1,53.7 520.3,55.9 520.0,58.0 520.7,58.0 520.5,55.9 520.7,53.7 520.8,51.4 520.9,49.0" fill="#ff7a1a" stroke="#ff7a1a" stroke-width="0.5"/>
<polygon points="520.2,49.0 520.3,50.8 520.4,53.3 520.5,56.2 520.2,59.4 520.9,59.4 520.7,56.2 520.8,53.3 520.9,50.8 521.0,49.0" fill="#ff7a1a" stroke="#ff7a1a" stroke-width="0.5"/>
<polygon points="519.6,49.0 519.8,52.7 520.1,55.8 520.3,58.7 520.3,61.4 521.0,61.4 520.9,58.7 521.1,55.8 521.4,52.7 521.7,49.0" fill="#ff7a1a" stroke="#ff7a1a" stroke-width="0.5"/>
<polygon points="520.8,49.0 520.9,51.5 521.0,54.6 521.2,58.1 520.9,61.8 521.6,61.8 521.4,58.1 521.5,54.6 521.6,51.5 521.7,49.0" fill="#ff7a1a" stroke="#ff7a1a" stroke-width="0.5"/>
<polygon points="521.3,49.0 521.4,50.0 521.6,50.9 521.7,51.7 521.4,52.5 522.1,52.5 521.9,51.7 522.0,50.9 522.2,50.0 522.3,49.0" fill="#ff7a1a" stroke="#ff7a1a" stroke-width="0.5"/>
<polygon points="521.2,49.0 521.5,51.2 521.8,53.3 522.1,55.4 522.0,57.4 522.7,57.4 522.7,55.4 523.0,53.3 523.3,51.2 523.6,49.0" fill="#ff7a1a" stroke="#ff7a1a" stroke-width="0.5"/>
<polygon points="521.9,49.0 522.0,50.2 522.2,51.7 522.4,53.4 522.2,55.1 522.9,55.1 522.7,53.4 522.8,51.7 523.0,50.2 523.2,49.0" fill="#ff7a1a" stroke="#ff7a1a" stroke-width="0.5"/>
<polygon points="523.3,49.0 523.4,51.4 523.5,53.7 523.6,56.0 523.4,58.2 524.1,58.2 523.8,56.0 523.9,53.7 524.0,51.4 524.1,49.0" fill="#ff7a1a" stroke="#ff7a1a" stroke-width="0.5"/>
<polygon points="523.5,49.0 523.7,51.4 524.0,53.9 524.3,56.3 524.2,58.8 524.9,58.8 524.8,56.3 525.1,53.9 525.4,51.4 525.6,49.0" fill="#ff7a1a" stroke="#ff7a1a" stroke-width="0.5"/>
<polygon points="524.0,49.0 524.1,49.5 524.3,50.1 524.5,50.6 524.4,51.1 525.1,51.1 524.9,50.6 525.1,50.1 525.3,49.5 525.5,49.0" fill="#ff7a1a" stroke="#ff7a1a" stroke-width="0.5"/>
<polygon points="524.4,49.0 524.5,51.5 524.6,53.5 524.7,55.3 524.5,57.0 525.2,57.0 524.9,55.3 525.0,53.5 525.2,51.5 525.3,49.0" fill="#ff7a1a" stroke="#ff7a1a" stroke-width="0.5"/>
<polygon points="526.2,49.0 526.5,50.9 526.8,53.0 527.1,55.3 527.1,57.7 527.8,57.7 527.7,55.3 528.0,53.0 528.3,50.9 528.6,49.0" fill="#ff7a1a" stroke="#ff7a1a" stroke-width="0.5"/>
<polygon points="526.2,49.0 526.5,49.4 526.8,49.9 527.1,50.6 527.1,51.2 527.8,51.2 527.7,50.6 528.0,49.9 528.3,49.4 528.6,49.0" fill="#ff7a1a" stroke="#ff7a1a" stroke-width="0.5"/>
<polygon points="527.2,49.0 527.3,50.0 527.4,51.3 527.6,52.9 527.3,54.6 528.0,54.6 527.8,52.9 527.9,51.3 528.0,50.0 528.2,49.0" fill="#ff7a1a" stroke="#ff7a1a" stroke-width="0.5"/>
<polygon points="527.1,49.0 527.3,51.5 527.6,54.1 527.8,56.8 527.6,59.5 528.3,59.5 528.2,56.8 528.4,54.1 528.7,51.5 528.9,49.0" fill="#ff7a1a" stroke="#ff7a1a" stroke-width="0.5"/>
<polygon points="527.6,49.0 527.8,50.4 528.0,51.7 528.3,52.9 528.2,54.1 528.9,54.1 528.8,52.9 529.0,51.7 529.2,50.4 529.5,49.0" fill="#ff7a1a" stroke="#ff7a1a" stroke-width="0.5"/>
<polygon points="528.1,49.0 528.2,50.2 528.3,51.9 528.5,53.9 528.3,56.2 529.0,56.2 528.8,53.9 528.9,51.9 529.0,50.2 529.2,49.0" fill="#ff7a1a" stroke="#ff7a1a" stroke-width="0.5"/>
<polygon points="528.5,49.0 528.7,51.1 528.9,53.6 529.1,56.2 529.0,59.1 529.7,59.1 529.5,56.2 529.8,53.6 530.0,51.1 530.2,49.0" fill="#ff7a1a" stroke="#ff7a1a" stroke-width="0.5"/>
<polygon points="529.2,49.0 529.4,49.5 529.5,50.2 529.7,51.1 529.5,52.1 530.2,52.1 530.0,51.1 530.1,50.2 530.3,49.5 530.5,49.0" fill="#ff7a1a" stroke="#ff7a1a" stroke-width="0.5"/>
<polygon points="529.2,49.0 529.4,51.3 529.6,53.4 529.7,55.5 529.6,57.4 530.3,57.4 530.1,55.5 530.2,53.4 530.4,51.3 530.6,49.0" fill="#ff7a1a" stroke="#ff7a1a" stroke-width="0.5"/>
<polygon points="529.7,49.0 529.9,50.6 530.2,51.9 530.4,53.0 530.3,54.1 531.0,54.1 530.9,53.0 531.2,51.9 531.4,50.6 531.7,49.0" fill="#ff7a1a" stroke="#ff7a1a" stroke-width="0.5"/>
<polygon points="529.9,49.0 530.2,51.0 530.5,52.8 530.7,54.5 530.7,56.2 531.4,56.2 531.3,54.5 531.6,52.8 531.9,51.0 532.2,49.0" fill="#ff7a1a" stroke="#ff7a1a" stroke-width="0.5"/>
<polygon points="532.3,49.0 532.4,51.4 532.5,53.2 532.6,54.8 532.4,56.3 533.1,56.3 532.9,54.8 533.0,53.2 533.1,51.4 533.2,49.0" fill="#ff7a1a" stroke="#ff7a1a" stroke-width="0.5"/>
<polygon points="532.5,49.0 532.7,50.7 533.0,52.5 533.2,54.4 533.1,56.3 533.8,56.3 533.7,54.4 533.9,52.5 534.2,50.7 534.4,49.0" fill="#ff7a1a" stroke="#ff7a1a" stroke-width="0.5"/>
<polygon points="532.6,49.0 532.8,50.4 533.1,51.8 533.3,53.2 533.1,54.5 533.8,54.5 533.7,53.2 533.9,51.8 534.2,50.4 534.4,49.0" fill="#ff7a1a" stroke="#ff7a1a" stroke-width="0.5"/>
<polygon points="534.6,49.0 534.7,51.1 534.7,53.1 534.8,55.0 534.5,57.0 535.2,57.0 535.0,55.0 535.0,53.1 535.1,51.1 535.2,49.0" fill="#ff7a1a" stroke="#ff7a1a" stroke-width="0.5"/>
<polygon points="534.1,49.0 534.4,51.2 534.6,53.1 534.9,55.0 534.8,56.7 535.5,56.7 535.4,55.0 535.7,53.1 535.9,51.2 536.2,49.0" fill="#ff7a1a" stroke="#ff7a1a" stroke-width="0.5"/>
<polygon points="534.7,49.0 534.8,50.3 535.0,52.0 535.2,53.9 535.0,56.0 535.7,56.0 535.5,53.9 535.7,52.0 535.8,50.3 536.0,49.0" fill="#ff7a1a" stroke="#ff7a1a" stroke-width="0.5"/>
<polygon points="535.1,49.0 535.2,51.4 535.3,53.6 535.4,55.8 535.1,58.0 535.8,58.0 535.6,55.8 535.7,53.6 535.8,51.4 535.8,49.0" fill="#ff7a1a" stroke="#ff7a1a" stroke-width="0.5"/>
<polygon points="535.0,49.0 535.2,49.8 535.5,51.0 535.8,52.3 535.7,53.8 536.4,53.8 536.3,52.3 536.6,51.0 536.9,49.8 537.2,49.0" fill="#ff7a1a" stroke="#ff7a1a" stroke-width="0.5"/>
<polygon points="535.9,49.0 536.0,50.1 536.2,51.2 536.4,52.2 536.2,53.3 536.9,53.3 536.7,52.2 536.9,51.2 537.1,50.1 537.2,49.0" fill="#ff7a1a" stroke="#ff7a1a" stroke-width="0.5"/>
<polygon points="536.1,49.0 536.2,49.2 536.3,49.6 536.5,49.9 536.3,50.3 537.0,50.3 536.7,49.9 536.9,49.6 537.0,49.2 537.1,49.0" fill="#ff7a1a" stroke="#ff7a1a" stroke-width="0.5"/>
<polygon points="537.1,49.0 537.2,50.1 537.4,51.1 537.5,52.1 537.3,53.0 538.0,53.0 537.8,52.1 537.9,51.1 538.1,50.1 538.2,49.0" fill="#ff7a1a" stroke="#ff7a1a" stroke-width="0.5"/>
<polygon points="536.8,49.0 537.0,49.4 537.3,50.0 537.5,50.7 537.3,51.5 538.0,51.5 537.9,50.7 538.1,50.0 538.3,49.4 538.5,49.0" fill="#ff7a1a" stroke="#ff7a1a" stroke-width="0.5"/>
<polygon points="537.4,49.0 537.6,50.2 537.8,51.2 538.0,52.2 537.8,53.1 538.5,53.1 538.4,52.2 538.6,51.2 538.8,50.2 539.0,49.0" fill="#ff7a1a" stroke="#ff7a1a" stroke-width="0.5"/>
<polygon points="537.6,49.0 537.8,49.3 538.0,49.8 538.2,50.2 538.1,50.7 538.8,50.7 538.6,50.2 538.8,49.8 539.0,49.3 539.2,49.0" fill="#ff7a1a" stroke="#ff7a1a" stroke-width="0.5"/>
<polygon points="538.0,49.0 538.1,51.0 538.2,53.2 538.3,55.6 538.1,58.1 538.8,58.1 538.5,55.6 538.7,53.2 538.8,51.0 538.9,49.0" fill="#ff7a1a" stroke="#ff7a1a" stroke-width="0.5"/>
<polygon points="31.3,49.0 31.5,50.5 31.6,53.1 31.8,56.3 31.6,60.0 32.4,60.0 32.2,56.3 32.4,53.1 32.5,50.5 32.7,49.0" fill="#ff7a1a" stroke="#ff7a1a" stroke-width="0.5"/>
<polygon points="31.9,49.0 32.2,49.8 32.5,51.7 32.7,54.5 32.6,58.0 33.4,58.0 33.3,54.5 33.5,51.7 33.8,49.8 34.1,49.0" fill="#ff7a1a" stroke="#ff7a1a" stroke-width="0.5"/>
<polygon points="53.8,49.0 54.1,49.7 54.4,51.4 54.7,53.9 54.6,57.0 55.4,57.0 55.3,53.9 55.6,51.4 55.9,49.7 56.2,49.0" fill="#ff7a1a" stroke="#ff7a1a" stroke-width="0.5"/>
<polygon points="56.2,49.0 56.4,50.2 56.6,52.0 56.8,53.9 56.6,56.0 57.4,56.0 57.2,53.9 57.4,52.0 57.6,50.2 57.8,49.0" fill="#ff7a1a" stroke="#ff7a1a" stroke-width="0.5"/>
<polygon points="66.7,49.0 67.0,50.3 67.3,52.2 67.7,54.5 67.7,57.0 68.3,57.0 68.3,54.5 68.7,52.2 69.0,50.3 69.3,49.0" fill="#ff7a1a" stroke="#ff7a1a" stroke-width="0.5"/>
<polygon points="70.0,49.0 70.3,49.5 70.5,50.9 70.8,53.1 70.7,56.0 71.3,56.0 71.2,53.1 71.5,50.9 71.7,49.5 72.0,49.0" fill="#ff7a1a" stroke="#ff7a1a" stroke-width="0.5"/>
<polygon points="84.3,49.0 84.5,49.5 84.6,50.9 84.8,53.1 84.7,56.0 85.3,56.0 85.2,53.1 85.4,50.9 85.5,49.5 85.7,49.0" fill="#ff7a1a" stroke="#ff7a1a" stroke-width="0.5"/>
<polygon points="142.8,49.0 143.1,50.4 143.4,52.9 143.7,56.1 143.7,60.0 144.3,60.0 144.3,56.1 144.6,52.9 144.9,50.4 145.2,49.0" fill="#ff7a1a" stroke="#ff7a1a" stroke-width="0.5"/>
<polygon points="146.1,49.0 146.3,50.8 146.6,54.5 146.8,59.7 146.7,66.0 147.3,66.0 147.2,59.7 147.4,54.5 147.7,50.8 147.9,49.0" fill="#ff7a1a" stroke="#ff7a1a" stroke-width="0.5"/>
<polygon points="148.7,49.0 149.0,51.0 149.4,54.1 149.7,57.8 149.7,62.0 150.3,62.0 150.3,57.8 150.6,54.1 151.0,51.0 151.3,49.0" fill="#ff7a1a" stroke="#ff7a1a" stroke-width="0.5"/>
<polygon points="151.1,49.0 151.3,51.0 151.6,54.9 151.8,60.4 151.7,67.0 152.3,67.0 152.2,60.4 152.4,54.9 152.7,51.0 152.9,49.0" fill="#ff7a1a" stroke="#ff7a1a" stroke-width="0.5"/>
<polygon points="154.7,49.0 155.0,50.7 155.4,53.8 155.7,58.0 155.7,63.0 156.3,63.0 156.3,58.0 156.6,53.8 157.0,50.7 157.3,49.0" fill="#ff7a1a" stroke="#ff7a1a" stroke-width="0.5"/>
<polygon points="157.0,49.0 157.3,50.2 157.5,53.8 157.8,59.8 157.7,68.0 158.3,68.0 158.2,59.8 158.5,53.8 158.7,50.2 159.0,49.0" fill="#ff7a1a" stroke="#ff7a1a" stroke-width="0.5"/>
<polygon points="158.9,49.0 159.2,50.0 159.5,52.4 159.7,56.1 159.7,61.0 160.3,61.0 160.3,56.1 160.5,52.4 160.8,50.0 161.1,49.0" fill="#ff7a1a" stroke="#ff7a1a" stroke-width="0.5"/>
<polygon points="162.8,49.0 163.1,50.8 163.4,54.5 163.7,59.6 163.7,66.0 164.3,66.0 164.3,59.6 164.6,54.5 164.9,50.8 165.2,49.0" fill="#ff7a1a" stroke="#ff7a1a" stroke-width="0.5"/>
<polygon points="167.0,49.0 167.2,50.6 167.5,54.1 167.7,59.4 167.7,66.0 168.3,66.0 168.3,59.4 168.5,54.1 168.8,50.6 169.0,49.0" fill="#ff7a1a" stroke="#ff7a1a" stroke-width="0.5"/>
<polygon points="168.7,49.0 169.0,51.4 169.4,55.0 169.7,59.3 169.7,64.0 170.3,64.0 170.3,59.3 170.6,55.0 171.0,51.4 171.3,49.0" fill="#ff7a1a" stroke="#ff7a1a" stroke-width="0.5"/>
<polygon points="171.1,49.0 171.3,51.4 171.6,55.2 171.8,59.8 171.7,65.0 172.3,65.0 172.2,59.8 172.4,55.2 172.7,51.4 172.9,49.0" fill="#ff7a1a" stroke="#ff7a1a" stroke-width="0.5"/>
<polygon points="173.7,49.0 174.0,51.4 174.4,55.5 174.7,60.8 174.7,67.0 175.3,67.0 175.3,60.8 175.6,55.5 176.0,51.4 176.3,49.0" fill="#ff7a1a" stroke="#ff7a1a" stroke-width="0.5"/>
<polygon points="207.0,49.0 207.2,49.9 207.5,51.6 207.7,54.0 207.7,57.0 208.3,57.0 208.3,54.0 208.5,51.6 208.8,49.9 209.0,49.0" fill="#ff7a1a" stroke="#ff7a1a" stroke-width="0.5"/>
<polygon points="228.6,49.0 229.0,49.8 229.3,50.7 229.7,51.8 229.7,53.0 230.3,53.0 230.3,51.8 230.7,50.7 231.0,49.8 231.4,49.0" fill="#ff7a1a" stroke="#ff7a1a" stroke-width="0.5"/>
<polygon points="235.2,49.0 235.4,49.4 235.6,50.6 235.8,52.5 235.7,55.0 236.3,55.0 236.2,52.5 236.4,50.6 236.6,49.4 236.8,49.0" fill="#ff7a1a" stroke="#ff7a1a" stroke-width="0.5"/>
<polygon points="267.4,49.0 267.6,50.1 267.9,52.2 268.1,54.9 268.0,58.0 268.8,58.0 268.7,54.9 268.9,52.2 269.2,50.1 269.4,49.0" fill="#ff7a1a" stroke="#ff7a1a" stroke-width="0.5"/>
<polygon points="337.1,49.0 337.5,50.3 337.8,52.3 338.2,54.5 338.1,57.0 338.9,57.0 338.8,54.5 339.2,52.3 339.5,50.3 339.9,49.0" fill="#ff7a1a" stroke="#ff7a1a" stroke-width="0.5"/>
<polygon points="365.3,49.0 365.5,49.5 365.6,50.8 365.8,52.9 365.6,55.8 366.4,55.8 366.2,52.9 366.4,50.8 366.5,49.5 366.7,49.0" fill="#ff7a1a" stroke="#ff7a1a" stroke-width="0.5"/>
<polygon points="491.7,49.0 492.0,51.0 492.4,55.3 492.7,61.2 492.6,68.5 493.4,68.5 493.3,61.2 493.6,55.3 494.0,51.0 494.3,49.0" fill="#ff7a1a" stroke="#ff7a1a" stroke-width="0.5"/>
<polygon points="505.1,49.0 505.3,51.1 505.6,56.4 505.8,64.4 505.6,75.0 506.4,75.0 506.2,64.4 506.4,56.4 506.7,51.1 506.9,49.0" fill="#ff7a1a" stroke="#ff7a1a" stroke-width="0.5"/>
<polygon points="519.2,49.0 519.4,51.2 519.6,55.5 519.8,61.2 519.6,68.0 520.4,68.0 520.2,61.2 520.4,55.5 520.6,51.2 520.8,49.0" fill="#ff7a1a" stroke="#ff7a1a" stroke-width="0.5"/>
<polygon points="521.2,49.0 521.4,50.9 521.6,54.6 521.8,59.3 521.6,65.0 522.4,65.0 522.2,59.3 522.4,54.6 522.6,50.9 522.8,49.0" fill="#ff7a1a" stroke="#ff7a1a" stroke-width="0.5"/>
<polyline points="523.5,49 524.5,46.8 527,46.5 530,46.9 533,46.4 534.5,48.5" fill="none" stroke="#4a6fd6" stroke-width="1.1"/>
<line x1="348.4" y1="49.2" x2="348.4" y2="45.3" stroke="#d9a070" stroke-width="0.7"/>
<rect x="140" y="43.6" width="7.8" height="97.5" fill="none" stroke="#e8262e" stroke-width="1.4"/>
<rect x="250.2" y="43.4" width="22.5" height="97.7" fill="none" stroke="#e8262e" stroke-width="1.4"/>
<rect x="497" y="43.4" width="7.7" height="97.3" fill="none" stroke="#e8262e" stroke-width="1.4"/>
<line x1="79.5" y1="124.5" x2="95.5" y2="124.5" stroke="#a08fd4" stroke-width="1.5"/>
<line x1="79.5" y1="134.1" x2="95.5" y2="134.1" stroke="#fca574" stroke-width="1.5"/>
<text x="97.4" y="127.3" font-size="7.3" class="lg">Nasal Signal</text>
<text x="97.4" y="136.9" font-size="7.3" class="lg">Oral Signal</text>
<text x="121.3" y="26.2" font-size="9" text-anchor="middle">III</text>
<text x="220" y="26.2" font-size="9" text-anchor="middle">I</text>
<text x="235" y="26.2" font-size="9" text-anchor="middle">III</text>
<text x="254" y="26.2" font-size="9" text-anchor="middle">I</text>
<text x="283" y="26.2" font-size="9" text-anchor="middle">III</text>
<text x="375" y="26.2" font-size="9" text-anchor="middle">I</text>
<text x="495" y="26.2" font-size="9" text-anchor="middle">III</text>
<text x="261.5" y="38.5" font-size="8.2" text-anchor="middle">Breathing Event</text>
<text x="144.1" y="39.9" font-size="8.4" text-anchor="middle" class="cj cja">⑤</text>
<text x="500.5" y="39.9" font-size="8.4" text-anchor="middle" class="cj cja">⑥</text>
<line x1="30.5" y1="16.0" x2="211.5" y2="16.0" stroke="#5a2d34" stroke-width="1.6"/>
<line x1="30.5" y1="144.5" x2="211.5" y2="144.5" stroke="#5a2d34" stroke-width="1.6"/>
<line x1="211.5" y1="16.0" x2="228.8" y2="16.0" stroke="#48565c" stroke-width="1.6"/>
<line x1="211.5" y1="144.5" x2="228.8" y2="144.5" stroke="#48565c" stroke-width="1.6"/>
<line x1="228.8" y1="16.0" x2="241.2" y2="16.0" stroke="#5a2d34" stroke-width="1.6"/>
<line x1="228.8" y1="144.5" x2="241.2" y2="144.5" stroke="#5a2d34" stroke-width="1.6"/>
<line x1="241.2" y1="16.0" x2="267.6" y2="16.0" stroke="#48565c" stroke-width="1.6"/>
<line x1="241.2" y1="144.5" x2="267.6" y2="144.5" stroke="#48565c" stroke-width="1.6"/>
<line x1="267.6" y1="16.0" x2="299.3" y2="16.0" stroke="#5a2d34" stroke-width="1.6"/>
<line x1="267.6" y1="144.5" x2="299.3" y2="144.5" stroke="#5a2d34" stroke-width="1.6"/>
<line x1="299.3" y1="16.0" x2="450.6" y2="16.0" stroke="#48565c" stroke-width="1.6"/>
<line x1="299.3" y1="144.5" x2="450.6" y2="144.5" stroke="#48565c" stroke-width="1.6"/>
<line x1="450.6" y1="16.0" x2="539.5" y2="16.0" stroke="#5a2d34" stroke-width="1.6"/>
<line x1="450.6" y1="144.5" x2="539.5" y2="144.5" stroke="#5a2d34" stroke-width="1.6"/>
<line x1="30.5" y1="15.2" x2="30.5" y2="145.3" stroke="#4a2a30" stroke-width="1.6"/>
<line x1="539.5" y1="15.2" x2="539.5" y2="145.3" stroke="#5a2d34" stroke-width="1.6"/>
<line x1="30.5" y1="144.5" x2="30.5" y2="142.0" stroke="#222" stroke-width="0.8"/>
<line x1="87.1" y1="144.5" x2="87.1" y2="142.0" stroke="#222" stroke-width="0.8"/>
<line x1="143.6" y1="144.5" x2="143.6" y2="142.0" stroke="#222" stroke-width="0.8"/>
<line x1="200.2" y1="144.5" x2="200.2" y2="142.0" stroke="#222" stroke-width="0.8"/>
<line x1="256.7" y1="144.5" x2="256.7" y2="142.0" stroke="#222" stroke-width="0.8"/>
<line x1="313.3" y1="144.5" x2="313.3" y2="142.0" stroke="#222" stroke-width="0.8"/>
<line x1="369.8" y1="144.5" x2="369.8" y2="142.0" stroke="#222" stroke-width="0.8"/>
<line x1="426.4" y1="144.5" x2="426.4" y2="142.0" stroke="#222" stroke-width="0.8"/>
<line x1="482.9" y1="144.5" x2="482.9" y2="142.0" stroke="#222" stroke-width="0.8"/>
<line x1="539.5" y1="144.5" x2="539.5" y2="142.0" stroke="#222" stroke-width="0.8"/>
<line x1="58.8" y1="144.5" x2="58.8" y2="143.0" stroke="#222" stroke-width="0.8"/>
<line x1="115.3" y1="144.5" x2="115.3" y2="143.0" stroke="#222" stroke-width="0.8"/>
<line x1="171.9" y1="144.5" x2="171.9" y2="143.0" stroke="#222" stroke-width="0.8"/>
<line x1="228.4" y1="144.5" x2="228.4" y2="143.0" stroke="#222" stroke-width="0.8"/>
<line x1="285.0" y1="144.5" x2="285.0" y2="143.0" stroke="#222" stroke-width="0.8"/>
<line x1="341.6" y1="144.5" x2="341.6" y2="143.0" stroke="#222" stroke-width="0.8"/>
<line x1="398.1" y1="144.5" x2="398.1" y2="143.0" stroke="#222" stroke-width="0.8"/>
<line x1="454.7" y1="144.5" x2="454.7" y2="143.0" stroke="#222" stroke-width="0.8"/>
<line x1="511.2" y1="144.5" x2="511.2" y2="143.0" stroke="#222" stroke-width="0.8"/>
<line x1="30.5" y1="141.1" x2="33.0" y2="141.1" stroke="#222" stroke-width="0.8"/>
<line x1="30.5" y1="104.2" x2="33.0" y2="104.2" stroke="#222" stroke-width="0.8"/>
<line x1="30.5" y1="67.3" x2="33.0" y2="67.3" stroke="#222" stroke-width="0.8"/>
<line x1="30.5" y1="30.4" x2="33.0" y2="30.4" stroke="#222" stroke-width="0.8"/>
<line x1="30.5" y1="122.6" x2="32.0" y2="122.6" stroke="#222" stroke-width="0.8"/>
<line x1="30.5" y1="85.8" x2="32.0" y2="85.8" stroke="#222" stroke-width="0.8"/>
<line x1="30.5" y1="48.8" x2="32.0" y2="48.8" stroke="#222" stroke-width="0.8"/>
<text x="30.5" y="154.2" font-size="7.6" text-anchor="middle">0</text>
<text x="87.1" y="154.2" font-size="7.6" text-anchor="middle">15</text>
<text x="143.6" y="154.2" font-size="7.6" text-anchor="middle">30</text>
<text x="200.2" y="154.2" font-size="7.6" text-anchor="middle">45</text>
<text x="256.7" y="154.2" font-size="7.6" text-anchor="middle">60</text>
<text x="313.3" y="154.2" font-size="7.6" text-anchor="middle">75</text>
<text x="369.8" y="154.2" font-size="7.6" text-anchor="middle">90</text>
<text x="426.4" y="154.2" font-size="7.6" text-anchor="middle">105</text>
<text x="482.9" y="154.2" font-size="7.6" text-anchor="middle">120</text>
<text x="539.5" y="154.2" font-size="7.6" text-anchor="middle">135</text>
<text x="27.6" y="143.8" font-size="7.6" text-anchor="end">0</text>
<text x="27.6" y="106.9" font-size="7.6" text-anchor="end">1</text>
<text x="27.6" y="70.0" font-size="7.6" text-anchor="end">2</text>
<text x="27.6" y="33.1" font-size="7.6" text-anchor="end">3</text>
<text x="286.3" y="162.3" font-size="8.4" text-anchor="middle">Time(min)</text>
<text transform="translate(18.9,82.5) rotate(-90)" font-size="9.2" text-anchor="middle">Output Voltage(V)</text>
<text x="10" y="10.8" font-size="9">(a)</text>
<polyline points="31.0,225.3 31.4,225.4 32.0,225.4 32.8,225.5 33.5,225.7 34.3,226.0 35.0,226.5 35.7,227.4 36.4,228.7 37.1,230.1 37.7,231.4 38.4,232.5 39.0,233.0 39.5,232.9 40.0,232.4 40.5,231.6 41.0,230.6 41.5,229.7 42.0,229.0 42.6,228.5 43.2,228.0 43.9,227.6 44.6,227.2 45.3,226.8 46.0,226.5 46.8,226.2 47.7,225.8 48.6,225.5 49.4,225.2 50.3,225.1 51.0,225.2 51.6,225.5 52.2,226.0 52.6,226.7 53.1,227.4 53.5,228.2 54.0,229.0 54.5,230.0 55.0,231.2 55.5,232.4 55.9,233.6 56.4,234.4 56.8,234.8 57.2,234.6 57.5,233.9 57.8,233.0 58.2,231.9 58.5,230.9 59.0,230.0 59.6,229.3 60.2,228.6 60.9,227.9 61.6,227.3 62.3,226.7 63.0,226.2 63.7,225.7 64.4,225.1 65.1,224.6 65.8,224.2 66.4,224.1 67.0,224.2 67.5,224.7 67.8,225.4 68.1,226.3 68.4,227.4 68.7,228.7 69.0,230.0 69.3,231.7 69.6,233.8 69.9,236.1 70.3,238.2 70.6,239.9 70.9,240.7 71.2,240.6 71.6,239.8 71.9,238.6 72.2,237.0 72.6,235.4 73.0,234.0 73.4,232.6 73.9,230.9 74.4,229.2 75.0,227.5 75.5,226.2 76.0,225.3 76.5,224.9 77.0,225.0 77.6,225.3 78.1,225.7 78.6,226.2 79.0,226.5 79.4,226.7 79.7,226.9 80.0,227.2 80.3,227.4 80.6,227.5 81.0,227.5 81.4,227.4 81.9,227.1 82.4,226.8 82.9,226.5 83.4,226.2 84.0,226.0 84.6,225.9 85.1,225.8 85.8,225.7 86.4,225.6 87.1,225.6 88.0,225.5 89.0,225.4 90.1,225.3 91.2,225.2 92.5,225.0 93.7,224.9 95.0,224.8 96.3,224.7 97.6,224.6 99.0,224.5 100.4,224.3 101.7,224.2 103.0,224.1 104.3,224.0 105.6,223.8 106.9,223.7 108.1,223.5 109.2,223.4 110.0,223.4 110.5,223.3 110.8,223.1 111.0,222.9 111.1,222.9 111.1,223.2 111.3,224.0 111.5,225.3 111.8,227.0 112.0,229.0 112.3,231.3 112.5,233.6 112.8,236.0 113.1,238.5 113.3,241.4 113.5,244.3 113.8,247.2 114.1,249.8 114.4,252.0 114.8,253.8 115.2,255.5 115.6,256.8 116.0,257.9 116.5,258.6 116.9,258.8 117.3,258.6 117.8,257.9 118.3,256.8 118.8,255.5 119.2,253.8 119.6,252.0 120.0,249.8 120.3,247.1 120.6,244.1 120.8,241.1 121.1,238.3 121.4,236.0 121.7,234.1 121.9,232.5 122.1,231.2 122.4,230.0 122.7,228.9 123.0,228.0 123.4,227.2 123.9,226.6 124.3,226.1 124.9,225.8 125.4,225.5 126.0,225.3 126.6,225.2 127.3,225.2 128.0,225.3 128.7,225.4 129.4,225.6 130.0,225.8 130.6,226.1 131.1,226.4 131.6,226.8 132.0,227.1 132.5,227.4 133.0,227.5 133.5,227.4 134.0,227.1 134.6,226.7 135.1,226.4 135.6,226.1 136.0,226.0 136.4,226.1 136.7,226.4 137.1,226.8 137.4,227.2 137.7,227.6 138.0,228.0 138.3,228.4 138.7,228.9 139.0,229.4 139.3,229.9 139.6,230.2 139.9,230.4 140.2,230.3 140.5,230.1 140.7,229.7 141.0,229.2 141.2,228.8 141.5,228.5 141.8,228.3 142.1,228.1 142.3,227.9 142.6,227.7 142.8,227.6 143.0,227.5" fill="none" stroke="#eeaa70" stroke-width="1.1" stroke-linejoin="round"/>
<polyline points="31.0,225.8 32.5,225.8 34.5,225.9 36.9,225.9 39.5,226.0 42.3,226.0 45.0,226.0 47.9,226.0 51.2,226.0 54.6,226.0 57.9,225.9 60.8,225.8 63.0,225.5 64.5,225.0 65.4,224.4 65.9,223.6 66.2,222.9 66.5,222.3 67.0,221.8 67.7,221.5 68.3,221.4 68.9,221.3 69.6,221.3 70.3,221.4 71.0,221.6 71.8,221.8 72.7,222.1 73.6,222.4 74.4,222.8 75.3,223.4 76.0,224.0 76.6,224.7 77.1,225.4 77.6,226.2 78.0,227.1 78.5,228.4 79.0,230.0 79.6,232.4 80.2,235.5 80.8,238.9 81.4,242.1 81.9,244.5 82.4,245.8 82.8,245.6 83.1,244.3 83.3,242.2 83.5,239.9 83.8,237.7 84.0,236.0 84.2,234.7 84.5,233.5 84.7,232.4 84.9,231.4 85.2,230.8 85.5,230.4 85.9,230.3 86.2,230.3 86.7,230.5 87.1,231.2 87.5,232.3 88.0,234.0 88.5,236.6 89.0,240.1 89.5,244.0 90.0,248.0 90.5,251.8 91.0,255.0 91.4,257.8 91.9,260.6 92.3,263.2 92.6,265.2 93.0,266.5 93.4,266.7 93.8,265.5 94.1,263.2 94.5,260.1 94.8,256.5 95.1,253.1 95.5,250.0 95.9,247.0 96.2,243.7 96.6,240.4 97.0,237.5 97.3,235.4 97.7,234.3 98.1,234.4 98.5,235.5 98.8,237.2 99.2,239.5 99.6,242.2 100.0,245.0 100.4,248.3 100.8,252.3 101.2,256.6 101.7,260.9 102.1,264.8 102.5,268.0 102.9,270.6 103.3,273.1 103.7,275.1 104.1,276.6 104.5,277.3 104.9,277.0 105.3,275.5 105.6,273.0 106.0,269.7 106.3,265.9 106.7,261.9 107.0,258.0 107.3,253.9 107.7,249.3 108.0,244.5 108.4,239.8 108.7,235.5 109.0,232.0 109.3,229.2 109.6,226.9 109.9,225.0 110.2,223.5 110.5,222.3 110.8,221.5 111.1,221.2 111.4,221.5 111.7,222.2 111.9,223.0 112.2,223.7 112.5,224.0 112.8,223.8 113.1,223.4 113.4,222.8 113.7,222.2 114.0,221.9 114.3,221.8 114.6,222.2 114.9,223.0 115.2,223.9 115.5,224.8 115.7,225.6 116.0,226.0 116.3,226.0 116.5,225.6 116.8,225.1 117.0,224.5 117.3,224.1 117.5,224.0 117.7,224.3 118.0,224.8 118.2,225.4 118.5,226.1 118.7,226.7 119.0,227.0 119.3,227.1 119.6,227.0 120.0,226.8 120.3,226.5 120.7,226.2 121.0,226.0 121.3,225.8 121.6,225.6 121.9,225.4 122.3,225.2 122.6,225.1 123.0,225.0 123.5,225.0 124.0,225.0 124.5,225.1 125.0,225.2 125.5,225.4 126.0,225.5 126.4,225.7 126.7,225.9 127.0,226.1 127.3,226.3 127.6,226.4 128.0,226.5 128.4,226.4 128.9,226.3 129.4,226.0 130.0,225.8 130.5,225.6 131.0,225.5 131.5,225.5 132.0,225.5 132.5,225.6 133.0,225.7 133.5,225.9 134.0,226.0 134.5,226.1 135.0,226.3 135.5,226.5 136.0,226.7 136.5,226.9 137.0,227.0 137.5,227.1 138.0,227.2 138.5,227.3 139.0,227.3 139.5,227.4 140.0,227.5 140.5,227.6 141.0,227.8 141.5,228.0 141.9,228.2 142.3,228.3 142.6,228.4" fill="none" stroke="#3a9fd0" stroke-width="1.1" stroke-linejoin="round"/>
<rect x="31" y="182.2" width="112.0" height="104.2" fill="none" stroke="#2a2a2a" stroke-width="1.35"/>
<line x1="53.0" y1="286.4" x2="53.0" y2="283.9" stroke="#222" stroke-width="0.8"/>
<line x1="98.0" y1="286.4" x2="98.0" y2="283.9" stroke="#222" stroke-width="0.8"/>
<line x1="143.0" y1="286.4" x2="143.0" y2="283.9" stroke="#222" stroke-width="0.8"/>
<line x1="75.5" y1="286.4" x2="75.5" y2="284.9" stroke="#222" stroke-width="0.8"/>
<line x1="120.5" y1="286.4" x2="120.5" y2="284.9" stroke="#222" stroke-width="0.8"/>
<line x1="31" y1="182.5" x2="33.5" y2="182.5" stroke="#222" stroke-width="0.8"/>
<line x1="31" y1="222.8" x2="33.5" y2="222.8" stroke="#222" stroke-width="0.8"/>
<line x1="31" y1="263.1" x2="33.5" y2="263.1" stroke="#222" stroke-width="0.8"/>
<line x1="31" y1="202.7" x2="32.5" y2="202.7" stroke="#222" stroke-width="0.8"/>
<line x1="31" y1="242.9" x2="32.5" y2="242.9" stroke="#222" stroke-width="0.8"/>
<line x1="31" y1="283.2" x2="32.5" y2="283.2" stroke="#222" stroke-width="0.8"/>
<text x="53.0" y="296.4" font-size="7.6" text-anchor="middle">32.8</text>
<text x="98.0" y="296.4" font-size="7.6" text-anchor="middle">33.0</text>
<text x="143.0" y="296.4" font-size="7.6" text-anchor="middle">33.2</text>
<text x="28.2" y="185.2" font-size="7.6" text-anchor="end">3.0</text>
<text x="28.2" y="225.5" font-size="7.6" text-anchor="end">2.5</text>
<text x="28.2" y="265.8" font-size="7.6" text-anchor="end">2.0</text>
<text x="87.3" y="305.8" font-size="8.4" text-anchor="middle">Time(min)</text>
<text transform="translate(14,234.5) rotate(-90)" font-size="9.2" text-anchor="middle">Output Voltage(V)</text>
<text x="9.4" y="174.7" font-size="9">(b)</text>
<text x="88.9" y="177.7" font-size="8" text-anchor="middle" class="cj">⑤</text>
<polyline points="173.0,211.0 173.3,210.5 173.8,209.7 174.4,208.9 175.0,208.0 175.7,207.3 176.3,206.9 177.0,206.8 177.7,207.0 178.4,207.4 179.1,207.8 179.9,208.2 180.6,208.5 181.3,208.8 182.0,209.1 182.7,209.5 183.4,209.8 184.1,209.9 184.9,209.8 185.8,209.4 186.7,208.6 187.7,207.7 188.7,206.8 189.7,206.2 190.7,206.0 191.7,206.4 192.7,207.3 193.7,208.5 194.6,209.7 195.5,210.6 196.4,211.0 197.2,210.8 197.9,210.3 198.6,209.5 199.2,208.6 199.9,207.7 200.5,207.0 201.1,206.3 201.8,205.6 202.4,204.8 203.0,204.2 203.6,203.9 204.2,204.0 204.8,204.7 205.4,205.9 206.0,207.5 206.6,209.0 207.3,210.3 207.9,211.0 208.5,211.2 209.2,210.9 209.8,210.5 210.5,209.8 211.2,209.1 212.0,208.5 212.9,207.8 213.9,206.8 215.0,205.8 216.1,204.9 217.1,204.3 218.0,204.0 218.8,204.3 219.6,205.0 220.3,205.9 220.9,206.9 221.6,207.8 222.3,208.5 223.0,209.0 223.7,209.4 224.4,209.7 225.1,209.9 225.8,209.9 226.6,209.8 227.5,209.4 228.4,208.6 229.4,207.7 230.5,206.8 231.4,206.2 232.3,206.0 233.1,206.3 233.9,207.1 234.6,208.1 235.2,209.2 235.9,210.0 236.6,210.4 237.3,210.4 237.9,210.0 238.6,209.5 239.2,208.8 239.8,208.1 240.5,207.5 241.2,206.7 241.9,205.7 242.5,204.7 243.2,203.8 244.0,203.2 244.7,203.2 245.5,203.9 246.3,205.3 247.1,206.9 247.9,208.6 248.7,210.1 249.5,210.9 250.3,211.1 251.0,210.9 251.7,210.3 252.5,209.7 253.2,209.0 254.0,208.5 254.8,208.0 255.6,207.5 256.5,207.0 257.4,206.5 258.2,206.2 259.0,206.0 259.8,206.1 260.5,206.4 261.3,206.9 262.0,207.4 262.7,207.8 263.5,208.0 264.3,207.9 265.1,207.6 265.9,207.3 266.7,206.9 267.4,206.8 268.2,207.0 268.9,207.7 269.7,208.8 270.4,210.1 271.1,211.3 271.8,212.3 272.5,212.7 273.2,212.5 273.9,211.8 274.5,210.9 275.2,209.8 275.8,208.8 276.5,208.0 277.1,207.3 277.8,206.7 278.4,206.0 279.0,205.5 279.6,205.2 280.3,205.2 281.0,205.6 281.9,206.4 282.7,207.3 283.5,208.3 284.1,209.2 284.6,209.8" fill="none" stroke="#eeaa70" stroke-width="1.1" stroke-linejoin="round"/>
<polyline points="173.0,221.0 173.2,220.7 173.5,220.2 173.8,219.7 174.1,219.1 174.5,218.8 174.9,218.6 175.3,218.6 175.8,218.7 176.2,219.0 176.7,219.4 177.2,220.0 177.7,220.9 178.2,222.1 178.7,223.7 179.2,225.5 179.7,227.4 180.2,229.3 180.6,230.9 181.0,232.4 181.3,233.9 181.6,235.3 181.9,236.6 182.2,237.9 182.5,239.0 182.9,240.1 183.2,241.3 183.6,242.3 184.0,243.2 184.5,243.7 184.9,243.9 185.4,243.6 185.8,242.8 186.3,241.8 186.8,240.6 187.3,239.3 187.8,238.1 188.3,236.8 188.8,235.2 189.3,233.6 189.8,232.1 190.3,230.8 190.7,230.0 191.1,229.5 191.4,229.3 191.6,229.4 191.9,229.7 192.2,230.2 192.5,231.0 192.9,232.4 193.3,234.4 193.7,236.6 194.2,238.7 194.6,240.3 195.0,241.0 195.4,240.5 195.8,239.1 196.2,237.1 196.5,235.1 196.9,233.3 197.3,232.4 197.7,232.4 198.0,233.0 198.4,233.9 198.7,234.9 199.1,235.7 199.5,236.0 199.9,235.6 200.4,234.7 200.8,233.6 201.3,232.6 201.8,231.9 202.2,231.8 202.6,232.4 203.0,233.4 203.4,234.7 203.7,236.3 204.1,238.1 204.5,240.0 204.9,242.1 205.3,244.6 205.7,247.2 206.2,249.9 206.6,252.6 207.0,255.3 207.4,258.2 207.8,261.5 208.2,264.8 208.6,267.8 209.0,270.1 209.4,271.2 209.9,271.0 210.4,269.6 210.9,267.5 211.3,265.0 211.8,262.7 212.2,261.0 212.5,259.7 212.8,258.5 213.0,257.4 213.3,256.5 213.5,255.8 213.7,255.3 213.9,255.3 214.1,255.6 214.3,256.2 214.5,256.8 214.8,257.1 215.1,256.8 215.5,255.9 216.0,254.4 216.5,252.7 217.0,250.9 217.5,249.3 218.0,248.2 218.4,247.4 218.8,246.7 219.2,246.2 219.6,246.0 219.9,246.1 220.3,246.7 220.6,247.8 221.0,249.3 221.3,251.2 221.6,253.3 222.0,255.6 222.3,258.0 222.7,260.8 223.0,264.0 223.4,267.5 223.8,270.7 224.2,273.5 224.6,275.5 225.0,276.8 225.5,277.6 225.9,278.0 226.4,277.9 226.8,277.0 227.2,275.5 227.5,273.2 227.8,270.2 228.1,266.5 228.3,262.3 228.6,257.6 228.9,252.5 229.2,246.1 229.5,238.2 229.9,229.8 230.2,222.0 230.5,215.8 230.9,212.2 231.3,211.7 231.6,213.5 232.0,216.9 232.4,221.2 232.8,225.6 233.2,229.5 233.6,233.1 234.1,237.2 234.6,241.4 235.0,245.5 235.5,249.3 236.0,252.4 236.5,255.3 237.0,258.1 237.5,260.6 238.0,262.4 238.5,263.1 238.9,262.5 239.3,260.2 239.6,256.3 240.0,251.5 240.3,246.0 240.6,240.4 240.9,235.2 241.2,229.8 241.6,223.9 241.9,217.8 242.2,212.1 242.6,207.2 242.9,203.6 243.2,201.2 243.5,199.6 243.8,198.9 244.1,198.9 244.4,199.7 244.7,201.3 245.0,203.9 245.4,207.6 245.7,212.0 246.0,216.9 246.4,221.9 246.7,226.6 247.0,231.5 247.4,236.9 247.7,242.3 248.0,247.5 248.3,252.0 248.7,255.3 249.1,257.3 249.4,258.3 249.8,258.6 250.2,258.5 250.6,258.3 251.0,258.2 251.4,258.1 251.8,257.8 252.2,257.4 252.7,257.0 253.1,256.6 253.5,256.5 253.9,256.9 254.4,257.7 254.8,258.7 255.3,259.3 255.7,259.3 256.1,258.2 256.5,255.8 256.8,252.5 257.2,248.5 257.5,244.1 257.8,239.6 258.1,235.2 258.4,230.6 258.6,225.5 258.9,220.2 259.1,215.3 259.4,211.0 259.6,207.9 259.8,205.9 260.1,204.6 260.3,204.1 260.5,204.2 260.7,204.8 261.0,205.9 261.3,207.6 261.6,210.0 261.9,213.0 262.3,216.3 262.6,220.0 263.0,223.7 263.4,228.1 263.7,233.5 264.1,239.1 264.5,244.3 264.9,248.5 265.3,251.0 265.8,251.3 266.2,249.9 266.8,247.4 267.3,244.6 267.7,242.2 268.2,240.9 268.6,240.9 269.0,241.5 269.4,242.6 269.8,243.8 270.1,244.7 270.5,245.2 270.9,245.3 271.2,245.4 271.6,245.2 271.9,244.8 272.2,243.9 272.5,242.4 272.8,240.2 273.0,237.2 273.2,233.9 273.4,230.3 273.6,226.8 273.9,223.7 274.2,220.7 274.6,217.5 275.0,214.4 275.4,211.6 275.8,209.3 276.2,207.9 276.6,207.4 277.1,207.6 277.6,208.3 278.1,209.5 278.6,210.8 279.1,212.2 279.6,213.7 280.1,215.4 280.6,217.3 281.1,219.4 281.5,221.5 282.0,223.7 282.5,226.1 283.0,228.8 283.5,231.6 283.9,234.3 284.3,236.5 284.6,238.1" fill="none" stroke="#3a9fd0" stroke-width="1.1" stroke-linejoin="round"/>
<rect x="173" y="182.2" width="112.2" height="104.4" fill="none" stroke="#2a2a2a" stroke-width="1.35"/>
<line x1="173.0" y1="286.6" x2="173.0" y2="284.1" stroke="#222" stroke-width="0.8"/>
<line x1="217.7" y1="286.6" x2="217.7" y2="284.1" stroke="#222" stroke-width="0.8"/>
<line x1="262.4" y1="286.6" x2="262.4" y2="284.1" stroke="#222" stroke-width="0.8"/>
<line x1="195.3" y1="286.6" x2="195.3" y2="285.1" stroke="#222" stroke-width="0.8"/>
<line x1="240.0" y1="286.6" x2="240.0" y2="285.1" stroke="#222" stroke-width="0.8"/>
<line x1="284.8" y1="286.6" x2="284.8" y2="285.1" stroke="#222" stroke-width="0.8"/>
<line x1="173" y1="280.3" x2="175.5" y2="280.3" stroke="#222" stroke-width="0.8"/>
<line x1="173" y1="247.7" x2="175.5" y2="247.7" stroke="#222" stroke-width="0.8"/>
<line x1="173" y1="215.1" x2="175.5" y2="215.1" stroke="#222" stroke-width="0.8"/>
<line x1="173" y1="182.5" x2="175.5" y2="182.5" stroke="#222" stroke-width="0.8"/>
<line x1="173" y1="264.0" x2="174.5" y2="264.0" stroke="#222" stroke-width="0.8"/>
<line x1="173" y1="231.4" x2="174.5" y2="231.4" stroke="#222" stroke-width="0.8"/>
<line x1="173" y1="198.8" x2="174.5" y2="198.8" stroke="#222" stroke-width="0.8"/>
<text x="173.0" y="296.6" font-size="7.6" text-anchor="middle">124.2</text>
<text x="217.7" y="296.6" font-size="7.6" text-anchor="middle">124.4</text>
<text x="262.4" y="296.6" font-size="7.6" text-anchor="middle">124.6</text>
<text x="170" y="283.0" font-size="7.6" text-anchor="end">0</text>
<text x="170" y="250.4" font-size="7.6" text-anchor="end">1</text>
<text x="170" y="217.8" font-size="7.6" text-anchor="end">2</text>
<text x="170" y="185.2" font-size="7.6" text-anchor="end">3</text>
<text x="229" y="306.3" font-size="8.4" text-anchor="middle">Time(min)</text>
<text transform="translate(162.6,233.3) rotate(-90)" font-size="9.2" text-anchor="middle">Output Voltage(V)</text>
<text x="155.6" y="174.8" font-size="9.4" font-weight="bold">(c)</text>
<text x="230.7" y="178" font-size="8" text-anchor="middle" class="cj">⑥</text>
<polyline points="321.0,214.6 321.7,214.6 322.4,214.3 323.1,213.7 323.8,212.7 324.5,213.7 325.2,213.5 325.9,213.6 326.6,213.3 327.3,213.3 328.0,214.2 328.7,212.6 329.4,213.5 330.1,214.4 330.8,212.9 331.5,212.7 332.2,213.2 332.9,213.1 333.6,213.5 334.3,214.3 335.0,213.1 335.7,213.6 336.4,212.7 337.1,212.8 337.8,213.3 338.5,212.6 339.2,213.9 339.9,212.7 340.6,212.9 341.3,212.2 342.0,212.6 342.7,212.2 343.4,212.5 344.1,211.6 344.8,212.9 345.5,214.1 346.2,211.5 346.9,214.1 347.6,212.7 348.3,213.4 349.0,212.0 349.7,214.3 350.4,212.0 351.1,212.7 351.8,213.9 352.5,211.8 353.2,211.0 353.9,212.6 354.6,212.1 355.3,211.9 356.0,212.0 356.7,211.5 357.4,213.6 358.1,213.5 358.8,211.5 359.5,212.5 360.2,212.2 360.9,213.3 361.6,211.8 362.3,213.6 363.0,212.4 363.7,211.7 364.4,212.2 365.1,211.8 365.8,213.9 366.5,212.3 367.2,211.7 367.9,212.1 368.6,213.1 369.3,211.2 370.0,210.7 370.7,212.8 371.4,212.3 372.1,211.4 372.8,211.7 373.5,212.5 374.2,209.6 374.9,212.6 375.6,211.5 376.3,212.1 377.0,211.5 377.7,213.8 378.4,211.0 379.1,212.3 379.8,209.6 380.5,211.5 381.2,212.1 381.9,210.4 382.6,210.1 383.3,211.7 384.0,212.4 384.7,212.6 385.4,211.2 386.1,212.1 386.8,210.8 387.5,213.2 388.2,211.6 388.9,213.0 389.6,212.0 390.3,212.0 391.0,213.6 391.7,211.9 392.4,213.6 393.1,212.5 393.8,212.3 394.5,212.6 395.2,214.5 395.9,215.9 396.6,213.5 397.3,212.0 398.0,213.6 398.7,213.4 399.4,212.7 400.1,212.9 400.8,209.8 401.5,211.8 402.2,212.2 402.9,212.1 403.6,211.6 404.3,212.1 405.0,211.3 405.7,211.3 406.4,210.8 407.1,211.8 407.8,211.2 408.5,211.3 409.2,212.7 409.9,211.6 410.6,211.6 411.3,210.4 412.0,211.2 412.7,212.3 413.4,211.9 414.1,211.6 414.8,211.4 415.5,211.6 416.2,211.9 416.9,211.4 417.6,209.8 418.3,213.2 419.0,212.7 419.7,211.8 420.4,213.2 421.1,211.5 421.8,214.1 422.5,214.9 423.2,219.2 423.9,215.2 424.6,214.2 425.3,213.8 426.0,213.8 426.7,213.1 427.4,212.9 428.1,211.9 428.8,213.5 429.5,212.2 430.2,211.7 430.9,211.5 431.6,210.7 432.3,211.0 433.0,210.3 433.7,211.5 434.4,211.2 435.1,211.3 435.8,210.2 436.5,210.7 437.2,210.5 437.9,211.6 438.6,209.7 439.3,209.6 440.0,211.7 440.7,211.0 441.4,209.5 442.1,211.6 442.8,211.7 443.5,211.4 444.2,209.0 444.9,210.6 445.6,209.9 446.3,210.3 447.0,209.4 447.7,211.9 448.4,210.1 449.1,210.9 449.8,211.3 450.5,211.2 451.2,211.1 451.9,210.5 452.6,211.0 453.3,210.7 454.0,209.2 454.7,211.7 455.4,210.5 456.1,210.6 456.8,210.7 457.5,210.0 458.2,210.1 458.9,209.7 459.6,211.4 460.3,211.9 461.0,211.0 461.7,210.0 462.4,211.8 463.1,210.5 463.8,209.4 464.5,209.1 465.2,210.6 465.9,211.4 466.6,209.9 467.3,209.6 468.0,209.7 468.7,209.1 469.4,209.3 470.1,209.8 470.8,208.9 471.5,210.1 472.2,208.7 472.9,209.9 473.6,209.6 474.3,209.1 475.0,209.2 475.7,209.2 476.4,210.8 477.1,208.9 477.8,210.5 478.5,210.4 479.2,209.5 479.9,211.0 480.6,208.1 481.3,210.1 482.0,210.1 482.7,210.0 483.4,210.5 484.1,209.7 484.8,209.4 485.5,210.9 486.2,215.7 486.9,231.6 487.6,246.4 488.3,241.0 489.0,229.6 489.7,224.7 490.4,221.1 491.1,219.3 491.8,218.9 492.5,218.9 493.2,219.5 493.9,219.2 494.6,222.0 495.3,221.6 496.0,221.5 496.7,221.7 497.4,219.9 498.1,222.7 498.8,221.6 499.5,223.2 500.2,222.4 500.9,224.6 501.6,224.5 502.3,226.3 503.0,228.1 503.7,224.8 504.4,219.0 505.1,217.4 505.8,217.1 506.5,217.6 507.2,220.3 507.9,221.2 508.6,222.5 509.3,225.4 510.0,226.9 510.7,225.7 511.4,222.7 512.1,220.7 512.8,218.4 513.5,217.2 514.2,217.4 514.9,216.5 515.6,216.0 516.3,215.9 517.0,216.9 517.7,217.2 518.4,216.9 519.1,214.6 519.8,216.5 520.5,214.7 521.2,215.1 521.9,215.7 522.6,214.2 523.3,214.2 524.0,214.4 524.7,216.2 525.4,215.7 526.1,214.1 526.8,214.9 527.5,215.0 528.2,215.3 528.9,214.7 529.6,216.6 530.3,215.6 531.0,216.9 531.7,215.5 532.4,217.6 533.1,218.3 533.8,220.5 534.5,219.9 535.2,225.6 535.9,226.1 536.6,221.6 537.3,220.0 538.0,218.3 538.7,215.4 539.4,214.2" fill="none" stroke="#eeaa70" stroke-width="1.1" stroke-linejoin="round"/>
<polyline points="321.0,227.0 321.7,226.1 322.4,226.5 323.1,225.7 323.8,224.6 324.5,224.0 325.2,225.5 325.9,224.8 326.6,223.6 327.3,223.9 328.0,224.8 328.7,222.1 329.4,222.5 330.1,223.5 330.8,223.3 331.5,221.6 332.2,221.4 332.9,220.9 333.6,223.7 334.3,229.1 335.0,234.8 335.7,242.7 336.4,242.6 337.1,238.2 337.8,232.5 338.5,231.5 339.2,233.8 339.9,241.0 340.6,246.9 341.3,248.1 342.0,245.3 342.7,241.4 343.4,235.9 344.1,234.8 344.8,233.5 345.5,234.4 346.2,232.5 346.9,231.2 347.6,232.1 348.3,231.3 349.0,231.0 349.7,230.8 350.4,229.8 351.1,228.8 351.8,231.2 352.5,229.1 353.2,228.0 353.9,228.7 354.6,228.7 355.3,226.0 356.0,226.5 356.7,226.7 357.4,225.5 358.1,226.1 358.8,224.5 359.5,224.7 360.2,224.8 360.9,225.0 361.6,224.5 362.3,223.7 363.0,223.7 363.7,222.2 364.4,225.2 365.1,223.1 365.8,222.9 366.5,223.2 367.2,223.2 367.9,222.8 368.6,221.9 369.3,221.0 370.0,221.9 370.7,221.3 371.4,221.3 372.1,221.6 372.8,221.6 373.5,222.2 374.2,221.0 374.9,219.6 375.6,221.2 376.3,221.4 377.0,219.3 377.7,220.8 378.4,220.4 379.1,219.7 379.8,220.2 380.5,220.2 381.2,220.3 381.9,220.6 382.6,219.6 383.3,219.6 384.0,221.3 384.7,218.6 385.4,219.2 386.1,219.1 386.8,219.9 387.5,220.1 388.2,218.2 388.9,220.1 389.6,218.2 390.3,221.1 391.0,218.6 391.7,219.9 392.4,218.8 393.1,219.5 393.8,218.4 394.5,219.0 395.2,218.9 395.9,218.9 396.6,219.4 397.3,218.5 398.0,218.5 398.7,217.7 399.4,218.5 400.1,218.2 400.8,219.2 401.5,219.0 402.2,217.8 402.9,218.6 403.6,219.2 404.3,218.0 405.0,217.2 405.7,219.8 406.4,218.3 407.1,218.3 407.8,219.6 408.5,217.0 409.2,217.7 409.9,216.0 410.6,217.7 411.3,217.5 412.0,216.6 412.7,216.4 413.4,216.8 414.1,216.7 414.8,218.0 415.5,216.6 416.2,216.5 416.9,216.4 417.6,215.2 418.3,215.9 419.0,215.3 419.7,216.5 420.4,215.3 421.1,217.1 421.8,219.7 422.5,219.1 423.2,219.7 423.9,219.3 424.6,216.0 425.3,216.3 426.0,216.2 426.7,215.0 427.4,214.4 428.1,216.6 428.8,215.0 429.5,215.7 430.2,214.7 430.9,215.5 431.6,214.2 432.3,214.1 433.0,214.3 433.7,214.6 434.4,214.6 435.1,214.8 435.8,215.4 436.5,214.7 437.2,215.8 437.9,214.5 438.6,215.5 439.3,216.0 440.0,216.3 440.7,213.5 441.4,216.3 442.1,213.6 442.8,216.0 443.5,214.9 444.2,215.1 444.9,214.1 445.6,215.5 446.3,215.3 447.0,214.4 447.7,214.3 448.4,215.4 449.1,215.5 449.8,215.3 450.5,214.4 451.2,214.7 451.9,215.4 452.6,215.3 453.3,215.5 454.0,214.7 454.7,214.1 455.4,214.8 456.1,214.9 456.8,214.2 457.5,214.9 458.2,214.0 458.9,214.8 459.6,214.1 460.3,216.2 461.0,215.5 461.7,214.8 462.4,213.7 463.1,213.8 463.8,215.3 464.5,214.7 465.2,215.1 465.9,213.8 466.6,214.0 467.3,215.6 468.0,216.0 468.7,212.7 469.4,212.9 470.1,214.0 470.8,213.1 471.5,213.8 472.2,214.7 472.9,213.7 473.6,213.6 474.3,213.1 475.0,214.4 475.7,212.4 476.4,212.6 477.1,213.4 477.8,212.2 478.5,214.0 479.2,212.7 479.9,213.5 480.6,212.8 481.3,212.8 482.0,213.0 482.7,211.5 483.4,212.1 484.1,212.7 484.8,215.0 485.5,215.3 486.2,215.5 486.9,214.1 487.6,215.3 488.3,215.3 489.0,214.7 489.7,216.0 490.4,213.0 491.1,213.3 491.8,214.0 492.5,213.7 493.2,214.7 493.9,215.3 494.6,215.4 495.3,216.1 496.0,217.1 496.7,218.0 497.4,217.2 498.1,217.3 498.8,218.7 499.5,217.5 500.2,217.5 500.9,219.5 501.6,220.3 502.3,221.1 503.0,220.5 503.7,220.5 504.4,220.9 505.1,220.4 505.8,220.9 506.5,223.5 507.2,222.0 507.9,221.0 508.6,219.1 509.3,218.2 510.0,215.5 510.7,213.2 511.4,215.5 512.1,218.2 512.8,222.2 513.5,223.0 514.2,223.2 514.9,222.9 515.6,224.9 516.3,227.0 517.0,227.9 517.7,229.6 518.4,228.7 519.1,227.2 519.8,225.3 520.5,225.9 521.2,231.5 521.9,238.3 522.6,251.1 523.3,251.9 524.0,241.9 524.7,236.0 525.4,232.9 526.1,232.2 526.8,230.3 527.5,229.6 528.2,228.2 528.9,226.4 529.6,227.7 530.3,226.5 531.0,226.7 531.7,227.8 532.4,228.4 533.1,230.1 533.8,232.3 534.5,231.2 535.2,232.0 535.9,229.4 536.6,227.9 537.3,226.4 538.0,226.1 538.7,227.2 539.4,226.4" fill="none" stroke="#3a9fd0" stroke-width="1.1" stroke-linejoin="round"/>
<rect x="321" y="182.2" width="218.8" height="104.4" fill="none" stroke="#2a2a2a" stroke-width="1.35"/>
<line x1="321.0" y1="286.6" x2="321.0" y2="284.1" stroke="#222" stroke-width="0.8"/>
<line x1="357.5" y1="286.6" x2="357.5" y2="284.1" stroke="#222" stroke-width="0.8"/>
<line x1="393.9" y1="286.6" x2="393.9" y2="284.1" stroke="#222" stroke-width="0.8"/>
<line x1="430.4" y1="286.6" x2="430.4" y2="284.1" stroke="#222" stroke-width="0.8"/>
<line x1="466.9" y1="286.6" x2="466.9" y2="284.1" stroke="#222" stroke-width="0.8"/>
<line x1="503.3" y1="286.6" x2="503.3" y2="284.1" stroke="#222" stroke-width="0.8"/>
<line x1="539.8" y1="286.6" x2="539.8" y2="284.1" stroke="#222" stroke-width="0.8"/>
<line x1="339.2" y1="286.6" x2="339.2" y2="285.1" stroke="#222" stroke-width="0.8"/>
<line x1="375.7" y1="286.6" x2="375.7" y2="285.1" stroke="#222" stroke-width="0.8"/>
<line x1="412.2" y1="286.6" x2="412.2" y2="285.1" stroke="#222" stroke-width="0.8"/>
<line x1="448.6" y1="286.6" x2="448.6" y2="285.1" stroke="#222" stroke-width="0.8"/>
<line x1="485.1" y1="286.6" x2="485.1" y2="285.1" stroke="#222" stroke-width="0.8"/>
<line x1="521.6" y1="286.6" x2="521.6" y2="285.1" stroke="#222" stroke-width="0.8"/>
<line x1="321" y1="267.5" x2="323.5" y2="267.5" stroke="#222" stroke-width="0.8"/>
<line x1="321" y1="229.5" x2="323.5" y2="229.5" stroke="#222" stroke-width="0.8"/>
<line x1="321" y1="191.5" x2="323.5" y2="191.5" stroke="#222" stroke-width="0.8"/>
<line x1="321" y1="286.5" x2="322.5" y2="286.5" stroke="#222" stroke-width="0.8"/>
<line x1="321" y1="248.5" x2="322.5" y2="248.5" stroke="#222" stroke-width="0.8"/>
<line x1="321" y1="210.5" x2="322.5" y2="210.5" stroke="#222" stroke-width="0.8"/>
<text x="321.0" y="296.6" font-size="7.6" text-anchor="middle">58.5</text>
<text x="357.5" y="296.6" font-size="7.6" text-anchor="middle">59.0</text>
<text x="393.9" y="296.6" font-size="7.6" text-anchor="middle">59.5</text>
<text x="430.4" y="296.6" font-size="7.6" text-anchor="middle">60.0</text>
<text x="466.9" y="296.6" font-size="7.6" text-anchor="middle">60.5</text>
<text x="503.3" y="296.6" font-size="7.6" text-anchor="middle">61.0</text>
<text x="539.8" y="296.6" font-size="7.6" text-anchor="middle">61.5</text>
<text x="318.4" y="270.2" font-size="7.6" text-anchor="end">2.44</text>
<text x="318.4" y="232.2" font-size="7.6" text-anchor="end">2.48</text>
<text x="318.4" y="194.2" font-size="7.6" text-anchor="end">2.52</text>
<text x="438.5" y="304" font-size="8.1" text-anchor="middle">Time(min)</text>
<text transform="translate(299.2,228.7) rotate(-90)" font-size="8.4" text-anchor="middle">Output Voltage(V)</text>
<text x="295.3" y="174.8" font-size="9.4" font-weight="bold">(d)</text>
<text x="432.3" y="177.7" font-size="8.2" text-anchor="middle">Breathing Event</text>
</svg>
</body></html>
